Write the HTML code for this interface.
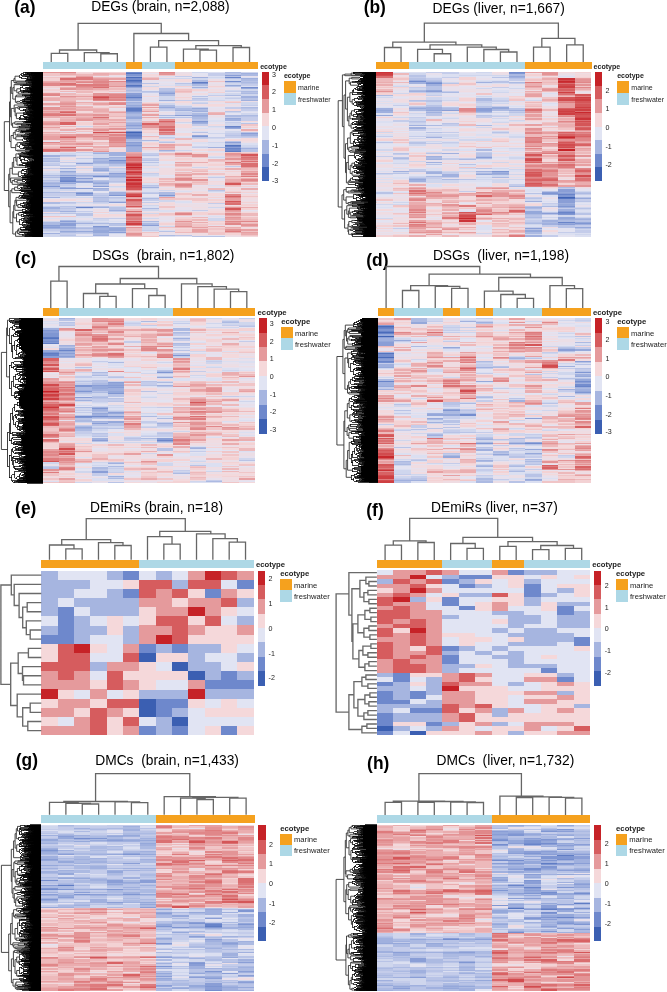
<!DOCTYPE html><html><head><meta charset="utf-8"><style>html,body{margin:0;padding:0;background:#fff}svg{display:block;will-change:transform}text{font-family:"Liberation Sans", sans-serif}</style></head><body><svg width="667" height="992" viewBox="0 0 667 992" shape-rendering="crispEdges"><rect width="667" height="992" fill="#fff"/><g id="pa"><text transform="translate(14.2 13.45) scale(1 1.035)" font-size="17.4" font-weight="bold">(a)</text><text x="91.2" y="10.8" font-size="13.8" xml:space="preserve">DEGs (brain, n=2,088)</text><path fill="none" stroke="#666" stroke-width="1.3" shape-rendering="auto" d="M51.26 62V53.3H67.78V62M100.83 62V53.75H117.35V62M84.31 62V52.6H109.09V53.75M59.52 53.3V50H96.7V52.6M150.4 62V47.2H166.92V62M199.97 62V50.1H216.49V62M183.45 62V49.1H208.23V50.1M233.02 62V47.5H249.54V62M195.84 49.1V45.6H241.28V47.5M158.66 47.2V40.7H218.56V45.6M133.88 62V33.5H188.61V40.7M78.11 50V23.3H161.24V33.5"/><rect x="43" y="62" width="16.82" height="7.1" fill="#add8e6"/><rect x="59.52" y="62" width="16.82" height="7.1" fill="#add8e6"/><rect x="76.05" y="62" width="16.82" height="7.1" fill="#add8e6"/><rect x="92.57" y="62" width="16.82" height="7.1" fill="#add8e6"/><rect x="109.09" y="62" width="16.82" height="7.1" fill="#add8e6"/><rect x="125.62" y="62" width="16.82" height="7.1" fill="#f5a11e"/><rect x="142.14" y="62" width="16.82" height="7.1" fill="#add8e6"/><rect x="158.66" y="62" width="16.82" height="7.1" fill="#add8e6"/><rect x="175.18" y="62" width="16.82" height="7.1" fill="#f5a11e"/><rect x="191.71" y="62" width="16.82" height="7.1" fill="#f5a11e"/><rect x="208.23" y="62" width="16.82" height="7.1" fill="#f5a11e"/><rect x="224.75" y="62" width="16.82" height="7.1" fill="#f5a11e"/><rect x="241.28" y="62" width="16.82" height="7.1" fill="#f5a11e"/><g transform="translate(43 72) scale(16.5231 1.2492)"><path fill="#4063b5" d="M5 48h1v1.15h-1z"/><path fill="#4a6bba" d="M5 4h1v1.15h-1zM5 6h1v1.15h-1z"/><path fill="#5474bf" d="M5 1h1v1.15h-1zM5 10h1v1.15h-1zM11 58h1v1.15h-1z"/><path fill="#5f7cc4" d="M5 7h1v1.15h-1zM5 20h1v1.15h-1zM5 29h1v2.15h-1zM5 50h1v1.15h-1zM9 8h1v1.15h-1zM11 63h1v1.15h-1z"/><path fill="#6984c9" d="M1 87h1v1.15h-1zM2 108h1v1.15h-1zM5 11h1v1.15h-1zM5 49h1v1.15h-1zM5 51h1v1.15h-1zM11 4h1v1.15h-1zM11 43h1v1.15h-1zM11 59h1v1.15h-1zM11 61h1v1.15h-1z"/><path fill="#748dce" d="M1 84h1v1.15h-1zM1 86h1v1.15h-1zM2 97h1v1.15h-1zM3 83h1v1.15h-1zM4 70h1v1.15h-1zM5 0h1v1.15h-1zM5 5h1v1.15h-1zM5 8h1v1.15h-1zM5 31h1v1.15h-1zM5 52h1v1.15h-1zM11 7h1v1.15h-1zM11 62h1v1.15h-1zM12 12h1v1.15h-1z"/><path fill="#7f96d2" d="M0 91h1v1.15h-1zM1 85h1v1.15h-1zM3 123h1v1.15h-1zM4 98h1v1.15h-1zM5 2h1v1.15h-1zM5 18h1v2.15h-1zM5 28h1v1.15h-1zM5 47h1v1.15h-1zM5 53h1v1.15h-1zM5 58h1v1.15h-1zM7 98h1v1.15h-1zM9 9h1v1.15h-1zM9 39h1v1.15h-1zM9 51h1v1.15h-1zM11 44h1v1.15h-1z"/><path fill="#8a9ed6" d="M0 122h1v1.15h-1zM0 124h1v1.15h-1zM1 82h1v1.15h-1zM1 93h1v1.15h-1zM1 119h1v1.15h-1zM1 121h1v2.15h-1zM2 73h1v1.15h-1zM2 85h1v1.15h-1zM2 87h1v1.15h-1zM2 93h1v1.15h-1zM3 91h1v1.15h-1zM4 81h1v1.15h-1zM4 104h1v1.15h-1zM4 128h1v1.15h-1zM5 9h1v1.15h-1zM5 17h1v1.15h-1zM5 21h1v1.15h-1zM5 42h1v1.15h-1zM5 56h1v1.15h-1zM6 122h1v1.15h-1zM7 17h1v1.15h-1zM8 34h1v1.15h-1zM11 2h1v1.15h-1zM11 56h1v1.15h-1zM11 60h1v1.15h-1zM12 49h1v1.15h-1z"/><path fill="#95a8da" d="M0 123h1v1.15h-1zM1 79h1v1.15h-1zM1 89h1v1.15h-1zM1 124h1v1.15h-1zM1 127h1v1.15h-1zM2 88h1v1.15h-1zM2 96h1v1.15h-1zM2 98h1v1.15h-1zM2 127h1v1.15h-1zM3 69h1v1.15h-1zM3 78h1v1.15h-1zM3 89h1v1.15h-1zM3 124h1v1.15h-1zM3 126h1v3.15h-1zM4 71h1v2.15h-1zM4 83h1v1.15h-1zM4 125h1v2.15h-1zM5 3h1v1.15h-1zM5 12h1v1.15h-1zM5 22h1v1.15h-1zM5 26h1v1.15h-1zM5 32h1v1.15h-1zM5 36h1v2.15h-1zM5 45h1v1.15h-1zM5 57h1v1.15h-1zM5 59h1v1.15h-1zM7 28h1v1.15h-1zM9 29h1v1.15h-1zM9 34h1v1.15h-1zM9 40h1v1.15h-1zM9 50h1v1.15h-1zM11 10h1v1.15h-1zM11 37h1v1.15h-1zM11 45h1v1.15h-1zM12 13h1v1.15h-1z"/><path fill="#a0b0de" d="M0 66h1v2.15h-1zM0 89h1v1.15h-1zM0 100h1v1.15h-1zM0 108h1v2.15h-1zM0 125h1v1.15h-1zM0 129h1v1.15h-1zM1 77h1v1.15h-1zM1 88h1v1.15h-1zM1 92h1v1.15h-1zM1 111h1v1.15h-1zM1 125h1v1.15h-1zM2 82h1v1.15h-1zM2 121h1v1.15h-1zM3 65h1v1.15h-1zM3 71h1v2.15h-1zM3 77h1v1.15h-1zM3 82h1v1.15h-1zM3 88h1v1.15h-1zM3 93h1v1.15h-1zM3 108h1v1.15h-1zM3 125h1v1.15h-1zM3 130h1v1.15h-1zM4 64h1v3.15h-1zM4 68h1v1.15h-1zM4 73h1v1.15h-1zM4 82h1v1.15h-1zM4 96h1v2.15h-1zM4 110h1v1.15h-1zM4 124h1v1.15h-1zM5 24h1v1.15h-1zM5 27h1v1.15h-1zM5 33h1v1.15h-1zM5 35h1v1.15h-1zM5 41h1v1.15h-1zM5 43h1v1.15h-1zM5 60h1v4.15h-1zM6 92h1v1.15h-1zM7 16h1v1.15h-1zM7 22h1v1.15h-1zM7 62h1v1.15h-1zM8 30h1v1.15h-1zM9 4h1v1.15h-1zM9 12h1v1.15h-1zM9 31h1v1.15h-1zM9 35h1v1.15h-1zM9 41h1v1.15h-1zM10 60h1v1.15h-1zM11 38h1v1.15h-1zM12 1h1v1.15h-1zM12 5h1v1.15h-1zM12 19h1v2.15h-1zM12 22h1v1.15h-1zM12 50h1v1.15h-1zM12 61h1v1.15h-1z"/><path fill="#acbae2" d="M0 69h1v1.15h-1zM0 71h1v1.15h-1zM0 82h1v1.15h-1zM0 84h1v1.15h-1zM0 88h1v1.15h-1zM0 90h1v1.15h-1zM0 96h1v1.15h-1zM0 104h1v2.15h-1zM0 120h1v2.15h-1zM1 66h1v1.15h-1zM1 80h1v1.15h-1zM1 83h1v1.15h-1zM1 96h1v1.15h-1zM1 118h1v1.15h-1zM1 120h1v1.15h-1zM1 123h1v1.15h-1zM1 128h1v1.15h-1zM2 83h1v1.15h-1zM2 125h1v1.15h-1zM3 70h1v1.15h-1zM3 73h1v1.15h-1zM3 87h1v1.15h-1zM3 94h1v1.15h-1zM3 100h1v1.15h-1zM3 103h1v1.15h-1zM3 121h1v1.15h-1zM3 129h1v1.15h-1zM4 69h1v1.15h-1zM4 84h1v1.15h-1zM4 121h1v1.15h-1zM4 127h1v1.15h-1zM5 14h1v1.15h-1zM5 25h1v1.15h-1zM5 34h1v1.15h-1zM5 40h1v1.15h-1zM5 44h1v1.15h-1zM5 54h1v1.15h-1zM6 54h1v1.15h-1zM6 101h1v1.15h-1zM6 109h1v1.15h-1zM6 119h1v1.15h-1zM6 121h1v1.15h-1zM7 15h1v1.15h-1zM7 18h1v1.15h-1zM7 26h1v2.15h-1zM7 34h1v1.15h-1zM7 36h1v1.15h-1zM7 96h1v2.15h-1zM7 130h1v1.15h-1zM8 29h1v1.15h-1zM9 6h1v2.15h-1zM9 10h1v1.15h-1zM9 30h1v1.15h-1zM9 33h1v1.15h-1zM9 36h1v2.15h-1zM11 0h1v1.15h-1zM11 18h1v1.15h-1zM11 34h1v2.15h-1zM11 57h1v1.15h-1zM12 2h1v1.15h-1zM12 6h1v1.15h-1zM12 8h1v1.15h-1zM12 15h1v1.15h-1zM12 17h1v1.15h-1zM12 28h1v1.15h-1zM12 34h1v1.15h-1z"/><path fill="#b8c3e6" d="M0 70h1v1.15h-1zM0 74h1v1.15h-1zM0 86h1v1.15h-1zM0 92h1v2.15h-1zM0 110h1v2.15h-1zM1 81h1v1.15h-1zM1 104h1v1.15h-1zM1 107h1v1.15h-1zM1 109h1v1.15h-1zM1 113h1v1.15h-1zM1 126h1v1.15h-1zM1 130h1v1.15h-1zM2 86h1v1.15h-1zM2 107h1v1.15h-1zM2 113h1v2.15h-1zM2 124h1v1.15h-1zM2 128h1v1.15h-1zM3 64h1v1.15h-1zM3 79h1v1.15h-1zM3 86h1v1.15h-1zM3 90h1v1.15h-1zM3 98h1v1.15h-1zM3 101h1v2.15h-1zM3 107h1v1.15h-1zM4 74h1v1.15h-1zM4 87h1v1.15h-1zM4 100h1v1.15h-1zM4 103h1v1.15h-1zM4 108h1v2.15h-1zM4 122h1v1.15h-1zM5 13h1v1.15h-1zM5 15h1v1.15h-1zM5 38h1v1.15h-1zM5 55h1v1.15h-1zM6 9h1v1.15h-1zM6 15h1v1.15h-1zM6 66h1v1.15h-1zM6 70h1v1.15h-1zM6 72h1v1.15h-1zM6 90h1v1.15h-1zM6 97h1v1.15h-1zM7 13h1v2.15h-1zM7 29h1v1.15h-1zM7 56h1v1.15h-1zM7 99h1v1.15h-1zM7 127h1v1.15h-1zM8 9h1v1.15h-1zM8 36h1v1.15h-1zM8 130h1v1.15h-1zM9 19h1v1.15h-1zM9 21h1v1.15h-1zM9 38h1v1.15h-1zM9 48h1v1.15h-1zM9 52h1v1.15h-1zM9 131h1v1.15h-1zM10 94h1v1.15h-1zM10 131h1v1.15h-1zM11 1h1v1.15h-1zM11 3h1v1.15h-1zM11 5h1v1.15h-1zM11 8h1v1.15h-1zM11 11h1v1.15h-1zM11 31h1v1.15h-1zM11 50h1v1.15h-1zM11 55h1v1.15h-1zM12 7h1v1.15h-1zM12 9h1v1.15h-1zM12 16h1v1.15h-1zM12 21h1v1.15h-1zM12 29h1v1.15h-1zM12 35h1v1.15h-1zM12 41h1v1.15h-1zM12 48h1v1.15h-1zM12 51h1v1.15h-1zM12 62h1v2.15h-1z"/><path fill="#c4ccea" d="M0 73h1v1.15h-1zM0 77h1v1.15h-1zM0 83h1v1.15h-1zM0 87h1v1.15h-1zM0 97h1v2.15h-1zM0 107h1v1.15h-1zM0 113h1v1.15h-1zM0 126h1v1.15h-1zM1 67h1v1.15h-1zM1 72h1v1.15h-1zM1 74h1v2.15h-1zM1 90h1v1.15h-1zM1 97h1v2.15h-1zM1 105h1v1.15h-1zM1 108h1v1.15h-1zM1 110h1v1.15h-1zM1 129h1v1.15h-1zM2 64h1v1.15h-1zM2 69h1v1.15h-1zM2 72h1v1.15h-1zM2 74h1v1.15h-1zM2 81h1v1.15h-1zM2 84h1v1.15h-1zM2 111h1v1.15h-1zM2 120h1v1.15h-1zM2 126h1v1.15h-1zM2 129h1v1.15h-1zM3 75h1v2.15h-1zM3 81h1v1.15h-1zM3 84h1v1.15h-1zM3 97h1v1.15h-1zM3 99h1v1.15h-1zM3 104h1v1.15h-1zM3 117h1v1.15h-1zM4 77h1v1.15h-1zM4 79h1v2.15h-1zM4 85h1v2.15h-1zM4 88h1v1.15h-1zM4 101h1v1.15h-1zM4 111h1v1.15h-1zM4 117h1v1.15h-1zM5 16h1v1.15h-1zM5 23h1v1.15h-1zM5 39h1v1.15h-1zM5 46h1v1.15h-1zM6 16h1v1.15h-1zM6 65h1v1.15h-1zM6 69h1v1.15h-1zM6 81h1v1.15h-1zM6 91h1v1.15h-1zM6 96h1v1.15h-1zM6 102h1v1.15h-1zM6 104h1v1.15h-1zM6 126h1v1.15h-1zM7 30h1v1.15h-1zM7 52h1v1.15h-1zM7 63h1v1.15h-1zM8 3h1v1.15h-1zM8 22h1v1.15h-1zM8 27h1v2.15h-1zM8 32h1v2.15h-1zM9 22h1v1.15h-1zM9 25h1v1.15h-1zM9 28h1v1.15h-1zM9 42h1v1.15h-1zM9 53h1v1.15h-1zM9 60h1v1.15h-1zM9 110h1v1.15h-1zM10 1h1v2.15h-1zM10 18h1v1.15h-1zM10 52h1v1.15h-1zM10 84h1v1.15h-1zM10 105h1v1.15h-1zM11 15h1v1.15h-1zM11 21h1v1.15h-1zM11 28h1v2.15h-1zM11 36h1v1.15h-1zM11 40h1v1.15h-1zM11 49h1v1.15h-1zM11 51h1v2.15h-1zM11 75h1v1.15h-1zM12 10h1v1.15h-1zM12 26h1v1.15h-1zM12 30h1v1.15h-1zM12 36h1v3.15h-1zM12 52h1v1.15h-1zM12 60h1v1.15h-1z"/><path fill="#cfd6ed" d="M0 68h1v1.15h-1zM0 72h1v1.15h-1zM0 81h1v1.15h-1zM0 85h1v1.15h-1zM0 94h1v2.15h-1zM0 99h1v1.15h-1zM0 119h1v1.15h-1zM0 127h1v1.15h-1zM0 130h1v2.15h-1zM1 65h1v1.15h-1zM1 78h1v1.15h-1zM1 91h1v1.15h-1zM1 94h1v1.15h-1zM1 99h1v2.15h-1zM1 112h1v1.15h-1zM1 131h1v1.15h-1zM2 43h1v1.15h-1zM2 66h1v1.15h-1zM2 77h1v1.15h-1zM2 100h1v1.15h-1zM2 104h1v1.15h-1zM2 109h1v1.15h-1zM2 119h1v1.15h-1zM2 122h1v1.15h-1zM2 131h1v1.15h-1zM3 66h1v3.15h-1zM3 74h1v1.15h-1zM3 105h1v1.15h-1zM3 118h1v1.15h-1zM3 120h1v1.15h-1zM3 122h1v1.15h-1zM4 67h1v1.15h-1zM4 75h1v1.15h-1zM4 78h1v1.15h-1zM4 91h1v1.15h-1zM4 95h1v1.15h-1zM4 102h1v1.15h-1zM4 107h1v1.15h-1zM4 129h1v1.15h-1zM6 11h1v1.15h-1zM6 74h1v1.15h-1zM6 82h1v1.15h-1zM6 93h1v1.15h-1zM6 100h1v1.15h-1zM6 106h1v1.15h-1zM6 110h1v1.15h-1zM6 113h1v1.15h-1zM6 117h1v1.15h-1zM6 120h1v1.15h-1zM6 123h1v3.15h-1zM7 5h1v1.15h-1zM7 19h1v3.15h-1zM7 25h1v1.15h-1zM7 50h1v1.15h-1zM7 53h1v1.15h-1zM7 55h1v1.15h-1zM7 94h1v1.15h-1zM7 102h1v2.15h-1zM7 123h1v1.15h-1zM8 5h1v1.15h-1zM8 10h1v1.15h-1zM8 31h1v1.15h-1zM8 40h1v1.15h-1zM8 62h1v1.15h-1zM9 0h1v1.15h-1zM9 5h1v1.15h-1zM9 11h1v1.15h-1zM9 13h1v1.15h-1zM9 24h1v1.15h-1zM9 32h1v1.15h-1zM9 59h1v1.15h-1zM9 76h1v1.15h-1zM10 4h1v1.15h-1zM10 22h1v1.15h-1zM10 43h1v1.15h-1zM10 49h1v1.15h-1zM10 53h1v1.15h-1zM10 56h1v1.15h-1zM10 68h1v1.15h-1zM10 95h1v1.15h-1zM10 108h1v1.15h-1zM10 117h1v2.15h-1zM11 6h1v1.15h-1zM11 9h1v1.15h-1zM11 14h1v1.15h-1zM11 17h1v1.15h-1zM11 20h1v1.15h-1zM11 32h1v1.15h-1zM11 41h1v2.15h-1zM11 47h1v2.15h-1zM12 0h1v1.15h-1zM12 14h1v1.15h-1zM12 18h1v1.15h-1zM12 24h1v2.15h-1zM12 33h1v1.15h-1zM12 58h1v2.15h-1z"/><path fill="#dbdff1" d="M0 65h1v1.15h-1zM0 79h1v2.15h-1zM0 106h1v1.15h-1zM0 114h1v1.15h-1zM0 117h1v1.15h-1zM0 128h1v1.15h-1zM1 64h1v1.15h-1zM1 70h1v1.15h-1zM1 106h1v1.15h-1zM1 116h1v2.15h-1zM2 65h1v1.15h-1zM2 70h1v2.15h-1zM2 89h1v2.15h-1zM2 92h1v1.15h-1zM2 94h1v2.15h-1zM2 105h1v1.15h-1zM2 112h1v1.15h-1zM2 115h1v2.15h-1zM2 118h1v1.15h-1zM2 123h1v1.15h-1zM3 119h1v1.15h-1zM3 131h1v1.15h-1zM4 92h1v1.15h-1zM4 99h1v1.15h-1zM4 113h1v1.15h-1zM4 119h1v1.15h-1zM4 123h1v1.15h-1zM6 55h1v1.15h-1zM6 67h1v1.15h-1zM6 71h1v1.15h-1zM6 73h1v1.15h-1zM6 77h1v1.15h-1zM6 83h1v1.15h-1zM6 89h1v1.15h-1zM6 94h1v2.15h-1zM6 107h1v2.15h-1zM6 127h1v1.15h-1zM7 3h1v1.15h-1zM7 10h1v1.15h-1zM7 23h1v1.15h-1zM7 35h1v1.15h-1zM7 37h1v1.15h-1zM7 51h1v1.15h-1zM7 110h1v2.15h-1zM7 126h1v1.15h-1zM7 131h1v1.15h-1zM8 26h1v1.15h-1zM8 35h1v1.15h-1zM8 52h1v1.15h-1zM8 95h1v1.15h-1zM8 103h1v2.15h-1zM8 110h1v1.15h-1zM9 20h1v1.15h-1zM9 45h1v1.15h-1zM9 47h1v1.15h-1zM9 56h1v2.15h-1zM10 0h1v1.15h-1zM10 3h1v1.15h-1zM10 5h1v1.15h-1zM10 17h1v1.15h-1zM10 20h1v2.15h-1zM10 38h1v2.15h-1zM10 44h1v1.15h-1zM10 57h1v3.15h-1zM10 63h1v1.15h-1zM10 67h1v1.15h-1zM10 83h1v1.15h-1zM10 90h1v1.15h-1zM10 115h1v1.15h-1zM11 22h1v1.15h-1zM11 25h1v1.15h-1zM11 39h1v1.15h-1zM12 4h1v1.15h-1zM12 11h1v1.15h-1zM12 31h1v1.15h-1zM12 57h1v1.15h-1z"/><path fill="#e3e3f1" d="M0 55h1v1.15h-1zM0 64h1v1.15h-1zM0 75h1v1.15h-1zM0 101h1v1.15h-1zM1 73h1v1.15h-1zM1 76h1v1.15h-1zM1 103h1v1.15h-1zM1 114h1v1.15h-1zM2 79h1v1.15h-1zM2 99h1v1.15h-1zM2 102h1v1.15h-1zM2 110h1v1.15h-1zM2 130h1v1.15h-1zM3 85h1v1.15h-1zM3 92h1v1.15h-1zM3 95h1v2.15h-1zM3 109h1v1.15h-1zM3 113h1v1.15h-1zM4 89h1v1.15h-1zM4 105h1v1.15h-1zM4 118h1v1.15h-1zM4 120h1v1.15h-1zM4 130h1v2.15h-1zM6 14h1v1.15h-1zM6 17h1v1.15h-1zM6 20h1v1.15h-1zM6 23h1v1.15h-1zM6 50h1v1.15h-1zM6 64h1v1.15h-1zM6 68h1v1.15h-1zM6 78h1v1.15h-1zM6 98h1v2.15h-1zM6 103h1v1.15h-1zM7 8h1v1.15h-1zM7 31h1v1.15h-1zM7 71h1v3.15h-1zM7 75h1v1.15h-1zM7 82h1v1.15h-1zM7 118h1v1.15h-1zM8 4h1v1.15h-1zM8 41h1v1.15h-1zM8 47h1v2.15h-1zM8 51h1v1.15h-1zM8 131h1v1.15h-1zM9 1h1v2.15h-1zM9 16h1v1.15h-1zM9 18h1v1.15h-1zM9 44h1v1.15h-1zM9 58h1v1.15h-1zM9 61h1v1.15h-1zM9 63h1v1.15h-1zM10 28h1v1.15h-1zM10 37h1v1.15h-1zM10 41h1v1.15h-1zM10 46h1v3.15h-1zM10 50h1v2.15h-1zM10 54h1v1.15h-1zM10 69h1v1.15h-1zM10 78h1v1.15h-1zM10 92h1v1.15h-1zM10 96h1v1.15h-1zM10 130h1v1.15h-1zM11 12h1v1.15h-1zM11 16h1v1.15h-1zM11 19h1v1.15h-1zM11 33h1v1.15h-1zM11 46h1v1.15h-1zM11 53h1v1.15h-1zM12 27h1v1.15h-1zM12 32h1v1.15h-1zM12 40h1v1.15h-1zM12 45h1v1.15h-1zM12 110h1v1.15h-1z"/><path fill="#e7e0ec" d="M0 76h1v1.15h-1zM1 16h1v1.15h-1zM1 47h1v1.15h-1zM1 95h1v1.15h-1zM1 101h1v1.15h-1zM2 48h1v1.15h-1zM2 67h1v2.15h-1zM2 80h1v1.15h-1zM2 91h1v1.15h-1zM2 106h1v1.15h-1zM2 117h1v1.15h-1zM3 80h1v1.15h-1zM3 106h1v1.15h-1zM3 111h1v1.15h-1zM4 3h1v1.15h-1zM4 16h1v1.15h-1zM4 29h1v1.15h-1zM4 61h1v1.15h-1zM4 112h1v1.15h-1zM4 116h1v1.15h-1zM6 1h1v1.15h-1zM6 6h1v3.15h-1zM6 18h1v1.15h-1zM6 21h1v2.15h-1zM6 63h1v1.15h-1zM6 79h1v1.15h-1zM6 111h1v1.15h-1zM6 116h1v1.15h-1zM7 7h1v1.15h-1zM7 9h1v1.15h-1zM7 12h1v1.15h-1zM7 33h1v1.15h-1zM7 76h1v1.15h-1zM7 83h1v2.15h-1zM7 92h1v1.15h-1zM7 95h1v1.15h-1zM7 115h1v3.15h-1zM7 119h1v1.15h-1zM7 129h1v1.15h-1zM8 8h1v1.15h-1zM8 12h1v1.15h-1zM8 37h1v1.15h-1zM8 45h1v2.15h-1zM8 56h1v1.15h-1zM8 63h1v1.15h-1zM8 94h1v1.15h-1zM8 105h1v1.15h-1zM8 108h1v2.15h-1zM8 115h1v1.15h-1zM9 3h1v1.15h-1zM9 23h1v1.15h-1zM9 27h1v1.15h-1zM9 49h1v1.15h-1zM9 90h1v1.15h-1zM9 94h1v1.15h-1zM9 105h1v1.15h-1zM9 111h1v1.15h-1zM9 115h1v1.15h-1zM10 9h1v1.15h-1zM10 13h1v1.15h-1zM10 25h1v1.15h-1zM10 29h1v3.15h-1zM10 34h1v1.15h-1zM10 36h1v1.15h-1zM10 40h1v1.15h-1zM10 45h1v1.15h-1zM10 55h1v1.15h-1zM10 64h1v1.15h-1zM10 85h1v2.15h-1zM10 101h1v1.15h-1zM10 106h1v1.15h-1zM10 109h1v1.15h-1zM10 114h1v1.15h-1zM10 116h1v1.15h-1zM10 122h1v1.15h-1zM11 13h1v1.15h-1zM11 27h1v1.15h-1zM12 3h1v1.15h-1zM12 90h1v1.15h-1zM12 92h1v1.15h-1zM12 97h1v1.15h-1z"/><path fill="#ebdee6" d="M0 13h1v1.15h-1zM0 23h1v1.15h-1zM0 27h1v1.15h-1zM0 78h1v1.15h-1zM0 118h1v1.15h-1zM1 68h1v1.15h-1zM1 71h1v1.15h-1zM2 23h1v1.15h-1zM2 26h1v1.15h-1zM2 75h1v1.15h-1zM2 78h1v1.15h-1zM2 101h1v1.15h-1zM3 3h1v1.15h-1zM3 110h1v1.15h-1zM3 116h1v1.15h-1zM4 30h1v1.15h-1zM4 93h1v2.15h-1zM6 10h1v1.15h-1zM6 32h1v1.15h-1zM6 35h1v1.15h-1zM6 38h1v1.15h-1zM6 49h1v1.15h-1zM6 59h1v1.15h-1zM6 62h1v1.15h-1zM6 75h1v2.15h-1zM6 84h1v1.15h-1zM6 105h1v1.15h-1zM6 118h1v1.15h-1zM7 4h1v1.15h-1zM7 6h1v1.15h-1zM7 24h1v1.15h-1zM7 32h1v1.15h-1zM7 64h1v1.15h-1zM7 69h1v1.15h-1zM7 112h1v1.15h-1zM7 122h1v1.15h-1zM7 128h1v1.15h-1zM8 0h1v2.15h-1zM8 19h1v1.15h-1zM8 25h1v1.15h-1zM8 54h1v2.15h-1zM8 59h1v3.15h-1zM8 71h1v1.15h-1zM8 79h1v1.15h-1zM8 96h1v1.15h-1zM8 102h1v1.15h-1zM8 106h1v1.15h-1zM8 111h1v1.15h-1zM9 15h1v1.15h-1zM9 43h1v1.15h-1zM9 46h1v1.15h-1zM9 69h1v1.15h-1zM9 75h1v1.15h-1zM9 91h1v1.15h-1zM9 93h1v1.15h-1zM9 106h1v2.15h-1zM9 109h1v1.15h-1zM9 114h1v1.15h-1zM9 130h1v1.15h-1zM10 6h1v1.15h-1zM10 8h1v1.15h-1zM10 10h1v1.15h-1zM10 15h1v1.15h-1zM10 19h1v1.15h-1zM10 24h1v1.15h-1zM10 35h1v1.15h-1zM10 61h1v1.15h-1zM10 75h1v1.15h-1zM10 80h1v1.15h-1zM10 91h1v1.15h-1zM10 99h1v1.15h-1zM10 107h1v1.15h-1zM11 26h1v1.15h-1zM11 76h1v1.15h-1zM11 78h1v1.15h-1zM11 92h1v1.15h-1zM11 131h1v1.15h-1zM12 23h1v1.15h-1zM12 56h1v1.15h-1zM12 94h1v1.15h-1zM12 102h1v1.15h-1zM12 105h1v1.15h-1zM12 111h1v1.15h-1z"/><path fill="#efdce2" d="M0 3h1v1.15h-1zM0 15h1v1.15h-1zM0 102h1v1.15h-1zM0 112h1v1.15h-1zM0 116h1v1.15h-1zM1 42h1v1.15h-1zM1 49h1v1.15h-1zM1 69h1v1.15h-1zM2 39h1v1.15h-1zM2 42h1v1.15h-1zM2 44h1v1.15h-1zM2 60h1v1.15h-1zM2 103h1v1.15h-1zM3 23h1v1.15h-1zM3 27h1v1.15h-1zM3 55h1v1.15h-1zM3 58h1v1.15h-1zM4 2h1v1.15h-1zM4 26h1v1.15h-1zM4 76h1v1.15h-1zM4 90h1v1.15h-1zM4 106h1v1.15h-1zM4 115h1v1.15h-1zM6 3h1v1.15h-1zM6 13h1v1.15h-1zM6 53h1v1.15h-1zM6 80h1v1.15h-1zM6 86h1v2.15h-1zM6 112h1v1.15h-1zM7 11h1v1.15h-1zM7 67h1v2.15h-1zM7 74h1v1.15h-1zM7 77h1v5.15h-1zM7 93h1v1.15h-1zM7 104h1v1.15h-1zM7 106h1v1.15h-1zM7 109h1v1.15h-1zM7 120h1v1.15h-1zM7 125h1v1.15h-1zM8 2h1v1.15h-1zM8 17h1v2.15h-1zM8 21h1v1.15h-1zM8 39h1v1.15h-1zM8 50h1v1.15h-1zM8 68h1v1.15h-1zM8 76h1v1.15h-1zM8 99h1v1.15h-1zM8 107h1v1.15h-1zM8 129h1v1.15h-1zM9 17h1v1.15h-1zM9 26h1v1.15h-1zM9 54h1v1.15h-1zM9 77h1v1.15h-1zM9 83h1v1.15h-1zM9 92h1v1.15h-1zM9 95h1v1.15h-1zM9 97h1v1.15h-1zM9 99h1v2.15h-1zM9 108h1v1.15h-1zM9 129h1v1.15h-1zM10 12h1v1.15h-1zM10 14h1v1.15h-1zM10 27h1v1.15h-1zM10 42h1v1.15h-1zM10 66h1v1.15h-1zM10 72h1v1.15h-1zM10 76h1v1.15h-1zM10 82h1v1.15h-1zM10 88h1v2.15h-1zM10 103h1v1.15h-1zM10 110h1v1.15h-1zM11 80h1v2.15h-1zM11 94h1v1.15h-1zM11 97h1v1.15h-1zM11 106h1v1.15h-1zM11 122h1v1.15h-1zM11 130h1v1.15h-1zM12 55h1v1.15h-1zM12 95h1v1.15h-1zM12 101h1v1.15h-1zM12 103h1v1.15h-1zM12 124h1v1.15h-1z"/><path fill="#f3d9dc" d="M0 19h1v1.15h-1zM0 24h1v1.15h-1zM0 37h1v1.15h-1zM0 46h1v2.15h-1zM0 54h1v1.15h-1zM0 103h1v1.15h-1zM1 3h1v1.15h-1zM1 14h1v1.15h-1zM1 44h1v1.15h-1zM1 102h1v1.15h-1zM2 0h1v1.15h-1zM2 17h1v1.15h-1zM2 22h1v1.15h-1zM2 31h1v2.15h-1zM2 46h1v1.15h-1zM2 54h1v1.15h-1zM2 76h1v1.15h-1zM3 16h1v1.15h-1zM3 54h1v1.15h-1zM3 114h1v2.15h-1zM4 6h1v1.15h-1zM4 23h1v1.15h-1zM4 62h1v2.15h-1zM4 114h1v1.15h-1zM5 109h1v1.15h-1zM5 123h1v1.15h-1zM6 0h1v1.15h-1zM6 2h1v1.15h-1zM6 12h1v1.15h-1zM6 19h1v1.15h-1zM6 24h1v1.15h-1zM6 27h1v1.15h-1zM6 29h1v1.15h-1zM6 37h1v1.15h-1zM6 46h1v2.15h-1zM6 52h1v1.15h-1zM6 56h1v1.15h-1zM6 58h1v1.15h-1zM6 85h1v1.15h-1zM6 115h1v1.15h-1zM6 129h1v2.15h-1zM7 54h1v1.15h-1zM7 57h1v1.15h-1zM7 70h1v1.15h-1zM7 105h1v1.15h-1zM8 6h1v2.15h-1zM8 13h1v1.15h-1zM8 23h1v2.15h-1zM8 38h1v1.15h-1zM8 42h1v3.15h-1zM8 49h1v1.15h-1zM8 57h1v1.15h-1zM8 70h1v1.15h-1zM8 93h1v1.15h-1zM8 98h1v1.15h-1zM8 100h1v1.15h-1zM8 125h1v1.15h-1zM9 55h1v1.15h-1zM9 62h1v1.15h-1zM9 64h1v1.15h-1zM9 70h1v2.15h-1zM9 73h1v2.15h-1zM9 80h1v1.15h-1zM9 82h1v1.15h-1zM9 85h1v1.15h-1zM9 96h1v1.15h-1zM9 103h1v2.15h-1zM9 117h1v1.15h-1zM9 119h1v1.15h-1zM10 23h1v1.15h-1zM10 26h1v1.15h-1zM10 65h1v1.15h-1zM10 73h1v1.15h-1zM10 79h1v1.15h-1zM10 87h1v1.15h-1zM10 97h1v2.15h-1zM10 111h1v2.15h-1zM10 120h1v1.15h-1zM11 30h1v1.15h-1zM11 54h1v1.15h-1zM11 82h1v1.15h-1zM11 93h1v1.15h-1zM11 123h1v1.15h-1zM12 39h1v1.15h-1zM12 43h1v1.15h-1zM12 47h1v1.15h-1zM12 53h1v2.15h-1zM12 98h1v1.15h-1zM12 100h1v1.15h-1zM12 107h1v1.15h-1zM12 112h1v1.15h-1zM12 115h1v1.15h-1zM12 125h1v1.15h-1zM12 131h1v1.15h-1z"/><path fill="#f3d2d4" d="M0 5h1v2.15h-1zM0 11h1v2.15h-1zM0 14h1v1.15h-1zM0 16h1v1.15h-1zM0 38h1v1.15h-1zM0 58h1v1.15h-1zM1 11h1v1.15h-1zM1 45h1v1.15h-1zM2 1h1v1.15h-1zM2 40h1v2.15h-1zM2 49h1v1.15h-1zM2 61h1v1.15h-1zM2 63h1v1.15h-1zM3 0h1v1.15h-1zM3 15h1v1.15h-1zM3 28h1v1.15h-1zM3 42h1v1.15h-1zM3 112h1v1.15h-1zM4 0h1v1.15h-1zM4 14h1v1.15h-1zM4 27h1v1.15h-1zM4 36h1v2.15h-1zM4 46h1v1.15h-1zM4 60h1v1.15h-1zM6 33h1v1.15h-1zM6 48h1v1.15h-1zM6 57h1v1.15h-1zM6 61h1v1.15h-1zM6 88h1v1.15h-1zM6 114h1v1.15h-1zM7 66h1v1.15h-1zM7 86h1v1.15h-1zM7 88h1v1.15h-1zM7 91h1v1.15h-1zM7 114h1v1.15h-1zM7 121h1v1.15h-1zM8 11h1v1.15h-1zM8 20h1v1.15h-1zM8 69h1v1.15h-1zM8 77h1v1.15h-1zM8 87h1v2.15h-1zM8 116h1v2.15h-1zM8 126h1v2.15h-1zM9 14h1v1.15h-1zM9 65h1v1.15h-1zM9 112h1v2.15h-1zM9 121h1v1.15h-1zM10 11h1v1.15h-1zM10 16h1v1.15h-1zM10 62h1v1.15h-1zM10 74h1v1.15h-1zM10 77h1v1.15h-1zM10 100h1v1.15h-1zM10 102h1v1.15h-1zM10 104h1v1.15h-1zM10 119h1v1.15h-1zM10 121h1v1.15h-1zM10 124h1v1.15h-1zM10 126h1v2.15h-1zM11 23h1v1.15h-1zM11 74h1v1.15h-1zM11 79h1v1.15h-1zM11 95h1v1.15h-1zM11 129h1v1.15h-1zM12 44h1v1.15h-1zM12 64h1v1.15h-1zM12 84h1v1.15h-1zM12 88h1v1.15h-1zM12 91h1v1.15h-1zM12 96h1v1.15h-1zM12 104h1v1.15h-1zM12 106h1v1.15h-1zM12 109h1v1.15h-1z"/><path fill="#f0c5c7" d="M0 1h1v2.15h-1zM0 4h1v1.15h-1zM0 26h1v1.15h-1zM0 43h1v1.15h-1zM0 45h1v1.15h-1zM0 49h1v1.15h-1zM0 59h1v1.15h-1zM0 115h1v1.15h-1zM1 2h1v1.15h-1zM1 18h1v1.15h-1zM1 35h1v1.15h-1zM1 58h1v1.15h-1zM1 115h1v1.15h-1zM2 9h1v1.15h-1zM2 14h1v1.15h-1zM2 18h1v1.15h-1zM2 20h1v1.15h-1zM2 25h1v1.15h-1zM2 47h1v1.15h-1zM2 53h1v1.15h-1zM2 55h1v1.15h-1zM2 58h1v1.15h-1zM3 14h1v1.15h-1zM3 26h1v1.15h-1zM3 33h1v1.15h-1zM3 44h1v1.15h-1zM3 57h1v1.15h-1zM3 61h1v1.15h-1zM4 4h1v1.15h-1zM4 12h1v1.15h-1zM4 15h1v1.15h-1zM4 28h1v1.15h-1zM4 33h1v2.15h-1zM4 39h1v1.15h-1zM4 41h1v2.15h-1zM4 44h1v1.15h-1zM5 95h1v1.15h-1zM5 127h1v1.15h-1zM5 131h1v1.15h-1zM6 4h1v1.15h-1zM6 25h1v1.15h-1zM6 30h1v1.15h-1zM6 45h1v1.15h-1zM6 128h1v1.15h-1zM6 131h1v1.15h-1zM7 2h1v1.15h-1zM7 101h1v1.15h-1zM7 107h1v2.15h-1zM7 113h1v1.15h-1zM7 124h1v1.15h-1zM8 14h1v1.15h-1zM8 16h1v1.15h-1zM8 64h1v1.15h-1zM8 73h1v1.15h-1zM8 75h1v1.15h-1zM8 78h1v1.15h-1zM8 81h1v1.15h-1zM8 83h1v1.15h-1zM8 97h1v1.15h-1zM8 101h1v1.15h-1zM8 114h1v1.15h-1zM8 118h1v1.15h-1zM9 68h1v1.15h-1zM9 78h1v1.15h-1zM9 84h1v1.15h-1zM9 87h1v1.15h-1zM9 89h1v1.15h-1zM9 101h1v2.15h-1zM9 122h1v2.15h-1zM9 125h1v1.15h-1zM10 7h1v1.15h-1zM10 71h1v1.15h-1zM10 81h1v1.15h-1zM10 113h1v1.15h-1zM10 125h1v1.15h-1zM10 128h1v2.15h-1zM11 24h1v1.15h-1zM11 64h1v1.15h-1zM11 70h1v2.15h-1zM11 84h1v2.15h-1zM11 91h1v1.15h-1zM11 107h1v1.15h-1zM12 42h1v1.15h-1zM12 78h1v1.15h-1zM12 99h1v1.15h-1zM12 116h1v2.15h-1zM12 120h1v1.15h-1zM12 127h1v1.15h-1zM12 130h1v1.15h-1z"/><path fill="#edb9bb" d="M0 20h1v1.15h-1zM0 30h1v1.15h-1zM0 42h1v1.15h-1zM0 60h1v1.15h-1zM1 15h1v1.15h-1zM1 17h1v1.15h-1zM1 21h1v2.15h-1zM1 30h1v1.15h-1zM1 37h1v1.15h-1zM1 43h1v1.15h-1zM1 48h1v1.15h-1zM1 54h1v1.15h-1zM1 56h1v1.15h-1zM2 2h1v1.15h-1zM2 6h1v1.15h-1zM2 15h1v2.15h-1zM2 21h1v1.15h-1zM2 27h1v1.15h-1zM2 29h1v1.15h-1zM2 33h1v1.15h-1zM2 35h1v1.15h-1zM2 56h1v1.15h-1zM3 2h1v1.15h-1zM3 4h1v1.15h-1zM3 24h1v1.15h-1zM3 29h1v1.15h-1zM3 32h1v1.15h-1zM3 38h1v3.15h-1zM3 43h1v1.15h-1zM3 47h1v1.15h-1zM3 56h1v1.15h-1zM3 62h1v1.15h-1zM4 1h1v1.15h-1zM4 13h1v1.15h-1zM4 31h1v1.15h-1zM4 35h1v1.15h-1zM4 47h1v1.15h-1zM4 49h1v1.15h-1zM5 110h1v1.15h-1zM5 125h1v2.15h-1zM5 128h1v1.15h-1zM6 39h1v2.15h-1zM6 51h1v1.15h-1zM7 61h1v1.15h-1zM7 65h1v1.15h-1zM7 85h1v1.15h-1zM7 87h1v1.15h-1zM7 90h1v1.15h-1zM8 15h1v1.15h-1zM8 53h1v1.15h-1zM8 58h1v1.15h-1zM8 66h1v2.15h-1zM8 80h1v1.15h-1zM8 120h1v1.15h-1zM8 124h1v1.15h-1zM8 128h1v1.15h-1zM9 79h1v1.15h-1zM9 88h1v1.15h-1zM9 116h1v1.15h-1zM9 118h1v1.15h-1zM10 32h1v1.15h-1zM10 70h1v1.15h-1zM10 93h1v1.15h-1zM11 68h1v1.15h-1zM11 90h1v1.15h-1zM11 96h1v1.15h-1zM11 112h1v1.15h-1zM11 115h1v1.15h-1zM11 118h1v1.15h-1zM11 125h1v1.15h-1zM12 77h1v1.15h-1zM12 89h1v1.15h-1zM12 113h1v2.15h-1zM12 118h1v1.15h-1zM12 121h1v1.15h-1z"/><path fill="#eaadaf" d="M0 7h1v1.15h-1zM0 21h1v2.15h-1zM0 32h1v1.15h-1zM0 35h1v2.15h-1zM0 39h1v1.15h-1zM0 48h1v1.15h-1zM0 50h1v1.15h-1zM0 57h1v1.15h-1zM0 61h1v1.15h-1zM1 1h1v1.15h-1zM1 4h1v1.15h-1zM1 8h1v1.15h-1zM1 12h1v1.15h-1zM1 20h1v1.15h-1zM1 23h1v1.15h-1zM1 26h1v1.15h-1zM1 28h1v1.15h-1zM1 36h1v1.15h-1zM1 38h1v2.15h-1zM1 46h1v1.15h-1zM1 59h1v1.15h-1zM2 24h1v1.15h-1zM2 28h1v1.15h-1zM2 30h1v1.15h-1zM2 36h1v1.15h-1zM2 45h1v1.15h-1zM2 52h1v1.15h-1zM3 1h1v1.15h-1zM3 13h1v1.15h-1zM3 30h1v2.15h-1zM3 35h1v1.15h-1zM3 45h1v1.15h-1zM3 50h1v1.15h-1zM3 59h1v2.15h-1zM4 8h1v3.15h-1zM4 38h1v1.15h-1zM4 43h1v1.15h-1zM5 64h1v1.15h-1zM5 101h1v1.15h-1zM5 112h1v1.15h-1zM6 5h1v1.15h-1zM6 36h1v1.15h-1zM7 59h1v1.15h-1zM7 89h1v1.15h-1zM8 74h1v1.15h-1zM8 84h1v1.15h-1zM8 92h1v1.15h-1zM8 112h1v1.15h-1zM8 121h1v2.15h-1zM9 72h1v1.15h-1zM9 81h1v1.15h-1zM9 98h1v1.15h-1zM9 120h1v1.15h-1zM9 128h1v1.15h-1zM10 33h1v1.15h-1zM10 123h1v1.15h-1zM11 67h1v1.15h-1zM11 77h1v1.15h-1zM11 83h1v1.15h-1zM11 86h1v2.15h-1zM11 124h1v1.15h-1zM11 128h1v1.15h-1zM12 46h1v1.15h-1zM12 65h1v1.15h-1zM12 72h1v1.15h-1zM12 80h1v1.15h-1zM12 82h1v1.15h-1zM12 85h1v1.15h-1zM12 93h1v1.15h-1zM12 108h1v1.15h-1zM12 123h1v1.15h-1zM12 129h1v1.15h-1z"/><path fill="#e7a0a2" d="M0 8h1v1.15h-1zM0 25h1v1.15h-1zM0 31h1v1.15h-1zM0 40h1v1.15h-1zM0 44h1v1.15h-1zM0 51h1v3.15h-1zM1 6h1v2.15h-1zM1 24h1v1.15h-1zM1 29h1v1.15h-1zM1 33h1v1.15h-1zM1 50h1v1.15h-1zM1 53h1v1.15h-1zM1 55h1v1.15h-1zM1 57h1v1.15h-1zM1 61h1v1.15h-1zM1 63h1v1.15h-1zM2 3h1v1.15h-1zM2 13h1v1.15h-1zM2 19h1v1.15h-1zM2 34h1v1.15h-1zM2 37h1v1.15h-1zM2 59h1v1.15h-1zM3 5h1v1.15h-1zM3 25h1v1.15h-1zM3 37h1v1.15h-1zM3 41h1v1.15h-1zM3 49h1v1.15h-1zM3 52h1v2.15h-1zM4 5h1v1.15h-1zM4 17h1v1.15h-1zM4 32h1v1.15h-1zM4 40h1v1.15h-1zM4 51h1v1.15h-1zM4 57h1v2.15h-1zM5 65h1v1.15h-1zM5 94h1v1.15h-1zM5 96h1v1.15h-1zM5 100h1v1.15h-1zM5 108h1v1.15h-1zM5 130h1v1.15h-1zM6 26h1v1.15h-1zM6 28h1v1.15h-1zM6 31h1v1.15h-1zM6 34h1v1.15h-1zM6 60h1v1.15h-1zM7 47h1v1.15h-1zM7 58h1v1.15h-1zM7 60h1v1.15h-1zM7 100h1v1.15h-1zM8 72h1v1.15h-1zM8 82h1v1.15h-1zM8 89h1v1.15h-1zM9 124h1v1.15h-1zM9 126h1v2.15h-1zM11 66h1v1.15h-1zM11 73h1v1.15h-1zM11 101h1v2.15h-1zM11 111h1v1.15h-1zM11 114h1v1.15h-1zM11 117h1v1.15h-1zM11 120h1v1.15h-1zM12 70h1v1.15h-1zM12 76h1v1.15h-1zM12 79h1v1.15h-1zM12 87h1v1.15h-1zM12 126h1v1.15h-1zM12 128h1v1.15h-1z"/><path fill="#e39496" d="M0 0h1v1.15h-1zM0 17h1v1.15h-1zM0 28h1v2.15h-1zM0 41h1v1.15h-1zM1 13h1v1.15h-1zM1 19h1v1.15h-1zM1 25h1v1.15h-1zM1 27h1v1.15h-1zM2 7h1v1.15h-1zM2 12h1v1.15h-1zM2 38h1v1.15h-1zM2 50h1v2.15h-1zM2 57h1v1.15h-1zM2 62h1v1.15h-1zM3 6h1v1.15h-1zM3 9h1v1.15h-1zM3 17h1v2.15h-1zM3 34h1v1.15h-1zM3 46h1v1.15h-1zM3 63h1v1.15h-1zM4 11h1v1.15h-1zM4 21h1v1.15h-1zM4 24h1v1.15h-1zM4 45h1v1.15h-1zM4 55h1v1.15h-1zM4 59h1v1.15h-1zM5 66h1v1.15h-1zM5 106h1v1.15h-1zM5 113h1v1.15h-1zM5 118h1v1.15h-1zM5 124h1v1.15h-1zM5 129h1v1.15h-1zM6 42h1v3.15h-1zM7 1h1v1.15h-1zM7 38h1v1.15h-1zM7 41h1v2.15h-1zM8 86h1v1.15h-1zM8 91h1v1.15h-1zM8 119h1v1.15h-1zM8 123h1v1.15h-1zM9 66h1v2.15h-1zM9 86h1v1.15h-1zM11 65h1v1.15h-1zM11 69h1v1.15h-1zM11 88h1v1.15h-1zM11 108h1v1.15h-1zM11 110h1v1.15h-1zM11 116h1v1.15h-1zM11 126h1v1.15h-1zM12 122h1v1.15h-1z"/><path fill="#e08789" d="M0 9h1v2.15h-1zM0 18h1v1.15h-1zM0 33h1v1.15h-1zM0 56h1v1.15h-1zM1 0h1v1.15h-1zM1 10h1v1.15h-1zM2 8h1v1.15h-1zM2 11h1v1.15h-1zM3 7h1v2.15h-1zM3 11h1v1.15h-1zM3 22h1v1.15h-1zM3 51h1v1.15h-1zM4 7h1v1.15h-1zM4 18h1v2.15h-1zM4 22h1v1.15h-1zM4 25h1v1.15h-1zM4 50h1v1.15h-1zM4 52h1v3.15h-1zM4 56h1v1.15h-1zM5 71h1v1.15h-1zM5 82h1v1.15h-1zM5 104h1v2.15h-1zM5 116h1v1.15h-1zM5 122h1v1.15h-1zM7 0h1v1.15h-1zM7 40h1v1.15h-1zM7 45h1v1.15h-1zM7 49h1v1.15h-1zM8 65h1v1.15h-1zM8 85h1v1.15h-1zM8 90h1v1.15h-1zM8 113h1v1.15h-1zM11 98h1v1.15h-1zM11 100h1v1.15h-1zM11 113h1v1.15h-1zM11 119h1v1.15h-1zM11 121h1v1.15h-1zM12 67h1v1.15h-1zM12 81h1v1.15h-1zM12 86h1v1.15h-1zM12 119h1v1.15h-1z"/><path fill="#de7b7d" d="M0 34h1v1.15h-1zM0 63h1v1.15h-1zM1 31h1v1.15h-1zM1 51h1v1.15h-1zM1 62h1v1.15h-1zM2 4h1v2.15h-1zM2 10h1v1.15h-1zM3 10h1v1.15h-1zM4 20h1v1.15h-1zM5 67h1v1.15h-1zM5 78h1v1.15h-1zM5 103h1v1.15h-1zM5 115h1v1.15h-1zM5 117h1v1.15h-1zM11 72h1v1.15h-1zM11 104h1v1.15h-1zM11 127h1v1.15h-1zM12 69h1v1.15h-1zM12 83h1v1.15h-1z"/><path fill="#da6f71" d="M0 62h1v1.15h-1zM1 5h1v1.15h-1zM1 9h1v1.15h-1zM1 34h1v1.15h-1zM3 12h1v1.15h-1zM3 21h1v1.15h-1zM3 36h1v1.15h-1zM5 69h1v2.15h-1zM5 72h1v1.15h-1zM5 83h1v1.15h-1zM5 85h1v1.15h-1zM5 97h1v1.15h-1zM5 111h1v1.15h-1zM5 120h1v1.15h-1zM7 43h1v2.15h-1zM7 48h1v1.15h-1zM11 105h1v1.15h-1zM12 68h1v1.15h-1zM12 71h1v1.15h-1zM12 73h1v3.15h-1z"/><path fill="#d86264" d="M1 32h1v1.15h-1zM1 40h1v2.15h-1zM1 52h1v1.15h-1zM1 60h1v1.15h-1zM3 19h1v1.15h-1zM5 87h1v1.15h-1zM6 41h1v1.15h-1zM7 39h1v1.15h-1zM7 46h1v1.15h-1zM11 99h1v1.15h-1z"/><path fill="#d45658" d="M4 48h1v1.15h-1zM5 75h1v1.15h-1zM5 81h1v1.15h-1zM5 93h1v1.15h-1zM5 102h1v1.15h-1zM5 107h1v1.15h-1zM5 114h1v1.15h-1zM5 119h1v1.15h-1zM11 89h1v1.15h-1zM11 103h1v1.15h-1zM11 109h1v1.15h-1zM12 66h1v1.15h-1z"/><path fill="#d14b4e" d="M3 20h1v1.15h-1zM3 48h1v1.15h-1zM5 68h1v1.15h-1zM5 73h1v1.15h-1zM5 77h1v1.15h-1zM5 79h1v1.15h-1zM5 88h1v1.15h-1zM5 90h1v1.15h-1zM5 92h1v1.15h-1zM5 98h1v1.15h-1z"/><path fill="#ce3f42" d="M5 91h1v1.15h-1zM5 121h1v1.15h-1z"/><path fill="#cb3338" d="M5 74h1v1.15h-1zM5 80h1v1.15h-1zM5 84h1v1.15h-1zM5 89h1v1.15h-1zM5 99h1v1.15h-1z"/><path fill="#c8282d" d="M5 86h1v1.15h-1z"/><path fill="#c62227" d="M5 76h1v1.15h-1z"/></g><path fill="none" stroke="#000" stroke-width="0.75" d="M43 72.1H31.8V72.3H43M43 72.5H33.9V72.6H43M31.8 72.2H26.5V72.5H33.9M43 72.8H32V73H43M43 73.2H31.8V73.4H43M32 72.9H29.9V73.3H31.8M29.9 73.1H27V73.6H43M26.5 72.4H25.1V73.3H27M43 73.9H36.7V74.1H43M36.7 74H35.7V74.3H43M43 73.7H34.4V74.2H35.7M34.4 73.9H31.6V74.5H43M31.6 74.2H29.4V74.7H43M43 74.8H34V75H43M29.4 74.4H24.6V74.9H34M25.1 72.8H23.2V74.7H24.6M43 75.2H34.4V75.4H43M34.4 75.3H31.9V75.6H43M43 76.1H35.4V76.3H43M43 75.9H33.2V76.2H35.4M43 75.8H31.5V76.1H33.2M31.9 75.4H29.4V75.9H31.5M23.2 73.8H21.3V75.7H29.4M43 76.7H35.4V76.9H43M35.4 76.8H32.8V77H43M43 76.5H24.7V76.9H32.8M43 77.6H34.5V77.8H43M43 77.4H32.8V77.7H34.5M43 77.2H30V77.5H32.8M43 78H32.4V78.1H43M43 78.3H36.1V78.5H43M36.1 78.4H34.3V78.7H43M34.3 78.6H33V78.9H43M32.4 78H31.6V78.7H33M31.6 78.4H30V79.1H43M30 77.4H27.3V78.7H30M43 79.6H34.8V79.8H43M43 79.4H28.8V79.7H34.8M43 79.2H27.4V79.6H28.8M27.3 78H25.9V79.4H27.4M24.7 76.7H21.5V78.7H25.9M21.3 74.7H19.5V77.7H21.5M43 80H33.8V80.2H43M43 80.9H35.9V81.1H43M43 80.7H33.2V81H35.9M43 80.5H31V80.8H33.2M43 80.3H29.8V80.7H31M43 81.3H35.6V81.4H43M29.8 80.5H28.3V81.3H35.6M33.8 80.1H26.5V80.9H28.3M26.5 80.5H25.2V81.6H43M43 81.8H31.4V82H43M43 82.4H32.4V82.5H43M43 82.2H29V82.4H32.4M43 82.9H35.2V83.1H43M35.2 83H33.3V83.3H43M43 82.7H29.3V83.1H33.3M29 82.3H28.1V82.9H29.3M28.1 82.6H26.3V83.5H43M43 83.6H33.2V83.8H43M43 84H34.3V84.2H43M33.2 83.7H31.7V84.1H34.3M43 84.4H30.1V84.6H43M43 85.1H37V85.3H43M43 84.9H34.8V85.2H37M34.8 85.1H32.6V85.5H43M43 84.7H22.8V85.3H32.6M30.1 84.5H20V85H22.8M43 86H33.8V86.2H43M43 85.8H32.5V86.1H33.8M43 85.7H31.2V86H32.5M43 86.7H37.5V86.9H43M37.5 86.8H36.7V87.1H43M36.7 87H35.6V87.3H43M43 86.6H34.4V87.1H35.6M43 86.4H31.8V86.9H34.4M43 87.5H31.7V87.7H43M31.8 86.6H29.3V87.6H31.7M43 87.8H31.7V88H43M43 88.4H31.6V88.6H43M43 88.2H29.8V88.5H31.6M31.7 87.9H27.2V88.4H29.8M29.3 87.1H26.4V88.1H27.2M43 88.8H36.2V88.9H43M43 89.1H36.1V89.3H43M36.1 89.2H32.5V89.5H43M43 89.7H35.1V89.9H43M32.5 89.4H29.5V89.8H35.1M36.2 88.9H27V89.6H29.5M26.4 87.6H25.2V89.2H27M31.2 85.8H22.6V88.4H25.2M43 90H33.8V90.2H43M33.8 90.1H32.2V90.4H43M43 90.6H30.3V90.8H43M32.2 90.3H23.2V90.7H30.3M22.6 87.1H20.2V90.5H23.2M43 91H30.7V91.1H43M43 91.3H34V91.5H43M30.7 91.1H26.4V91.4H34M43 91.9H33.2V92.1H43M43 91.7H30.3V92H33.2M43 92.8H35.5V93H43M43 92.6H34.5V92.9H35.5M43 93.2H39.2V93.3H43M39.2 93.3H36.4V93.5H43M34.5 92.7H33.6V93.4H36.4M43 92.4H31.3V93.1H33.6M43 92.2H28.3V92.7H31.3M30.3 91.8H23.1V92.5H28.3M26.4 91.2H20.6V92.2H23.1M43 94.1H36.4V94.3H43M36.4 94.2H33.6V94.4H43M43 93.9H32.6V94.3H33.6M43 93.7H30.1V94.1H32.6M43 94.8H34.2V95H43M43 94.6H32.2V94.9H34.2M43 95.4H32.4V95.5H43M43 95.2H29.8V95.5H32.4M29.8 95.3H24.6V95.7H43M32.2 94.8H22.3V95.5H24.6M43 96.1H35.4V96.3H43M35.4 96.2H33V96.5H43M33 96.3H32.3V96.6H43M43 95.9H30.7V96.5H32.3M43 96.8H32.9V97H43M32.9 96.9H30.3V97.2H43M43 97.4H35.1V97.6H43M35.1 97.5H30.3V97.7H43M30.3 97.1H27.2V97.6H30.3M30.7 96.2H25V97.3H27.2M43 98.1H31.7V98.3H43M43 97.9H27.7V98.2H31.7M43 98.5H33.6V98.7H43M43 99H31.8V99.2H43M43 98.8H30.7V99.1H31.8M33.6 98.6H27.1V99H30.7M27.7 98.1H26.3V98.8H27.1M43 99.4H30.5V99.6H43M26.3 98.4H24.5V99.5H30.5M43 99.8H32.6V99.9H43M43 100.3H34.4V100.5H43M43 100.1H33.7V100.4H34.4M43 100.7H32.3V100.9H43M33.7 100.3H30.4V100.8H32.3M32.6 99.8H24V100.5H30.4M24.5 99H23.2V100.2H24M43 101H29.8V101.2H43M43 101.4H35.5V101.6H43M29.8 101.1H24.2V101.5H35.5M43 101.8H34.8V102H43M24.2 101.3H23.3V101.9H34.8M23.2 99.6H22.4V101.6H23.3M43 102.5H32.2V102.7H43M43 102.3H27.9V102.6H32.2M43 102.1H26.5V102.5H27.9M22.4 100.6H19.5V102.3H26.5M43 103.1H31.7V103.2H43M43 102.9H27.5V103.1H31.7M27.5 103H23V103.4H43M43 103.6H31.6V103.8H43M43 104.2H35.3V104.3H43M43 104.5H35V104.7H43M35.3 104.2H34V104.6H35M43 104H31.5V104.4H34M31.6 103.7H29.9V104.2H31.5M29.9 103.9H27.7V104.9H43M43 105.3H35V105.4H43M35 105.3H32.7V105.6H43M32.7 105.5H29.4V105.8H43M43 105.1H27.6V105.6H29.4M27.6 105.4H26.9V106H43M27.7 104.4H24.7V105.7H26.9M43 106.4H34.2V106.5H43M43 106.7H34.7V106.9H43M34.2 106.4H32.7V106.8H34.7M43 106.2H31.2V106.6H32.7M31.2 106.4H28V107.1H43M43 107.6H32.8V107.8H43M43 107.5H29.8V107.7H32.8M43 107.3H25.6V107.6H29.8M43 108.2H34.6V108.4H43M43 108H32.1V108.3H34.6M32.1 108.1H29.3V108.6H43M43 108.9H35.2V109.1H43M43 108.7H33.8V109H35.2M43 109.3H34.8V109.5H43M33.8 108.9H30.1V109.4H34.8M29.3 108.3H28V109.1H30.1M43 109.8H35.8V110H43M43 109.7H33.2V109.9H35.8M28 108.7H25.9V109.8H33.2M43 110.2H34.4V110.4H43M43 110.6H34V110.8H43M43 110.9H32.6V111.1H43M34 110.7H31V111H32.6M43 111.5H36.3V111.7H43M43 111.3H30.9V111.6H36.3M31 110.8H29.2V111.4H30.9M29.2 111.1H27.7V111.9H43M34.4 110.3H25.4V111.5H27.7M25.9 109.3H23.4V110.9H25.4M25.6 107.4H19.6V110.1H23.4M43 112H29.8V112.2H43M43 112.6H35V112.8H43M43 113H34.4V113.1H43M35 112.7H32V113H34.4M43 112.4H30.1V112.9H32M30.1 112.6H26.8V113.3H43M29.8 112.1H26V113H26.8M43 113.7H33.8V113.9H43M43 114H33.6V114.2H43M33.8 113.8H32.4V114.1H33.6M43 113.5H27.7V114H32.4M26 112.5H23.4V113.7H27.7M43 114.6H32.6V114.8H43M43 115H34.2V115.1H43M32.6 114.7H28.3V115.1H34.2M43 114.4H24V114.9H28.3M43 115.3H31.5V115.5H43M43 115.7H33.9V115.9H43M33.9 115.8H32.8V116.1H43M43 116.2H35.6V116.4H43M32.8 115.9H30.3V116.3H35.6M31.5 115.4H29.7V116.1H30.3M43 116.8H33.9V117H43M43 116.6H29.3V116.9H33.9M29.7 115.8H26.7V116.8H29.3M43 117.2H35.3V117.3H43M35.3 117.3H34.1V117.5H43M34.1 117.4H25.3V117.7H43M26.7 116.3H24.3V117.6H25.3M24 114.6H23.1V116.9H24.3M43 118.1H32.1V118.3H43M43 118.4H34.7V118.6H43M32.1 118.2H29.3V118.5H34.7M29.3 118.4H28.5V118.8H43M43 117.9H26.4V118.6H28.5M26.4 118.2H25.5V119H43M43 119.2H34.9V119.4H43M25.5 118.6H23.5V119.3H34.9M23.1 115.8H20V118.9H23.5M43 119.7H33.4V119.9H43M33.4 119.8H32.4V120.1H43M43 119.5H26V120H32.4M20 117.4H19.3V119.8H26M43 120.5H37.1V120.6H43M43 120.3H34.2V120.6H37.1M34.2 120.4H30.6V120.8H43M30.6 120.6H29.5V121H43M29.5 120.8H28.1V121.2H43M43 121.7H30.1V121.9H43M43 121.6H28.1V121.8H30.1M43 121.4H25.8V121.7H28.1M28.1 121H24.8V121.5H25.8M43 122.5H35.8V122.7H43M43 122.3H29.7V122.6H35.8M43 122.8H34.3V123H43M29.7 122.4H26.7V122.9H34.3M43 122.1H25.5V122.7H26.7M24.8 121.3H22.8V122.4H25.5M43 123.2H34V123.4H43M34 123.3H31.9V123.6H43M31.9 123.4H31V123.8H43M43 123.9H35.3V124.1H43M35.3 124H26.2V124.3H43M43 124.5H31.7V124.7H43M43 124.9H34.5V125H43M34.5 125H31.6V125.2H43M31.7 124.6H29.7V125.1H31.6M43 125.4H33.8V125.6H43M43 125.8H35.5V126H43M33.8 125.5H29.6V125.9H35.5M29.7 124.8H28.1V125.7H29.6M26.2 124.2H21.3V125.3H28.1M43 126.3H34.1V126.5H43M34.1 126.4H33.4V126.7H43M43 126.1H30.8V126.6H33.4M43 126.9H36.5V127.1H43M43 127.2H34.9V127.4H43M34.9 127.3H29.7V127.6H43M36.5 127H25.1V127.5H29.7M30.8 126.3H19.4V127.2H25.1M43 127.8H33.8V128H43M43 128.3H36V128.5H43M43 128.2H33.4V128.4H36M43 128.7H33.4V128.9H43M33.4 128.3H30.8V128.8H33.4M30.8 128.5H29V129.1H43M43 129.4H34.3V129.6H43M43 129.8H33.7V130H43M34.3 129.5H31.8V129.9H33.7M43 129.3H30.3V129.7H31.8M30.3 129.5H25.8V130.2H43M43 130.4H33.9V130.5H43M43 130.7H36.4V130.9H43M43 131.3H36.2V131.5H43M43 131.1H33.9V131.4H36.2M36.4 130.8H27.3V131.2H33.9M33.9 130.4H21.2V131H27.3M43 131.8H31V132H43M43 132.2H33.9V132.4H43M43 132.6H34V132.7H43M33.9 132.3H32.4V132.6H34M31 131.9H22V132.5H32.4M43 131.6H19.9V132.2H22M43 132.9H34.2V133.1H43M43 133.3H33.4V133.5H43M34.2 133H31.4V133.4H33.4M43 133.7H33.6V133.8H43M31.4 133.2H29.9V133.7H33.6M43 134.2H32.2V134.4H43M43 134H30.3V134.3H32.2M29.9 133.5H26.9V134.2H30.3M43 134.6H33.7V134.8H43M26.9 133.8H24.6V134.7H33.7M43 134.9H30.8V135.1H43M43 135.3H31.7V135.5H43M43 135.7H36.1V135.9H43M31.7 135.4H30.1V135.8H36.1M30.8 135H29.3V135.6H30.1M43 136H32.4V136.2H43M29.3 135.3H21.2V136.1H32.4M43 136.6H34.7V136.8H43M43 137H34.4V137.1H43M43 137.3H31.7V137.5H43M34.4 137H29.2V137.4H31.7M34.7 136.7H27.2V137.2H29.2M43 136.4H22.8V137H27.2M43 137.7H34.3V137.9H43M43 138.1H32.5V138.2H43M34.3 137.8H27.4V138.1H32.5M43 138.4H30.9V138.6H43M27.4 138H26.3V138.5H30.9M43 139H36.1V139.2H43M43 138.8H28.3V139.1H36.1M43 139.3H34.7V139.5H43M34.7 139.4H34V139.7H43M28.3 138.9H26.6V139.6H34M26.3 138.2H24.3V139.2H26.6M43 140.1H36.4V140.3H43M36.4 140.2H33.5V140.4H43M43 139.9H30.2V140.3H33.5M30.2 140.1H29.2V140.6H43M43 140.8H36.1V141H43M36.1 140.9H28.7V141.2H43M29.2 140.4H27.4V141H28.7M43 141.5H32.4V141.7H43M43 141.3H26.7V141.6H32.4M27.4 140.7H25.6V141.5H26.7M24.3 138.7H22.8V141.1H25.6M43 141.9H32.7V142.1H43M43 142.3H31.4V142.4H43M32.7 142H28.8V142.4H31.4M43 142.8H34.5V143H43M43 142.6H33.1V142.9H34.5M33.1 142.8H30.2V143.2H43M43 143.4H35.8V143.5H43M30.2 143H29.3V143.5H35.8M28.8 142.2H19.6V143.2H29.3M43 143.7H36.3V143.9H43M43 144.3H35.6V144.5H43M43 144.1H33.9V144.4H35.6M33.9 144.2H29.2V144.6H43M36.3 143.8H25.2V144.4H29.2M43 145H36.3V145.2H43M36.3 145.1H28.8V145.4H43M43 144.8H26.9V145.2H28.8M43 145.6H34V145.7H43M43 146.5H36.9V146.7H43M43 146.3H35.1V146.6H36.9M43 146.1H34.2V146.4H35.1M34.2 146.3H31.5V146.8H43M43 145.9H28.7V146.6H31.5M34 145.7H24.3V146.2H28.7M26.9 145H23.5V146H24.3M25.2 144.1H22.5V145.5H23.5M43 147H35.1V147.2H43M43 147.4H36V147.6H43M36 147.5H34.3V147.8H43M43 147.9H34.7V148.1H43M34.7 148H32.3V148.3H43M34.3 147.6H26.1V148.2H32.3M35.1 147.1H24.9V147.9H26.1M43 148.5H35.9V148.7H43M43 149.2H36.4V149.4H43M43 149H34.3V149.3H36.4M43 148.9H32.3V149.2H34.3M32.3 149H25.8V149.6H43M35.9 148.6H24.7V149.3H25.8M24.9 147.5H23.1V148.9H24.7M22.5 144.8H19.8V148.2H23.1M43 150H35.4V150.1H43M35.4 150.1H34.4V150.3H43M43 149.8H33.2V150.2H34.4M33.2 150H31.6V150.5H43M43 150.7H32.1V150.9H43M43 151.1H33.6V151.2H43M33.6 151.2H30.9V151.4H43M32.1 150.8H29.1V151.3H30.9M43 151.6H30.4V151.8H43M30.4 151.7H29.5V152H43M43 152.5H33.8V152.7H43M33.8 152.6H29.7V152.9H43M43 152.3H28V152.8H29.7M43 152.2H26.6V152.5H28M29.5 151.8H25.4V152.4H26.6M43 153.1H33.7V153.3H43M33.7 153.2H28.1V153.4H43M25.4 152.1H22.9V153.3H28.1M43 153.6H30.6V153.8H43M43 154H33.1V154.2H43M30.6 153.7H23.9V154.1H33.1M22.9 152.7H20.9V153.9H23.9M43 154.5H33.3V154.7H43M43 154.4H26.9V154.6H33.3M43 155.1H35.1V155.3H43M35.1 155.2H34V155.5H43M43 154.9H24.2V155.3H34M43 155.6H32.9V155.8H43M43 156H35.2V156.2H43M32.9 155.7H31.1V156.1H35.2M31.1 155.9H29.1V156.4H43M24.2 155.1H20.4V156.1H29.1M43 156.6H34.7V156.7H43M43 156.9H32.6V157.1H43M34.7 156.6H22.7V157H32.6M43 157.3H32.8V157.5H43M43 157.7H33V157.8H43M32.8 157.4H28.3V157.7H33M28.3 157.6H26.8V158H43M43 158.2H35.6V158.4H43M43 158.6H36.3V158.8H43M36.3 158.7H35.6V158.9H43M35.6 158.3H34.7V158.8H35.6M43 159.1H35.7V159.3H43M35.7 159.2H34.4V159.5H43M34.7 158.5H32.3V159.4H34.4M43 159.7H38.3V159.9H43M43 160.4H42V160.6H43M43 160.2H41.7V160.5H42M43 160H39.8V160.4H41.7M38.3 159.8H37.3V160.2H39.8M37.3 160H35V160.8H43M43 161H34.4V161.1H43M35 160.4H32.8V161H34.4M32.3 159H29.9V160.7H32.8M43 161.9H34.5V162.1H43M43 161.7H33.3V162H34.5M43 161.5H31.9V161.8H33.3M43 161.3H30.5V161.7H31.9M29.9 159.8H27.6V161.5H30.5M26.8 157.8H24.7V160.7H27.6M43 162.2H33.3V162.4H43M43 163H32.4V163.2H43M43 162.8H30.4V163.1H32.4M43 162.6H29.5V162.9H30.4M33.3 162.3H27.3V162.8H29.5M24.7 159.2H21.9V162.5H27.3M22.7 156.8H20.1V160.9H21.9M20.4 155.6H19.1V158.9H20.1M43 163.5H34.6V163.7H43M43 163.9H34.4V164.1H43M34.4 164H30.6V164.3H43M30.6 164.1H27V164.4H43M34.6 163.6H26.2V164.3H27M43 163.3H23.6V163.9H26.2M43 164.6H34.1V164.8H43M34.1 164.7H30.8V165H43M43 165.2H34.1V165.4H43M30.8 164.8H25.3V165.3H34.1M23.6 163.6H22.4V165.1H25.3M43 165.5H31.7V165.7H43M31.7 165.6H29.5V165.9H43M22.4 164.3H19.5V165.8H29.5M43 166.1H30.6V166.3H43M43 166.5H35.4V166.6H43M30.6 166.2H29.1V166.5H35.4M43 166.8H33V167H43M29.1 166.4H27.1V166.9H33M43 167.4H36.4V167.6H43M36.4 167.5H33.8V167.7H43M43 167.9H35.8V168.1H43M33.8 167.6H32.5V168H35.8M43 167.2H30.2V167.8H32.5M43 168.3H31V168.5H43M30.2 167.5H28V168.4H31M27.1 166.6H25.3V167.9H28M43 168.8H32.1V169H43M43 168.6H27.6V168.9H32.1M27.6 168.8H26.9V169.2H43M43 169.6H36.1V169.7H43M36.1 169.7H34.3V169.9H43M43 169.4H31.8V169.8H34.3M31.8 169.6H29.2V170.1H43M43 170.3H30.7V170.5H43M43 170.8H33.4V171H43M43 170.7H31.7V170.9H33.4M31.7 170.8H30.9V171.2H43M30.7 170.4H28V171H30.9M43 171.4H34.5V171.6H43M43 171.8H31.6V171.9H43M43 172.1H34.4V172.3H43M34.4 172.2H31.5V172.5H43M31.6 171.9H30.2V172.4H31.5M34.5 171.5H27.9V172.1H30.2M28 170.7H26.2V171.8H27.9M29.2 169.9H23.8V171.2H26.2M26.9 169H22.4V170.6H23.8M43 173.4H35.5V173.6H43M43 173.2H32.8V173.5H35.5M43 173H31.6V173.4H32.8M43 172.9H29.5V173.2H31.6M43 174H35.9V174.1H43M43 173.8H33.4V174.1H35.9M29.5 173H28.3V173.9H33.4M43 172.7H25.6V173.5H28.3M43 174.3H35.6V174.5H43M43 174.9H36.4V175.1H43M43 174.7H29.7V175H36.4M35.6 174.4H27.1V174.8H29.7M25.6 173.1H24.3V174.6H27.1M22.4 169.8H21.5V173.9H24.3M43 175.4H36.4V175.6H43M36.4 175.5H32.4V175.8H43M43 175.2H24.9V175.7H32.4M43 176.5H31.9V176.7H43M43 176.3H30.8V176.6H31.9M30.8 176.5H29V176.9H43M43 176.2H27.6V176.7H29M43 176H24.9V176.4H27.6M24.9 175.5H22.4V176.2H24.9M22.4 175.8H20.8V177.1H43M43 177.3H31.4V177.4H43M43 177.6H34.8V177.8H43M34.8 177.7H30.7V178H43M31.4 177.4H23.9V177.9H30.7M43 178.5H31.8V178.7H43M43 178.4H30.6V178.6H31.8M43 178.2H27.8V178.5H30.6M23.9 177.6H21.7V178.3H27.8M43 179.1H36.8V179.3H43M43 178.9H34V179.2H36.8M34 179H22.3V179.5H43M43 179.6H35.8V179.8H43M43 180H30.3V180.2H43M43 180.6H32.7V180.7H43M43 180.4H31.1V180.7H32.7M43 180.9H36.4V181.1H43M31.1 180.5H29V181H36.4M43 181.3H34.4V181.5H43M34.4 181.4H33.3V181.7H43M33.3 181.5H27.1V181.8H43M29 180.8H26.5V181.7H27.1M30.3 180.1H25.9V181.2H26.5M43 182H31.4V182.2H43M43 182.4H35.8V182.6H43M31.4 182.1H27.8V182.5H35.8M25.9 180.7H24.9V182.3H27.8M35.8 179.7H22.6V181.5H24.9M43 182.9H36V183.1H43M36 183H26.7V183.3H43M43 182.8H24.7V183.2H26.7M43 183.5H31.5V183.7H43M31.5 183.6H29V183.9H43M43 184H36.3V184.2H43M29 183.7H26.8V184.1H36.3M43 184.6H34.7V184.8H43M43 184.4H29.3V184.7H34.7M29.3 184.5H28.3V185H43M26.8 183.9H19.5V184.8H28.3M43 185.3H30.7V185.5H43M43 185.7H33.9V185.9H43M30.7 185.4H28.6V185.8H33.9M43 186.1H35.4V186.2H43M28.6 185.6H25.8V186.1H35.4M25.8 185.9H24.4V186.4H43M43 185.1H23.3V186.1H24.4M43 186.8H31.5V187H43M43 186.6H28.7V186.9H31.5M43 187.3H35V187.5H43M43 187.2H32V187.4H35M32 187.3H30.6V187.7H43M43 187.9H32V188.1H43M30.6 187.5H28.4V188H32M28.7 186.7H27.4V187.7H28.4M43 188.4H34.5V188.6H43M43 188.3H33.8V188.5H34.5M43 188.8H33V189H43M33.8 188.4H24.5V188.9H33M27.4 187.2H21.4V188.6H24.5M43 189.2H35.8V189.4H43M35.8 189.3H31.9V189.5H43M21.4 187.9H19.8V189.4H31.9M43 189.9H35.9V190.1H43M43 189.7H33.3V190H35.9M33.3 189.9H31.9V190.3H43M43 190.6H33.6V190.8H43M33.6 190.7H32.7V191H43M43 190.5H25.6V190.9H32.7M31.9 190.1H19.2V190.7H25.6M43 191.2H32.5V191.4H43M43 191.6H35.2V191.7H43M35.2 191.6H34.3V191.9H43M32.5 191.3H21.6V191.8H34.3M43 192.3H34.1V192.5H43M43 192.1H32.6V192.4H34.1M32.6 192.2H28.9V192.7H43M43 192.8H30.4V193H43M28.9 192.4H27.6V192.9H30.4M43 193.2H33.4V193.4H43M43 193.9H33.4V194.1H43M43 193.8H30V194H33.4M43 193.6H28.3V193.9H30M33.4 193.3H26.6V193.7H28.3M27.6 192.7H24.4V193.5H26.6M43 194.3H32.6V194.5H43M43 194.7H31.3V194.9H43M32.6 194.4H29V194.8H31.3M24.4 193.1H23.2V194.6H29M21.6 191.5H20.7V193.8H23.2M43 195H29.6V195.2H43M43 195.4H36.3V195.6H43M43 195.8H35.2V195.9H43M36.3 195.5H32.8V195.9H35.2M29.6 195.1H22.1V195.7H32.8M43 196.1H35.2V196.3H43M43 196.7H36.2V196.9H43M43 196.5H26.7V196.8H36.2M35.2 196.2H24.7V196.6H26.7M24.7 196.4H22.3V197H43M43 197.4H36.4V197.6H43M43 197.2H32.8V197.5H36.4M32.8 197.4H30.8V197.8H43M22.3 196.7H21.4V197.6H30.8M22.1 195.4H19.6V197.2H21.4M43 198H33.5V198.1H43M33.5 198.1H32.4V198.3H43M32.4 198.2H27.6V198.5H43M43 198.9H34.1V199.1H43M43 198.7H25.5V199H34.1M27.6 198.4H23.4V198.8H25.5M43 199.6H33.2V199.8H43M43 199.4H32.3V199.7H33.2M43 199.2H31.4V199.6H32.3M43 200.2H34.9V200.3H43M43 200H33.9V200.3H34.9M31.4 199.4H28.5V200.1H33.9M43 200.7H34.4V200.9H43M43 200.5H31.5V200.8H34.4M43 201.1H35.8V201.3H43M31.5 200.7H28.8V201.2H35.8M28.5 199.8H27.3V200.9H28.8M43 201.4H31.7V201.6H43M31.7 201.5H29V201.8H43M43 202.2H36V202.4H43M36 202.3H31V202.5H43M43 202H28.2V202.4H31M43 202.7H36.4V202.9H43M36.4 202.8H30V203.1H43M28.2 202.2H27.1V203H30M29 201.7H26.3V202.6H27.1M43 203.3H33.6V203.5H43M33.6 203.4H30.4V203.6H43M30.4 203.5H26.5V203.8H43M43 204H34.9V204.2H43M26.5 203.7H25.5V204.1H34.9M26.3 202.1H23.3V203.9H25.5M43 204.6H35.7V204.7H43M43 204.4H34.1V204.7H35.7M43 204.9H33.1V205.1H43M43 205.3H35.4V205.5H43M33.1 205H27.5V205.4H35.4M43 205.7H35.1V205.8H43M35.1 205.8H31.1V206H43M31.1 205.9H28.9V206.2H43M27.5 205.2H26V206H28.9M34.1 204.5H24V205.6H26M43 206.4H35.1V206.6H43M35.1 206.5H32.2V206.8H43M32.2 206.6H30.1V206.9H43M24 205.1H22.1V206.8H30.1M23.3 203H20.6V205.9H22.1M43 207.1H36.5V207.3H43M43 207.7H35.6V207.9H43M43 207.5H34.4V207.8H35.6M36.5 207.2H23V207.6H34.4M43 208.2H35.4V208.4H43M43 208H32V208.3H35.4M43 208.8H31.5V209H43M43 208.6H29V208.9H31.5M32 208.2H26.9V208.7H29M43 209.1H33.8V209.3H43M43 209.7H36.1V209.9H43M36.1 209.8H34.2V210.1H43M34.2 209.9H33V210.2H43M43 209.5H30.7V210.1H33M43 210.4H35.7V210.6H43M30.7 209.8H29.9V210.5H35.7M33.8 209.2H28.7V210.2H29.9M43 210.8H34.7V211H43M28.7 209.7H26.8V210.9H34.7M26.9 208.5H25V210.3H26.8M43 211.5H34.5V211.7H43M43 211.3H32.4V211.6H34.5M43 211.2H25.1V211.5H32.4M25 209.4H22.1V211.3H25.1M43 212.1H32.9V212.3H43M43 211.9H30.2V212.2H32.9M30.2 212H29.5V212.4H43M29.5 212.2H22.1V212.6H43M43 212.8H30.4V213H43M22.1 212.4H19.8V212.9H30.4M43 213.2H33.8V213.4H43M43 213.5H33.2V213.7H43M43 213.9H31.7V214.1H43M43 214.3H33.3V214.5H43M31.7 214H28.9V214.4H33.3M33.2 213.6H26.4V214.2H28.9M33.8 213.3H25.2V213.9H26.4M43 214.8H37.4V215H43M43 214.6H35.3V214.9H37.4M35.3 214.8H32.5V215.2H43M25.2 213.6H23.3V215H32.5M43 215.9H35.6V216.1H43M43 215.7H34.8V216H35.6M43 215.6H32.4V215.9H34.8M43 215.4H27V215.7H32.4M43 216.3H33.5V216.5H43M43 216.7H34.7V216.8H43M34.7 216.7H32V217H43M32 216.9H30.3V217.2H43M33.5 216.4H28.6V217H30.3M27 215.5H23.8V216.7H28.6M23.3 214.3H21.4V216.1H23.8M43 217.4H35.5V217.6H43M43 217.8H35.3V217.9H43M35.5 217.5H30.2V217.8H35.3M43 218.1H31.2V218.3H43M31.2 218.2H30V218.5H43M43 219H34.3V219.2H43M43 218.9H32.8V219.1H34.3M43 218.7H30.2V219H32.8M30 218.3H27.4V218.8H30.2M30.2 217.7H24.3V218.6H27.4M43 219.4H35.7V219.6H43M24.3 218.1H23.5V219.5H35.7M43 220H33.3V220.1H43M33.3 220H31V220.3H43M43 219.8H28.2V220.2H31M43 220.5H31.9V220.7H43M28.2 220H25.5V220.6H31.9M23.5 218.8H21.1V220.3H25.5M43 221.2H33.3V221.4H43M43 221.1H31.8V221.3H33.3M43 220.9H29.2V221.2H31.8M43 221.6H35V221.8H43M29.2 221H26.9V221.7H35M26.9 221.4H26V222H43M43 222.3H34.9V222.5H43M34.9 222.4H33.8V222.7H43M43 222.2H26.2V222.6H33.8M43 223.1H33V223.2H43M43 222.9H30.2V223.2H33M43 223.6H34.6V223.8H43M43 224H35V224.2H43M34.6 223.7H32.8V224.1H35M43 223.4H30.8V223.9H32.8M30.2 223H28.1V223.7H30.8M26.2 222.4H25.6V223.3H28.1M26 221.7H23.4V222.8H25.6M43 224.3H33.5V224.5H43M43 224.7H31.3V224.9H43M43 225.1H33.8V225.3H43M33.8 225.2H31V225.4H43M31.3 224.8H29.9V225.3H31M43 226H34V226.2H43M43 225.8H32.1V226.1H34M43 225.6H30.7V226H32.1M29.9 225.1H27.3V225.8H30.7M33.5 224.4H24.3V225.4H27.3M43 226.5H36.3V226.7H43M36.3 226.6H31.8V226.9H43M31.8 226.8H29.1V227.1H43M43 226.4H26.3V226.9H29.1M26.3 226.7H24.4V227.3H43M24.3 224.9H23.4V227H24.4M23.4 222.3H22V225.9H23.4M21.1 219.5H19.3V224.1H22M43 227.6H35V227.8H43M43 227.5H33.6V227.7H35M43 228H33.1V228.2H43M33.1 228.1H32V228.4H43M33.6 227.6H25.3V228.2H32M43 228.6H36V228.7H43M43 228.9H35.5V229.1H43M36 228.7H25.4V229H35.5M25.4 228.8H24.7V229.3H43M43 229.7H34.8V229.8H43M43 229.5H25.6V229.8H34.8M24.7 229.1H23.5V229.6H25.6M43 230H35.4V230.2H43M43 230.4H35.1V230.6H43M35.4 230.1H28.5V230.5H35.1M23.5 229.3H21.1V230.3H28.5M25.3 227.9H20V229.8H21.1M43 230.9H33.2V231.1H43M43 230.8H30.1V231H33.2M43 231.5H33.8V231.7H43M43 231.3H33.1V231.6H33.8M30.1 230.9H28.4V231.4H33.1M43 231.9H30.6V232H43M43 232.2H32.1V232.4H43M30.6 232H23.5V232.3H32.1M43 232.6H31.9V232.8H43M43 233.1H35.7V233.3H43M43 233H33.1V233.2H35.7M31.9 232.7H26.5V233.1H33.1M23.5 232.1H20.4V232.9H26.5M43 233.5H30.2V233.7H43M43 233.9H32.8V234.1H43M32.8 234H31V234.2H43M43 234.6H33.9V234.8H43M33.9 234.7H29.3V235H43M43 234.4H27.8V234.8H29.3M31 234.1H25.5V234.6H27.8M30.2 233.6H24V234.4H25.5M43 235.2H30.1V235.3H43M24 234H22.1V235.3H30.1M43 235.9H36V236.1H43M36 236H33.2V236.3H43M43 235.7H32V236.1H33.2M32 235.9H31.1V236.4H43M43 235.5H25.4V236.2H31.1M43 236.6H35.9V236.8H43M25.4 235.9H24.5V236.7H35.9"/><path fill="none" stroke="#333" stroke-width="0.9" shape-rendering="auto" d="M19.5 76.2H15V81.1H25.2M31.4 81.9H16.5V83H26.3M15 78.6H13.9V82.5H16.5M31.7 83.9H15.2V84.7H20M20.6 91.7H18.7V93.9H30.1M20.2 88.8H16.8V92.8H18.7M15.2 84.3H14.1V90.8H16.8M22.3 95.1H16.4V96.8H25M19.5 101.4H16.8V103.2H23M16.4 96H15.4V102.3H16.8M14.1 87.6H12.8V99.1H15.4M13.9 80.5H11.3V93.4H12.8M28 106.7H17.9V108.8H19.6M23.4 113.1H16.4V118.6H19.3M17.9 107.7H15.2V115.8H16.4M24.7 105H14.2V111.8H15.2M31 123.6H16.7V124.7H21.3M22.8 121.8H14.8V124.2H16.7M19.4 126.8H17.7V127.9H33.8M14.8 123H12.6V127.3H17.7M14.2 108.4H11.3V125.2H12.6M11.3 87H10.4V116.8H11.3M29 128.8H18.7V129.8H25.8M21.2 130.7H18.7V131.9H19.9M18.7 129.3H16.4V131.3H18.7M24.6 134.2H17.4V135.7H21.2M16.4 130.3H15.2V135H17.4M22.8 136.7H15.8V139.9H22.8M15.2 132.6H13.3V138.3H15.8M19.6 142.7H17.1V146.5H19.8M31.6 150.2H17.1V151H29.1M17.1 144.6H15.7V150.6H17.1M13.3 135.5H11V147.6H15.7M10.4 101.9H9.5V141.5H11M20.9 153.3H18.5V154.5H26.9M19.1 157.2H17V165.1H19.5M18.5 153.9H15.9V161.1H17M15.9 157.5H13.7V167.3H25.3M21.5 171.8H18.4V176.5H20.8M13.7 162.4H12.3V174.1H18.4M22.6 180.6H17.1V183H24.7M22.3 179.3H14.3V181.8H17.1M14.3 180.5H12.2V184.3H19.5M21.7 178H10.6V182.4H12.2M12.3 168.3H9.8V180.2H10.6M23.3 185.6H17.6V188.7H19.8M17.6 187.2H14.6V190.4H19.2M14.6 188.8H11.8V192.7H20.7M19.6 196.3H18.8V198.6H23.4M20.6 204.5H17.9V207.4H23M27.3 200.3H16.6V205.9H17.9M18.8 197.4H16V203.1H16.6M16 200.3H14.9V210.3H22.1M19.8 212.7H18.6V215.2H21.4M18.6 213.9H16.5V221.8H19.3M14.9 205.3H13.7V217.9H16.5M20 228.9H18.4V231.2H28.4M20.4 232.5H19V234.6H22.1M18.4 230H17.4V233.6H19M17.4 231.8H15.6V236.3H24.5M13.7 211.6H12.8V234H15.6M11.8 190.7H10.1V222.8H12.8M9.8 174.2H8.7V206.8H10.1M9.5 121.7H4.3V190.5H8.7"/><path fill="#000" d="M43 72L31.25 72L31.25 73.21L31.29 73.21L31.29 74.08L34.46 74.08L34.46 75.22L32.59 75.22L32.59 75.95L34.51 75.95L34.51 77.38L33.98 77.38L33.98 79.35L33.85 79.35L33.85 80.13L34.43 80.13L34.43 80.76L35 80.76L35 81.51L34.08 81.51L34.08 82.34L32.09 82.34L32.09 83.88L34.94 83.88L34.94 85.84L31.52 85.84L31.52 87.05L31.55 87.05L31.55 88.19L30.38 88.19L30.38 90.16L30.65 90.16L30.65 92.15L31.61 92.15L31.61 93L33.16 93L33.16 93.82L31.05 93.82L31.05 94.5L31.23 94.5L31.23 95.84L31.61 95.84L31.61 97.06L33.17 97.06L33.17 98.76L33.97 98.76L33.97 100.6L34.8 100.6L34.8 102.04L33.43 102.04L33.43 103.96L31.67 103.96L31.67 105.76L32.71 105.76L32.71 106.56L34.53 106.56L34.53 107.41L32.89 107.41L32.89 108.01L32.46 108.01L32.46 109.74L34.34 109.74L34.34 110.35L35 110.35L35 112.06L33.78 112.06L33.78 113.46L35 113.46L35 115.08L32.8 115.08L32.8 117.02L33.84 117.02L33.84 118.92L34.77 118.92L34.77 120.05L32.44 120.05L32.44 121.02L34.05 121.02L34.05 122.73L31.61 122.73L31.61 124.48L31.75 124.48L31.75 125.52L31.92 125.52L31.92 127.18L30 127.18L30 128L31.28 128L31.28 129.8L31.19 129.8L31.19 131.7L30 131.7L30 132.41L31.14 132.41L31.14 133.22L34.27 133.22L34.27 134.89L35 134.89L35 136.31L34.38 136.31L34.38 137.51L34.65 137.51L34.65 139.19L34.78 139.19L34.78 139.94L34.01 139.94L34.01 141.76L34.19 141.76L34.19 142.98L35 142.98L35 144.6L33.47 144.6L33.47 146.11L32.4 146.11L32.4 147.72L33.13 147.72L33.13 148.62L34.19 148.62L34.19 149.74L30 149.74L30 151.62L31.97 151.62L31.97 152.82L31 152.82L31 154.22L33.52 154.22L33.52 155.46L35 155.46L35 157.27L32.72 157.27L32.72 158.53L32.73 158.53L32.73 159.3L33.62 159.3L33.62 160.85L31.63 160.85L31.63 161.52L31.78 161.52L31.78 163.16L32.79 163.16L32.79 163.94L33.97 163.94L33.97 164.89L32.19 164.89L32.19 166.63L31.81 166.63L31.81 167.36L31.48 167.36L31.48 169.15L31.74 169.15L31.74 170.4L32.25 170.4L32.25 171.65L34.78 171.65L34.78 172.73L34.44 172.73L34.44 174.64L33.64 174.64L33.64 176.38L32.9 176.38L32.9 177.15L31.17 177.15L31.17 178.22L30 178.22L30 179.05L30.77 179.05L30.77 180.75L30 180.75L30 181.7L30.59 181.7L30.59 183.57L30 183.57L30 185.03L30.5 185.03L30.5 186.51L30 186.51L30 187.86L31.37 187.86L31.37 188.59L30.54 188.59L30.54 190.47L32.82 190.47L32.82 192.12L35 192.12L35 193.04L34.32 193.04L34.32 194.99L33.03 194.99L33.03 196.88L30.97 196.88L30.97 198.26L30.54 198.26L30.54 199.42L30 199.42L30 200.68L30.17 200.68L30.17 201.97L30 201.97L30 203.35L30.81 203.35L30.81 205.01L31.31 205.01L31.31 206.85L30 206.85L30 207.97L31.13 207.97L31.13 208.77L30 208.77L30 210.18L30.33 210.18L30.33 211.55L30 211.55L30 212.59L30 212.59L30 213.36L31.41 213.36L31.41 214.36L32.91 214.36L32.91 216.29L35 216.29L35 217.85L32.03 217.85L32.03 219.33L30.48 219.33L30.48 220.69L32.29 220.69L32.29 221.8L33.6 221.8L33.6 223.25L30 223.25L30 224.19L30 224.19L30 226.15L30 226.15L30 227.52L30.8 227.52L30.8 228.41L30.84 228.41L30.84 230.18L32.31 230.18L32.31 231.72L35 231.72L35 233.71L35 233.71L35 235.26L35 235.26L35 235.93L33.64 235.93L33.64 236.9L43 236.9z"/><text x="260.2" y="69.19" font-size="7.05" font-weight="bold" fill="#222">ecotype</text><rect x="261.8" y="71.8" width="7" height="13.69" fill="#c62227"/><rect x="261.8" y="85.44" width="7" height="13.69" fill="#d65c5e"/><rect x="261.8" y="99.08" width="7" height="13.69" fill="#e59a9c"/><rect x="261.8" y="112.71" width="7" height="13.69" fill="#f5d8da"/><rect x="261.8" y="126.35" width="7" height="13.69" fill="#e1e4f3"/><rect x="261.8" y="139.99" width="7" height="13.69" fill="#a6b5e0"/><rect x="261.8" y="153.62" width="7" height="13.69" fill="#6e88cc"/><rect x="261.8" y="167.26" width="7" height="13.69" fill="#3b5fb2"/><text x="272" y="76.7" font-size="7.1" fill="#222">3</text><text x="272" y="94" font-size="7.1" fill="#222">2</text><text x="272" y="112" font-size="7.1" fill="#222">1</text><text x="272" y="130" font-size="7.1" fill="#222">0</text><text x="272" y="147.5" font-size="7.1" fill="#222">-1</text><text x="272" y="165.9" font-size="7.1" fill="#222">-2</text><text x="272" y="183" font-size="7.1" fill="#222">-3</text><text x="283.9" y="78.2" font-size="7.05" font-weight="bold" fill="#222">ecotype</text><rect x="283.9" y="81" width="12" height="12" fill="#f5a11e"/><rect x="283.9" y="93" width="12" height="11.9" fill="#add8e6"/><text x="298" y="90.05" font-size="7.0" fill="#222">marine</text><text x="298" y="102" font-size="7.0" fill="#222">freshwater</text></g><g id="pb"><text transform="translate(363.7 13.15) scale(1 1.035)" font-size="17.4" font-weight="bold">(b)</text><text x="432.6" y="12.9" font-size="13.8" xml:space="preserve">DEGs (liver, n=1,667)</text><path fill="none" stroke="#666" stroke-width="1.3" shape-rendering="auto" d="M384.48 62V47.5H401.04V62M434.17 62V53.75H450.73V62M417.6 62V49.3H442.45V53.75M500.41 62V52H516.97V62M483.85 62V49.5H508.69V52M467.29 62V47.2H496.27V49.5M430.02 49.3V44.9H481.78V47.2M392.76 47.5V42.2H455.9V44.9M533.53 62V47.2H550.1V62M566.66 62V44.8H583.22V62M541.82 47.2V38.4H574.94V44.8M424.33 42.2V23.2H558.38V38.4"/><rect x="376.2" y="62" width="16.86" height="7.3" fill="#f5a11e"/><rect x="392.76" y="62" width="16.86" height="7.3" fill="#f5a11e"/><rect x="409.32" y="62" width="16.86" height="7.3" fill="#add8e6"/><rect x="425.88" y="62" width="16.86" height="7.3" fill="#add8e6"/><rect x="442.45" y="62" width="16.86" height="7.3" fill="#add8e6"/><rect x="459.01" y="62" width="16.86" height="7.3" fill="#add8e6"/><rect x="475.57" y="62" width="16.86" height="7.3" fill="#add8e6"/><rect x="492.13" y="62" width="16.86" height="7.3" fill="#add8e6"/><rect x="508.69" y="62" width="16.86" height="7.3" fill="#add8e6"/><rect x="525.25" y="62" width="16.86" height="7.3" fill="#f5a11e"/><rect x="541.82" y="62" width="16.86" height="7.3" fill="#f5a11e"/><rect x="558.38" y="62" width="16.86" height="7.3" fill="#f5a11e"/><rect x="574.94" y="62" width="16.86" height="7.3" fill="#f5a11e"/><g transform="translate(376.2 72) scale(16.5615 1.2462)"><path fill="#4063b5" d="M11 100h1v1.15h-1z"/><path fill="#5474bf" d="M11 101h1v1.15h-1z"/><path fill="#6984c9" d="M11 98h1v1.15h-1zM11 112h1v1.15h-1zM11 120h1v1.15h-1z"/><path fill="#748dce" d="M2 7h1v1.15h-1zM3 9h1v1.15h-1zM8 0h1v1.15h-1zM11 113h1v1.15h-1z"/><path fill="#7f96d2" d="M7 79h1v1.15h-1zM8 1h1v1.15h-1zM10 97h1v1.15h-1zM11 99h1v1.15h-1zM11 107h1v1.15h-1zM11 114h1v1.15h-1zM12 121h1v1.15h-1z"/><path fill="#8a9ed6" d="M3 8h1v1.15h-1zM3 15h1v1.15h-1zM4 30h1v1.15h-1zM6 29h1v2.15h-1zM6 68h1v1.15h-1zM9 125h1v1.15h-1zM10 96h1v1.15h-1zM10 113h1v1.15h-1zM11 94h1v2.15h-1zM11 97h1v1.15h-1zM11 102h1v3.15h-1zM11 111h1v1.15h-1zM11 122h1v1.15h-1z"/><path fill="#95a8da" d="M0 30h1v1.15h-1zM0 34h1v1.15h-1zM2 29h1v1.15h-1zM2 86h1v1.15h-1zM3 14h1v1.15h-1zM3 30h1v1.15h-1zM6 31h1v1.15h-1zM6 82h1v1.15h-1zM7 28h1v2.15h-1zM7 81h1v1.15h-1zM8 3h1v1.15h-1zM9 111h1v3.15h-1zM9 127h1v1.15h-1zM10 98h1v1.15h-1zM11 96h1v1.15h-1zM11 106h1v1.15h-1zM11 116h1v2.15h-1zM11 121h1v1.15h-1zM12 101h1v1.15h-1zM12 120h1v1.15h-1zM12 124h1v1.15h-1z"/><path fill="#a0b0de" d="M0 29h1v1.15h-1zM0 31h1v2.15h-1zM1 79h1v1.15h-1zM2 6h1v1.15h-1zM2 8h1v2.15h-1zM2 15h1v1.15h-1zM2 42h1v1.15h-1zM2 44h1v2.15h-1zM2 87h1v1.15h-1zM3 10h1v1.15h-1zM3 28h1v2.15h-1zM3 32h1v1.15h-1zM3 52h1v1.15h-1zM3 67h1v1.15h-1zM3 70h1v1.15h-1zM3 72h1v1.15h-1zM3 80h1v2.15h-1zM4 65h1v1.15h-1zM4 82h1v2.15h-1zM6 8h1v1.15h-1zM6 79h1v1.15h-1zM7 80h1v1.15h-1zM7 82h1v1.15h-1zM8 4h1v1.15h-1zM8 30h1v1.15h-1zM9 103h1v1.15h-1zM9 108h1v1.15h-1zM9 131h1v1.15h-1zM10 119h1v1.15h-1zM10 121h1v2.15h-1zM11 105h1v1.15h-1zM11 108h1v1.15h-1zM11 110h1v1.15h-1zM11 118h1v1.15h-1zM12 118h1v1.15h-1zM12 122h1v1.15h-1z"/><path fill="#acbae2" d="M0 18h1v1.15h-1zM1 69h1v1.15h-1zM2 14h1v1.15h-1zM2 28h1v1.15h-1zM2 30h1v1.15h-1zM2 85h1v1.15h-1zM3 7h1v1.15h-1zM3 42h1v1.15h-1zM3 68h1v2.15h-1zM3 79h1v1.15h-1zM3 83h1v1.15h-1zM4 16h1v1.15h-1zM4 29h1v1.15h-1zM4 86h1v1.15h-1zM5 70h1v1.15h-1zM6 21h1v2.15h-1zM6 32h1v1.15h-1zM6 42h1v1.15h-1zM6 62h1v1.15h-1zM6 67h1v1.15h-1zM6 69h1v1.15h-1zM6 81h1v1.15h-1zM7 30h1v1.15h-1zM7 84h1v1.15h-1zM8 2h1v1.15h-1zM8 8h1v1.15h-1zM8 91h1v1.15h-1zM9 109h1v1.15h-1zM9 114h1v1.15h-1zM9 116h1v1.15h-1zM9 121h1v1.15h-1zM9 128h1v2.15h-1zM10 107h1v1.15h-1zM10 120h1v1.15h-1zM11 92h1v1.15h-1zM11 119h1v1.15h-1zM12 97h1v1.15h-1zM12 117h1v1.15h-1z"/><path fill="#b8c3e6" d="M0 56h1v1.15h-1zM0 81h1v1.15h-1zM0 96h1v2.15h-1zM1 65h1v1.15h-1zM1 68h1v1.15h-1zM1 81h1v1.15h-1zM2 2h1v2.15h-1zM2 5h1v1.15h-1zM2 22h1v1.15h-1zM2 39h1v1.15h-1zM2 56h1v2.15h-1zM2 79h1v1.15h-1zM3 6h1v1.15h-1zM3 11h1v3.15h-1zM3 16h1v1.15h-1zM3 22h1v2.15h-1zM3 26h1v2.15h-1zM3 31h1v1.15h-1zM3 33h1v2.15h-1zM3 48h1v1.15h-1zM3 65h1v1.15h-1zM3 74h1v1.15h-1zM4 9h1v1.15h-1zM4 28h1v1.15h-1zM4 41h1v1.15h-1zM5 74h1v1.15h-1zM5 86h1v1.15h-1zM6 27h1v2.15h-1zM6 34h1v1.15h-1zM6 65h1v2.15h-1zM6 77h1v1.15h-1zM7 4h1v1.15h-1zM7 7h1v2.15h-1zM7 48h1v1.15h-1zM8 5h1v1.15h-1zM8 29h1v1.15h-1zM8 32h1v1.15h-1zM9 97h1v1.15h-1zM9 101h1v1.15h-1zM9 107h1v1.15h-1zM9 115h1v1.15h-1zM9 120h1v1.15h-1zM9 126h1v1.15h-1zM10 95h1v1.15h-1zM10 112h1v1.15h-1zM10 114h1v1.15h-1zM11 123h1v2.15h-1zM12 96h1v1.15h-1zM12 100h1v1.15h-1zM12 103h1v1.15h-1zM12 109h1v1.15h-1zM12 113h1v2.15h-1zM12 119h1v1.15h-1zM12 125h1v1.15h-1z"/><path fill="#c4ccea" d="M0 51h1v1.15h-1zM0 67h1v1.15h-1zM1 26h1v1.15h-1zM1 38h1v2.15h-1zM1 66h1v1.15h-1zM1 70h1v1.15h-1zM1 125h1v1.15h-1zM2 4h1v1.15h-1zM2 12h1v1.15h-1zM2 16h1v1.15h-1zM2 23h1v1.15h-1zM2 27h1v1.15h-1zM2 36h1v1.15h-1zM2 40h1v1.15h-1zM2 46h1v1.15h-1zM2 51h1v1.15h-1zM2 78h1v1.15h-1zM2 84h1v1.15h-1zM3 0h1v1.15h-1zM3 5h1v1.15h-1zM3 18h1v1.15h-1zM3 51h1v1.15h-1zM3 57h1v1.15h-1zM3 84h1v2.15h-1zM4 0h1v2.15h-1zM4 4h1v1.15h-1zM4 15h1v1.15h-1zM4 42h1v1.15h-1zM4 48h1v1.15h-1zM4 56h1v1.15h-1zM4 69h1v2.15h-1zM4 80h1v2.15h-1zM4 84h1v1.15h-1zM5 69h1v1.15h-1zM5 95h1v1.15h-1zM6 23h1v2.15h-1zM6 35h1v2.15h-1zM6 64h1v1.15h-1zM6 80h1v1.15h-1zM7 12h1v1.15h-1zM7 22h1v2.15h-1zM7 27h1v1.15h-1zM7 35h1v1.15h-1zM8 6h1v1.15h-1zM8 9h1v1.15h-1zM8 31h1v1.15h-1zM8 90h1v1.15h-1zM9 100h1v1.15h-1zM9 110h1v1.15h-1zM9 117h1v1.15h-1zM9 119h1v1.15h-1zM9 124h1v1.15h-1zM10 105h1v1.15h-1zM10 123h1v1.15h-1zM10 131h1v1.15h-1zM11 93h1v1.15h-1zM11 109h1v1.15h-1zM11 128h1v1.15h-1zM12 98h1v1.15h-1zM12 102h1v1.15h-1zM12 123h1v1.15h-1zM12 127h1v2.15h-1z"/><path fill="#cfd6ed" d="M0 20h1v1.15h-1zM0 48h1v1.15h-1zM0 62h1v1.15h-1zM0 82h1v1.15h-1zM0 106h1v1.15h-1zM0 117h1v1.15h-1zM1 11h1v1.15h-1zM1 17h1v1.15h-1zM1 36h1v1.15h-1zM1 73h1v1.15h-1zM1 80h1v1.15h-1zM1 104h1v1.15h-1zM1 106h1v1.15h-1zM2 1h1v1.15h-1zM2 13h1v1.15h-1zM2 33h1v1.15h-1zM2 37h1v2.15h-1zM2 41h1v1.15h-1zM2 53h1v1.15h-1zM2 55h1v1.15h-1zM2 58h1v1.15h-1zM2 71h1v1.15h-1zM2 83h1v1.15h-1zM2 88h1v1.15h-1zM3 17h1v1.15h-1zM3 20h1v2.15h-1zM3 24h1v2.15h-1zM3 45h1v1.15h-1zM3 50h1v1.15h-1zM3 55h1v1.15h-1zM3 64h1v1.15h-1zM3 86h1v3.15h-1zM4 8h1v1.15h-1zM4 22h1v1.15h-1zM4 33h1v1.15h-1zM4 37h1v1.15h-1zM4 50h1v2.15h-1zM4 53h1v1.15h-1zM4 57h1v1.15h-1zM4 62h1v1.15h-1zM4 79h1v1.15h-1zM4 87h1v2.15h-1zM5 2h1v1.15h-1zM5 54h1v1.15h-1zM5 77h1v1.15h-1zM5 79h1v1.15h-1zM6 0h1v1.15h-1zM6 2h1v1.15h-1zM6 7h1v1.15h-1zM6 13h1v1.15h-1zM6 19h1v1.15h-1zM6 25h1v2.15h-1zM6 44h1v1.15h-1zM6 54h1v1.15h-1zM6 84h1v1.15h-1zM6 86h1v1.15h-1zM6 129h1v1.15h-1zM7 2h1v1.15h-1zM7 16h1v1.15h-1zM7 21h1v1.15h-1zM7 25h1v1.15h-1zM7 32h1v1.15h-1zM7 34h1v1.15h-1zM7 37h1v1.15h-1zM7 40h1v1.15h-1zM7 47h1v1.15h-1zM7 49h1v1.15h-1zM7 72h1v1.15h-1zM7 77h1v1.15h-1zM7 83h1v1.15h-1zM7 86h1v3.15h-1zM8 13h1v1.15h-1zM8 33h1v2.15h-1zM8 38h1v1.15h-1zM8 51h1v2.15h-1zM8 61h1v1.15h-1zM8 68h1v2.15h-1zM8 78h1v1.15h-1zM8 82h1v1.15h-1zM8 86h1v1.15h-1zM9 22h1v1.15h-1zM9 102h1v1.15h-1zM9 118h1v1.15h-1zM9 122h1v1.15h-1zM9 130h1v1.15h-1zM10 106h1v1.15h-1zM10 116h1v1.15h-1zM10 118h1v1.15h-1zM11 115h1v1.15h-1zM12 95h1v1.15h-1zM12 108h1v1.15h-1zM12 110h1v1.15h-1zM12 112h1v1.15h-1zM12 116h1v1.15h-1zM12 126h1v1.15h-1zM12 130h1v1.15h-1z"/><path fill="#dbdff1" d="M0 19h1v1.15h-1zM0 23h1v1.15h-1zM0 25h1v1.15h-1zM0 28h1v1.15h-1zM0 33h1v1.15h-1zM0 39h1v2.15h-1zM0 50h1v1.15h-1zM0 55h1v1.15h-1zM0 57h1v1.15h-1zM0 64h1v1.15h-1zM0 73h1v1.15h-1zM0 79h1v1.15h-1zM0 84h1v1.15h-1zM0 86h1v1.15h-1zM0 88h1v1.15h-1zM0 95h1v1.15h-1zM0 98h1v1.15h-1zM0 108h1v1.15h-1zM1 10h1v1.15h-1zM1 25h1v1.15h-1zM1 71h1v2.15h-1zM1 77h1v1.15h-1zM1 84h1v2.15h-1zM1 96h1v1.15h-1zM2 0h1v1.15h-1zM2 31h1v1.15h-1zM2 34h1v1.15h-1zM2 48h1v3.15h-1zM3 4h1v1.15h-1zM3 37h1v1.15h-1zM3 46h1v1.15h-1zM3 49h1v1.15h-1zM3 53h1v1.15h-1zM3 56h1v1.15h-1zM3 73h1v1.15h-1zM3 77h1v2.15h-1zM3 82h1v1.15h-1zM3 90h1v2.15h-1zM4 2h1v2.15h-1zM4 20h1v2.15h-1zM4 32h1v1.15h-1zM4 36h1v1.15h-1zM4 43h1v1.15h-1zM4 52h1v1.15h-1zM4 55h1v1.15h-1zM4 58h1v2.15h-1zM4 67h1v1.15h-1zM5 1h1v1.15h-1zM5 3h1v1.15h-1zM5 43h1v1.15h-1zM5 52h1v1.15h-1zM5 62h1v1.15h-1zM5 75h1v1.15h-1zM5 87h1v1.15h-1zM5 111h1v1.15h-1zM6 1h1v1.15h-1zM6 6h1v1.15h-1zM6 9h1v1.15h-1zM6 20h1v1.15h-1zM6 33h1v1.15h-1zM6 50h1v1.15h-1zM6 53h1v1.15h-1zM6 61h1v1.15h-1zM6 70h1v1.15h-1zM6 72h1v1.15h-1zM6 83h1v1.15h-1zM6 85h1v1.15h-1zM6 87h1v1.15h-1zM6 91h1v1.15h-1zM6 123h1v4.15h-1zM7 3h1v1.15h-1zM7 6h1v1.15h-1zM7 9h1v1.15h-1zM7 14h1v2.15h-1zM7 20h1v1.15h-1zM7 24h1v1.15h-1zM7 39h1v1.15h-1zM7 42h1v1.15h-1zM7 51h1v1.15h-1zM7 61h1v1.15h-1zM7 65h1v1.15h-1zM7 68h1v1.15h-1zM7 78h1v1.15h-1zM8 23h1v1.15h-1zM8 27h1v1.15h-1zM8 39h1v1.15h-1zM8 50h1v1.15h-1zM8 62h1v1.15h-1zM8 67h1v1.15h-1zM8 70h1v1.15h-1zM8 74h1v1.15h-1zM8 76h1v1.15h-1zM8 79h1v1.15h-1zM8 84h1v1.15h-1zM8 93h1v1.15h-1zM9 92h1v1.15h-1zM9 94h1v2.15h-1zM9 98h1v1.15h-1zM9 123h1v1.15h-1zM10 17h1v1.15h-1zM10 25h1v1.15h-1zM10 99h1v1.15h-1zM10 103h1v1.15h-1zM10 111h1v1.15h-1zM11 3h1v1.15h-1zM11 129h1v2.15h-1zM12 99h1v1.15h-1zM12 104h1v1.15h-1zM12 106h1v1.15h-1zM12 111h1v1.15h-1zM12 129h1v1.15h-1zM12 131h1v1.15h-1z"/><path fill="#e3e3f1" d="M0 27h1v1.15h-1zM0 41h1v2.15h-1zM0 45h1v1.15h-1zM0 52h1v1.15h-1zM0 58h1v2.15h-1zM0 61h1v1.15h-1zM0 65h1v1.15h-1zM0 72h1v1.15h-1zM0 77h1v1.15h-1zM0 99h1v1.15h-1zM0 103h1v1.15h-1zM0 107h1v1.15h-1zM0 109h1v1.15h-1zM0 111h1v1.15h-1zM0 116h1v1.15h-1zM0 119h1v1.15h-1zM1 0h1v1.15h-1zM1 15h1v1.15h-1zM1 20h1v1.15h-1zM1 27h1v2.15h-1zM1 35h1v1.15h-1zM1 40h1v1.15h-1zM1 43h1v1.15h-1zM1 46h1v1.15h-1zM1 48h1v1.15h-1zM1 58h1v1.15h-1zM1 75h1v1.15h-1zM1 82h1v2.15h-1zM1 95h1v1.15h-1zM1 103h1v1.15h-1zM1 105h1v1.15h-1zM1 109h1v1.15h-1zM1 111h1v1.15h-1zM1 124h1v1.15h-1zM1 127h1v1.15h-1zM2 10h1v1.15h-1zM2 35h1v1.15h-1zM2 43h1v1.15h-1zM2 47h1v1.15h-1zM2 52h1v1.15h-1zM2 61h1v3.15h-1zM2 77h1v1.15h-1zM2 82h1v1.15h-1zM3 2h1v2.15h-1zM3 36h1v1.15h-1zM3 41h1v1.15h-1zM3 43h1v1.15h-1zM3 47h1v1.15h-1zM3 62h1v1.15h-1zM3 75h1v1.15h-1zM3 116h1v1.15h-1zM4 6h1v1.15h-1zM4 17h1v2.15h-1zM4 27h1v1.15h-1zM4 45h1v2.15h-1zM4 49h1v1.15h-1zM4 74h1v1.15h-1zM5 0h1v1.15h-1zM5 11h1v1.15h-1zM5 17h1v1.15h-1zM5 19h1v1.15h-1zM5 24h1v1.15h-1zM5 44h1v1.15h-1zM5 48h1v1.15h-1zM5 51h1v1.15h-1zM5 61h1v1.15h-1zM5 64h1v1.15h-1zM5 73h1v1.15h-1zM5 81h1v1.15h-1zM5 88h1v1.15h-1zM5 105h1v1.15h-1zM6 3h1v2.15h-1zM6 12h1v1.15h-1zM6 18h1v1.15h-1zM6 41h1v1.15h-1zM6 48h1v1.15h-1zM6 56h1v1.15h-1zM6 63h1v1.15h-1zM6 73h1v1.15h-1zM6 78h1v1.15h-1zM6 88h1v3.15h-1zM6 119h1v1.15h-1zM6 127h1v1.15h-1zM7 5h1v1.15h-1zM7 13h1v1.15h-1zM7 31h1v1.15h-1zM7 33h1v1.15h-1zM7 38h1v1.15h-1zM7 60h1v1.15h-1zM7 62h1v1.15h-1zM7 64h1v1.15h-1zM7 69h1v2.15h-1zM7 76h1v1.15h-1zM8 7h1v1.15h-1zM8 11h1v2.15h-1zM8 15h1v1.15h-1zM8 17h1v2.15h-1zM8 26h1v1.15h-1zM8 28h1v1.15h-1zM8 36h1v1.15h-1zM8 55h1v1.15h-1zM8 65h1v1.15h-1zM8 87h1v3.15h-1zM9 21h1v1.15h-1zM9 93h1v1.15h-1zM9 96h1v1.15h-1zM9 104h1v1.15h-1zM10 26h1v1.15h-1zM10 36h1v1.15h-1zM10 94h1v1.15h-1zM10 102h1v1.15h-1zM10 104h1v1.15h-1zM10 115h1v1.15h-1zM10 117h1v1.15h-1zM10 125h1v2.15h-1zM10 130h1v1.15h-1zM11 125h1v3.15h-1zM11 131h1v1.15h-1zM12 94h1v1.15h-1zM12 105h1v1.15h-1zM12 115h1v1.15h-1z"/><path fill="#e7e0ec" d="M0 21h1v2.15h-1zM0 26h1v1.15h-1zM0 35h1v1.15h-1zM0 37h1v2.15h-1zM0 60h1v1.15h-1zM0 66h1v1.15h-1zM0 69h1v1.15h-1zM0 78h1v1.15h-1zM0 80h1v1.15h-1zM0 83h1v1.15h-1zM0 92h1v2.15h-1zM0 115h1v1.15h-1zM0 120h1v1.15h-1zM0 124h1v1.15h-1zM0 126h1v1.15h-1zM0 128h1v1.15h-1zM0 130h1v1.15h-1zM1 7h1v1.15h-1zM1 14h1v1.15h-1zM1 16h1v1.15h-1zM1 19h1v1.15h-1zM1 21h1v1.15h-1zM1 30h1v1.15h-1zM1 41h1v1.15h-1zM1 44h1v1.15h-1zM1 64h1v1.15h-1zM1 67h1v1.15h-1zM1 74h1v1.15h-1zM1 78h1v1.15h-1zM1 86h1v1.15h-1zM1 91h1v1.15h-1zM1 99h1v1.15h-1zM1 110h1v1.15h-1zM1 112h1v1.15h-1zM1 115h1v1.15h-1zM1 126h1v1.15h-1zM1 129h1v1.15h-1zM2 19h1v1.15h-1zM2 32h1v1.15h-1zM2 54h1v1.15h-1zM2 59h1v1.15h-1zM2 80h1v1.15h-1zM3 1h1v1.15h-1zM3 35h1v1.15h-1zM3 40h1v1.15h-1zM3 44h1v1.15h-1zM3 71h1v1.15h-1zM3 109h1v1.15h-1zM3 118h1v1.15h-1zM4 5h1v1.15h-1zM4 7h1v1.15h-1zM4 12h1v3.15h-1zM4 19h1v1.15h-1zM4 23h1v1.15h-1zM4 35h1v1.15h-1zM4 38h1v1.15h-1zM4 40h1v1.15h-1zM4 47h1v1.15h-1zM4 64h1v1.15h-1zM4 66h1v1.15h-1zM4 68h1v1.15h-1zM4 72h1v1.15h-1zM4 85h1v1.15h-1zM4 89h1v1.15h-1zM4 91h1v1.15h-1zM4 130h1v1.15h-1zM5 12h1v2.15h-1zM5 16h1v1.15h-1zM5 18h1v1.15h-1zM5 35h1v1.15h-1zM5 53h1v1.15h-1zM5 71h1v1.15h-1zM5 78h1v1.15h-1zM5 89h1v1.15h-1zM5 91h1v2.15h-1zM5 104h1v1.15h-1zM5 110h1v1.15h-1zM6 5h1v1.15h-1zM6 10h1v1.15h-1zM6 15h1v2.15h-1zM6 40h1v1.15h-1zM6 47h1v1.15h-1zM6 49h1v1.15h-1zM6 51h1v1.15h-1zM6 58h1v1.15h-1zM6 74h1v1.15h-1zM6 130h1v1.15h-1zM7 17h1v2.15h-1zM7 26h1v1.15h-1zM7 36h1v1.15h-1zM7 43h1v1.15h-1zM7 50h1v1.15h-1zM7 52h1v1.15h-1zM7 57h1v1.15h-1zM7 67h1v1.15h-1zM7 125h1v1.15h-1zM8 10h1v1.15h-1zM8 14h1v1.15h-1zM8 48h1v2.15h-1zM8 53h1v1.15h-1zM8 56h1v1.15h-1zM8 58h1v1.15h-1zM8 60h1v1.15h-1zM8 63h1v1.15h-1zM8 73h1v1.15h-1zM8 80h1v2.15h-1zM9 4h1v1.15h-1zM9 41h1v1.15h-1zM10 18h1v2.15h-1zM10 32h1v1.15h-1zM10 43h1v1.15h-1zM10 100h1v1.15h-1zM10 108h1v1.15h-1zM10 110h1v1.15h-1zM10 128h1v2.15h-1zM11 2h1v1.15h-1zM12 16h1v1.15h-1zM12 93h1v1.15h-1zM12 107h1v1.15h-1z"/><path fill="#ebdee6" d="M0 24h1v1.15h-1zM0 43h1v2.15h-1zM0 68h1v1.15h-1zM0 74h1v1.15h-1zM0 76h1v1.15h-1zM0 87h1v1.15h-1zM0 90h1v1.15h-1zM0 94h1v1.15h-1zM0 100h1v1.15h-1zM0 105h1v1.15h-1zM0 114h1v1.15h-1zM0 122h1v1.15h-1zM0 129h1v1.15h-1zM1 2h1v1.15h-1zM1 9h1v1.15h-1zM1 13h1v1.15h-1zM1 24h1v1.15h-1zM1 31h1v1.15h-1zM1 34h1v1.15h-1zM1 42h1v1.15h-1zM1 45h1v1.15h-1zM1 50h1v2.15h-1zM1 53h1v1.15h-1zM1 57h1v1.15h-1zM1 59h1v1.15h-1zM1 63h1v1.15h-1zM1 98h1v1.15h-1zM1 100h1v2.15h-1zM1 118h1v1.15h-1zM2 11h1v1.15h-1zM2 20h1v1.15h-1zM2 26h1v1.15h-1zM2 66h1v1.15h-1zM2 81h1v1.15h-1zM3 19h1v1.15h-1zM3 39h1v1.15h-1zM3 54h1v1.15h-1zM3 58h1v1.15h-1zM3 60h1v2.15h-1zM3 66h1v1.15h-1zM3 76h1v1.15h-1zM3 89h1v1.15h-1zM3 92h1v1.15h-1zM3 103h1v1.15h-1zM3 108h1v1.15h-1zM3 117h1v1.15h-1zM4 11h1v1.15h-1zM4 31h1v1.15h-1zM4 34h1v1.15h-1zM4 39h1v1.15h-1zM4 44h1v1.15h-1zM4 54h1v1.15h-1zM4 61h1v1.15h-1zM4 63h1v1.15h-1zM4 71h1v1.15h-1zM4 75h1v1.15h-1zM4 122h1v1.15h-1zM5 6h1v2.15h-1zM5 14h1v1.15h-1zM5 36h1v1.15h-1zM5 38h1v1.15h-1zM5 40h1v1.15h-1zM5 47h1v1.15h-1zM5 49h1v2.15h-1zM5 55h1v2.15h-1zM5 65h1v1.15h-1zM5 68h1v1.15h-1zM5 80h1v1.15h-1zM5 82h1v1.15h-1zM5 84h1v2.15h-1zM5 90h1v1.15h-1zM5 93h1v2.15h-1zM6 14h1v1.15h-1zM6 37h1v1.15h-1zM6 45h1v2.15h-1zM6 59h1v1.15h-1zM6 71h1v1.15h-1zM6 128h1v1.15h-1zM7 1h1v1.15h-1zM7 19h1v1.15h-1zM7 44h1v1.15h-1zM7 46h1v1.15h-1zM7 56h1v1.15h-1zM7 58h1v1.15h-1zM7 85h1v1.15h-1zM7 91h1v1.15h-1zM8 16h1v1.15h-1zM8 24h1v2.15h-1zM8 54h1v1.15h-1zM8 64h1v1.15h-1zM8 66h1v1.15h-1zM8 83h1v1.15h-1zM8 85h1v1.15h-1zM8 92h1v1.15h-1zM8 123h1v1.15h-1zM9 99h1v1.15h-1zM10 10h1v2.15h-1zM10 16h1v1.15h-1zM10 24h1v1.15h-1zM10 28h1v1.15h-1zM10 33h1v2.15h-1zM10 39h1v1.15h-1zM10 46h1v1.15h-1zM10 93h1v1.15h-1zM10 101h1v1.15h-1zM11 1h1v1.15h-1zM11 4h1v1.15h-1zM11 86h1v1.15h-1zM12 15h1v1.15h-1z"/><path fill="#efdce2" d="M0 46h1v1.15h-1zM0 49h1v1.15h-1zM0 63h1v1.15h-1zM0 70h1v1.15h-1zM0 75h1v1.15h-1zM0 85h1v1.15h-1zM0 89h1v1.15h-1zM0 91h1v1.15h-1zM0 101h1v1.15h-1zM0 104h1v1.15h-1zM0 112h1v2.15h-1zM0 121h1v1.15h-1zM0 127h1v1.15h-1zM1 3h1v1.15h-1zM1 22h1v2.15h-1zM1 29h1v1.15h-1zM1 37h1v1.15h-1zM1 47h1v1.15h-1zM1 49h1v1.15h-1zM1 55h1v1.15h-1zM1 76h1v1.15h-1zM1 102h1v1.15h-1zM1 116h1v2.15h-1zM1 119h1v1.15h-1zM1 122h1v1.15h-1zM1 128h1v1.15h-1zM2 21h1v1.15h-1zM2 60h1v1.15h-1zM2 64h1v1.15h-1zM2 68h1v1.15h-1zM2 72h1v2.15h-1zM2 76h1v1.15h-1zM2 89h1v1.15h-1zM2 91h1v1.15h-1zM2 99h1v1.15h-1zM2 130h1v1.15h-1zM3 59h1v1.15h-1zM3 63h1v1.15h-1zM3 104h1v1.15h-1zM3 112h1v2.15h-1zM3 115h1v1.15h-1zM4 24h1v1.15h-1zM4 60h1v1.15h-1zM4 76h1v3.15h-1zM4 111h1v1.15h-1zM4 119h1v1.15h-1zM4 123h1v1.15h-1zM5 10h1v1.15h-1zM5 15h1v1.15h-1zM5 20h1v1.15h-1zM5 23h1v1.15h-1zM5 25h1v1.15h-1zM5 28h1v1.15h-1zM5 34h1v1.15h-1zM5 37h1v1.15h-1zM5 41h1v1.15h-1zM5 45h1v1.15h-1zM5 58h1v1.15h-1zM5 60h1v1.15h-1zM5 66h1v1.15h-1zM5 96h1v1.15h-1zM5 127h1v1.15h-1zM5 131h1v1.15h-1zM6 38h1v2.15h-1zM6 43h1v1.15h-1zM6 52h1v1.15h-1zM6 57h1v1.15h-1zM6 76h1v1.15h-1zM6 106h1v1.15h-1zM6 131h1v1.15h-1zM7 0h1v1.15h-1zM7 10h1v2.15h-1zM7 41h1v1.15h-1zM7 66h1v1.15h-1zM7 71h1v1.15h-1zM7 74h1v1.15h-1zM7 89h1v1.15h-1zM8 37h1v1.15h-1zM8 40h1v2.15h-1zM8 43h1v2.15h-1zM8 46h1v2.15h-1zM8 71h1v1.15h-1zM8 75h1v1.15h-1zM8 77h1v1.15h-1zM8 103h1v1.15h-1zM8 115h1v1.15h-1zM8 129h1v1.15h-1zM9 1h1v1.15h-1zM9 3h1v1.15h-1zM9 14h1v1.15h-1zM9 39h1v2.15h-1zM9 105h1v1.15h-1zM10 3h1v1.15h-1zM10 27h1v1.15h-1zM10 31h1v1.15h-1zM10 38h1v1.15h-1zM10 56h1v1.15h-1zM10 109h1v1.15h-1zM10 124h1v1.15h-1zM11 46h1v1.15h-1zM11 84h1v1.15h-1zM12 1h1v1.15h-1zM12 68h1v1.15h-1zM12 76h1v1.15h-1zM12 92h1v1.15h-1z"/><path fill="#f3d9dc" d="M0 13h1v1.15h-1zM0 53h1v1.15h-1zM0 110h1v1.15h-1zM1 6h1v1.15h-1zM1 18h1v1.15h-1zM1 33h1v1.15h-1zM1 52h1v1.15h-1zM1 90h1v1.15h-1zM1 92h1v1.15h-1zM1 108h1v1.15h-1zM1 120h1v1.15h-1zM1 130h1v1.15h-1zM2 18h1v1.15h-1zM2 24h1v1.15h-1zM2 69h1v2.15h-1zM2 75h1v1.15h-1zM2 118h1v1.15h-1zM3 93h1v1.15h-1zM3 102h1v1.15h-1zM3 110h1v1.15h-1zM3 125h1v2.15h-1zM3 131h1v1.15h-1zM4 25h1v2.15h-1zM4 90h1v1.15h-1zM4 92h1v2.15h-1zM4 105h1v1.15h-1zM4 129h1v1.15h-1zM5 8h1v1.15h-1zM5 27h1v1.15h-1zM5 46h1v1.15h-1zM5 63h1v1.15h-1zM5 67h1v1.15h-1zM5 72h1v1.15h-1zM5 83h1v1.15h-1zM5 99h1v4.15h-1zM5 106h1v1.15h-1zM5 123h1v1.15h-1zM5 130h1v1.15h-1zM6 11h1v1.15h-1zM6 95h1v1.15h-1zM6 115h1v1.15h-1zM6 122h1v1.15h-1zM7 53h1v1.15h-1zM7 63h1v1.15h-1zM7 73h1v1.15h-1zM7 75h1v1.15h-1zM7 90h1v1.15h-1zM7 105h1v1.15h-1zM7 115h1v2.15h-1zM7 120h1v1.15h-1zM7 124h1v1.15h-1zM7 130h1v1.15h-1zM8 20h1v1.15h-1zM8 35h1v1.15h-1zM8 45h1v1.15h-1zM8 57h1v1.15h-1zM8 59h1v1.15h-1zM8 72h1v1.15h-1zM8 102h1v1.15h-1zM8 104h1v1.15h-1zM8 125h1v1.15h-1zM9 43h1v1.15h-1zM9 106h1v1.15h-1zM10 29h1v1.15h-1zM10 45h1v1.15h-1zM10 60h1v2.15h-1zM10 70h1v2.15h-1zM10 127h1v1.15h-1zM11 0h1v1.15h-1zM11 82h1v1.15h-1zM11 85h1v1.15h-1zM12 2h1v2.15h-1zM12 17h1v1.15h-1zM12 75h1v1.15h-1z"/><path fill="#f3d2d4" d="M0 11h1v1.15h-1zM0 17h1v1.15h-1zM0 36h1v1.15h-1zM0 47h1v1.15h-1zM0 54h1v1.15h-1zM0 71h1v1.15h-1zM0 118h1v1.15h-1zM0 123h1v1.15h-1zM0 125h1v1.15h-1zM0 131h1v1.15h-1zM1 4h1v1.15h-1zM1 12h1v1.15h-1zM1 60h1v1.15h-1zM1 87h1v2.15h-1zM1 114h1v1.15h-1zM2 17h1v1.15h-1zM2 65h1v1.15h-1zM2 74h1v1.15h-1zM2 117h1v1.15h-1zM3 107h1v1.15h-1zM3 111h1v1.15h-1zM4 10h1v1.15h-1zM4 73h1v1.15h-1zM4 96h1v1.15h-1zM4 102h1v1.15h-1zM4 121h1v1.15h-1zM4 127h1v1.15h-1zM5 4h1v2.15h-1zM5 21h1v2.15h-1zM5 26h1v1.15h-1zM5 33h1v1.15h-1zM5 39h1v1.15h-1zM5 57h1v1.15h-1zM5 108h1v1.15h-1zM5 125h1v1.15h-1zM6 55h1v1.15h-1zM6 75h1v1.15h-1zM6 94h1v1.15h-1zM6 103h1v1.15h-1zM6 107h1v1.15h-1zM6 120h1v2.15h-1zM7 54h1v1.15h-1zM7 59h1v1.15h-1zM7 94h1v1.15h-1zM7 103h1v2.15h-1zM7 109h1v1.15h-1zM7 118h1v1.15h-1zM7 127h1v1.15h-1zM7 129h1v1.15h-1zM8 19h1v1.15h-1zM8 21h1v1.15h-1zM8 94h1v1.15h-1zM8 96h1v1.15h-1zM8 105h1v1.15h-1zM8 113h1v1.15h-1zM8 116h1v1.15h-1zM8 119h1v1.15h-1zM8 122h1v1.15h-1zM8 126h1v1.15h-1zM9 2h1v1.15h-1zM9 5h1v1.15h-1zM9 7h1v1.15h-1zM9 20h1v1.15h-1zM9 23h1v1.15h-1zM9 25h1v1.15h-1zM9 28h1v1.15h-1zM9 38h1v1.15h-1zM9 44h1v1.15h-1zM9 63h1v1.15h-1zM10 12h1v1.15h-1zM10 35h1v1.15h-1zM10 37h1v1.15h-1zM10 66h1v1.15h-1zM10 92h1v1.15h-1zM11 89h1v2.15h-1zM12 0h1v1.15h-1zM12 4h1v1.15h-1zM12 66h1v1.15h-1zM12 69h1v1.15h-1z"/><path fill="#f0c5c7" d="M0 9h1v1.15h-1zM0 12h1v1.15h-1zM0 16h1v1.15h-1zM0 102h1v1.15h-1zM1 5h1v1.15h-1zM1 32h1v1.15h-1zM1 54h1v1.15h-1zM1 56h1v1.15h-1zM1 61h1v2.15h-1zM1 94h1v1.15h-1zM1 97h1v1.15h-1zM1 107h1v1.15h-1zM1 113h1v1.15h-1zM1 123h1v1.15h-1zM1 131h1v1.15h-1zM2 25h1v1.15h-1zM2 67h1v1.15h-1zM2 103h1v1.15h-1zM2 129h1v1.15h-1zM3 94h1v1.15h-1zM3 114h1v1.15h-1zM3 119h1v1.15h-1zM3 129h1v1.15h-1zM4 95h1v1.15h-1zM4 97h1v1.15h-1zM4 109h1v1.15h-1zM4 114h1v1.15h-1zM4 118h1v1.15h-1zM4 120h1v1.15h-1zM5 9h1v1.15h-1zM5 59h1v1.15h-1zM5 76h1v1.15h-1zM5 103h1v1.15h-1zM5 109h1v1.15h-1zM5 126h1v1.15h-1zM5 129h1v1.15h-1zM6 17h1v1.15h-1zM6 60h1v1.15h-1zM6 101h1v1.15h-1zM6 104h1v1.15h-1zM6 116h1v1.15h-1zM7 45h1v1.15h-1zM7 55h1v1.15h-1zM7 100h1v2.15h-1zM7 110h1v2.15h-1zM7 122h1v2.15h-1zM8 22h1v1.15h-1zM8 114h1v1.15h-1zM8 121h1v1.15h-1zM8 124h1v1.15h-1zM9 6h1v1.15h-1zM9 13h1v1.15h-1zM9 16h1v1.15h-1zM9 26h1v1.15h-1zM9 33h1v1.15h-1zM9 36h1v1.15h-1zM9 60h1v1.15h-1zM10 4h1v1.15h-1zM10 6h1v2.15h-1zM10 9h1v1.15h-1zM10 20h1v2.15h-1zM10 23h1v1.15h-1zM10 40h1v1.15h-1zM10 42h1v1.15h-1zM10 44h1v1.15h-1zM10 50h1v1.15h-1zM10 54h1v2.15h-1zM10 62h1v1.15h-1zM10 68h1v2.15h-1zM10 73h1v1.15h-1zM11 36h1v1.15h-1zM11 45h1v1.15h-1zM11 78h1v1.15h-1zM11 80h1v1.15h-1zM12 11h1v1.15h-1zM12 14h1v1.15h-1zM12 60h1v1.15h-1zM12 63h1v1.15h-1zM12 73h1v1.15h-1z"/><path fill="#edb9bb" d="M0 5h1v3.15h-1zM0 14h1v1.15h-1zM1 1h1v1.15h-1zM1 8h1v1.15h-1zM1 89h1v1.15h-1zM1 93h1v1.15h-1zM1 121h1v1.15h-1zM2 100h1v1.15h-1zM2 113h1v1.15h-1zM2 121h1v1.15h-1zM2 126h1v1.15h-1zM3 38h1v1.15h-1zM3 95h1v1.15h-1zM3 106h1v1.15h-1zM3 123h1v1.15h-1zM4 94h1v1.15h-1zM4 100h1v2.15h-1zM4 103h1v1.15h-1zM4 108h1v1.15h-1zM4 124h1v1.15h-1zM4 128h1v1.15h-1zM4 131h1v1.15h-1zM5 42h1v1.15h-1zM5 120h1v1.15h-1zM6 100h1v1.15h-1zM6 118h1v1.15h-1zM7 102h1v1.15h-1zM7 106h1v2.15h-1zM7 119h1v1.15h-1zM7 121h1v1.15h-1zM7 126h1v1.15h-1zM7 128h1v1.15h-1zM7 131h1v1.15h-1zM8 42h1v1.15h-1zM8 97h1v1.15h-1zM8 106h1v1.15h-1zM8 109h1v1.15h-1zM8 117h1v2.15h-1zM8 120h1v1.15h-1zM8 128h1v1.15h-1zM9 24h1v1.15h-1zM9 27h1v1.15h-1zM9 50h1v2.15h-1zM9 73h1v1.15h-1zM10 8h1v1.15h-1zM10 15h1v1.15h-1zM10 30h1v1.15h-1zM10 41h1v1.15h-1zM10 47h1v1.15h-1zM10 52h1v1.15h-1zM11 19h1v1.15h-1zM11 38h1v1.15h-1zM11 41h1v1.15h-1zM11 44h1v1.15h-1zM11 47h1v1.15h-1zM11 79h1v1.15h-1zM11 81h1v1.15h-1zM11 83h1v1.15h-1zM12 9h1v1.15h-1zM12 64h1v2.15h-1z"/><path fill="#eaadaf" d="M0 8h1v1.15h-1zM0 10h1v1.15h-1zM2 90h1v1.15h-1zM2 92h1v1.15h-1zM2 94h1v1.15h-1zM2 104h1v3.15h-1zM2 127h1v1.15h-1zM2 131h1v1.15h-1zM3 100h1v2.15h-1zM3 105h1v1.15h-1zM3 120h1v1.15h-1zM3 122h1v1.15h-1zM4 104h1v1.15h-1zM4 107h1v1.15h-1zM4 110h1v1.15h-1zM4 112h1v1.15h-1zM4 115h1v1.15h-1zM5 32h1v1.15h-1zM5 98h1v1.15h-1zM5 121h1v2.15h-1zM5 124h1v1.15h-1zM6 92h1v1.15h-1zM6 98h1v1.15h-1zM6 102h1v1.15h-1zM6 105h1v1.15h-1zM6 108h1v2.15h-1zM7 92h1v1.15h-1zM7 95h1v1.15h-1zM7 108h1v1.15h-1zM7 114h1v1.15h-1zM7 117h1v1.15h-1zM8 95h1v1.15h-1zM8 98h1v1.15h-1zM8 107h1v1.15h-1zM8 110h1v1.15h-1zM8 127h1v1.15h-1zM8 130h1v1.15h-1zM9 9h1v2.15h-1zM9 12h1v1.15h-1zM9 15h1v1.15h-1zM9 17h1v1.15h-1zM9 47h1v1.15h-1zM9 62h1v1.15h-1zM10 2h1v1.15h-1zM10 5h1v1.15h-1zM10 22h1v1.15h-1zM10 59h1v1.15h-1zM10 67h1v1.15h-1zM10 77h1v1.15h-1zM11 37h1v1.15h-1zM11 42h1v2.15h-1zM11 71h1v1.15h-1zM11 88h1v1.15h-1zM12 13h1v1.15h-1zM12 47h1v1.15h-1zM12 56h1v1.15h-1zM12 59h1v1.15h-1zM12 62h1v1.15h-1zM12 70h1v2.15h-1zM12 88h1v3.15h-1z"/><path fill="#e7a0a2" d="M2 98h1v1.15h-1zM2 107h1v3.15h-1zM2 111h1v1.15h-1zM2 115h1v1.15h-1zM2 119h1v1.15h-1zM2 124h1v2.15h-1zM3 97h1v2.15h-1zM3 121h1v1.15h-1zM3 124h1v1.15h-1zM3 127h1v1.15h-1zM3 130h1v1.15h-1zM4 98h1v1.15h-1zM4 113h1v1.15h-1zM4 125h1v1.15h-1zM5 97h1v1.15h-1zM5 128h1v1.15h-1zM6 93h1v1.15h-1zM6 97h1v1.15h-1zM6 112h1v1.15h-1zM6 117h1v1.15h-1zM7 96h1v1.15h-1zM7 113h1v1.15h-1zM8 100h1v1.15h-1zM9 0h1v1.15h-1zM9 18h1v2.15h-1zM9 29h1v1.15h-1zM9 34h1v2.15h-1zM9 37h1v1.15h-1zM9 42h1v1.15h-1zM9 46h1v1.15h-1zM9 57h1v2.15h-1zM9 68h1v1.15h-1zM9 74h1v1.15h-1zM9 76h1v2.15h-1zM10 13h1v1.15h-1zM10 48h1v2.15h-1zM10 53h1v1.15h-1zM10 58h1v1.15h-1zM10 72h1v1.15h-1zM10 83h1v1.15h-1zM11 18h1v1.15h-1zM11 25h1v4.15h-1zM11 40h1v1.15h-1zM11 63h1v1.15h-1zM11 73h1v1.15h-1zM11 77h1v1.15h-1zM11 87h1v1.15h-1zM11 91h1v1.15h-1zM12 5h1v1.15h-1zM12 55h1v1.15h-1zM12 61h1v1.15h-1zM12 72h1v1.15h-1zM12 74h1v1.15h-1z"/><path fill="#e39496" d="M0 15h1v1.15h-1zM2 93h1v1.15h-1zM2 96h1v1.15h-1zM2 101h1v1.15h-1zM2 114h1v1.15h-1zM2 116h1v1.15h-1zM2 128h1v1.15h-1zM3 99h1v1.15h-1zM3 128h1v1.15h-1zM4 99h1v1.15h-1zM4 106h1v1.15h-1zM4 126h1v1.15h-1zM5 31h1v1.15h-1zM6 110h1v1.15h-1zM7 93h1v1.15h-1zM7 97h1v3.15h-1zM8 101h1v1.15h-1zM8 108h1v1.15h-1zM9 11h1v1.15h-1zM9 31h1v2.15h-1zM9 45h1v1.15h-1zM9 64h1v2.15h-1zM10 0h1v2.15h-1zM10 14h1v1.15h-1zM10 51h1v1.15h-1zM10 57h1v1.15h-1zM10 63h1v2.15h-1zM10 76h1v1.15h-1zM10 78h1v1.15h-1zM10 80h1v3.15h-1zM10 87h1v3.15h-1zM10 91h1v1.15h-1zM11 34h1v1.15h-1zM11 54h1v1.15h-1zM12 6h1v2.15h-1zM12 10h1v1.15h-1zM12 46h1v1.15h-1zM12 67h1v1.15h-1zM12 81h1v2.15h-1zM12 87h1v1.15h-1zM12 91h1v1.15h-1z"/><path fill="#e08789" d="M2 102h1v1.15h-1zM2 110h1v1.15h-1zM2 123h1v1.15h-1zM3 96h1v1.15h-1zM5 29h1v2.15h-1zM6 96h1v1.15h-1zM6 111h1v1.15h-1zM6 113h1v1.15h-1zM7 112h1v1.15h-1zM8 99h1v1.15h-1zM8 112h1v1.15h-1zM9 48h1v2.15h-1zM9 53h1v2.15h-1zM9 59h1v1.15h-1zM9 61h1v1.15h-1zM9 67h1v1.15h-1zM9 75h1v1.15h-1zM9 84h1v1.15h-1zM10 74h1v2.15h-1zM10 84h1v1.15h-1zM11 23h1v1.15h-1zM11 35h1v1.15h-1zM11 39h1v1.15h-1zM11 61h1v1.15h-1zM11 64h1v3.15h-1zM11 68h1v1.15h-1zM11 72h1v1.15h-1zM12 8h1v1.15h-1zM12 12h1v1.15h-1zM12 43h1v1.15h-1zM12 49h1v1.15h-1zM12 53h1v2.15h-1zM12 77h1v1.15h-1zM12 80h1v1.15h-1zM12 84h1v1.15h-1z"/><path fill="#de7b7d" d="M2 112h1v1.15h-1zM2 122h1v1.15h-1zM4 116h1v2.15h-1zM5 107h1v1.15h-1zM5 113h1v1.15h-1zM8 131h1v1.15h-1zM9 8h1v1.15h-1zM9 52h1v1.15h-1zM9 55h1v2.15h-1zM9 71h1v1.15h-1zM9 79h1v1.15h-1zM9 85h1v1.15h-1zM9 87h1v2.15h-1zM9 91h1v1.15h-1zM10 65h1v1.15h-1zM10 79h1v1.15h-1zM11 15h1v1.15h-1zM11 24h1v1.15h-1zM11 49h1v1.15h-1zM11 55h1v1.15h-1zM11 69h1v1.15h-1zM11 75h1v2.15h-1zM12 19h1v1.15h-1zM12 48h1v1.15h-1zM12 52h1v1.15h-1zM12 57h1v1.15h-1zM12 78h1v1.15h-1z"/><path fill="#da6f71" d="M0 3h1v2.15h-1zM2 95h1v1.15h-1zM2 97h1v1.15h-1zM2 120h1v1.15h-1zM9 30h1v1.15h-1zM9 78h1v1.15h-1zM10 85h1v1.15h-1zM10 90h1v1.15h-1zM11 9h1v1.15h-1zM11 13h1v1.15h-1zM11 17h1v1.15h-1zM11 74h1v1.15h-1zM12 31h1v1.15h-1zM12 38h1v1.15h-1zM12 50h1v1.15h-1zM12 85h1v2.15h-1z"/><path fill="#d86264" d="M5 114h1v1.15h-1zM5 118h1v1.15h-1zM6 99h1v1.15h-1zM6 114h1v1.15h-1zM8 111h1v1.15h-1zM9 72h1v1.15h-1zM9 81h1v1.15h-1zM9 83h1v1.15h-1zM9 86h1v1.15h-1zM9 90h1v1.15h-1zM10 86h1v1.15h-1zM11 14h1v1.15h-1zM11 29h1v1.15h-1zM11 48h1v1.15h-1zM11 50h1v1.15h-1zM11 57h1v1.15h-1zM12 25h1v1.15h-1zM12 40h1v1.15h-1zM12 44h1v1.15h-1zM12 51h1v1.15h-1zM12 58h1v1.15h-1zM12 79h1v1.15h-1z"/><path fill="#d45658" d="M5 112h1v1.15h-1zM5 116h1v1.15h-1zM9 66h1v1.15h-1zM9 69h1v1.15h-1zM9 80h1v1.15h-1zM9 82h1v1.15h-1zM9 89h1v1.15h-1zM11 20h1v2.15h-1zM11 53h1v1.15h-1zM11 56h1v1.15h-1zM11 59h1v1.15h-1zM11 67h1v1.15h-1zM11 70h1v1.15h-1zM12 18h1v1.15h-1zM12 23h1v2.15h-1zM12 26h1v2.15h-1zM12 29h1v1.15h-1zM12 34h1v2.15h-1zM12 41h1v2.15h-1zM12 45h1v1.15h-1z"/><path fill="#d14b4e" d="M0 2h1v1.15h-1zM5 115h1v1.15h-1zM9 70h1v1.15h-1zM11 6h1v1.15h-1zM11 10h1v1.15h-1zM11 22h1v1.15h-1zM11 30h1v1.15h-1zM11 32h1v1.15h-1zM11 58h1v1.15h-1zM11 60h1v1.15h-1zM12 21h1v1.15h-1zM12 33h1v1.15h-1zM12 36h1v1.15h-1zM12 39h1v1.15h-1zM12 83h1v1.15h-1z"/><path fill="#ce3f42" d="M0 1h1v1.15h-1zM11 11h1v2.15h-1zM11 16h1v1.15h-1zM11 31h1v1.15h-1zM11 33h1v1.15h-1zM11 51h1v1.15h-1zM12 20h1v1.15h-1zM12 22h1v1.15h-1zM12 28h1v1.15h-1zM12 30h1v1.15h-1z"/><path fill="#cb3338" d="M0 0h1v1.15h-1zM5 119h1v1.15h-1zM11 5h1v1.15h-1zM11 8h1v1.15h-1zM12 37h1v1.15h-1z"/><path fill="#c8282d" d="M5 117h1v1.15h-1zM11 7h1v1.15h-1zM11 52h1v1.15h-1zM12 32h1v1.15h-1z"/><path fill="#c62227" d="M11 62h1v1.15h-1z"/></g><path fill="none" stroke="#000" stroke-width="0.75" d="M376.2 72.1H367.2V72.3H376.2M376.2 72.5H364V72.6H376.2M364 72.5H358.8V72.8H376.2M367.2 72.2H353.7V72.7H358.8M376.2 73.2H365.1V73.4H376.2M376.2 73H362.2V73.3H365.1M376.2 73.7H368.7V73.9H376.2M376.2 74.1H368.1V74.3H376.2M368.7 73.8H366.2V74.2H368.1M376.2 73.6H363.2V74H366.2M376.2 74.5H367.1V74.7H376.2M367.1 74.6H364.5V74.8H376.2M363.2 73.8H361.5V74.7H364.5M362.2 73.1H354.7V74.2H361.5M353.7 72.4H353.1V73.7H354.7M376.2 75H368.3V75.2H376.2M376.2 75.4H363.2V75.6H376.2M376.2 75.7H366.8V75.9H376.2M363.2 75.5H360.3V75.8H366.8M376.2 76.8H371.5V77H376.2M376.2 76.7H370.1V76.9H371.5M376.2 76.5H368.5V76.8H370.1M376.2 76.3H366.2V76.6H368.5M376.2 77.6H369.4V77.8H376.2M376.2 77.4H367.3V77.7H369.4M376.2 77.2H364.8V77.5H367.3M366.2 76.5H363.2V77.4H364.8M376.2 76.1H361.6V76.9H363.2M376.2 77.9H368.8V78.1H376.2M368.8 78H366.4V78.3H376.2M366.4 78.2H360.4V78.5H376.2M361.6 76.5H359.6V78.3H360.4M376.2 78.7H366.5V78.9H376.2M376.2 79H362.7V79.2H376.2M366.5 78.8H359.5V79.1H362.7M376.2 79.6H368.3V79.8H376.2M376.2 79.4H367.6V79.7H368.3M367.6 79.5H361.8V80H376.2M376.2 80.3H366.6V80.5H376.2M366.6 80.4H365.4V80.7H376.2M365.4 80.5H363.9V80.9H376.2M376.2 80.1H361.3V80.7H363.9M361.8 79.7H359.4V80.4H361.3M359.4 80.1H358.6V81H376.2M376.2 81.2H369.4V81.4H376.2M369.4 81.3H364.6V81.6H376.2M358.6 80.6H357.6V81.5H364.6M376.2 81.8H364V82H376.2M357.6 81H355.9V81.9H364M376.2 82.1H368.7V82.3H376.2M368.7 82.2H364.2V82.5H376.2M364.2 82.4H361.4V82.7H376.2M376.2 82.9H367.8V83.1H376.2M376.2 83.2H369.6V83.4H376.2M367.8 83H359.4V83.3H369.6M361.4 82.5H356.8V83.1H359.4M355.9 81.4H352.9V82.8H356.8M376.2 83.6H368.9V83.8H376.2M376.2 84H366.9V84.2H376.2M376.2 84.5H373.2V84.7H376.2M373.2 84.6H370.4V84.9H376.2M370.4 84.7H368.4V85.1H376.2M368.4 84.9H366.8V85.3H376.2M376.2 84.3H365.4V85.1H366.8M366.9 84.1H364.3V84.7H365.4M376.2 85.6H367.2V85.8H376.2M376.2 85.4H365.8V85.7H367.2M364.3 84.4H363.4V85.6H365.8M368.9 83.7H360.8V85H363.4M376.2 86H368.8V86.2H376.2M360.8 84.3H358.1V86.1H368.8M376.2 86.5H369.2V86.7H376.2M369.2 86.6H368.1V86.9H376.2M376.2 86.3H365.8V86.8H368.1M376.2 87.1H368.7V87.3H376.2M365.8 86.6H363.4V87.2H368.7M376.2 87.6H365.9V87.8H376.2M376.2 87.4H362.9V87.7H365.9M376.2 88H364.7V88.2H376.2M376.2 88.4H368.9V88.5H376.2M364.7 88.1H364.1V88.5H368.9M376.2 88.9H369.7V89.1H376.2M376.2 88.7H366.4V89H369.7M364.1 88.3H362.1V88.9H366.4M362.9 87.6H359.3V88.6H362.1M363.4 86.9H357.2V88.1H359.3M376.2 89.3H368V89.5H376.2M376.2 89.8H370.3V90H376.2M376.2 89.6H367.6V89.9H370.3M367.6 89.8H359.3V90.2H376.2M376.2 90.9H369.6V91.1H376.2M376.2 90.7H366.5V91H369.6M376.2 91.3H367.1V91.5H376.2M366.5 90.9H364.4V91.4H367.1M376.2 90.6H363V91.1H364.4M376.2 90.4H361.2V90.8H363M359.3 90H358.7V90.6H361.2M368 89.4H357.1V90.3H358.7M357.2 87.5H355.6V89.8H357.1M376.2 91.6H367V91.8H376.2M367 91.7H363.2V92H376.2M363.2 91.9H362V92.2H376.2M362 92H358.1V92.4H376.2M376.2 92.6H365.2V92.7H376.2M376.2 93.3H367.7V93.5H376.2M376.2 93.1H366.2V93.4H367.7M376.2 92.9H362.8V93.2H366.2M376.2 93.7H368.2V93.8H376.2M362.8 93.1H361.7V93.8H368.2M365.2 92.7H359.8V93.4H361.7M358.1 92.2H357.1V93H359.8M355.6 88.6H353.6V92.6H357.1M376.2 94H365.5V94.2H376.2M376.2 94.4H369V94.6H376.2M376.2 94.8H368.2V94.9H376.2M369 94.5H366.3V94.8H368.2M366.3 94.7H364.8V95.1H376.2M376.2 95.5H368.1V95.7H376.2M376.2 95.3H366.9V95.6H368.1M366.9 95.4H365.8V95.9H376.2M364.8 94.9H362.9V95.6H365.8M365.5 94.1H360.5V95.3H362.9M353.6 90.6H352.2V94.7H360.5M376.2 96.2H366.3V96.4H376.2M376.2 96.6H366V96.8H376.2M376.2 96.9H370.4V97.1H376.2M370.4 97H367.4V97.3H376.2M366 96.7H364.1V97.2H367.4M366.3 96.3H363.1V96.9H364.1M376.2 96H361.3V96.6H363.1M361.3 96.3H359.7V97.5H376.2M376.2 97.7H367.1V97.9H376.2M376.2 98H367.4V98.2H376.2M367.4 98.1H365.4V98.4H376.2M376.2 98.6H369.2V98.8H376.2M376.2 99H365.6V99.1H376.2M369.2 98.7H364.1V99.1H365.6M365.4 98.3H363.4V98.9H364.1M367.1 97.8H361.9V98.6H363.4M376.2 99.5H367.3V99.7H376.2M376.2 99.3H365.5V99.6H367.3M376.2 100.1H368.3V100.2H376.2M368.3 100.1H366.8V100.4H376.2M376.2 100.6H367.1V100.8H376.2M366.8 100.3H364.3V100.7H367.1M376.2 99.9H362.7V100.5H364.3M365.5 99.5H361.6V100.2H362.7M361.9 98.2H358.8V99.8H361.6M359.7 96.9H357.5V99H358.8M376.2 101.2H368.6V101.3H376.2M368.6 101.2H361.7V101.5H376.2M376.2 101H360.7V101.4H361.7M357.5 98H354.5V101.2H360.7M376.2 102.1H368.9V102.2H376.2M376.2 101.9H367.2V102.2H368.9M376.2 101.7H365.4V102H367.2M365.4 101.9H364.4V102.4H376.2M364.4 102.1H358.8V102.6H376.2M376.2 102.8H364.8V103H376.2M376.2 103.2H366.2V103.3H376.2M364.8 102.9H363.6V103.3H366.2M363.6 103.1H362.8V103.5H376.2M362.8 103.3H360V103.7H376.2M358.8 102.4H356.7V103.5H360M376.2 104.1H366.7V104.3H376.2M376.2 103.9H363.7V104.2H366.7M363.7 104H363.1V104.4H376.2M363.1 104.2H358.7V104.6H376.2M376.2 105H369.5V105.2H376.2M376.2 105.4H368.4V105.5H376.2M368.4 105.4H366.7V105.7H376.2M369.5 105.1H364.4V105.6H366.7M376.2 104.8H362.9V105.3H364.4M376.2 105.9H368.1V106.1H376.2M368.1 106H365.2V106.3H376.2M376.2 106.6H368.7V106.8H376.2M368.7 106.7H367.5V107H376.2M367.5 106.9H365.6V107.2H376.2M376.2 106.5H363.5V107H365.6M376.2 107.6H367.5V107.7H376.2M376.2 107.4H365.5V107.6H367.5M365.5 107.5H363.5V107.9H376.2M363.5 106.7H362.7V107.7H363.5M376.2 108.5H368.3V108.6H376.2M376.2 108.3H367.1V108.6H368.3M376.2 108.1H364.9V108.4H367.1M362.7 107.2H360.9V108.3H364.9M365.2 106.1H360V107.7H360.9M362.9 105.1H357.8V106.9H360M358.7 104.4H356.6V106H357.8M356.7 102.9H353.9V105.2H356.6M376.2 108.8H368.8V109H376.2M368.8 108.9H367.4V109.2H376.2M376.2 109.6H364.3V109.7H376.2M364.3 109.7H362.9V109.9H376.2M376.2 109.4H360.5V109.8H362.9M367.4 109.1H358.8V109.6H360.5M376.2 110.3H364.9V110.5H376.2M376.2 110.7H364.2V110.8H376.2M364.9 110.4H362.1V110.7H364.2M376.2 110.1H359.5V110.6H362.1M376.2 111H369.3V111.2H376.2M369.3 111.1H367.3V111.4H376.2M376.2 111.8H368.7V111.9H376.2M376.2 111.6H367.6V111.8H368.7M367.6 111.7H364.8V112.1H376.2M376.2 112.3H369.4V112.5H376.2M369.4 112.4H367.3V112.7H376.2M367.3 112.5H365.3V112.9H376.2M364.8 111.9H363.5V112.7H365.3M367.3 111.3H360.7V112.3H363.5M359.5 110.3H358.7V111.8H360.7M376.2 113.4H370.7V113.6H376.2M376.2 113.2H368.4V113.5H370.7M376.2 113H365.6V113.4H368.4M365.6 113.2H359.5V113.8H376.2M358.7 111.1H356V113.5H359.5M358.8 109.3H354.5V112.3H356M376.2 113.9H363.6V114.1H376.2M376.2 114.3H369.3V114.5H376.2M363.6 114H357.3V114.4H369.3M376.2 114.7H365.2V114.9H376.2M376.2 115H367.3V115.2H376.2M365.2 114.8H364.5V115.1H367.3M376.2 115.6H367.9V115.8H376.2M376.2 115.4H365.7V115.7H367.9M376.2 116H366.8V116.1H376.2M365.7 115.5H362.9V116H366.8M376.2 116.5H369.2V116.7H376.2M376.2 116.3H366.1V116.6H369.2M362.9 115.8H361.9V116.5H366.1M376.2 116.9H367.8V117.1H376.2M361.9 116.1H360.1V117H367.8M364.5 115H357.4V116.5H360.1M376.2 117.2H367.9V117.4H376.2M376.2 117.6H367.5V117.8H376.2M367.9 117.3H365.2V117.7H367.5M357.4 115.7H356.6V117.5H365.2M357.3 114.2H353.7V116.6H356.6M376.2 118.2H369.7V118.3H376.2M369.7 118.2H367.4V118.5H376.2M376.2 118H364.7V118.4H367.4M376.2 118.7H367.4V118.9H376.2M367.4 118.8H366.1V119.1H376.2M366.1 118.9H361.2V119.2H376.2M376.2 119.4H365.9V119.6H376.2M376.2 119.8H369.2V120H376.2M376.2 120.2H370.2V120.3H376.2M370.2 120.3H367.5V120.5H376.2M369.2 119.9H365.2V120.4H367.5M365.9 119.5H362.6V120.1H365.2M361.2 119.1H360.5V119.8H362.6M364.7 118.2H352.2V119.5H360.5M376.2 120.9H364.6V121.1H376.2M364.6 121H363.9V121.3H376.2M363.9 121.1H363.1V121.4H376.2M376.2 121.6H366.7V121.8H376.2M363.1 121.3H360V121.7H366.7M376.2 120.7H358.2V121.5H360M376.2 122.4H369.5V122.5H376.2M376.2 122.2H367.8V122.4H369.5M376.2 122H367V122.3H367.8M367 122.1H364.9V122.7H376.2M364.9 122.4H358.6V122.9H376.2M358.2 121.1H356.7V122.7H358.6M376.2 123.1H369.4V123.3H376.2M369.4 123.2H367V123.5H376.2M356.7 121.9H353.8V123.3H367M376.2 123.6H368.5V123.8H376.2M368.5 123.7H360.7V124H376.2M376.2 124.2H362.7V124.4H376.2M362.7 124.3H359.7V124.5H376.2M360.7 123.9H358.1V124.4H359.7M376.2 124.9H367.5V125.1H376.2M376.2 124.7H364.6V125H367.5M358.1 124.1H355.3V124.9H364.6M353.8 122.6H352.3V124.5H355.3M376.2 125.5H367.3V125.6H376.2M367.3 125.6H366.6V125.8H376.2M376.2 125.3H363.7V125.7H366.6M376.2 126H366.8V126.2H376.2M366.8 126.1H363.7V126.4H376.2M363.7 125.5H361.2V126.2H363.7M376.2 126.7H367.1V126.9H376.2M376.2 126.6H363.7V126.8H367.1M376.2 127.3H367.7V127.5H376.2M376.2 127.1H363.6V127.4H367.7M363.7 126.7H362.3V127.2H363.6M362.3 127H359.3V127.7H376.2M361.2 125.9H356.7V127.3H359.3M376.2 127.8H364.7V128H376.2M356.7 126.6H355.4V127.9H364.7M376.2 128.4H365.1V128.6H376.2M376.2 128.9H368.3V129.1H376.2M368.3 129H366.3V129.3H376.2M376.2 128.8H364.9V129.2H366.3M365.1 128.5H362.1V129H364.9M376.2 128.2H357.6V128.7H362.1M376.2 129.5H366.6V129.7H376.2M366.6 129.6H363.6V129.8H376.2M357.6 128.5H355.5V129.7H363.6M355.4 127.3H353.8V129.1H355.5M376.2 130.2H365.4V130.4H376.2M365.4 130.3H359.7V130.6H376.2M376.2 130H358.8V130.4H359.7M358.8 130.2H355.9V130.8H376.2M376.2 130.9H368.5V131.1H376.2M368.5 131H366.5V131.3H376.2M376.2 131.5H367.8V131.7H376.2M366.5 131.2H363.2V131.6H367.8M355.9 130.5H353V131.4H363.2M376.2 131.9H367.6V132H376.2M376.2 132.4H366.4V132.6H376.2M376.2 132.8H365.8V133H376.2M366.4 132.5H362V132.9H365.8M376.2 132.2H361.3V132.7H362M367.6 132H360.1V132.5H361.3M376.2 133.1H365.7V133.3H376.2M376.2 133.5H369.5V133.7H376.2M376.2 133.9H367.1V134.1H376.2M369.5 133.6H366.1V134H367.1M365.7 133.2H364.6V133.8H366.1M364.6 133.5H362.6V134.2H376.2M360.1 132.2H358.2V133.9H362.6M376.2 134.6H370.4V134.8H376.2M376.2 134.4H367.8V134.7H370.4M367.8 134.6H366V135H376.2M376.2 135.1H368V135.3H376.2M368 135.2H366.9V135.5H376.2M366 134.8H359.7V135.4H366.9M376.2 135.7H366.4V135.9H376.2M366.4 135.8H364.9V136.1H376.2M376.2 136.2H365.5V136.4H376.2M364.9 135.9H359.9V136.3H365.5M359.7 135.1H357.7V136.1H359.9M358.2 133H353.2V135.6H357.7M376.2 137H369.1V137.2H376.2M369.1 137.1H367.2V137.3H376.2M376.2 137.5H366.8V137.7H376.2M367.2 137.2H364.9V137.6H366.8M364.9 137.4H363.8V137.9H376.2M376.2 136.8H361.2V137.7H363.8M376.2 136.6H360.5V137.2H361.2M376.2 138.1H369V138.3H376.2M369 138.2H366.5V138.4H376.2M376.2 138.6H365.5V138.8H376.2M366.5 138.3H363.6V138.7H365.5M360.5 136.9H358.6V138.5H363.6M376.2 139H367.6V139.2H376.2M367.6 139.1H362.9V139.4H376.2M376.2 139.7H366.2V139.9H376.2M376.2 139.5H363.2V139.8H366.2M376.2 140.3H368.6V140.5H376.2M376.2 140.1H367.2V140.4H368.6M376.2 140.8H369V141H376.2M376.2 140.6H367.2V140.9H369M367.2 140.2H364.3V140.8H367.2M363.2 139.7H361.4V140.5H364.3M362.9 139.2H359.9V140.1H361.4M376.2 141.4H369.1V141.5H376.2M369.1 141.5H366.6V141.7H376.2M376.2 141.2H361.3V141.6H366.6M359.9 139.7H358.1V141.4H361.3M358.6 137.7H357.1V140.5H358.1M376.2 141.9H364.8V142.1H376.2M376.2 142.3H363.6V142.5H376.2M376.2 142.6H367.1V142.8H376.2M376.2 143.2H368.6V143.4H376.2M376.2 143H363.6V143.3H368.6M367.1 142.7H361.7V143.1H363.6M363.6 142.4H359.3V142.9H361.7M364.8 142H358.6V142.7H359.3M376.2 143.6H369.5V143.7H376.2M369.5 143.6H367.3V143.9H376.2M376.2 144.5H367.3V144.7H376.2M376.2 144.3H364.3V144.6H367.3M376.2 144.1H359.4V144.4H364.3M367.3 143.8H358.5V144.3H359.4M358.6 142.3H355.8V144H358.5M357.1 139.1H354.5V143.2H355.8M376.2 145.2H367.8V145.4H376.2M367.8 145.3H365.8V145.6H376.2M376.2 145H363.7V145.4H365.8M376.2 144.8H358.6V145.2H363.7M358.6 145H355.9V145.8H376.2M376.2 145.9H366.1V146.1H376.2M355.9 145.4H354.8V146H366.1M354.5 141.1H353.1V145.7H354.8M376.2 146.5H366.4V146.7H376.2M366.4 146.6H362.6V146.8H376.2M376.2 146.3H358V146.7H362.6M376.2 147H368.1V147.2H376.2M376.2 147.6H366V147.8H376.2M376.2 147.4H363.2V147.7H366M363.2 147.5H361.9V147.9H376.2M368.1 147.1H360.4V147.7H361.9M376.2 148.1H364V148.3H376.2M376.2 148.5H364.7V148.7H376.2M364 148.2H362.4V148.6H364.7M376.2 148.9H369.2V149H376.2M362.4 148.4H361.1V148.9H369.2M360.4 147.4H359.2V148.7H361.1M376.2 149.2H366.1V149.4H376.2M376.2 149.6H364.9V149.8H376.2M364.9 149.7H359.8V150H376.2M366.1 149.3H357V149.8H359.8M376.2 150.5H369.2V150.7H376.2M376.2 150.3H360.6V150.6H369.2M376.2 150.1H358.9V150.5H360.6M357 149.6H354.7V150.3H358.9M376.2 151.1H371.1V151.2H376.2M376.2 150.9H368.3V151.1H371.1M368.3 151H365.8V151.4H376.2M376.2 151.6H365.8V151.8H376.2M376.2 152.1H370.1V152.3H376.2M376.2 152H367.8V152.2H370.1M365.8 151.7H364.9V152.1H367.8M376.2 152.5H364.9V152.7H376.2M364.9 152.6H359.9V152.9H376.2M364.9 151.9H354.5V152.7H359.9M376.2 153.1H367.9V153.2H376.2M367.9 153.2H366.6V153.4H376.2M366.6 153.3H364.5V153.6H376.2M364.5 153.5H363.2V153.8H376.2M363.2 153.6H362.3V154H376.2M376.2 154.2H369.1V154.3H376.2M369.1 154.2H366.6V154.5H376.2M376.2 154.7H366.4V154.9H376.2M366.6 154.4H361.5V154.8H366.4M376.2 155.1H364.6V155.3H376.2M376.2 155.4H369.2V155.6H376.2M369.2 155.5H367.3V155.8H376.2M367.3 155.7H364.6V156H376.2M364.6 155.2H363.7V155.8H364.6M363.7 155.5H362.5V156.2H376.2M376.2 156.5H367.4V156.7H376.2M376.2 156.4H364.1V156.6H367.4M376.2 157.1H371.6V157.3H376.2M376.2 156.9H369.1V157.2H371.6M369.1 157H366.4V157.4H376.2M366.4 157.2H363.7V157.6H376.2M364.1 156.5H362.4V157.4H363.7M362.5 155.8H360.6V157H362.4M361.5 154.6H358.5V156.4H360.6M376.2 157.8H368.7V158H376.2M376.2 158.2H366.7V158.4H376.2M376.2 158.5H367.1V158.7H376.2M366.7 158.3H364.4V158.6H367.1M376.2 158.9H369.7V159.1H376.2M369.7 159H367.2V159.3H376.2M367.2 159.1H365.3V159.5H376.2M364.4 158.5H363.3V159.3H365.3M368.7 157.9H361.1V158.9H363.3M376.2 159.6H364.7V159.8H376.2M361.1 158.4H358.7V159.7H364.7M358.5 155.5H355.8V159.1H358.7M362.3 153.8H354.2V157.3H355.8M376.2 160H364.8V160.2H376.2M364.8 160.1H359.6V160.4H376.2M376.2 160.6H368.7V160.7H376.2M368.7 160.6H360.8V160.9H376.2M360.8 160.8H359.3V161.1H376.2M359.6 160.2H358.3V160.9H359.3M376.2 161.5H366.8V161.7H376.2M376.2 161.3H365.8V161.6H366.8M376.2 162.2H370.2V162.4H376.2M376.2 162H367.6V162.3H370.2M376.2 161.8H365.4V162.2H367.6M365.8 161.4H363.2V162H365.4M363.2 161.7H360.7V162.6H376.2M376.2 162.9H368.7V163.1H376.2M376.2 162.7H367.1V163H368.7M376.2 163.3H369.2V163.5H376.2M367.1 162.9H360.7V163.4H369.2M376.2 163.7H368V163.8H376.2M368 163.8H362.1V164H376.2M360.7 163.1H359.7V163.9H362.1M360.7 162.1H358.4V163.5H359.7M358.3 160.6H356.8V162.8H358.4M376.2 164.2H363.3V164.4H376.2M376.2 164.6H367V164.8H376.2M376.2 165.1H366.2V165.3H376.2M376.2 164.9H365.3V165.2H366.2M376.2 165.5H368.3V165.7H376.2M365.3 165.1H362.8V165.6H368.3M367 164.7H362V165.3H362.8M363.3 164.3H360.7V165H362M356.8 161.7H354.6V164.7H360.7M376.2 165.9H367.9V166H376.2M376.2 166.2H365.2V166.4H376.2M376.2 166.6H366.3V166.8H376.2M376.2 167H366.8V167.1H376.2M366.3 166.7H361.2V167H366.8M376.2 167.3H368.2V167.5H376.2M361.2 166.9H358.4V167.4H368.2M358.4 167.1H356.9V167.7H376.2M365.2 166.3H356.3V167.4H356.9M367.9 165.9H353.9V166.9H356.3M376.2 167.9H368.8V168H376.2M368.8 168H366.4V168.2H376.2M376.2 168.4H367.3V168.6H376.2M367.3 168.5H358.7V168.8H376.2M366.4 168.1H355.4V168.6H358.7M353.9 166.4H353V168.4H355.4M376.2 169.1H367.7V169.3H376.2M376.2 169H365.3V169.2H367.7M365.3 169.1H359.5V169.5H376.2M376.2 169.9H365V170.1H376.2M376.2 170.4H370.3V170.6H376.2M370.3 170.5H368.7V170.8H376.2M368.7 170.7H365.8V171H376.2M376.2 170.2H364.7V170.8H365.8M364.7 170.5H363.3V171.2H376.2M376.2 171.3H369.5V171.5H376.2M363.3 170.8H362.4V171.4H369.5M365 170H361.6V171.1H362.4M376.2 169.7H359.5V170.6H361.6M359.5 169.3H358.7V170.1H359.5M376.2 171.7H368.9V171.9H376.2M358.7 169.7H356.7V171.8H368.9M376.2 172.1H365V172.3H376.2M376.2 172.6H369.1V172.8H376.2M369.1 172.7H367.6V173H376.2M367.6 172.8H365.2V173.2H376.2M376.2 172.4H364.4V173H365.2M376.2 173.4H366.8V173.5H376.2M366.8 173.4H364.1V173.7H376.2M376.2 174.1H368.3V174.3H376.2M376.2 173.9H363.8V174.2H368.3M363.8 174H361.2V174.4H376.2M364.1 173.6H359.7V174.2H361.2M364.4 172.7H357V173.9H359.7M365 172.2H356.2V173.3H357M356.7 170.8H354.3V172.7H356.2M376.2 174.6H364.5V174.8H376.2M376.2 175H371.7V175.2H376.2M371.7 175.1H369.3V175.4H376.2M369.3 175.2H368.6V175.5H376.2M368.6 175.4H365.7V175.7H376.2M365.7 175.6H362.8V175.9H376.2M364.5 174.7H359.7V175.7H362.8M376.2 176.1H368.5V176.3H376.2M376.2 176.5H366.7V176.6H376.2M366.7 176.5H365.4V176.8H376.2M376.2 177H367.3V177.2H376.2M365.4 176.7H362.6V177.1H367.3M376.2 177.6H367.5V177.7H376.2M376.2 177.4H365V177.6H367.5M365 177.5H363.2V177.9H376.2M363.2 177.7H361.7V178.1H376.2M362.6 176.9H359.8V177.9H361.7M368.5 176.2H358.3V177.4H359.8M376.2 178.3H365.5V178.5H376.2M376.2 178.7H365.8V178.8H376.2M365.5 178.4H364.7V178.7H365.8M364.7 178.6H362.8V179H376.2M376.2 179.4H366V179.6H376.2M376.2 179.2H363.7V179.5H366M376.2 179.7H367.3V179.9H376.2M363.7 179.3H359.9V179.8H367.3M362.8 178.8H359.3V179.6H359.9M376.2 180.3H369.6V180.5H376.2M376.2 180.1H359.8V180.4H369.6M376.2 180.7H366.2V180.8H376.2M366.2 180.8H359.7V181H376.2M359.8 180.3H358V180.9H359.7M359.3 179.2H355.5V180.6H358M358.3 176.8H352.7V179.9H355.5M376.2 181.8H368.6V181.9H376.2M376.2 181.6H367.4V181.8H368.6M376.2 181.4H365.7V181.7H367.4M376.2 181.2H358.7V181.6H365.7M376.2 182.1H366.1V182.3H376.2M376.2 182.5H369.5V182.7H376.2M369.5 182.6H367V182.9H376.2M366.1 182.2H364.7V182.7H367M376.2 183.4H370.6V183.6H376.2M376.2 183.2H369.5V183.5H370.6M369.5 183.4H366.6V183.8H376.2M366.6 183.6H364.2V184H376.2M376.2 183H357.5V183.8H364.2M376.2 184.1H366.7V184.3H376.2M376.2 184.5H369V184.7H376.2M369 184.6H363.3V184.9H376.2M376.2 185H363.2V185.2H376.2M363.3 184.7H361.3V185.1H363.2M366.7 184.2H359V184.9H361.3M359 184.6H358.3V185.4H376.2M376.2 186H365.8V186.1H376.2M376.2 185.8H362.3V186.1H365.8M376.2 185.6H361.5V185.9H362.3M376.2 186.3H364V186.5H376.2M364 186.4H360.4V186.7H376.2M361.5 185.8H359.2V186.6H360.4M358.3 185H357V186.2H359.2M357.5 183.4H355.1V185.6H357M376.2 186.9H364.3V187.1H376.2M376.2 187.6H366V187.8H376.2M376.2 187.4H364V187.7H366M376.2 187.2H361.2V187.6H364M376.2 188H369.6V188.2H376.2M376.2 188.3H366V188.5H376.2M366 188.4H364.6V188.7H376.2M369.6 188.1H364V188.6H364.6M376.2 188.9H365.1V189.1H376.2M365.1 189H362.4V189.3H376.2M364 188.3H361.7V189.1H362.4M361.2 187.4H358.8V188.7H361.7M364.3 187H355.8V188.1H358.8M376.2 189.4H369.3V189.6H376.2M369.3 189.5H364V189.8H376.2M364 189.7H357.5V190H376.2M376.2 190.3H363.4V190.5H376.2M376.2 190.2H360.8V190.4H363.4M376.2 190.7H368.6V190.9H376.2M376.2 191.1H364.8V191.3H376.2M368.6 190.8H363V191.2H364.8M363 191H359.1V191.4H376.2M360.8 190.3H353.7V191.2H359.1M376.2 191.6H364.9V191.8H376.2M364.9 191.7H364V192H376.2M376.2 192.4H367.8V192.5H376.2M376.2 192.2H362.3V192.5H367.8M376.2 192.7H368.5V192.9H376.2M368.5 192.8H367V193.1H376.2M376.2 193.3H369.7V193.5H376.2M367 193H365.3V193.4H369.7M376.2 193.6H366.5V193.8H376.2M365.3 193.2H363.2V193.7H366.5M362.3 192.3H360.9V193.4H363.2M376.2 194.2H367.4V194.4H376.2M376.2 194H366.4V194.3H367.4M366.4 194.1H362.1V194.6H376.2M376.2 194.7H368.9V194.9H376.2M376.2 195.1H365.2V195.3H376.2M365.2 195.2H361.4V195.5H376.2M376.2 195.6H368.3V195.8H376.2M368.3 195.7H366.1V196H376.2M366.1 195.9H361.1V196.2H376.2M361.4 195.3H359.1V196H361.1M368.9 194.8H358.2V195.7H359.1M362.1 194.3H355.9V195.3H358.2M376.2 196.4H362.7V196.6H376.2M376.2 196.9H367.2V197.1H376.2M376.2 196.7H365.9V197H367.2M376.2 197.3H371.5V197.5H376.2M371.5 197.4H368.6V197.7H376.2M368.6 197.5H366.2V197.8H376.2M376.2 198H368.9V198.2H376.2M368.9 198.1H367.6V198.4H376.2M376.2 198.6H367.6V198.8H376.2M367.6 198.3H366.2V198.7H367.6M366.2 197.7H364.6V198.5H366.2M365.9 196.9H362.9V198.1H364.6M376.2 199.3H366.7V199.5H376.2M376.2 199.1H364.8V199.4H366.7M376.2 198.9H362.2V199.3H364.8M362.9 197.5H360V199.1H362.2M362.7 196.5H358.5V198.3H360M376.2 199.7H365.2V199.9H376.2M376.2 200H367.2V200.2H376.2M365.2 199.8H362.4V200.1H367.2M362.4 199.9H360.9V200.4H376.2M376.2 200.6H370.1V200.8H376.2M370.1 200.7H367.3V200.9H376.2M360.9 200.2H357.7V200.8H367.3M358.5 197.4H356V200.5H357.7M355.9 194.8H353.1V198.9H356M376.2 201.3H365.9V201.5H376.2M376.2 201.1H364.2V201.4H365.9M376.2 201.9H367V202H376.2M376.2 201.7H364.1V202H367M364.2 201.3H361.2V201.8H364.1M376.2 202.4H366V202.6H376.2M366 202.5H364.2V202.8H376.2M376.2 203H371.1V203.1H376.2M371.1 203.1H369.5V203.3H376.2M369.5 203.2H366.8V203.5H376.2M366.8 203.3H364.9V203.7H376.2M364.2 202.6H352.3V203.5H364.9M376.2 203.9H364.5V204.1H376.2M364.5 204H363.8V204.2H376.2M376.2 204.8H368.2V205H376.2M376.2 204.6H361.8V204.9H368.2M376.2 204.4H359.3V204.7H361.8M363.8 204.1H357.4V204.6H359.3M376.2 205.3H367.2V205.5H376.2M376.2 205.2H364.6V205.4H367.2M376.2 205.9H363.5V206.1H376.2M363.5 206H362.9V206.3H376.2M376.2 206.4H369.6V206.6H376.2M369.6 206.5H362.2V206.8H376.2M362.9 206.1H360.6V206.7H362.2M376.2 205.7H358V206.4H360.6M364.6 205.3H352.2V206H358M376.2 207.2H367.2V207.3H376.2M376.2 207H364.9V207.3H367.2M364.9 207.1H360.4V207.5H376.2M376.2 208.1H369.5V208.3H376.2M376.2 207.9H366.8V208.2H369.5M376.2 208.4H369.6V208.6H376.2M369.6 208.5H367.4V208.8H376.2M366.8 208H365.3V208.7H367.4M365.3 208.4H363.1V209H376.2M376.2 207.7H360.8V208.7H363.1M376.2 209.4H366.9V209.5H376.2M376.2 209.2H363.3V209.4H366.9M376.2 209.9H368.9V210.1H376.2M368.9 210H365V210.3H376.2M376.2 209.7H362.6V210.1H365M363.3 209.3H361.1V209.9H362.6M360.8 208.2H358.5V209.6H361.1M360.4 207.3H357.4V208.9H358.5M376.2 210.5H366.5V210.6H376.2M376.2 211H367.6V211.2H376.2M376.2 210.8H364V211.1H367.6M366.5 210.5H360.2V211H364M376.2 211.4H364.9V211.6H376.2M360.2 210.8H354.3V211.5H364.9M376.2 212.1H365V212.3H376.2M376.2 211.9H364.1V212.2H365M376.2 211.7H362.2V212.1H364.1M376.2 212.5H366.8V212.6H376.2M362.2 211.9H358.1V212.6H366.8M376.2 212.8H366.5V213H376.2M376.2 213.2H364.9V213.4H376.2M366.5 212.9H362.6V213.3H364.9M358.1 212.2H357.4V213.1H362.6M376.2 213.6H364V213.7H376.2M376.2 213.9H363.7V214.1H376.2M364 213.7H360.2V214H363.7M357.4 212.7H355.5V213.8H360.2M354.3 211.1H352.9V213.3H355.5M376.2 214.5H368.7V214.7H376.2M376.2 214.3H363.5V214.6H368.7M376.2 214.8H366V215H376.2M376.2 215.2H369.3V215.4H376.2M366 214.9H364.4V215.3H369.3M363.5 214.4H362.5V215.1H364.4M376.2 215.6H364.6V215.8H376.2M376.2 215.9H367.7V216.1H376.2M367.7 216H366.9V216.3H376.2M364.6 215.7H363V216.2H366.9M362.5 214.8H352.7V215.9H363M376.2 216.5H367V216.7H376.2M367 216.6H363.6V216.9H376.2M363.6 216.7H356.3V217H376.2M376.2 217.4H367.7V217.6H376.2M376.2 217.2H364.7V217.5H367.7M376.2 217.8H369.4V217.9H376.2M369.4 217.9H363.7V218.1H376.2M376.2 218.3H365.8V218.5H376.2M376.2 218.7H367.1V218.9H376.2M365.8 218.4H359.4V218.8H367.1M376.2 219.2H364.4V219.4H376.2M376.2 219H361.5V219.3H364.4M359.4 218.6H358.1V219.2H361.5M363.7 218H357.3V218.9H358.1M364.7 217.4H356.5V218.4H357.3M376.2 219.6H365V219.8H376.2M376.2 220.1H365V220.3H376.2M376.2 220H361.5V220.2H365M361.5 220.1H359.4V220.5H376.2M365 219.7H357.3V220.3H359.4M376.2 221.1H366.8V221.2H376.2M376.2 220.9H365V221.1H366.8M376.2 220.7H359.2V221H365M357.3 220H354.6V220.8H359.2M376.2 221.6H368V221.8H376.2M376.2 222H369.2V222.2H376.2M368 221.7H366.6V222.1H369.2M376.2 221.4H364.4V221.9H366.6M376.2 222.3H362.8V222.5H376.2M364.4 221.6H357.4V222.4H362.8M376.2 222.7H365.9V222.9H376.2M376.2 223.1H365.9V223.2H376.2M365.9 222.8H364.9V223.2H365.9M364.9 223H364V223.4H376.2M357.4 222H354.6V223.2H364M376.2 223.6H368.7V223.8H376.2M376.2 224.2H368.3V224.3H376.2M376.2 224.5H366.9V224.7H376.2M368.3 224.3H365V224.6H366.9M376.2 224H360.2V224.4H365M368.7 223.7H359.4V224.2H360.2M376.2 225.1H370.2V225.3H376.2M376.2 224.9H367.6V225.2H370.2M376.2 225.4H369.3V225.6H376.2M367.6 225H360.7V225.5H369.3M360.7 225.3H360V225.8H376.2M376.2 226.4H368.7V226.5H376.2M376.2 226.2H366.9V226.4H368.7M376.2 226H361.4V226.3H366.9M360 225.5H358.8V226.2H361.4M359.4 224H357.1V225.8H358.8M376.2 226.7H368.8V226.9H376.2M368.8 226.8H358.4V227.1H376.2M357.1 224.9H352.8V226.9H358.4M376.2 227.6H367.1V227.8H376.2M376.2 227.5H362.1V227.7H367.1M376.2 228.4H365.4V228.5H376.2M376.2 228.2H360.3V228.5H365.4M376.2 228H358.6V228.3H360.3M362.1 227.6H352.7V228.2H358.6M376.2 228.9H367.4V229.1H376.2M376.2 228.7H365V229H367.4M365 228.9H362.7V229.3H376.2M376.2 229.5H367.5V229.6H376.2M376.2 229.8H367.1V230H376.2M367.1 229.9H358.6V230.2H376.2M367.5 229.6H355.2V230.1H358.6M376.2 230.6H366.7V230.7H376.2M376.2 230.4H366V230.7H366.7M376.2 230.9H364.1V231.1H376.2M366 230.5H362.4V231H364.1M376.2 231.3H368.6V231.5H376.2M376.2 231.7H366.1V231.8H376.2M376.2 232H366.8V232.2H376.2M366.1 231.7H363.8V232.1H366.8M368.6 231.4H362.9V231.9H363.8M362.4 230.8H354.9V231.7H362.9M355.2 229.8H352.9V231.2H354.9M376.2 232.4H364.7V232.6H376.2M376.2 232.8H364V232.9H376.2M364.7 232.5H361.7V232.8H364M376.2 233.1H363.1V233.3H376.2M361.7 232.7H355.7V233.2H363.1M376.2 233.5H366.9V233.7H376.2M355.7 232.9H354.9V233.6H366.9M376.2 234H366.8V234.2H376.2M376.2 233.8H364.5V234.1H366.8M376.2 234.4H369.3V234.6H376.2M369.3 234.5H364.2V234.8H376.2M376.2 235.1H367.4V235.3H376.2M376.2 234.9H365.5V235.2H367.4M364.2 234.6H363.1V235.1H365.5M364.5 234H361.8V234.9H363.1M376.2 235.5H369.3V235.7H376.2M369.3 235.6H365.6V235.9H376.2M376.2 236H366.7V236.2H376.2M365.6 235.7H364V236.1H366.7M364 235.9H363.2V236.4H376.2M361.8 234.4H352.2V236.2H363.2"/><path fill="none" stroke="#333" stroke-width="0.9" shape-rendering="auto" d="M353.1 73.1H351.2V75.1H368.3M351.2 74.1H344.8V75.7H360.3M359.6 77.4H351.7V78.9H359.5M352.9 82.1H350.5V85.2H358.1M351.7 78.2H349.2V83.7H350.5M354.5 99.6H352.2V104.1H353.9M352.2 92.7H349.9V101.8H352.2M354.5 110.8H351.5V115.4H353.7M351.5 113.1H350V118.8H352.2M352.3 123.6H351.1V128.2H353.8M350 116H348.9V125.9H351.1M349.9 97.2H347.4V120.9H348.9M349.2 80.9H345.6V109.1H347.4M353 130.9H352.1V134.3H353.2M352.1 132.6H350.3V143.4H353.1M358 146.5H351.1V148.1H359.2M354.7 149.9H351.7V151.2H365.8M351.7 150.6H350V152.3H354.5M351.1 147.3H348.8V151.4H350M350.3 138H347.6V149.4H348.8M354.6 163.2H351.9V167.4H353M354.3 171.7H352.1V175.2H359.7M351.9 165.3H350.2V173.5H352.1M354.2 155.5H348.3V169.4H350.2M352.7 178.3H350.5V181.4H358.7M350.5 179.9H349.3V182.5H364.7M349.3 181.2H348.2V184.5H355.1M348.3 162.5H346.4V182.8H348.2M347.6 143.7H345.5V172.6H346.4M345.6 95H344V158.2H345.5M344.8 74.9H342.4V126.6H344M357.5 189.8H351.8V190.8H353.7M351.8 190.3H350.9V191.9H364M350.9 191.1H348V192.9H360.9M355.8 187.5H346.2V192H348M361.2 201.5H351.3V202.2H376.2M351.3 201.9H350.4V203.1H352.3M350.4 202.5H348.1V204.3H357.4M353.1 196.9H346.1V203.4H348.1M346.2 189.7H343.7V200.1H346.1M352.9 212.2H350.3V215.3H352.7M357.4 208.1H349.3V213.8H350.3M356.3 216.9H350.1V217.9H356.5M349.3 210.9H348.4V217.4H350.1M352.2 205.7H346.8V214.2H348.4M354.6 220.4H351.8V222.6H354.6M376.2 227.3H351.9V227.9H352.7M352.8 225.9H351V227.6H351.9M351.8 221.5H348.8V226.7H351M362.7 229.1H350.5V230.5H352.9M354.9 233.3H351.6V235.3H352.2M350.5 229.8H348.6V234.3H351.6M348.8 224.1H348V232H348.6M346.8 209.9H344.6V228.1H348M343.7 194.9H342V219H344.6M342.4 100.7H338.2V207H342"/><path fill="#000" d="M376.2 72L366.8 72L366.8 73.15L364.61 73.15L364.61 74.54L363.82 74.54L363.82 76.42L363.2 76.42L363.2 77.99L365.95 77.99L365.95 79.86L365.37 79.86L365.37 80.61L366.54 80.61L366.54 82.11L364.38 82.11L364.38 83.12L364.69 83.12L364.69 83.98L363.2 83.98L363.2 85.58L363.7 85.58L363.7 87.46L363.4 87.46L363.4 89.19L363.77 89.19L363.77 90.15L365.59 90.15L365.59 91.37L365.2 91.37L365.2 92.01L363.2 92.01L363.2 93.26L363.2 93.26L363.2 95.09L365.05 95.09L365.05 97.07L366.66 97.07L366.66 97.67L365.5 97.67L365.5 98.35L364.26 98.35L364.26 100.17L363.2 100.17L363.2 101.15L364.49 101.15L364.49 102.28L364.21 102.28L364.21 103.12L364.67 103.12L364.67 104.65L365.13 104.65L365.13 106.62L364.92 106.62L364.92 107.37L363.63 107.37L363.63 108.48L363.2 108.48L363.2 109.76L363.62 109.76L363.62 111.17L363.69 111.17L363.69 112.64L363.2 112.64L363.2 113.86L363.2 113.86L363.2 115.7L365 115.7L365 116.4L364.31 116.4L364.31 117.5L365.87 117.5L365.87 118.65L363.63 118.65L363.63 120.14L363.2 120.14L363.2 121.7L365.93 121.7L365.93 122.46L364.37 122.46L364.37 123.43L365.52 123.43L365.52 124.77L363.84 124.77L363.84 125.92L363.2 125.92L363.2 127L364.32 127L364.32 129L365.81 129L365.81 130.07L365.49 130.07L365.49 131.88L365.92 131.88L365.92 132.99L366.82 132.99L366.82 134.35L365.51 134.35L365.51 135.33L366.3 135.33L366.3 137.27L367.4 137.27L367.4 138.66L365.7 138.66L365.7 140.56L364.77 140.56L364.77 142.13L366.61 142.13L366.61 143.6L365.49 143.6L365.49 144.39L367.48 144.39L367.48 145.9L367.32 145.9L367.32 146.93L368.2 146.93L368.2 147.98L367.86 147.98L367.86 149.96L368.2 149.96L368.2 151.74L368.2 151.74L368.2 153.32L365.56 153.32L365.56 155.18L367.28 155.18L367.28 156.72L366.53 156.72L366.53 157.39L365.49 157.39L365.49 159.23L367.37 159.23L367.37 160.48L365.76 160.48L365.76 162.21L365.55 162.21L365.55 163.16L366.88 163.16L366.88 164.61L365.14 164.61L365.14 166.47L364.95 166.47L364.95 167.64L364.78 167.64L364.78 169.41L365.15 169.41L365.15 170.67L365 170.67L365 171.41L364.61 171.41L364.61 172.01L364.91 172.01L364.91 173.06L365.93 173.06L365.93 174.33L366.43 174.33L366.43 175.83L365.73 175.83L365.73 177.33L365.79 177.33L365.79 178.34L366.07 178.34L366.07 179.08L364.99 179.08L364.99 179.73L365.41 179.73L365.41 181.46L363.2 181.46L363.2 183.2L363.2 183.2L363.2 184.91L363.2 184.91L363.2 186.7L364.54 186.7L364.54 188.19L365.56 188.19L365.56 189.94L366.68 189.94L366.68 191.29L365.18 191.29L365.18 192.55L366.59 192.55L366.59 193.41L368.2 193.41L368.2 194.92L368.2 194.92L368.2 195.54L366.67 195.54L366.67 196.32L367.47 196.32L367.47 197.63L368.2 197.63L368.2 198.69L368.2 198.69L368.2 199.32L368.2 199.32L368.2 200.76L368.2 200.76L368.2 202.09L368.2 202.09L368.2 204.05L367.49 204.05L367.49 205.7L368.2 205.7L368.2 207.31L368.2 207.31L368.2 208.44L368.2 208.44L368.2 209.61L368.2 209.61L368.2 211.54L367.52 211.54L367.52 213.14L366.38 213.14L366.38 213.95L367.26 213.95L367.26 215.79L365.73 215.79L365.73 216.6L364.23 216.6L364.23 217.53L363.44 217.53L363.44 218.75L363.2 218.75L363.2 220.38L363.2 220.38L363.2 221.94L363.2 221.94L363.2 223.36L363.63 223.36L363.63 224.07L365.59 224.07L365.59 225.98L367.28 225.98L367.28 227.72L368.2 227.72L368.2 229.03L365.89 229.03L365.89 230.04L364.95 230.04L364.95 231.57L366.71 231.57L366.71 233.06L366.84 233.06L366.84 234.95L364.33 234.95L364.33 236.07L363.2 236.07L363.2 236.5L376.2 236.5z"/><text x="593.6" y="69.19" font-size="7.05" font-weight="bold" fill="#222">ecotype</text><rect x="595.1" y="72.1" width="7" height="13.65" fill="#c62227"/><rect x="595.1" y="85.7" width="7" height="13.65" fill="#d65c5e"/><rect x="595.1" y="99.3" width="7" height="13.65" fill="#e59a9c"/><rect x="595.1" y="112.9" width="7" height="13.65" fill="#f5d8da"/><rect x="595.1" y="126.5" width="7" height="13.65" fill="#e1e4f3"/><rect x="595.1" y="140.1" width="7" height="13.65" fill="#a6b5e0"/><rect x="595.1" y="153.7" width="7" height="13.65" fill="#6e88cc"/><rect x="595.1" y="167.3" width="7" height="13.65" fill="#3b5fb2"/><text x="605.4" y="92.8" font-size="7.1" fill="#222">2</text><text x="605.4" y="111.2" font-size="7.1" fill="#222">1</text><text x="605.4" y="130" font-size="7.1" fill="#222">0</text><text x="605.4" y="148.6" font-size="7.1" fill="#222">-1</text><text x="605.4" y="167" font-size="7.1" fill="#222">-2</text><text x="617.2" y="78.2" font-size="7.05" font-weight="bold" fill="#222">ecotype</text><rect x="617.2" y="81" width="11.8" height="11.8" fill="#f5a11e"/><rect x="617.2" y="92.8" width="11.8" height="12.1" fill="#add8e6"/><text x="631.3" y="89.95" font-size="7.0" fill="#222">marine</text><text x="631.3" y="101.9" font-size="7.0" fill="#222">freshwater</text></g><g id="pc"><text transform="translate(15.1 264.05) scale(1 1.035)" font-size="17.4" font-weight="bold">(c)</text><text x="92.2" y="259.7" font-size="13.8" xml:space="preserve">DSGs  (brain, n=1,802)</text><path fill="none" stroke="#666" stroke-width="1.3" shape-rendering="auto" d="M50.77 308.2V281.1H67.11V308.2M99.78 308.2V296.3H116.12V308.2M83.45 308.2V293.5H107.95V296.3M148.8 308.2V295.5H165.14V308.2M132.46 308.2V288.6H156.97V295.5M95.7 293.5V284H144.72V288.6M230.49 308.2V291.6H246.83V308.2M214.15 308.2V289.2H238.66V291.6M197.82 308.2V286.7H226.41V289.2M181.48 308.2V283.8H212.11V286.7M120.21 284V278.5H196.79V283.8M58.94 281.1V266.5H158.5V278.5"/><rect x="42.6" y="308.2" width="16.64" height="7.5" fill="#f5a11e"/><rect x="58.94" y="308.2" width="16.64" height="7.5" fill="#add8e6"/><rect x="75.28" y="308.2" width="16.64" height="7.5" fill="#add8e6"/><rect x="91.62" y="308.2" width="16.64" height="7.5" fill="#add8e6"/><rect x="107.95" y="308.2" width="16.64" height="7.5" fill="#add8e6"/><rect x="124.29" y="308.2" width="16.64" height="7.5" fill="#add8e6"/><rect x="140.63" y="308.2" width="16.64" height="7.5" fill="#add8e6"/><rect x="156.97" y="308.2" width="16.64" height="7.5" fill="#add8e6"/><rect x="173.31" y="308.2" width="16.64" height="7.5" fill="#f5a11e"/><rect x="189.65" y="308.2" width="16.64" height="7.5" fill="#f5a11e"/><rect x="205.98" y="308.2" width="16.64" height="7.5" fill="#f5a11e"/><rect x="222.32" y="308.2" width="16.64" height="7.5" fill="#f5a11e"/><rect x="238.66" y="308.2" width="16.64" height="7.5" fill="#f5a11e"/><g transform="translate(42.6 318.2) scale(16.3385 1.2500)"><path fill="#5474bf" d="M0 16h1v1.15h-1z"/><path fill="#5f7cc4" d="M0 15h1v1.15h-1zM0 20h1v1.15h-1zM0 28h1v1.15h-1z"/><path fill="#6984c9" d="M0 29h1v1.15h-1zM1 25h1v1.15h-1zM7 97h1v1.15h-1z"/><path fill="#748dce" d="M0 18h1v1.15h-1zM2 78h1v1.15h-1zM3 78h1v1.15h-1z"/><path fill="#7f96d2" d="M0 9h1v1.15h-1zM0 12h1v3.15h-1zM0 17h1v1.15h-1zM0 19h1v1.15h-1zM0 27h1v1.15h-1zM2 53h1v2.15h-1zM2 58h1v1.15h-1zM2 79h1v1.15h-1zM3 72h1v1.15h-1zM4 60h1v1.15h-1zM4 78h1v1.15h-1zM7 43h1v1.15h-1zM8 29h1v1.15h-1z"/><path fill="#8a9ed6" d="M0 10h1v2.15h-1zM0 30h1v2.15h-1zM1 28h1v1.15h-1zM1 30h1v1.15h-1zM2 63h1v1.15h-1zM3 53h1v1.15h-1zM3 84h1v1.15h-1zM3 97h1v1.15h-1zM3 122h1v2.15h-1zM4 51h1v1.15h-1zM4 53h1v1.15h-1zM4 55h1v1.15h-1zM4 75h1v1.15h-1zM7 96h1v1.15h-1z"/><path fill="#95a8da" d="M0 25h1v2.15h-1zM1 24h1v1.15h-1zM1 26h1v1.15h-1zM2 87h1v1.15h-1zM3 54h1v3.15h-1zM3 76h1v1.15h-1zM4 52h1v1.15h-1zM4 54h1v1.15h-1zM4 58h1v2.15h-1zM4 76h1v1.15h-1zM4 82h1v2.15h-1zM7 47h1v1.15h-1zM7 98h1v1.15h-1z"/><path fill="#a0b0de" d="M0 8h1v1.15h-1zM1 0h1v1.15h-1zM1 21h1v1.15h-1zM1 27h1v1.15h-1zM1 29h1v1.15h-1zM1 31h1v1.15h-1zM2 57h1v1.15h-1zM2 65h1v1.15h-1zM2 88h1v1.15h-1zM3 57h1v1.15h-1zM3 71h1v1.15h-1zM3 73h1v1.15h-1zM3 77h1v1.15h-1zM3 79h1v1.15h-1zM3 82h1v1.15h-1zM3 96h1v1.15h-1zM4 56h1v2.15h-1zM4 79h1v1.15h-1zM4 116h1v1.15h-1zM4 126h1v1.15h-1zM7 53h1v1.15h-1zM7 84h1v1.15h-1zM8 16h1v1.15h-1zM9 104h1v1.15h-1z"/><path fill="#acbae2" d="M1 22h1v1.15h-1zM2 55h1v2.15h-1zM2 59h1v1.15h-1zM2 71h1v1.15h-1zM2 81h1v2.15h-1zM2 86h1v1.15h-1zM2 89h1v1.15h-1zM3 43h1v1.15h-1zM3 45h1v1.15h-1zM3 52h1v1.15h-1zM3 59h1v1.15h-1zM3 63h1v1.15h-1zM3 74h1v1.15h-1zM3 83h1v1.15h-1zM3 119h1v2.15h-1zM4 35h1v1.15h-1zM4 80h1v1.15h-1zM4 118h1v1.15h-1zM4 128h1v1.15h-1zM6 2h1v1.15h-1zM6 78h1v1.15h-1zM6 96h1v1.15h-1zM7 42h1v1.15h-1zM7 51h1v1.15h-1zM7 80h1v1.15h-1zM8 8h1v2.15h-1zM8 11h1v1.15h-1zM8 20h1v1.15h-1zM8 124h1v1.15h-1zM9 103h1v1.15h-1zM10 130h1v1.15h-1zM11 3h1v1.15h-1z"/><path fill="#b8c3e6" d="M0 119h1v2.15h-1zM1 1h1v1.15h-1zM1 3h1v1.15h-1zM1 5h1v1.15h-1zM1 23h1v1.15h-1zM2 39h1v1.15h-1zM2 50h1v1.15h-1zM2 60h1v1.15h-1zM2 77h1v1.15h-1zM2 80h1v1.15h-1zM3 49h1v3.15h-1zM3 58h1v1.15h-1zM3 62h1v1.15h-1zM3 64h1v1.15h-1zM3 75h1v1.15h-1zM3 80h1v1.15h-1zM3 85h1v1.15h-1zM3 88h1v1.15h-1zM3 92h1v1.15h-1zM3 94h1v1.15h-1zM3 98h1v1.15h-1zM3 121h1v1.15h-1zM4 47h1v1.15h-1zM4 61h1v2.15h-1zM4 64h1v1.15h-1zM4 66h1v1.15h-1zM4 74h1v1.15h-1zM4 77h1v1.15h-1zM4 84h1v2.15h-1zM4 88h1v1.15h-1zM4 115h1v1.15h-1zM4 131h1v1.15h-1zM5 96h1v1.15h-1zM6 50h1v1.15h-1zM6 53h1v1.15h-1zM6 58h1v1.15h-1zM7 41h1v1.15h-1zM7 54h1v1.15h-1zM7 85h1v1.15h-1zM7 92h1v1.15h-1zM7 99h1v1.15h-1zM7 104h1v2.15h-1zM8 12h1v1.15h-1zM8 21h1v1.15h-1zM8 25h1v1.15h-1zM8 28h1v1.15h-1zM9 117h1v1.15h-1zM11 2h1v1.15h-1zM12 6h1v1.15h-1zM12 113h1v1.15h-1z"/><path fill="#c4ccea" d="M0 118h1v1.15h-1zM1 4h1v1.15h-1zM2 46h1v2.15h-1zM2 52h1v1.15h-1zM2 64h1v1.15h-1zM2 73h1v1.15h-1zM2 75h1v1.15h-1zM2 85h1v1.15h-1zM2 90h1v3.15h-1zM3 34h1v1.15h-1zM3 44h1v1.15h-1zM3 65h1v2.15h-1zM3 87h1v1.15h-1zM3 93h1v1.15h-1zM3 124h1v2.15h-1zM4 46h1v1.15h-1zM4 65h1v1.15h-1zM4 120h1v1.15h-1zM4 123h1v1.15h-1zM4 127h1v1.15h-1zM5 4h1v1.15h-1zM5 18h1v2.15h-1zM5 95h1v1.15h-1zM5 97h1v1.15h-1zM6 5h1v1.15h-1zM6 51h1v2.15h-1zM6 82h1v2.15h-1zM6 87h1v1.15h-1zM6 94h1v1.15h-1zM7 44h1v1.15h-1zM7 46h1v1.15h-1zM7 71h1v1.15h-1zM7 83h1v1.15h-1zM7 86h1v1.15h-1zM7 91h1v1.15h-1zM7 93h1v2.15h-1zM8 4h1v1.15h-1zM8 13h1v1.15h-1zM8 17h1v1.15h-1zM8 23h1v1.15h-1zM8 30h1v1.15h-1zM8 121h1v1.15h-1zM8 123h1v1.15h-1zM9 42h1v1.15h-1zM9 106h1v1.15h-1zM10 34h1v1.15h-1zM10 129h1v1.15h-1zM11 5h1v1.15h-1zM11 62h1v1.15h-1zM12 0h1v1.15h-1zM12 5h1v1.15h-1zM12 18h1v1.15h-1z"/><path fill="#cfd6ed" d="M0 115h1v2.15h-1zM2 43h1v1.15h-1zM2 49h1v1.15h-1zM2 51h1v1.15h-1zM2 61h1v1.15h-1zM2 66h1v1.15h-1zM2 69h1v1.15h-1zM2 72h1v1.15h-1zM2 83h1v1.15h-1zM2 93h1v1.15h-1zM2 100h1v1.15h-1zM2 122h1v2.15h-1zM2 131h1v1.15h-1zM3 47h1v1.15h-1zM3 60h1v2.15h-1zM3 67h1v1.15h-1zM3 70h1v1.15h-1zM3 86h1v1.15h-1zM3 89h1v1.15h-1zM3 115h1v1.15h-1zM3 117h1v1.15h-1zM4 50h1v1.15h-1zM4 69h1v1.15h-1zM4 71h1v1.15h-1zM4 73h1v1.15h-1zM4 86h1v2.15h-1zM4 99h1v1.15h-1zM4 119h1v1.15h-1zM4 121h1v2.15h-1zM5 3h1v1.15h-1zM5 5h1v1.15h-1zM5 99h1v1.15h-1zM6 44h1v1.15h-1zM6 63h1v1.15h-1zM6 71h1v1.15h-1zM6 76h1v1.15h-1zM6 84h1v1.15h-1zM6 86h1v1.15h-1zM6 93h1v1.15h-1zM6 97h1v1.15h-1zM6 99h1v1.15h-1zM6 108h1v1.15h-1zM7 35h1v1.15h-1zM7 50h1v1.15h-1zM7 60h1v1.15h-1zM7 78h1v1.15h-1zM7 87h1v1.15h-1zM7 116h1v2.15h-1zM8 2h1v1.15h-1zM8 15h1v1.15h-1zM8 31h1v1.15h-1zM8 90h1v1.15h-1zM8 122h1v1.15h-1zM9 26h1v1.15h-1zM9 45h1v1.15h-1zM9 114h1v1.15h-1zM9 130h1v1.15h-1zM10 0h1v1.15h-1zM10 4h1v1.15h-1zM10 7h1v1.15h-1zM10 33h1v1.15h-1zM10 35h1v2.15h-1zM10 39h1v1.15h-1zM10 122h1v1.15h-1zM11 1h1v1.15h-1zM11 4h1v1.15h-1zM11 7h1v1.15h-1zM11 41h1v1.15h-1zM12 3h1v2.15h-1zM12 62h1v1.15h-1zM12 66h1v1.15h-1zM12 112h1v1.15h-1z"/><path fill="#dbdff1" d="M0 2h1v1.15h-1zM0 4h1v1.15h-1zM0 7h1v1.15h-1zM0 23h1v1.15h-1zM0 130h1v1.15h-1zM2 40h1v1.15h-1zM2 45h1v1.15h-1zM2 48h1v1.15h-1zM2 62h1v1.15h-1zM2 74h1v1.15h-1zM2 76h1v1.15h-1zM2 94h1v1.15h-1zM2 111h1v1.15h-1zM2 116h1v1.15h-1zM2 120h1v1.15h-1zM3 35h1v1.15h-1zM3 46h1v1.15h-1zM3 48h1v1.15h-1zM3 68h1v1.15h-1zM3 90h1v2.15h-1zM3 95h1v1.15h-1zM3 116h1v1.15h-1zM3 118h1v1.15h-1zM3 128h1v2.15h-1zM4 34h1v1.15h-1zM4 36h1v2.15h-1zM4 39h1v1.15h-1zM4 48h1v1.15h-1zM4 70h1v1.15h-1zM4 72h1v1.15h-1zM4 92h1v2.15h-1zM4 97h1v1.15h-1zM4 117h1v1.15h-1zM4 125h1v1.15h-1zM4 129h1v1.15h-1zM5 2h1v1.15h-1zM5 39h1v1.15h-1zM5 42h1v1.15h-1zM5 48h1v2.15h-1zM5 94h1v1.15h-1zM5 122h1v1.15h-1zM6 27h1v1.15h-1zM6 41h1v1.15h-1zM6 54h1v1.15h-1zM6 62h1v1.15h-1zM6 77h1v1.15h-1zM6 92h1v1.15h-1zM6 100h1v1.15h-1zM7 40h1v1.15h-1zM7 45h1v1.15h-1zM7 48h1v1.15h-1zM7 52h1v1.15h-1zM7 55h1v1.15h-1zM7 73h1v1.15h-1zM7 79h1v1.15h-1zM7 95h1v1.15h-1zM7 115h1v1.15h-1zM8 3h1v1.15h-1zM8 22h1v1.15h-1zM8 24h1v1.15h-1zM8 48h1v2.15h-1zM8 108h1v1.15h-1zM9 19h1v1.15h-1zM9 28h1v1.15h-1zM9 37h1v1.15h-1zM9 40h1v1.15h-1zM9 47h1v1.15h-1zM9 102h1v1.15h-1zM9 105h1v1.15h-1zM9 108h1v2.15h-1zM9 113h1v1.15h-1zM9 116h1v1.15h-1zM9 131h1v1.15h-1zM10 38h1v1.15h-1zM10 43h1v1.15h-1zM10 48h1v2.15h-1zM10 95h1v1.15h-1zM10 116h1v3.15h-1zM10 131h1v1.15h-1zM11 26h1v1.15h-1zM11 34h1v1.15h-1zM11 40h1v1.15h-1zM11 42h1v1.15h-1zM11 82h1v1.15h-1zM12 10h1v1.15h-1zM12 32h1v1.15h-1zM12 34h1v2.15h-1zM12 41h1v1.15h-1zM12 48h1v1.15h-1zM12 81h1v1.15h-1zM12 91h1v1.15h-1zM12 93h1v1.15h-1zM12 106h1v1.15h-1z"/><path fill="#e3e3f1" d="M0 0h1v1.15h-1zM0 3h1v1.15h-1zM0 6h1v1.15h-1zM0 21h1v1.15h-1zM0 44h1v1.15h-1zM0 47h1v1.15h-1zM1 2h1v1.15h-1zM1 7h1v1.15h-1zM1 35h1v1.15h-1zM1 40h1v1.15h-1zM2 32h1v1.15h-1zM2 68h1v1.15h-1zM2 70h1v1.15h-1zM2 95h1v1.15h-1zM2 117h1v1.15h-1zM2 121h1v1.15h-1zM2 128h1v1.15h-1zM3 32h1v2.15h-1zM3 37h1v1.15h-1zM3 39h1v1.15h-1zM3 41h1v2.15h-1zM3 69h1v1.15h-1zM3 81h1v1.15h-1zM3 99h1v2.15h-1zM3 104h1v1.15h-1zM3 126h1v1.15h-1zM4 33h1v1.15h-1zM4 38h1v1.15h-1zM4 44h1v1.15h-1zM4 63h1v1.15h-1zM4 89h1v2.15h-1zM5 40h1v2.15h-1zM5 44h1v2.15h-1zM5 104h1v1.15h-1zM5 117h1v1.15h-1zM5 125h1v1.15h-1zM6 3h1v1.15h-1zM6 6h1v1.15h-1zM6 42h1v2.15h-1zM6 46h1v1.15h-1zM6 49h1v1.15h-1zM6 61h1v1.15h-1zM6 66h1v1.15h-1zM6 72h1v3.15h-1zM6 81h1v1.15h-1zM6 85h1v1.15h-1zM6 90h1v2.15h-1zM6 95h1v1.15h-1zM7 1h1v1.15h-1zM7 7h1v1.15h-1zM7 15h1v1.15h-1zM7 34h1v1.15h-1zM7 36h1v1.15h-1zM7 39h1v1.15h-1zM7 58h1v1.15h-1zM7 65h1v2.15h-1zM7 72h1v1.15h-1zM7 74h1v1.15h-1zM7 88h1v1.15h-1zM8 0h1v1.15h-1zM8 5h1v1.15h-1zM8 7h1v1.15h-1zM8 10h1v1.15h-1zM8 14h1v1.15h-1zM8 27h1v1.15h-1zM8 109h1v1.15h-1zM8 114h1v1.15h-1zM9 6h1v1.15h-1zM9 18h1v1.15h-1zM9 21h1v1.15h-1zM9 23h1v1.15h-1zM9 27h1v1.15h-1zM9 34h1v1.15h-1zM9 46h1v1.15h-1zM9 49h1v1.15h-1zM9 107h1v1.15h-1zM10 5h1v2.15h-1zM10 27h1v1.15h-1zM10 29h1v1.15h-1zM10 104h1v2.15h-1zM10 121h1v1.15h-1zM11 32h1v1.15h-1zM11 58h1v1.15h-1zM11 70h1v1.15h-1zM11 105h1v1.15h-1zM12 7h1v1.15h-1zM12 17h1v1.15h-1zM12 37h1v1.15h-1zM12 40h1v1.15h-1zM12 65h1v1.15h-1zM12 67h1v2.15h-1zM12 70h1v1.15h-1zM12 77h1v1.15h-1zM12 80h1v1.15h-1zM12 98h1v1.15h-1zM12 114h1v1.15h-1zM12 118h1v1.15h-1zM12 130h1v1.15h-1z"/><path fill="#e7e0ec" d="M0 5h1v1.15h-1zM0 117h1v1.15h-1zM1 6h1v1.15h-1zM1 11h1v4.15h-1zM1 32h1v2.15h-1zM1 45h1v1.15h-1zM1 81h1v1.15h-1zM1 98h1v1.15h-1zM2 44h1v1.15h-1zM2 125h1v1.15h-1zM3 36h1v1.15h-1zM3 105h1v1.15h-1zM3 131h1v1.15h-1zM4 43h1v1.15h-1zM4 45h1v1.15h-1zM4 67h1v1.15h-1zM4 81h1v1.15h-1zM4 100h1v1.15h-1zM4 110h1v2.15h-1zM4 130h1v1.15h-1zM5 17h1v1.15h-1zM5 21h1v1.15h-1zM5 23h1v1.15h-1zM5 32h1v2.15h-1zM5 46h1v1.15h-1zM5 68h1v1.15h-1zM5 98h1v1.15h-1zM5 113h1v1.15h-1zM5 124h1v1.15h-1zM5 126h1v1.15h-1zM5 130h1v1.15h-1zM6 7h1v1.15h-1zM6 28h1v1.15h-1zM6 34h1v1.15h-1zM6 36h1v1.15h-1zM6 55h1v1.15h-1zM6 59h1v2.15h-1zM6 64h1v2.15h-1zM6 70h1v1.15h-1zM6 79h1v2.15h-1zM6 111h1v1.15h-1zM6 117h1v1.15h-1zM6 130h1v1.15h-1zM7 56h1v1.15h-1zM7 59h1v1.15h-1zM7 62h1v1.15h-1zM7 64h1v1.15h-1zM7 75h1v1.15h-1zM7 77h1v1.15h-1zM7 81h1v2.15h-1zM7 90h1v1.15h-1zM7 100h1v1.15h-1zM7 107h1v2.15h-1zM7 112h1v1.15h-1zM7 127h1v1.15h-1zM7 129h1v1.15h-1zM8 1h1v1.15h-1zM8 18h1v2.15h-1zM8 26h1v1.15h-1zM8 55h1v1.15h-1zM8 70h1v1.15h-1zM8 110h1v1.15h-1zM8 116h1v2.15h-1zM8 119h1v2.15h-1zM8 125h1v1.15h-1zM9 7h1v1.15h-1zM9 24h1v1.15h-1zM9 36h1v1.15h-1zM9 48h1v1.15h-1zM9 62h1v1.15h-1zM9 112h1v1.15h-1zM10 3h1v1.15h-1zM10 10h1v1.15h-1zM10 12h1v1.15h-1zM10 15h1v1.15h-1zM10 21h1v1.15h-1zM10 28h1v1.15h-1zM10 30h1v1.15h-1zM10 42h1v1.15h-1zM10 47h1v1.15h-1zM10 52h1v1.15h-1zM10 70h1v1.15h-1zM10 94h1v1.15h-1zM10 102h1v1.15h-1zM10 107h1v2.15h-1zM10 113h1v1.15h-1zM10 128h1v1.15h-1zM11 0h1v1.15h-1zM11 6h1v1.15h-1zM11 8h1v1.15h-1zM11 14h1v1.15h-1zM11 35h1v2.15h-1zM11 39h1v1.15h-1zM11 49h1v1.15h-1zM11 55h1v1.15h-1zM11 57h1v1.15h-1zM11 63h1v1.15h-1zM11 67h1v1.15h-1zM11 83h1v1.15h-1zM11 95h1v1.15h-1zM11 117h1v1.15h-1zM11 121h1v1.15h-1zM12 24h1v1.15h-1zM12 29h1v1.15h-1zM12 33h1v1.15h-1zM12 36h1v1.15h-1zM12 39h1v1.15h-1zM12 49h1v1.15h-1zM12 61h1v1.15h-1zM12 63h1v1.15h-1zM12 69h1v1.15h-1zM12 82h1v1.15h-1zM12 90h1v1.15h-1zM12 92h1v1.15h-1zM12 107h1v1.15h-1zM12 110h1v2.15h-1zM12 129h1v1.15h-1z"/><path fill="#ebdee6" d="M0 1h1v1.15h-1zM0 22h1v1.15h-1zM0 45h1v1.15h-1zM1 15h1v1.15h-1zM1 18h1v1.15h-1zM1 20h1v1.15h-1zM1 36h1v1.15h-1zM1 39h1v1.15h-1zM2 0h1v1.15h-1zM2 5h1v1.15h-1zM2 8h1v1.15h-1zM2 33h1v2.15h-1zM2 38h1v1.15h-1zM2 67h1v1.15h-1zM2 84h1v1.15h-1zM2 98h1v1.15h-1zM2 118h1v1.15h-1zM3 38h1v1.15h-1zM3 40h1v1.15h-1zM3 102h1v1.15h-1zM3 106h1v1.15h-1zM3 127h1v1.15h-1zM3 130h1v1.15h-1zM4 32h1v1.15h-1zM4 40h1v1.15h-1zM4 68h1v1.15h-1zM4 94h1v1.15h-1zM4 96h1v1.15h-1zM4 98h1v1.15h-1zM4 105h1v1.15h-1zM4 109h1v1.15h-1zM4 112h1v1.15h-1zM5 20h1v1.15h-1zM5 24h1v1.15h-1zM5 28h1v1.15h-1zM5 36h1v1.15h-1zM5 52h1v1.15h-1zM5 55h1v2.15h-1zM5 62h1v1.15h-1zM5 70h1v1.15h-1zM5 73h1v1.15h-1zM5 90h1v1.15h-1zM5 92h1v1.15h-1zM5 100h1v1.15h-1zM5 102h1v1.15h-1zM5 105h1v1.15h-1zM5 118h1v1.15h-1zM5 123h1v1.15h-1zM5 127h1v1.15h-1zM5 129h1v1.15h-1zM6 35h1v1.15h-1zM6 40h1v1.15h-1zM6 57h1v1.15h-1zM6 75h1v1.15h-1zM6 89h1v1.15h-1zM6 104h1v1.15h-1zM6 109h1v2.15h-1zM6 131h1v1.15h-1zM7 0h1v1.15h-1zM7 14h1v1.15h-1zM7 18h1v1.15h-1zM7 24h1v1.15h-1zM7 32h1v1.15h-1zM7 57h1v1.15h-1zM7 61h1v1.15h-1zM7 63h1v1.15h-1zM7 67h1v1.15h-1zM7 70h1v1.15h-1zM7 120h1v1.15h-1zM7 124h1v1.15h-1zM8 6h1v1.15h-1zM8 56h1v1.15h-1zM8 58h1v1.15h-1zM8 62h1v1.15h-1zM8 68h1v1.15h-1zM8 89h1v1.15h-1zM8 111h1v2.15h-1zM8 127h1v2.15h-1zM9 5h1v1.15h-1zM9 12h1v2.15h-1zM9 17h1v1.15h-1zM9 32h1v2.15h-1zM9 35h1v1.15h-1zM9 41h1v1.15h-1zM9 43h1v2.15h-1zM9 101h1v1.15h-1zM9 111h1v1.15h-1zM9 115h1v1.15h-1zM10 1h1v2.15h-1zM10 8h1v1.15h-1zM10 16h1v1.15h-1zM10 37h1v1.15h-1zM10 61h1v1.15h-1zM10 69h1v1.15h-1zM10 89h1v1.15h-1zM10 100h1v1.15h-1zM10 120h1v1.15h-1zM10 124h1v1.15h-1zM11 15h1v1.15h-1zM11 17h1v3.15h-1zM11 28h1v1.15h-1zM11 33h1v1.15h-1zM11 37h1v1.15h-1zM11 52h1v1.15h-1zM11 56h1v1.15h-1zM11 68h1v1.15h-1zM11 77h1v1.15h-1zM11 92h1v1.15h-1zM11 102h1v1.15h-1zM11 108h1v1.15h-1zM11 113h1v2.15h-1zM11 119h1v1.15h-1zM11 130h1v1.15h-1zM12 1h1v2.15h-1zM12 11h1v1.15h-1zM12 19h1v3.15h-1zM12 28h1v1.15h-1zM12 38h1v1.15h-1zM12 51h1v1.15h-1zM12 60h1v1.15h-1zM12 71h1v1.15h-1zM12 75h1v1.15h-1zM12 78h1v1.15h-1zM12 89h1v1.15h-1zM12 94h1v1.15h-1zM12 108h1v2.15h-1zM12 119h1v1.15h-1z"/><path fill="#efdce2" d="M0 46h1v1.15h-1zM0 96h1v1.15h-1zM0 127h1v1.15h-1zM0 129h1v1.15h-1zM1 10h1v1.15h-1zM1 16h1v1.15h-1zM1 19h1v1.15h-1zM1 34h1v1.15h-1zM1 37h1v2.15h-1zM1 49h1v1.15h-1zM1 76h1v1.15h-1zM1 95h1v1.15h-1zM1 122h1v2.15h-1zM1 125h1v1.15h-1zM1 127h1v1.15h-1zM2 1h1v2.15h-1zM2 6h1v1.15h-1zM2 124h1v1.15h-1zM2 126h1v2.15h-1zM2 130h1v1.15h-1zM3 12h1v1.15h-1zM3 31h1v1.15h-1zM3 103h1v1.15h-1zM3 114h1v1.15h-1zM4 49h1v1.15h-1zM4 95h1v1.15h-1zM4 102h1v1.15h-1zM4 104h1v1.15h-1zM4 106h1v2.15h-1zM5 1h1v1.15h-1zM5 6h1v1.15h-1zM5 16h1v1.15h-1zM5 34h1v2.15h-1zM5 37h1v1.15h-1zM5 54h1v1.15h-1zM5 65h1v1.15h-1zM5 89h1v1.15h-1zM5 93h1v1.15h-1zM5 109h1v1.15h-1zM5 111h1v2.15h-1zM5 116h1v1.15h-1zM6 1h1v1.15h-1zM6 32h1v1.15h-1zM6 45h1v1.15h-1zM6 47h1v2.15h-1zM6 69h1v1.15h-1zM6 88h1v1.15h-1zM6 98h1v1.15h-1zM6 102h1v1.15h-1zM6 105h1v1.15h-1zM6 112h1v1.15h-1zM6 121h1v1.15h-1zM6 129h1v1.15h-1zM7 4h1v1.15h-1zM7 6h1v1.15h-1zM7 8h1v1.15h-1zM7 17h1v1.15h-1zM7 37h1v2.15h-1zM7 89h1v1.15h-1zM7 103h1v1.15h-1zM7 106h1v1.15h-1zM7 119h1v1.15h-1zM7 126h1v1.15h-1zM7 130h1v1.15h-1zM8 82h1v1.15h-1zM8 101h1v1.15h-1zM8 104h1v2.15h-1zM8 115h1v1.15h-1zM8 126h1v1.15h-1zM9 10h1v1.15h-1zM9 14h1v2.15h-1zM9 22h1v1.15h-1zM9 31h1v1.15h-1zM9 61h1v1.15h-1zM9 100h1v1.15h-1zM9 110h1v1.15h-1zM9 121h1v1.15h-1zM9 129h1v1.15h-1zM10 14h1v1.15h-1zM10 19h1v2.15h-1zM10 40h1v2.15h-1zM10 63h1v2.15h-1zM10 76h1v1.15h-1zM10 97h1v3.15h-1zM10 101h1v1.15h-1zM10 109h1v3.15h-1zM10 114h1v2.15h-1zM10 119h1v1.15h-1zM10 123h1v1.15h-1zM10 126h1v2.15h-1zM11 38h1v1.15h-1zM11 54h1v1.15h-1zM11 61h1v1.15h-1zM11 101h1v1.15h-1zM11 124h1v1.15h-1zM11 127h1v3.15h-1zM12 12h1v1.15h-1zM12 14h1v1.15h-1zM12 30h1v2.15h-1zM12 42h1v1.15h-1zM12 50h1v1.15h-1zM12 54h1v2.15h-1zM12 64h1v1.15h-1zM12 79h1v1.15h-1zM12 101h1v1.15h-1zM12 115h1v1.15h-1zM12 120h1v3.15h-1zM12 125h1v1.15h-1z"/><path fill="#f3d9dc" d="M0 24h1v1.15h-1zM0 43h1v1.15h-1zM0 104h1v1.15h-1zM0 126h1v1.15h-1zM1 48h1v1.15h-1zM1 96h1v2.15h-1zM1 99h1v1.15h-1zM2 3h1v1.15h-1zM2 7h1v1.15h-1zM2 22h1v1.15h-1zM2 35h1v1.15h-1zM2 96h1v2.15h-1zM2 99h1v1.15h-1zM2 101h1v1.15h-1zM2 108h1v3.15h-1zM2 112h1v1.15h-1zM2 119h1v1.15h-1zM3 107h1v2.15h-1zM4 18h1v1.15h-1zM4 23h1v1.15h-1zM4 41h1v1.15h-1zM4 91h1v1.15h-1zM4 124h1v1.15h-1zM5 0h1v1.15h-1zM5 7h1v2.15h-1zM5 15h1v1.15h-1zM5 26h1v1.15h-1zM5 31h1v1.15h-1zM5 59h1v1.15h-1zM5 61h1v1.15h-1zM5 63h1v2.15h-1zM5 66h1v1.15h-1zM5 69h1v1.15h-1zM5 72h1v1.15h-1zM5 77h1v1.15h-1zM5 91h1v1.15h-1zM5 101h1v1.15h-1zM5 110h1v1.15h-1zM5 114h1v1.15h-1zM5 131h1v1.15h-1zM6 29h1v1.15h-1zM6 37h1v2.15h-1zM6 56h1v1.15h-1zM6 67h1v2.15h-1zM6 107h1v1.15h-1zM6 118h1v1.15h-1zM6 122h1v1.15h-1zM7 16h1v1.15h-1zM7 23h1v1.15h-1zM7 33h1v1.15h-1zM7 49h1v1.15h-1zM7 69h1v1.15h-1zM7 101h1v1.15h-1zM7 118h1v1.15h-1zM7 121h1v1.15h-1zM7 125h1v1.15h-1zM8 44h1v2.15h-1zM8 50h1v2.15h-1zM8 57h1v1.15h-1zM8 61h1v1.15h-1zM8 63h1v1.15h-1zM8 67h1v1.15h-1zM8 81h1v1.15h-1zM8 87h1v1.15h-1zM8 91h1v1.15h-1zM8 118h1v1.15h-1zM8 129h1v1.15h-1zM9 3h1v2.15h-1zM9 16h1v1.15h-1zM9 38h1v2.15h-1zM10 11h1v1.15h-1zM10 23h1v1.15h-1zM10 44h1v1.15h-1zM10 80h1v2.15h-1zM10 96h1v1.15h-1zM10 125h1v1.15h-1zM11 10h1v1.15h-1zM11 13h1v1.15h-1zM11 24h1v2.15h-1zM11 29h1v3.15h-1zM11 46h1v1.15h-1zM11 71h1v1.15h-1zM11 75h1v1.15h-1zM11 79h1v3.15h-1zM11 84h1v1.15h-1zM11 89h1v2.15h-1zM11 96h1v1.15h-1zM11 99h1v1.15h-1zM11 104h1v1.15h-1zM11 110h1v1.15h-1zM11 116h1v1.15h-1zM11 123h1v1.15h-1zM11 125h1v1.15h-1zM12 25h1v1.15h-1zM12 47h1v1.15h-1zM12 56h1v1.15h-1zM12 72h1v2.15h-1zM12 76h1v1.15h-1zM12 84h1v1.15h-1zM12 99h1v1.15h-1zM12 102h1v2.15h-1zM12 116h1v1.15h-1zM12 124h1v1.15h-1zM12 131h1v1.15h-1z"/><path fill="#f3d2d4" d="M0 100h1v4.15h-1zM1 17h1v1.15h-1zM1 91h1v1.15h-1zM1 124h1v1.15h-1zM1 126h1v1.15h-1zM2 4h1v1.15h-1zM2 28h1v1.15h-1zM2 103h1v2.15h-1zM2 107h1v1.15h-1zM2 129h1v1.15h-1zM3 21h1v1.15h-1zM3 101h1v1.15h-1zM3 113h1v1.15h-1zM4 7h1v2.15h-1zM4 14h1v2.15h-1zM4 17h1v1.15h-1zM4 21h1v2.15h-1zM4 26h1v1.15h-1zM4 103h1v1.15h-1zM4 114h1v1.15h-1zM5 10h1v3.15h-1zM5 27h1v1.15h-1zM5 29h1v1.15h-1zM5 38h1v1.15h-1zM5 60h1v1.15h-1zM5 71h1v1.15h-1zM5 81h1v1.15h-1zM5 103h1v1.15h-1zM5 106h1v2.15h-1zM5 119h1v1.15h-1zM5 121h1v1.15h-1zM6 0h1v1.15h-1zM6 4h1v1.15h-1zM6 10h1v2.15h-1zM6 31h1v1.15h-1zM6 33h1v1.15h-1zM6 113h1v1.15h-1zM6 119h1v1.15h-1zM6 124h1v2.15h-1zM7 2h1v2.15h-1zM7 68h1v1.15h-1zM7 102h1v1.15h-1zM7 110h1v2.15h-1zM7 113h1v2.15h-1zM7 131h1v1.15h-1zM8 47h1v1.15h-1zM8 59h1v2.15h-1zM8 65h1v2.15h-1zM8 76h1v2.15h-1zM8 84h1v1.15h-1zM8 88h1v1.15h-1zM8 107h1v1.15h-1zM8 113h1v1.15h-1zM8 130h1v2.15h-1zM9 8h1v1.15h-1zM9 20h1v1.15h-1zM9 25h1v1.15h-1zM9 29h1v2.15h-1zM9 59h1v2.15h-1zM9 70h1v1.15h-1zM9 77h1v1.15h-1zM9 89h1v2.15h-1zM9 98h1v1.15h-1zM9 120h1v1.15h-1zM9 122h1v1.15h-1zM9 125h1v2.15h-1zM10 9h1v1.15h-1zM10 13h1v1.15h-1zM10 17h1v2.15h-1zM10 45h1v2.15h-1zM10 50h1v1.15h-1zM10 54h1v1.15h-1zM10 77h1v1.15h-1zM10 82h1v1.15h-1zM10 85h1v1.15h-1zM10 90h1v1.15h-1zM10 103h1v1.15h-1zM10 106h1v1.15h-1zM11 9h1v1.15h-1zM11 12h1v1.15h-1zM11 22h1v2.15h-1zM11 27h1v1.15h-1zM11 48h1v1.15h-1zM11 59h1v2.15h-1zM11 64h1v1.15h-1zM11 66h1v1.15h-1zM11 72h1v1.15h-1zM11 76h1v1.15h-1zM11 86h1v1.15h-1zM11 91h1v1.15h-1zM11 98h1v1.15h-1zM11 111h1v2.15h-1zM11 115h1v1.15h-1zM11 126h1v1.15h-1zM12 8h1v2.15h-1zM12 13h1v1.15h-1zM12 16h1v1.15h-1zM12 22h1v2.15h-1zM12 26h1v1.15h-1zM12 44h1v1.15h-1zM12 59h1v1.15h-1zM12 85h1v1.15h-1zM12 100h1v1.15h-1zM12 127h1v1.15h-1z"/><path fill="#f0c5c7" d="M0 88h1v2.15h-1zM0 122h1v1.15h-1zM0 124h1v2.15h-1zM0 128h1v1.15h-1zM0 131h1v1.15h-1zM1 41h1v1.15h-1zM1 46h1v2.15h-1zM1 66h1v1.15h-1zM1 71h1v1.15h-1zM1 117h1v1.15h-1zM1 129h1v2.15h-1zM2 19h1v1.15h-1zM2 24h1v1.15h-1zM2 26h1v2.15h-1zM2 30h1v2.15h-1zM2 36h1v1.15h-1zM2 42h1v1.15h-1zM2 102h1v1.15h-1zM2 105h1v1.15h-1zM3 3h1v1.15h-1zM3 10h1v1.15h-1zM3 19h1v1.15h-1zM3 27h1v1.15h-1zM3 109h1v3.15h-1zM4 27h1v1.15h-1zM4 108h1v1.15h-1zM4 113h1v1.15h-1zM5 13h1v1.15h-1zM5 25h1v1.15h-1zM5 30h1v1.15h-1zM5 43h1v1.15h-1zM5 47h1v1.15h-1zM5 57h1v2.15h-1zM5 76h1v1.15h-1zM5 83h1v1.15h-1zM5 115h1v1.15h-1zM5 128h1v1.15h-1zM6 8h1v1.15h-1zM6 12h1v1.15h-1zM6 16h1v1.15h-1zM6 20h1v2.15h-1zM6 26h1v1.15h-1zM6 39h1v1.15h-1zM6 116h1v1.15h-1zM6 123h1v1.15h-1zM6 126h1v2.15h-1zM7 5h1v1.15h-1zM7 11h1v1.15h-1zM7 19h1v1.15h-1zM7 27h1v1.15h-1zM7 76h1v1.15h-1zM7 123h1v1.15h-1zM7 128h1v1.15h-1zM8 36h1v1.15h-1zM8 38h1v1.15h-1zM8 41h1v1.15h-1zM8 52h1v2.15h-1zM8 69h1v1.15h-1zM8 73h1v1.15h-1zM8 85h1v1.15h-1zM8 106h1v1.15h-1zM9 0h1v1.15h-1zM9 2h1v1.15h-1zM9 11h1v1.15h-1zM9 50h1v1.15h-1zM9 55h1v2.15h-1zM9 73h1v1.15h-1zM9 81h1v1.15h-1zM9 99h1v1.15h-1zM9 118h1v1.15h-1zM9 124h1v1.15h-1zM9 128h1v1.15h-1zM10 22h1v1.15h-1zM10 24h1v1.15h-1zM10 26h1v1.15h-1zM10 51h1v1.15h-1zM10 59h1v1.15h-1zM10 62h1v1.15h-1zM10 67h1v1.15h-1zM10 87h1v2.15h-1zM10 91h1v1.15h-1zM10 93h1v1.15h-1zM11 21h1v1.15h-1zM11 53h1v1.15h-1zM11 93h1v1.15h-1zM11 103h1v1.15h-1zM11 106h1v2.15h-1zM11 109h1v1.15h-1zM11 118h1v1.15h-1zM11 131h1v1.15h-1zM12 15h1v1.15h-1zM12 27h1v1.15h-1zM12 43h1v1.15h-1zM12 52h1v2.15h-1zM12 83h1v1.15h-1zM12 87h1v1.15h-1zM12 117h1v1.15h-1zM12 123h1v1.15h-1zM12 126h1v1.15h-1z"/><path fill="#edb9bb" d="M0 86h1v2.15h-1zM0 90h1v1.15h-1zM0 99h1v1.15h-1zM1 42h1v1.15h-1zM1 44h1v1.15h-1zM1 86h1v1.15h-1zM1 92h1v2.15h-1zM1 109h1v1.15h-1zM1 118h1v1.15h-1zM1 121h1v1.15h-1zM1 131h1v1.15h-1zM2 10h1v1.15h-1zM2 14h1v2.15h-1zM2 18h1v1.15h-1zM2 37h1v1.15h-1zM2 113h1v1.15h-1zM2 115h1v1.15h-1zM3 4h1v1.15h-1zM3 9h1v1.15h-1zM3 11h1v1.15h-1zM3 20h1v1.15h-1zM3 24h1v1.15h-1zM4 12h1v1.15h-1zM4 19h1v1.15h-1zM4 24h1v1.15h-1zM4 101h1v1.15h-1zM5 50h1v1.15h-1zM5 53h1v1.15h-1zM5 67h1v1.15h-1zM5 74h1v1.15h-1zM5 88h1v1.15h-1zM5 120h1v1.15h-1zM6 18h1v1.15h-1zM6 30h1v1.15h-1zM6 101h1v1.15h-1zM6 103h1v1.15h-1zM7 21h1v1.15h-1zM7 28h1v1.15h-1zM7 122h1v1.15h-1zM8 33h1v1.15h-1zM8 37h1v1.15h-1zM8 43h1v1.15h-1zM8 46h1v1.15h-1zM8 64h1v1.15h-1zM8 72h1v1.15h-1zM8 78h1v1.15h-1zM8 86h1v1.15h-1zM8 92h1v2.15h-1zM9 1h1v1.15h-1zM9 51h1v2.15h-1zM9 63h1v1.15h-1zM9 82h1v1.15h-1zM9 92h1v1.15h-1zM9 94h1v3.15h-1zM9 119h1v1.15h-1zM9 123h1v1.15h-1zM9 127h1v1.15h-1zM10 25h1v1.15h-1zM10 31h1v2.15h-1zM10 53h1v1.15h-1zM10 60h1v1.15h-1zM10 65h1v1.15h-1zM10 68h1v1.15h-1zM10 79h1v1.15h-1zM10 83h1v2.15h-1zM10 112h1v1.15h-1zM11 16h1v1.15h-1zM11 45h1v1.15h-1zM11 47h1v1.15h-1zM11 50h1v2.15h-1zM11 69h1v1.15h-1zM11 73h1v1.15h-1zM11 78h1v1.15h-1zM11 85h1v1.15h-1zM11 94h1v1.15h-1zM11 120h1v1.15h-1zM11 122h1v1.15h-1zM12 45h1v1.15h-1zM12 74h1v1.15h-1zM12 86h1v1.15h-1zM12 95h1v2.15h-1zM12 104h1v2.15h-1z"/><path fill="#eaadaf" d="M0 38h1v1.15h-1zM0 49h1v1.15h-1zM0 66h1v1.15h-1zM0 91h1v2.15h-1zM1 9h1v1.15h-1zM1 67h1v1.15h-1zM1 75h1v1.15h-1zM1 77h1v1.15h-1zM1 80h1v1.15h-1zM1 82h1v2.15h-1zM1 85h1v1.15h-1zM1 87h1v1.15h-1zM1 94h1v1.15h-1zM1 100h1v1.15h-1zM1 111h1v1.15h-1zM1 116h1v1.15h-1zM2 16h1v2.15h-1zM2 21h1v1.15h-1zM2 23h1v1.15h-1zM2 25h1v1.15h-1zM2 41h1v1.15h-1zM3 5h1v1.15h-1zM3 26h1v1.15h-1zM3 112h1v1.15h-1zM4 0h1v1.15h-1zM4 5h1v2.15h-1zM4 9h1v1.15h-1zM4 13h1v1.15h-1zM5 9h1v1.15h-1zM5 14h1v1.15h-1zM5 22h1v1.15h-1zM5 79h1v1.15h-1zM5 82h1v1.15h-1zM6 13h1v3.15h-1zM6 17h1v1.15h-1zM6 19h1v1.15h-1zM6 106h1v1.15h-1zM6 115h1v1.15h-1zM6 120h1v1.15h-1zM6 128h1v1.15h-1zM7 12h1v1.15h-1zM7 26h1v1.15h-1zM8 39h1v1.15h-1zM8 71h1v1.15h-1zM8 74h1v1.15h-1zM8 94h1v1.15h-1zM8 96h1v1.15h-1zM8 102h1v2.15h-1zM9 9h1v1.15h-1zM9 54h1v1.15h-1zM9 58h1v1.15h-1zM9 64h1v1.15h-1zM9 71h1v1.15h-1zM9 85h1v2.15h-1zM9 91h1v1.15h-1zM10 71h1v3.15h-1zM10 78h1v1.15h-1zM10 92h1v1.15h-1zM11 11h1v1.15h-1zM11 20h1v1.15h-1zM11 43h1v2.15h-1zM11 74h1v1.15h-1zM11 100h1v1.15h-1zM12 57h1v1.15h-1zM12 88h1v1.15h-1zM12 97h1v1.15h-1z"/><path fill="#e7a0a2" d="M0 48h1v1.15h-1zM0 50h1v1.15h-1zM0 77h1v1.15h-1zM0 105h1v1.15h-1zM0 110h1v2.15h-1zM1 50h1v1.15h-1zM1 52h1v1.15h-1zM1 54h1v1.15h-1zM1 59h1v1.15h-1zM1 62h1v1.15h-1zM1 65h1v1.15h-1zM1 72h1v1.15h-1zM1 78h1v1.15h-1zM1 84h1v1.15h-1zM1 90h1v1.15h-1zM1 101h1v1.15h-1zM1 110h1v1.15h-1zM1 114h1v1.15h-1zM1 128h1v1.15h-1zM2 11h1v2.15h-1zM2 20h1v1.15h-1zM2 29h1v1.15h-1zM2 114h1v1.15h-1zM3 8h1v1.15h-1zM3 22h1v2.15h-1zM3 30h1v1.15h-1zM4 3h1v1.15h-1zM4 16h1v1.15h-1zM4 31h1v1.15h-1zM5 51h1v1.15h-1zM5 75h1v1.15h-1zM5 78h1v1.15h-1zM5 85h1v3.15h-1zM5 108h1v1.15h-1zM6 9h1v1.15h-1zM7 10h1v1.15h-1zM7 20h1v1.15h-1zM8 35h1v1.15h-1zM8 42h1v1.15h-1zM8 75h1v1.15h-1zM8 95h1v1.15h-1zM8 99h1v1.15h-1zM9 53h1v1.15h-1zM9 57h1v1.15h-1zM9 76h1v1.15h-1zM9 79h1v1.15h-1zM9 97h1v1.15h-1zM10 55h1v1.15h-1zM10 66h1v1.15h-1zM11 65h1v1.15h-1zM11 88h1v1.15h-1zM11 97h1v1.15h-1zM12 58h1v1.15h-1zM12 128h1v1.15h-1z"/><path fill="#e39496" d="M0 36h1v1.15h-1zM0 51h1v2.15h-1zM0 65h1v1.15h-1zM0 75h1v1.15h-1zM0 82h1v1.15h-1zM0 95h1v1.15h-1zM0 108h1v1.15h-1zM0 121h1v1.15h-1zM1 8h1v1.15h-1zM1 43h1v1.15h-1zM1 53h1v1.15h-1zM1 56h1v1.15h-1zM1 63h1v1.15h-1zM1 68h1v1.15h-1zM1 70h1v1.15h-1zM1 73h1v1.15h-1zM1 88h1v1.15h-1zM1 102h1v2.15h-1zM1 105h1v1.15h-1zM1 115h1v1.15h-1zM2 106h1v1.15h-1zM3 0h1v2.15h-1zM3 13h1v1.15h-1zM3 18h1v1.15h-1zM3 25h1v1.15h-1zM3 28h1v1.15h-1zM4 1h1v1.15h-1zM4 25h1v1.15h-1zM4 30h1v1.15h-1zM5 80h1v1.15h-1zM6 23h1v1.15h-1zM6 114h1v1.15h-1zM7 9h1v1.15h-1zM7 13h1v1.15h-1zM7 25h1v1.15h-1zM7 109h1v1.15h-1zM8 32h1v1.15h-1zM8 34h1v1.15h-1zM8 54h1v1.15h-1zM8 80h1v1.15h-1zM8 83h1v1.15h-1zM8 98h1v1.15h-1zM9 65h1v2.15h-1zM9 69h1v1.15h-1zM9 72h1v1.15h-1zM9 83h1v2.15h-1zM9 87h1v1.15h-1zM9 93h1v1.15h-1zM10 56h1v3.15h-1zM10 74h1v2.15h-1zM11 87h1v1.15h-1zM12 46h1v1.15h-1z"/><path fill="#e08789" d="M0 34h1v2.15h-1zM0 39h1v1.15h-1zM0 41h1v1.15h-1zM0 68h1v1.15h-1zM0 74h1v1.15h-1zM0 81h1v1.15h-1zM0 98h1v1.15h-1zM0 106h1v2.15h-1zM0 109h1v1.15h-1zM1 51h1v1.15h-1zM1 58h1v1.15h-1zM1 61h1v1.15h-1zM1 79h1v1.15h-1zM1 107h1v1.15h-1zM1 112h1v2.15h-1zM1 119h1v1.15h-1zM2 13h1v1.15h-1zM3 2h1v1.15h-1zM3 6h1v1.15h-1zM3 15h1v1.15h-1zM3 29h1v1.15h-1zM4 10h1v2.15h-1zM4 20h1v1.15h-1zM4 42h1v1.15h-1zM6 22h1v1.15h-1zM6 24h1v2.15h-1zM7 22h1v1.15h-1zM7 29h1v2.15h-1zM8 79h1v1.15h-1zM8 100h1v1.15h-1zM9 68h1v1.15h-1zM9 75h1v1.15h-1zM9 88h1v1.15h-1zM10 86h1v1.15h-1z"/><path fill="#de7b7d" d="M0 54h1v1.15h-1zM0 67h1v1.15h-1zM0 76h1v1.15h-1zM0 83h1v1.15h-1zM0 94h1v1.15h-1zM0 112h1v2.15h-1zM0 123h1v1.15h-1zM1 57h1v1.15h-1zM1 64h1v1.15h-1zM1 74h1v1.15h-1zM1 89h1v1.15h-1zM1 120h1v1.15h-1zM3 7h1v1.15h-1zM3 14h1v1.15h-1zM3 17h1v1.15h-1zM4 2h1v1.15h-1zM4 4h1v1.15h-1zM4 29h1v1.15h-1zM5 84h1v1.15h-1zM7 31h1v1.15h-1zM8 40h1v1.15h-1zM8 97h1v1.15h-1zM9 74h1v1.15h-1zM9 80h1v1.15h-1z"/><path fill="#da6f71" d="M0 55h1v1.15h-1zM0 60h1v1.15h-1zM0 63h1v1.15h-1zM0 73h1v1.15h-1zM0 93h1v1.15h-1zM0 97h1v1.15h-1zM1 55h1v1.15h-1zM1 60h1v1.15h-1zM1 106h1v1.15h-1zM3 16h1v1.15h-1zM4 28h1v1.15h-1zM9 78h1v1.15h-1z"/><path fill="#d86264" d="M0 32h1v2.15h-1zM0 56h1v2.15h-1zM0 69h1v1.15h-1zM0 72h1v1.15h-1zM0 80h1v1.15h-1zM0 85h1v1.15h-1zM2 9h1v1.15h-1z"/><path fill="#d45658" d="M0 37h1v1.15h-1zM0 40h1v1.15h-1zM0 42h1v1.15h-1zM0 62h1v1.15h-1zM0 70h1v1.15h-1zM0 78h1v1.15h-1zM0 84h1v1.15h-1zM0 114h1v1.15h-1zM1 108h1v1.15h-1zM9 67h1v1.15h-1z"/><path fill="#d14b4e" d="M0 53h1v1.15h-1zM0 59h1v1.15h-1zM0 79h1v1.15h-1zM1 69h1v1.15h-1zM1 104h1v1.15h-1z"/><path fill="#ce3f42" d="M0 61h1v1.15h-1zM0 64h1v1.15h-1z"/><path fill="#cb3338" d="M0 71h1v1.15h-1z"/><path fill="#c62227" d="M0 58h1v1.15h-1z"/></g><path fill="none" stroke="#000" stroke-width="0.75" d="M42.6 318.3H31.3V318.5H42.6M42.6 318.7H30.7V318.8H42.6M31.3 318.4H20.6V318.8H30.7M42.6 319H25.4V319.2H42.6M42.6 319.6H32.5V319.8H42.6M42.6 319.4H29.6V319.7H32.5M25.4 319.1H23.5V319.5H29.6M23.5 319.3H22.8V319.9H42.6M42.6 320.1H21.3V320.3H42.6M22.8 319.6H20.4V320.2H21.3M42.6 320.5H28.7V320.7H42.6M20.4 319.9H13.7V320.6H28.7M42.6 321.2H31.7V321.4H42.6M42.6 321H29.5V321.3H31.7M42.6 320.9H19.3V321.2H29.5M42.6 321.6H21V321.8H42.6M19.3 321H15.8V321.7H21M13.7 320.3H11V321.4H15.8M42.6 322H28.2V322.1H42.6M42.6 322.5H24.2V322.7H42.6M42.6 322.3H21V322.6H24.2M28.2 322H15V322.5H21M42.6 323.1H30.4V323.2H42.6M42.6 322.9H29.5V323.1H30.4M29.5 323H26.5V323.4H42.6M15 322.3H12.3V323.2H26.5M11 320.8H10.4V322.7H12.3M20.6 318.6H9.2V321.8H10.4M42.6 323.8H29.5V324H42.6M29.5 323.9H22.7V324.2H42.6M42.6 323.6H21.6V324H22.7M42.6 324.3H32V324.5H42.6M32 324.4H29.3V324.7H42.6M29.3 324.6H23.1V324.9H42.6M23.1 324.7H21.6V325.1H42.6M21.6 323.8H20.1V324.9H21.6M42.6 325.4H31.1V325.6H42.6M31.1 325.5H28.2V325.8H42.6M28.2 325.7H25.6V326H42.6M42.6 325.3H22V325.8H25.6M42.6 326.5H29.7V326.7H42.6M42.6 326.4H25.7V326.6H29.7M25.7 326.5H24.7V326.9H42.6M42.6 326.2H22.7V326.7H24.7M22.7 326.4H20.1V327.1H42.6M22 325.5H19.3V326.8H20.1M42.6 327.3H25.8V327.5H42.6M42.6 327.6H30.7V327.8H42.6M30.7 327.7H29.3V328H42.6M25.8 327.4H23.9V327.9H29.3M19.3 326.2H16.6V327.6H23.9M20.1 324.4H14.9V326.9H16.6M42.6 328.2H24.9V328.4H42.6M42.6 328.6H26.3V328.7H42.6M42.6 328.9H30.5V329.1H42.6M42.6 329.3H30.6V329.5H42.6M30.5 329H29.3V329.4H30.6M29.3 329.2H26.4V329.7H42.6M26.3 328.6H24V329.4H26.4M42.6 330H25.8V330.2H42.6M42.6 329.8H24.7V330.1H25.8M24 329H22.4V330H24.7M24.9 328.3H21.3V329.5H22.4M42.6 330.4H23.8V330.6H42.6M23.8 330.5H21.1V330.8H42.6M21.1 330.6H19.6V330.9H42.6M42.6 331.1H21.6V331.3H42.6M19.6 330.8H17.3V331.2H21.6M21.3 328.9H14.6V331H17.3M14.9 325.6H12.5V329.9H14.6M42.6 331.9H30.1V332H42.6M42.6 331.7H28.2V331.9H30.1M42.6 331.5H19V331.8H28.2M42.6 332.4H31.3V332.6H42.6M31.3 332.5H29.4V332.8H42.6M42.6 332.2H18.9V332.6H29.4M42.6 333H21.5V333.1H42.6M18.9 332.4H17.7V333H21.5M19 331.7H16V332.7H17.7M42.6 333.5H29.5V333.7H42.6M42.6 333.3H27.6V333.6H29.5M42.6 334.1H30.2V334.2H42.6M30.2 334.1H29.3V334.4H42.6M42.6 333.9H27.1V334.3H29.3M27.6 333.5H20V334.1H27.1M42.6 334.6H24.3V334.8H42.6M42.6 335.2H31.8V335.3H42.6M42.6 335H26.3V335.2H31.8M42.6 335.5H31.4V335.7H42.6M31.4 335.6H29.3V335.9H42.6M29.3 335.8H27.1V336.1H42.6M26.3 335.1H23.5V335.9H27.1M24.3 334.7H21.4V335.5H23.5M21.4 335.1H20.1V336.3H42.6M20 333.8H17.3V335.7H20.1M16 332.2H15V334.7H17.3M42.6 336.4H27.7V336.6H42.6M42.6 336.8H29.7V337H42.6M27.7 336.5H19.7V336.9H29.7M15 333.5H13.8V336.7H19.7M42.6 337.2H28.7V337.4H42.6M28.7 337.3H25.8V337.5H42.6M42.6 337.7H28.1V337.9H42.6M25.8 337.4H23.8V337.8H28.1M42.6 338.3H25V338.5H42.6M42.6 338.1H23.7V338.4H25M23.8 337.6H22.4V338.2H23.7M42.6 338.6H28.4V338.8H42.6M42.6 339H25.3V339.2H42.6M28.4 338.7H20.7V339.1H25.3M22.4 337.9H19.9V338.9H20.7M42.6 339.4H25.9V339.6H42.6M25.9 339.5H22.8V339.7H42.6M42.6 339.9H27.4V340.1H42.6M42.6 340.3H26.7V340.5H42.6M27.4 340H24.4V340.4H26.7M42.6 340.7H29V340.8H42.6M29 340.8H27.1V341H42.6M42.6 341.2H31.8V341.4H42.6M27.1 340.9H24V341.3H31.8M24.4 340.2H22.5V341.1H24M22.8 339.6H20.8V340.6H22.5M19.9 338.4H18.7V340.1H20.8M42.6 341.6H30.4V341.8H42.6M42.6 342.1H26V342.3H42.6M42.6 341.9H25.3V342.2H26M25.3 342.1H23.4V342.5H42.6M30.4 341.7H21.6V342.3H23.4M21.6 342H19.4V342.7H42.6M18.7 339.3H17.5V342.3H19.4M42.6 342.9H25V343H42.6M42.6 343.4H32.1V343.6H42.6M42.6 344H32.7V344.1H42.6M42.6 343.8H31.5V344H32.7M32.1 343.5H29.6V343.9H31.5M29.6 343.7H28.4V344.3H42.6M42.6 343.2H26.4V344H28.4M26.4 343.6H24.8V344.5H42.6M25 342.9H22.1V344.1H24.8M42.6 344.7H22.4V344.9H42.6M22.1 343.5H19.7V344.8H22.4M42.6 345.1H30.1V345.2H42.6M42.6 345.4H27.3V345.6H42.6M27.3 345.5H25.5V345.8H42.6M30.1 345.1H22.6V345.7H25.5M42.6 346H30.9V346.2H42.6M22.6 345.4H21.6V346.1H30.9M42.6 346.5H28V346.7H42.6M42.6 346.3H25.2V346.6H28M42.6 347.1H31.5V347.3H42.6M42.6 346.9H28.5V347.2H31.5M25.2 346.5H22.9V347H28.5M42.6 347.6H25.1V347.8H42.6M42.6 347.4H24.3V347.7H25.1M24.3 347.6H23.7V348H42.6M42.6 348.4H30V348.5H42.6M42.6 348.2H26.9V348.4H30M26.9 348.3H26.2V348.7H42.6M42.6 349.1H34V349.3H42.6M42.6 348.9H32V349.2H34M42.6 349.5H35.2V349.6H42.6M35.2 349.5H32.5V349.8H42.6M32 349H29.9V349.7H32.5M42.6 350H28.3V350.2H42.6M29.9 349.4H27.1V350.1H28.3M26.2 348.5H25.2V349.7H27.1M23.7 347.8H22.6V349.1H25.2M22.9 346.8H20.5V348.5H22.6M21.6 345.7H19.2V347.6H20.5M19.7 344.1H17.4V346.7H19.2M42.6 350.4H32.4V350.6H42.6M32.4 350.5H29.7V350.7H42.6M42.6 350.9H31.3V351.1H42.6M29.7 350.6H28.3V351H31.3M28.3 350.8H27.4V351.3H42.6M27.4 351.1H24.9V351.5H42.6M42.6 351.8H28.9V352H42.6M28.9 351.9H26V352.2H42.6M42.6 351.7H24.8V352.1H26M24.9 351.3H23V351.9H24.8M42.6 352.4H26.9V352.6H42.6M23 351.6H21.1V352.5H26.9M42.6 352.8H25.7V352.9H42.6M42.6 353.1H31.1V353.3H42.6M42.6 353.5H30.2V353.7H42.6M42.6 354H31.2V354.2H42.6M42.6 353.9H30.3V354.1H31.2M30.2 353.6H28.1V354H30.3M31.1 353.2H25.1V353.8H28.1M25.7 352.9H23.4V353.5H25.1M42.6 354.6H32.3V354.8H42.6M42.6 354.4H30V354.7H32.3M30 354.5H27.1V355H42.6M27.1 354.8H26.1V355.1H42.6M23.4 353.2H22.7V354.9H26.1M21.1 352H19.7V354.1H22.7M42.6 355.5H29.9V355.7H42.6M42.6 356.1H30.9V356.2H42.6M30.9 356.1H29.1V356.4H42.6M42.6 355.9H26V356.3H29.1M29.9 355.6H25V356.1H26M42.6 356.6H25.3V356.8H42.6M25 355.8H24.1V356.7H25.3M42.6 357H29V357.2H42.6M24.1 356.3H22.4V357.1H29M42.6 355.3H20.1V356.7H22.4M19.7 353H18.4V356H20.1M17.4 345.4H16.1V354.5H18.4M17.5 340.8H14.9V350H16.1M42.6 357.3H23.4V357.5H42.6M23.4 357.4H22.4V357.7H42.6M22.4 357.6H19.7V357.9H42.6M42.6 358.1H23V358.3H42.6M42.6 358.4H28.5V358.6H42.6M28.5 358.5H26.1V358.8H42.6M42.6 359H27.2V359.2H42.6M42.6 359.4H30.8V359.5H42.6M27.2 359.1H26.2V359.4H30.8M26.1 358.7H24.9V359.3H26.2M42.6 359.7H26.3V359.9H42.6M24.9 359H23.9V359.8H26.3M23 358.2H21.6V359.4H23.9M19.7 357.7H15V358.8H21.6M14.9 345.4H12.6V358.3H15M13.8 335.1H11.9V351.8H12.6M12.5 327.8H9.7V343.5H11.9M42.6 360.3H28.7V360.5H42.6M42.6 360.6H29.3V360.8H42.6M28.7 360.4H28.1V360.7H29.3M42.6 361H27.9V361.2H42.6M28.1 360.6H26.8V361.1H27.9M42.6 360.1H25.1V360.8H26.8M42.6 361.4H23.7V361.6H42.6M25.1 360.5H23V361.5H23.7M42.6 361.9H29.1V362.1H42.6M42.6 361.7H28V362H29.1M42.6 362.3H27.7V362.5H42.6M28 361.9H25.2V362.4H27.7M42.6 362.8H25.9V363H42.6M42.6 362.7H24V362.9H25.9M25.2 362.1H23.2V362.8H24M23 361H20.3V362.5H23.2M42.6 363.6H29.6V363.8H42.6M42.6 363.4H27.4V363.7H29.6M42.6 364.1H29.5V364.3H42.6M42.6 363.9H28.3V364.2H29.5M27.4 363.5H25.9V364.1H28.3M42.6 363.2H23.7V363.8H25.9M42.6 364.5H23.3V364.7H42.6M23.7 363.5H21V364.6H23.3M20.3 361.7H13.7V364H21M42.6 364.9H28.7V365H42.6M42.6 365.4H29.7V365.6H42.6M29.7 365.5H28.7V365.8H42.6M28.7 365.6H27.9V366H42.6M42.6 365.2H26.9V365.8H27.9M28.7 364.9H20.9V365.5H26.9M42.6 366.1H23.4V366.3H42.6M20.9 365.2H17.4V366.2H23.4M42.6 366.7H28.5V366.9H42.6M42.6 366.5H19.9V366.8H28.5M17.4 365.7H14.5V366.6H19.9M42.6 367.1H23.6V367.2H42.6M42.6 367.4H31V367.6H42.6M42.6 367.8H30.3V368H42.6M31 367.5H25.4V367.9H30.3M25.4 367.7H22.4V368.2H42.6M23.6 367.1H17.1V367.9H22.4M42.6 368.7H29.3V368.9H42.6M42.6 368.5H27.7V368.8H29.3M27.7 368.7H26.8V369.1H42.6M42.6 368.3H26.2V368.9H26.8M42.6 369.3H30.7V369.4H42.6M26.2 368.6H24.1V369.4H30.7M17.1 367.5H16.2V369H24.1M42.6 369.8H24.2V370H42.6M42.6 369.6H17.5V369.9H24.2M42.6 370.2H31.1V370.4H42.6M42.6 370.5H31.2V370.7H42.6M31.2 370.6H27.1V370.9H42.6M27.1 370.8H25.9V371.1H42.6M31.1 370.3H24V370.9H25.9M42.6 371.5H28.5V371.6H42.6M42.6 371.3H27.8V371.5H28.5M24 370.6H21.8V371.4H27.8M17.5 369.8H16.4V371H21.8M16.2 368.3H15.5V370.4H16.4M14.5 366.2H13.6V369.3H15.5M13.7 362.9H11.2V367.8H13.6M42.6 372.2H29.5V372.4H42.6M42.6 372.6H27.5V372.7H42.6M29.5 372.3H26.7V372.6H27.5M42.6 372H24.7V372.5H26.7M42.6 372.9H25V373.1H42.6M42.6 373.5H31.3V373.7H42.6M42.6 373.3H28.8V373.6H31.3M25 373H24V373.4H28.8M24.7 372.2H22.8V373.2H24M42.6 371.8H20.8V372.7H22.8M42.6 373.8H26.7V374H42.6M42.6 374.4H24.6V374.6H42.6M42.6 374.2H22.8V374.5H24.6M26.7 373.9H21.6V374.3H22.8M20.8 372.3H19.6V374.1H21.6M42.6 374.8H31.4V374.9H42.6M42.6 375.1H25.2V375.3H42.6M31.4 374.9H19.3V375.2H25.2M19.6 373.2H17.5V375H19.3M42.6 375.5H26.3V375.7H42.6M42.6 376.2H27.5V376.4H42.6M42.6 376H25.8V376.3H27.5M42.6 375.9H23.1V376.2H25.8M26.3 375.6H22.2V376H23.1M42.6 377H32.2V377.1H42.6M42.6 376.8H31V377H32.2M42.6 377.3H31V377.5H42.6M31 377.4H30.3V377.7H42.6M31 376.9H29.4V377.6H30.3M42.6 376.6H27.3V377.2H29.4M42.6 378.1H30V378.2H42.6M42.6 377.9H28V378.1H30M27.3 376.9H24.6V378H28M42.6 378.4H29.7V378.6H42.6M24.6 377.5H22.1V378.5H29.7M22.2 375.8H20.8V378H22.1M42.6 378.8H29.2V379H42.6M29.2 378.9H26.5V379.2H42.6M42.6 379.3H28.9V379.5H42.6M26.5 379H21.7V379.4H28.9M20.8 376.9H19.6V379.2H21.7M42.6 379.9H24V380.1H42.6M42.6 379.7H22.5V380H24M42.6 380.4H30V380.6H42.6M30 380.5H27.8V380.8H42.6M42.6 380.3H26.5V380.7H27.8M42.6 381H30.6V381.2H42.6M42.6 381.5H31.9V381.7H42.6M42.6 381.4H31.1V381.6H31.9M30.6 381.1H28.4V381.5H31.1M42.6 381.9H28.7V382.1H42.6M28.4 381.3H27.5V382H28.7M26.5 380.5H25.8V381.6H27.5M42.6 382.5H32V382.6H42.6M42.6 382.3H29.1V382.5H32M42.6 383H29.5V383.2H42.6M42.6 382.8H26.7V383.1H29.5M29.1 382.4H26V383H26.7M25.8 381.1H24.2V382.7H26M42.6 383.6H31.3V383.7H42.6M31.3 383.6H28.8V383.9H42.6M42.6 383.4H26.5V383.8H28.8M26.5 383.6H25V384.1H42.6M24.2 381.9H22.5V383.8H25M22.5 379.8H20.6V382.9H22.5M19.6 378.1H18V381.4H20.6M17.5 374.1H15.9V379.7H18M42.6 384.3H30.2V384.5H42.6M30.2 384.4H25.7V384.7H42.6M42.6 384.8H24.9V385H42.6M25.7 384.5H22.9V384.9H24.9M42.6 385.4H29.9V385.6H42.6M29.9 385.5H28.2V385.8H42.6M42.6 385.9H29.6V386.1H42.6M28.2 385.6H26.7V386H29.6M26.7 385.8H21.9V386.3H42.6M42.6 385.2H19.6V386.1H21.9M42.6 386.7H31.1V386.9H42.6M31.1 386.8H28.6V387H42.6M42.6 387.2H30V387.4H42.6M28.6 386.9H27V387.3H30M42.6 386.5H25.4V387.1H27M19.6 385.6H18.7V386.8H25.4M42.6 387.6H24.1V387.8H42.6M24.1 387.7H23.5V388H42.6M42.6 388.3H33.1V388.5H42.6M33.1 388.4H30.5V388.7H42.6M42.6 388.1H28V388.6H30.5M28 388.3H27V388.9H42.6M23.5 387.8H21.7V388.6H27M42.6 389.2H28.6V389.4H42.6M42.6 389.1H27.9V389.3H28.6M42.6 389.6H29.4V389.8H42.6M29.4 389.7H22.9V390H42.6M22.9 389.8H22.1V390.2H42.6M42.6 390.7H25.8V390.9H42.6M42.6 390.5H24.4V390.8H25.8M42.6 390.3H23.7V390.7H24.4M22.1 390H21.4V390.5H23.7M42.6 391.1H23.6V391.3H42.6M23.6 391.2H21.6V391.4H42.6M21.4 390.2H20.8V391.3H21.6M27.9 389.2H19.6V390.8H20.8M21.7 388.2H18.8V390H19.6M18.7 386.2H17.7V389.1H18.8M22.9 384.7H15.4V387.7H17.7M15.9 376.9H13.4V386.2H15.4M42.6 392.2H30.6V392.4H42.6M42.6 392H28.7V392.3H30.6M28.7 392.1H25.7V392.5H42.6M42.6 392.7H24.8V392.9H42.6M25.7 392.3H18.9V392.8H24.8M42.6 391.8H17.5V392.6H18.9M42.6 391.6H16.3V392.2H17.5M42.6 393.1H25.1V393.3H42.6M42.6 393.5H27.5V393.6H42.6M27.5 393.5H25.4V393.8H42.6M25.1 393.2H22.6V393.7H25.4M42.6 394H25.8V394.2H42.6M25.8 394.1H23.2V394.4H42.6M22.6 393.4H18.3V394.2H23.2M16.3 391.9H15.4V393.8H18.3M42.6 394.6H22.3V394.7H42.6M42.6 395.3H31.8V395.5H42.6M31.8 395.4H30.4V395.7H42.6M42.6 395.1H28.5V395.5H30.4M42.6 394.9H25.8V395.3H28.5M42.6 395.8H26.2V396H42.6M42.6 396.6H31.2V396.8H42.6M42.6 396.4H28.5V396.7H31.2M42.6 396.2H26.7V396.5H28.5M26.2 395.9H22.2V396.4H26.7M25.8 395.1H19.7V396.2H22.2M22.3 394.6H18.3V395.6H19.7M42.6 397.1H26.8V397.3H42.6M42.6 396.9H25.3V397.2H26.8M42.6 397.7H30.8V397.9H42.6M42.6 397.5H29.6V397.8H30.8M29.6 397.6H28.1V398H42.6M28.1 397.8H25.3V398.2H42.6M25.3 397.1H23.6V398H25.3M18.3 395.1H16.6V397.6H23.6M42.6 398.4H26.7V398.6H42.6M26.7 398.5H25.6V398.8H42.6M42.6 399.1H28.4V399.3H42.6M42.6 399H21.9V399.2H28.4M42.6 399.5H29.7V399.7H42.6M29.7 399.6H21.3V399.9H42.6M21.9 399.1H20.2V399.7H21.3M25.6 398.6H18.2V399.4H20.2M16.6 396.3H15.6V399H18.2M15.4 392.9H14.1V397.7H15.6M13.4 381.6H11.4V395.3H14.1M11.2 365.3H9.4V388.4H11.4M42.6 400.1H26.1V400.2H42.6M26.1 400.1H25.4V400.4H42.6M42.6 400.8H30.3V401H42.6M42.6 401.2H29.3V401.3H42.6M30.3 400.9H27.5V401.2H29.3M42.6 400.6H26.7V401.1H27.5M42.6 401.5H28.3V401.7H42.6M28.3 401.6H26.7V401.9H42.6M26.7 401.8H25.7V402.1H42.6M26.7 400.8H24.4V401.9H25.7M25.4 400.3H23.3V401.4H24.4M42.6 402.3H28V402.4H42.6M42.6 402.6H30.1V402.8H42.6M28 402.4H23.3V402.7H30.1M23.3 400.8H20.9V402.5H23.3M42.6 403.2H28.6V403.4H42.6M42.6 403H20.9V403.3H28.6M20.9 401.7H19.5V403.1H20.9M42.6 403.7H30V403.9H42.6M42.6 403.5H28V403.8H30M42.6 404.3H29.4V404.5H42.6M42.6 404.1H25.4V404.4H29.4M25.4 404.2H24.3V404.6H42.6M28 403.7H23.2V404.4H24.3M42.6 404.8H23.3V405H42.6M23.2 404.1H20.9V404.9H23.3M42.6 405.4H30.5V405.6H42.6M42.6 405.2H27.7V405.5H30.5M42.6 405.7H27.1V405.9H42.6M27.7 405.3H23.8V405.8H27.1M42.6 406.5H30.3V406.7H42.6M42.6 406.3H26.1V406.6H30.3M42.6 406.1H23.2V406.4H26.1M23.8 405.6H22V406.3H23.2M42.6 407.2H27.6V407.4H42.6M42.6 407H25.5V407.3H27.6M42.6 406.8H23.5V407.2H25.5M22 405.9H21V407H23.5M42.6 407.8H27.2V407.9H42.6M42.6 407.6H24.9V407.9H27.2M42.6 408.3H29.2V408.5H42.6M42.6 408.1H26.5V408.4H29.2M42.6 408.7H28.1V408.9H42.6M26.5 408.3H25.8V408.8H28.1M42.6 409H25.4V409.2H42.6M25.8 408.5H23.3V409.1H25.4M24.9 407.7H22.3V408.8H23.3M21 406.5H20.4V408.3H22.3M20.9 404.5H19.2V407.4H20.4M19.5 402.4H17V405.9H19.2M42.6 409.4H26.2V409.6H42.6M42.6 409.8H30.7V410H42.6M30.7 409.9H27.9V410.1H42.6M26.2 409.5H25.2V410H27.9M25.2 409.8H23.9V410.3H42.6M42.6 410.7H31.3V410.9H42.6M42.6 410.5H28.6V410.8H31.3M23.9 410H22.3V410.6H28.6M42.6 411.1H20.8V411.2H42.6M42.6 411.6H30.2V411.8H42.6M42.6 411.4H22.6V411.7H30.2M42.6 412H26V412.2H42.6M26 412.1H24.5V412.3H42.6M42.6 412.5H22.9V412.7H42.6M24.5 412.2H21.5V412.6H22.9M22.6 411.6H20V412.4H21.5M20.8 411.1H18.4V412H20M22.3 410.3H16.9V411.6H18.4M17 404.2H14.7V411H16.9M42.6 413.3H28.6V413.4H42.6M42.6 413.1H25.9V413.4H28.6M25.9 413.2H23.5V413.6H42.6M42.6 412.9H22.8V413.4H23.5M42.6 414H29.6V414.2H42.6M29.6 414.1H28.8V414.4H42.6M28.8 414.2H23.7V414.5H42.6M42.6 413.8H22.7V414.4H23.7M22.8 413.2H20.7V414.1H22.7M42.6 414.9H27.7V415.1H42.6M27.7 415H26.5V415.3H42.6M42.6 414.7H20.7V415.1H26.5M20.7 413.6H18.4V414.9H20.7M42.6 415.6H28V415.8H42.6M42.6 415.5H21.8V415.7H28M42.6 416.2H28.2V416.4H42.6M42.6 416.7H30.1V416.9H42.6M42.6 416.6H28.4V416.8H30.1M28.4 416.7H27.7V417.1H42.6M28.2 416.3H26.6V416.9H27.7M42.6 416H24.7V416.6H26.6M21.8 415.6H19.5V416.3H24.7M42.6 417.5H27.3V417.7H42.6M42.6 417.3H26.2V417.6H27.3M42.6 417.8H30.4V418H42.6M30.4 417.9H27.1V418.2H42.6M26.2 417.4H25.3V418.1H27.1M42.6 418.4H25.1V418.6H42.6M25.3 417.8H24V418.5H25.1M24 418.1H22.4V418.8H42.6M42.6 418.9H25.8V419.1H42.6M42.6 419.3H27.4V419.5H42.6M25.8 419H21.7V419.4H27.4M42.6 419.9H32V420H42.6M32 419.9H29.7V420.2H42.6M29.7 420.1H22.9V420.4H42.6M42.6 419.7H21.8V420.2H22.9M21.7 419.2H21V420H21.8M42.6 420.6H22V420.8H42.6M21 419.6H19.3V420.7H22M22.4 418.4H18.2V420.1H19.3M19.5 415.9H16.6V419.3H18.2M18.4 414.3H15.7V417.6H16.6M42.6 421H28.9V421.1H42.6M42.6 421.3H31.1V421.5H42.6M28.9 421H28.2V421.4H31.1M28.2 421.2H25.8V421.7H42.6M42.6 422.4H25.8V422.6H42.6M42.6 422.2H24.6V422.5H25.8M42.6 422.1H23.7V422.4H24.6M42.6 422.8H29.8V423H42.6M23.7 422.2H22.2V422.9H29.8M42.6 421.9H18.9V422.6H22.2M25.8 421.5H17.7V422.2H18.9M42.6 423.5H29.3V423.7H42.6M42.6 423.3H25.1V423.6H29.3M25.1 423.5H23.6V423.9H42.6M42.6 423.2H20.6V423.7H23.6M42.6 424.3H30.8V424.4H42.6M42.6 424.1H28.7V424.4H30.8M42.6 424.6H29.9V424.8H42.6M29.9 424.7H27.8V425H42.6M28.7 424.2H25.7V424.9H27.8M42.6 425.2H27.4V425.4H42.6M42.6 425.7H31.6V425.9H42.6M31.6 425.8H29.5V426.1H42.6M42.6 425.5H28V426H29.5M42.6 426.5H28.9V426.6H42.6M42.6 426.3H28.1V426.5H28.9M28 425.7H27.2V426.4H28.1M27.4 425.3H25.4V426.1H27.2M25.7 424.5H24.7V425.7H25.4M42.6 426.8H32.2V427H42.6M32.2 426.9H29.2V427.2H42.6M24.7 425.1H22V427.1H29.2M42.6 427.4H25.7V427.6H42.6M42.6 427.7H27.6V427.9H42.6M42.6 428.1H27.9V428.3H42.6M27.6 427.8H24.9V428.2H27.9M25.7 427.5H22.7V428H24.9M22 426.1H19.8V427.7H22.7M20.6 423.4H18.1V426.9H19.8M42.6 428.5H21.5V428.7H42.6M42.6 428.8H29.2V429H42.6M29.2 428.9H21.8V429.2H42.6M42.6 429.6H28.6V429.8H42.6M42.6 429.4H23.6V429.7H28.6M42.6 429.9H29.3V430.1H42.6M29.3 430H26.7V430.3H42.6M42.6 430.5H30.2V430.7H42.6M42.6 430.9H30.9V431H42.6M30.2 430.6H27.5V430.9H30.9M27.5 430.8H26.3V431.2H42.6M26.7 430.2H23.8V431H26.3M23.8 430.6H23V431.4H42.6M23.6 429.5H20.8V431H23M21.8 429.1H19.3V430.3H20.8M21.5 428.6H18.7V429.7H19.3M18.1 425.2H17.2V429.1H18.7M17.7 421.8H15.5V427.1H17.2M15.7 415.9H13.6V424.5H15.5M14.7 407.6H12.6V420.2H13.6M42.6 431.6H28.1V431.8H42.6M28.1 431.7H25.5V432H42.6M42.6 432.3H28.5V432.5H42.6M42.6 432.1H27.3V432.4H28.5M27.3 432.3H25.6V432.7H42.6M25.5 431.8H23.8V432.5H25.6M42.6 432.9H30.4V433.1H42.6M30.4 433H29.4V433.2H42.6M42.6 433.4H29.3V433.6H42.6M29.4 433.1H26.6V433.5H29.3M42.6 433.8H30.6V434H42.6M42.6 434.5H28.8V434.7H42.6M28.8 434.6H26.9V434.9H42.6M42.6 434.3H25.7V434.8H26.9M42.6 434.2H23.2V434.5H25.7M23.2 434.4H20.8V435.1H42.6M30.6 433.9H19.2V434.7H20.8M26.6 433.3H17.2V434.3H19.2M42.6 435.3H22.4V435.4H42.6M17.2 433.8H16.4V435.4H22.4M42.6 435.6H27.3V435.8H42.6M42.6 436H23.8V436.2H42.6M27.3 435.7H19.5V436.1H23.8M16.4 434.6H13.2V435.9H19.5M23.8 432.2H12V435.2H13.2M12.6 413.9H10.2V433.7H12M42.6 436.5H26.5V436.7H42.6M42.6 436.4H25.7V436.6H26.5M25.7 436.5H20.5V436.9H42.6M42.6 437.3H31V437.5H42.6M42.6 437.1H28.5V437.4H31M42.6 437.6H27.2V437.8H42.6M42.6 438H31.2V438.2H42.6M27.2 437.7H25V438.1H31.2M28.5 437.2H18.9V437.9H25M20.5 436.7H16.5V437.6H18.9M42.6 438.4H30.9V438.6H42.6M30.9 438.5H24.1V438.7H42.6M42.6 439.1H27.9V439.3H42.6M42.6 438.9H27.3V439.2H27.9M42.6 439.7H31.1V439.8H42.6M42.6 439.5H29.7V439.8H31.1M29.7 439.6H28.6V440H42.6M27.3 439.1H25.6V439.8H28.6M42.6 440.2H26.7V440.4H42.6M26.7 440.3H25.6V440.6H42.6M25.6 439.4H24.5V440.4H25.6M24.1 438.6H22.2V439.9H24.5M16.5 437.1H12.8V439.3H22.2M42.6 440.9H28.6V441.1H42.6M28.6 441H24.2V441.3H42.6M42.6 441.5H24.4V441.7H42.6M24.2 441.2H22.4V441.6H24.4M42.6 440.8H20.8V441.4H22.4M42.6 441.9H26.1V442H42.6M42.6 442.2H30.8V442.4H42.6M26.1 441.9H23.8V442.3H30.8M20.8 441.1H19.7V442.1H23.8M42.6 442.6H31.5V442.8H42.6M42.6 443.1H28.1V443.3H42.6M42.6 443H27.3V443.2H28.1M31.5 442.7H25V443.1H27.3M25 442.9H16.1V443.5H42.6M19.7 441.6H14.3V443.2H16.1M42.6 443.7H29V443.9H42.6M42.6 444.2H28.1V444.4H42.6M42.6 444.1H25.4V444.3H28.1M29 443.8H20.5V444.2H25.4M20.5 444H19.8V444.6H42.6M42.6 444.8H28.5V445H42.6M19.8 444.3H15.3V444.9H28.5M14.3 442.4H13.4V444.6H15.3M12.8 438.2H11.7V443.5H13.4M10.2 423.8H9.4V440.9H11.7M42.6 445.2H28.4V445.3H42.6M42.6 445.5H26.2V445.7H42.6M28.4 445.2H25.2V445.6H26.2M42.6 445.9H28.3V446.1H42.6M42.6 446.3H30V446.4H42.6M28.3 446H27.4V446.4H30M25.2 445.4H20.6V446.2H27.4M42.6 446.6H26.1V446.8H42.6M42.6 447H30.9V447.2H42.6M26.1 446.7H24.8V447.1H30.9M42.6 447.4H30V447.5H42.6M24.8 446.9H23.7V447.4H30M20.6 445.8H17.9V447.2H23.7M42.6 447.9H28.3V448.1H42.6M28.3 448H26.8V448.3H42.6M42.6 447.7H26.1V448.1H26.8M42.6 448.6H27.7V448.8H42.6M27.7 448.7H24V449H42.6M42.6 448.5H21.7V448.9H24M26.1 447.9H18.9V448.7H21.7M42.6 449.2H26.1V449.4H42.6M26.1 449.3H20.7V449.6H42.6M42.6 449.7H24.4V449.9H42.6M24.4 449.8H21.1V450.1H42.6M20.7 449.4H18.2V450H21.1M18.9 448.3H16.7V449.7H18.2M17.9 446.5H15V449H16.7M42.6 450.3H31.7V450.5H42.6M42.6 450.7H25V450.8H42.6M42.6 451H27.8V451.2H42.6M27.8 451.1H27.2V451.4H42.6M42.6 451.6H30.1V451.8H42.6M30.1 451.7H27.5V451.9H42.6M27.2 451.3H24.6V451.8H27.5M25 450.8H23V451.5H24.6M31.7 450.4H21.4V451.1H23M42.6 452.1H26.1V452.3H42.6M26.1 452.2H21V452.5H42.6M42.6 452.7H25.6V452.9H42.6M21 452.4H18.5V452.8H25.6M42.6 453.2H25.4V453.4H42.6M25.4 453.3H22.4V453.6H42.6M42.6 453H21.5V453.5H22.4M21.5 453.2H19.7V453.8H42.6M19.7 453.5H18V454H42.6M18.5 452.6H15.4V453.7H18M21.4 450.8H13.5V453.1H15.4M15 447.7H12.6V452H13.5M42.6 454.1H24.5V454.3H42.6M42.6 454.7H29.4V454.9H42.6M42.6 455.1H31.1V455.2H42.6M42.6 455.6H33.8V455.8H42.6M42.6 455.4H31.9V455.7H33.8M31.9 455.6H30.4V456H42.6M31.1 455.1H29.7V455.8H30.4M29.4 454.8H28.1V455.5H29.7M42.6 454.5H25.4V455.1H28.1M24.5 454.2H23.1V454.8H25.4M42.6 456.2H27.8V456.3H42.6M27.8 456.2H24.3V456.5H42.6M23.1 454.5H21.3V456.4H24.3M42.6 456.9H31.6V457.1H42.6M42.6 456.7H29.3V457H31.6M42.6 457.3H28V457.4H42.6M29.3 456.8H26.9V457.4H28M21.3 455.5H19.1V457.1H26.9M42.6 458H29.3V458.2H42.6M42.6 457.8H26.9V458.1H29.3M42.6 457.6H25.3V457.9H26.9M25.3 457.8H23.2V458.4H42.6M42.6 458.7H26.8V458.9H42.6M26.8 458.8H25.3V459.1H42.6M42.6 458.5H23.8V459H25.3M23.2 458.1H14.6V458.7H23.8M19.1 456.3H13.1V458.4H14.6M42.6 459.8H30.4V460H42.6M42.6 459.6H25.9V459.9H30.4M42.6 459.5H20.4V459.8H25.9M42.6 460.6H28.9V460.7H42.6M42.6 460.4H26.9V460.6H28.9M42.6 460.2H21.5V460.5H26.9M20.4 459.6H18.6V460.4H21.5M42.6 459.3H17V460H18.6M42.6 460.9H28.3V461.1H42.6M42.6 461.3H22.4V461.5H42.6M28.3 461H19.6V461.4H22.4M42.6 461.7H27V461.8H42.6M42.6 462H26.6V462.2H42.6M42.6 462.4H31.9V462.6H42.6M26.6 462.1H24.2V462.5H31.9M42.6 462.8H24.5V462.9H42.6M24.2 462.3H22.1V462.9H24.5M27 461.8H20.6V462.6H22.1M42.6 463.1H29V463.3H42.6M42.6 463.5H28V463.7H42.6M42.6 463.9H28.7V464H42.6M28 463.6H25.9V463.9H28.7M42.6 464.2H31.3V464.4H42.6M31.3 464.3H29.4V464.6H42.6M29.4 464.5H27V464.8H42.6M27 464.6H24.6V465H42.6M25.9 463.8H23.5V464.8H24.6M29 463.2H21.9V464.3H23.5M20.6 462.2H19.5V463.7H21.9M19.6 461.2H17.9V463H19.5M17 459.6H15.3V462.1H17.9M42.6 465.1H31.4V465.3H42.6M31.4 465.2H24.8V465.5H42.6M42.6 465.9H28.6V466.1H42.6M42.6 466.2H28.3V466.4H42.6M28.6 466H23.7V466.3H28.3M42.6 465.7H22.2V466.1H23.7M42.6 466.6H29.4V466.8H42.6M29.4 466.7H28.7V467H42.6M42.6 467.2H28.9V467.3H42.6M28.7 466.8H26.4V467.2H28.9M42.6 467.7H30.5V467.9H42.6M42.6 467.5H25V467.8H30.5M26.4 467H22.1V467.7H25M22.2 465.9H20.6V467.4H22.1M24.8 465.4H19.5V466.6H20.6M42.6 468.1H30.8V468.3H42.6M42.6 469H31.6V469.2H42.6M42.6 468.8H28.9V469.1H31.6M42.6 468.6H26.1V468.9H28.9M42.6 468.4H23.1V468.8H26.1M42.6 469.4H23V469.5H42.6M23.1 468.6H20.2V469.4H23M42.6 469.7H31.9V469.9H42.6M31.9 469.8H29.3V470.1H42.6M42.6 470.3H26.9V470.5H42.6M29.3 470H19.4V470.4H26.9M20.2 469H17.6V470.2H19.4M30.8 468.2H15.1V469.6H17.6M19.5 466H14V468.9H15.1M15.3 460.9H13.2V467.4H14M13.1 457.3H12.1V464.1H13.2M12.6 449.8H11.2V460.7H12.1M42.6 470.8H29.7V471H42.6M29.7 470.9H27.9V471.2H42.6M42.6 470.6H25.7V471.1H27.9M42.6 471.6H28.6V471.7H42.6M42.6 471.4H26V471.6H28.6M25.7 470.8H24.7V471.5H26M42.6 472.1H28.4V472.3H42.6M42.6 471.9H26.3V472.2H28.4M42.6 472.5H28.2V472.7H42.6M26.3 472.1H24.9V472.6H28.2M42.6 472.8H30.1V473H42.6M24.9 472.3H23.7V472.9H30.1M42.6 473.4H31.8V473.6H42.6M42.6 473.2H28.9V473.5H31.8M42.6 473.8H28.5V473.9H42.6M28.9 473.3H26.8V473.9H28.5M42.6 474.1H30.7V474.3H42.6M42.6 474.5H27.4V474.7H42.6M30.7 474.2H26.1V474.6H27.4M26.8 473.6H24.8V474.4H26.1M42.6 474.9H25.7V475H42.6M24.8 474H23.5V474.9H25.7M42.6 475.2H29.2V475.4H42.6M42.6 475.6H27.2V475.8H42.6M29.2 475.3H26.6V475.7H27.2M42.6 476H29.7V476.1H42.6M26.6 475.5H24.3V476H29.7M23.5 474.5H22.3V475.8H24.3M23.7 472.6H20.9V475.1H22.3M42.6 476.5H29V476.7H42.6M42.6 476.3H27.1V476.6H29M42.6 476.9H29.9V477.1H42.6M29.9 477H26.1V477.2H42.6M27.1 476.5H25V477.1H26.1M25 476.8H22.6V477.4H42.6M20.9 473.9H19.9V477.1H22.6M42.6 477.6H27.6V477.8H42.6M42.6 478H28.3V478.2H42.6M27.6 477.7H22.8V478.1H28.3M22.8 477.9H21V478.3H42.6M19.9 475.5H19.1V478.1H21M42.6 478.5H30.1V478.7H42.6M42.6 478.9H28.1V479.1H42.6M42.6 479.4H30.5V479.6H42.6M42.6 479.3H27.6V479.5H30.5M28.1 479H26.6V479.4H27.6M26.6 479.2H23.1V479.8H42.6M23.1 479.5H21.7V480H42.6M30.1 478.6H18.8V479.7H21.7M19.1 476.8H16.7V479.2H18.8M24.7 471.2H14.6V478H16.7M42.6 480.5H26V480.7H42.6M26 480.6H21.6V480.9H42.6M42.6 480.4H19.4V480.8H21.6M42.6 480.2H17.5V480.6H19.4M42.6 481.1H28.5V481.3H42.6M42.6 481.6H29.9V481.8H42.6M29.9 481.7H27.2V482H42.6M27.2 481.9H24.6V482.2H42.6M24.6 482H23.8V482.4H42.6M42.6 481.5H20.7V482.2H23.8M28.5 481.2H16.5V481.8H20.7M42.6 482.9H28.7V483.1H42.6M42.6 482.7H26.6V483H28.7M42.6 482.6H17.7V482.9H26.6M16.5 481.5H14.1V482.7H17.7M17.5 480.4H12.5V482.1H14.1M14.6 474.6H11.8V481.2H12.5M11.2 455.3H9.4V477.9H11.8M9.4 432.3H7.6V466.6H9.4"/><path fill="none" stroke="#333" stroke-width="0.9" shape-rendering="auto" d="M9.2 320.2H7.5V335.6H9.7M7.5 327.9H6.6V376.9H9.4M6.6 352.4H1.4V449.5H7.6"/><path fill="#000" d="M42.6 318.2L18.6 318.2L18.6 319.01L20.73 319.01L20.73 320.71L18.94 320.71L18.94 322.18L20.12 322.18L20.12 322.78L18.6 322.78L18.6 323.72L18.6 323.72L18.6 324.51L18.6 324.51L18.6 326.03L18.6 326.03L18.6 327.25L18.68 327.25L18.68 327.89L19.74 327.89L19.74 329.4L22.59 329.4L22.59 330.16L23.86 330.16L23.86 331.01L23.66 331.01L23.66 331.79L22.03 331.79L22.03 332.58L21.57 332.58L21.57 333.37L19.51 333.37L19.51 334.01L18.6 334.01L18.6 335.52L18.6 335.52L18.6 336.6L19.06 336.6L19.06 337.78L18.6 337.78L18.6 339.69L18.6 339.69L18.6 340.96L18.6 340.96L18.6 342.05L18.6 342.05L18.6 343.76L20.37 343.76L20.37 345.18L19.34 345.18L19.34 346.48L20.6 346.48L20.6 347.88L18.6 347.88L18.6 349.21L20.99 349.21L20.99 350.14L22.4 350.14L22.4 351.43L24.76 351.43L24.76 352.49L25.43 352.49L25.43 353.34L25.6 353.34L25.6 355.18L24.7 355.18L24.7 356.51L24.22 356.51L24.22 358.17L23.32 358.17L23.32 359.46L24.09 359.46L24.09 360.08L23.75 360.08L23.75 360.96L22.01 360.96L22.01 362.07L23.35 362.07L23.35 363.06L23.45 363.06L23.45 364.56L23.45 364.56L23.45 365.77L21.99 365.77L21.99 367.35L25.6 367.35L25.6 367.98L25.6 367.98L25.6 369.3L24.41 369.3L24.41 371.04L25.6 371.04L25.6 372.26L25.6 372.26L25.6 374.07L25.6 374.07L25.6 375.49L25.6 375.49L25.6 376.62L25.26 376.62L25.26 377.48L25.6 377.48L25.6 378.27L23.41 378.27L23.41 379.69L25.6 379.69L25.6 380.81L25.6 380.81L25.6 381.93L25.6 381.93L25.6 383.89L20.15 383.89L20.15 385.68L24.46 385.68L24.46 386.43L25.26 386.43L25.26 388.35L24.31 388.35L24.31 389.8L23.21 389.8L23.21 390.95L19.01 390.95L19.01 391.81L21.34 391.81L21.34 392.53L19.48 392.53L19.48 394.25L20.2 394.25L20.2 395.49L19.7 395.49L19.7 397.21L19.22 397.21L19.22 398.87L18.6 398.87L18.6 400.72L18.6 400.72L18.6 401.82L18.6 401.82L18.6 403.29L18.6 403.29L18.6 404.45L18.6 404.45L18.6 406.03L21.33 406.03L21.33 406.89L21 406.89L21 407.98L22.1 407.98L22.1 408.76L24.27 408.76L24.27 410.21L25.59 410.21L25.59 412.08L24.21 412.08L24.21 413.31L24.78 413.31L24.78 415.11L23.74 415.11L23.74 416.22L23.79 416.22L23.79 417.98L24.81 417.98L24.81 419.72L25.6 419.72L25.6 421.7L23.19 421.7L23.19 423.27L23.18 423.27L23.18 424.74L23.11 424.74L23.11 426.55L21.72 426.55L21.72 427.62L24.53 427.62L24.53 429.42L24.98 429.42L24.98 431.04L25.6 431.04L25.6 432.96L24.57 432.96L24.57 434.85L25.54 434.85L25.54 436.74L24.25 436.74L24.25 437.47L21.31 437.47L21.31 438.83L21.6 438.83L21.6 440.77L21.08 440.77L21.08 441.58L20.47 441.58L20.47 443.41L22.05 443.41L22.05 444.93L20.85 444.93L20.85 445.58L21.35 445.58L21.35 446.46L23.19 446.46L23.19 447.74L22.94 447.74L22.94 449.35L22.54 449.35L22.54 450.2L23.9 450.2L23.9 451.36L24.07 451.36L24.07 453.22L25.6 453.22L25.6 454.93L25.6 454.93L25.6 456.12L24 456.12L24 457.91L24.55 457.91L24.55 458.75L25.6 458.75L25.6 460.67L24.14 460.67L24.14 462.27L24.92 462.27L24.92 463.51L24.55 463.51L24.55 464.46L23.21 464.46L23.21 465.36L25.59 465.36L25.59 466.84L25.6 466.84L25.6 468.49L25.6 468.49L25.6 470.45L25.6 470.45L25.6 471.79L25.6 471.79L25.6 473.06L24.44 473.06L24.44 474.12L25.6 474.12L25.6 475.43L24.91 475.43L24.91 476.97L25.6 476.97L25.6 478.95L25.6 478.95L25.6 480L25.6 480L25.6 481.45L25.6 481.45L25.6 482.69L24.97 482.69L24.97 483.2L42.6 483.2z"/><text x="257.6" y="315.08" font-size="7.7" font-weight="bold" fill="#222">ecotype</text><rect x="259.2" y="318.1" width="7.3" height="14.51" fill="#c62227"/><rect x="259.2" y="332.56" width="7.3" height="14.51" fill="#d65c5e"/><rect x="259.2" y="347.03" width="7.3" height="14.51" fill="#e59a9c"/><rect x="259.2" y="361.49" width="7.3" height="14.51" fill="#f5d8da"/><rect x="259.2" y="375.95" width="7.3" height="14.51" fill="#e1e4f3"/><rect x="259.2" y="390.41" width="7.3" height="14.51" fill="#a6b5e0"/><rect x="259.2" y="404.88" width="7.3" height="14.51" fill="#6e88cc"/><rect x="259.2" y="419.34" width="7.3" height="14.51" fill="#3b5fb2"/><text x="269.8" y="326" font-size="7.1" fill="#222">3</text><text x="269.8" y="343.7" font-size="7.1" fill="#222">2</text><text x="269.8" y="361" font-size="7.1" fill="#222">1</text><text x="269.8" y="378.9" font-size="7.1" fill="#222">0</text><text x="269.8" y="396.6" font-size="7.1" fill="#222">-1</text><text x="269.8" y="414.3" font-size="7.1" fill="#222">-2</text><text x="269.8" y="431.6" font-size="7.1" fill="#222">-3</text><text x="281.2" y="324.2" font-size="7.7" font-weight="bold" fill="#222">ecotype</text><rect x="281.2" y="327" width="11.5" height="11.4" fill="#f5a11e"/><rect x="281.2" y="338.4" width="11.5" height="11.5" fill="#add8e6"/><text x="295" y="335.75" font-size="7.65" fill="#222">marine</text><text x="295" y="347.2" font-size="7.65" fill="#222">freshwater</text></g><g id="pd"><text transform="translate(366.3 266.05) scale(1 1.035)" font-size="17.4" font-weight="bold">(d)</text><text x="432.9" y="259.7" font-size="13.8" xml:space="preserve">DSGs  (liver, n=1,198)</text><path fill="none" stroke="#666" stroke-width="1.3" shape-rendering="auto" d="M402.48 308.2V290.5H418.86V308.2M451.63 308.2V288.4H468.02V308.2M435.25 308.2V286.4H459.82V288.4M410.67 290.5V285.6H447.53V286.4M517.17 308.2V298.4H533.55V308.2M500.78 308.2V294.5H525.36V298.4M484.4 308.2V291.2H513.07V294.5M566.32 308.2V288.6H582.71V308.2M549.94 308.2V285.7H574.52V288.6M498.74 291.2V277.5H562.23V285.7M429.1 285.6V274.2H530.48V277.5M386.09 308.2V266.5H479.79V274.2"/><rect x="377.9" y="308.2" width="16.68" height="7.5" fill="#f5a11e"/><rect x="394.28" y="308.2" width="16.68" height="7.5" fill="#add8e6"/><rect x="410.67" y="308.2" width="16.68" height="7.5" fill="#add8e6"/><rect x="427.05" y="308.2" width="16.68" height="7.5" fill="#add8e6"/><rect x="443.44" y="308.2" width="16.68" height="7.5" fill="#f5a11e"/><rect x="459.82" y="308.2" width="16.68" height="7.5" fill="#add8e6"/><rect x="476.21" y="308.2" width="16.68" height="7.5" fill="#f5a11e"/><rect x="492.59" y="308.2" width="16.68" height="7.5" fill="#add8e6"/><rect x="508.98" y="308.2" width="16.68" height="7.5" fill="#add8e6"/><rect x="525.36" y="308.2" width="16.68" height="7.5" fill="#add8e6"/><rect x="541.75" y="308.2" width="16.68" height="7.5" fill="#f5a11e"/><rect x="558.13" y="308.2" width="16.68" height="7.5" fill="#f5a11e"/><rect x="574.52" y="308.2" width="16.68" height="7.5" fill="#f5a11e"/><g transform="translate(377.9 318.2) scale(16.3846 1.2439)"><path fill="#4063b5" d="M0 14h1v1.15h-1z"/><path fill="#4a6bba" d="M0 6h1v1.15h-1zM0 11h1v1.15h-1zM0 31h1v1.15h-1z"/><path fill="#5474bf" d="M0 28h1v1.15h-1z"/><path fill="#5f7cc4" d="M0 7h1v1.15h-1z"/><path fill="#6984c9" d="M0 8h1v1.15h-1zM0 10h1v1.15h-1zM0 12h1v1.15h-1zM0 34h1v1.15h-1zM0 50h1v1.15h-1zM12 54h1v1.15h-1z"/><path fill="#748dce" d="M0 29h1v2.15h-1zM0 35h1v1.15h-1zM5 77h1v2.15h-1zM9 100h1v1.15h-1zM12 50h1v1.15h-1zM12 53h1v1.15h-1z"/><path fill="#7f96d2" d="M0 5h1v1.15h-1zM0 9h1v1.15h-1zM0 32h1v1.15h-1zM4 74h1v1.15h-1zM6 100h1v1.15h-1zM12 43h1v1.15h-1zM12 59h1v1.15h-1z"/><path fill="#8a9ed6" d="M0 15h1v1.15h-1zM0 19h1v3.15h-1zM0 33h1v1.15h-1zM8 100h1v1.15h-1zM9 80h1v1.15h-1zM11 25h1v1.15h-1zM12 34h1v1.15h-1zM12 51h1v1.15h-1z"/><path fill="#95a8da" d="M0 13h1v1.15h-1zM0 18h1v1.15h-1zM0 39h1v1.15h-1zM0 54h1v1.15h-1zM1 17h1v1.15h-1zM2 3h1v2.15h-1zM3 77h1v2.15h-1zM3 80h1v1.15h-1zM4 23h1v1.15h-1zM4 73h1v1.15h-1zM4 77h1v2.15h-1zM4 111h1v1.15h-1zM6 50h1v1.15h-1zM7 109h1v1.15h-1zM9 99h1v1.15h-1zM9 105h1v1.15h-1zM9 108h1v1.15h-1zM9 129h1v1.15h-1zM12 25h1v1.15h-1zM12 46h1v1.15h-1zM12 49h1v1.15h-1zM12 58h1v1.15h-1z"/><path fill="#a0b0de" d="M0 16h1v2.15h-1zM0 27h1v1.15h-1zM0 37h1v2.15h-1zM0 51h1v3.15h-1zM0 57h1v1.15h-1zM1 130h1v1.15h-1zM2 130h1v1.15h-1zM3 76h1v1.15h-1zM3 83h1v1.15h-1zM3 94h1v1.15h-1zM5 2h1v1.15h-1zM6 3h1v1.15h-1zM6 39h1v1.15h-1zM6 97h1v1.15h-1zM6 105h1v2.15h-1zM6 114h1v1.15h-1zM6 119h1v1.15h-1zM8 32h1v1.15h-1zM8 66h1v1.15h-1zM9 130h1v1.15h-1zM11 38h1v1.15h-1zM11 57h1v1.15h-1zM12 45h1v1.15h-1zM12 52h1v1.15h-1zM12 55h1v1.15h-1zM12 57h1v1.15h-1z"/><path fill="#acbae2" d="M0 49h1v1.15h-1zM1 115h1v1.15h-1zM1 117h1v1.15h-1zM2 0h1v3.15h-1zM2 22h1v1.15h-1zM3 81h1v1.15h-1zM3 93h1v1.15h-1zM4 75h1v2.15h-1zM4 110h1v1.15h-1zM5 68h1v1.15h-1zM5 76h1v1.15h-1zM6 34h1v1.15h-1zM6 63h1v1.15h-1zM6 96h1v1.15h-1zM6 99h1v1.15h-1zM6 115h1v1.15h-1zM6 118h1v1.15h-1zM6 128h1v2.15h-1zM6 131h1v1.15h-1zM7 39h1v1.15h-1zM7 107h1v1.15h-1zM8 31h1v1.15h-1zM8 96h1v1.15h-1zM8 99h1v1.15h-1zM8 119h1v1.15h-1zM8 123h1v1.15h-1zM9 113h1v1.15h-1zM9 115h1v1.15h-1zM11 24h1v1.15h-1zM11 62h1v1.15h-1zM12 19h1v1.15h-1zM12 56h1v1.15h-1zM12 60h1v1.15h-1z"/><path fill="#b8c3e6" d="M1 69h1v1.15h-1zM1 74h1v1.15h-1zM1 103h1v1.15h-1zM1 116h1v1.15h-1zM1 129h1v1.15h-1zM1 131h1v1.15h-1zM2 89h1v1.15h-1zM2 114h1v1.15h-1zM2 128h1v2.15h-1zM3 88h1v1.15h-1zM4 24h1v1.15h-1zM4 67h1v3.15h-1zM4 82h1v2.15h-1zM4 85h1v1.15h-1zM4 87h1v1.15h-1zM4 91h1v1.15h-1zM4 108h1v1.15h-1zM5 74h1v1.15h-1zM5 91h1v1.15h-1zM6 4h1v1.15h-1zM6 62h1v1.15h-1zM6 95h1v1.15h-1zM6 103h1v1.15h-1zM6 130h1v1.15h-1zM7 38h1v1.15h-1zM7 97h1v1.15h-1zM7 108h1v1.15h-1zM7 110h1v1.15h-1zM8 64h1v1.15h-1zM8 104h1v1.15h-1zM8 111h1v1.15h-1zM8 118h1v1.15h-1zM8 131h1v1.15h-1zM9 32h1v1.15h-1zM9 45h1v1.15h-1zM9 95h1v1.15h-1zM9 101h1v1.15h-1zM9 109h1v1.15h-1zM9 117h1v1.15h-1zM9 125h1v3.15h-1zM10 68h1v1.15h-1zM11 23h1v1.15h-1zM11 26h1v1.15h-1zM11 48h1v1.15h-1zM12 14h1v1.15h-1zM12 35h1v1.15h-1zM12 37h1v1.15h-1zM12 40h1v1.15h-1zM12 42h1v1.15h-1zM12 48h1v1.15h-1z"/><path fill="#c4ccea" d="M0 36h1v1.15h-1zM0 55h1v2.15h-1zM0 85h1v1.15h-1zM1 18h1v1.15h-1zM1 76h1v1.15h-1zM1 90h1v1.15h-1zM1 125h1v1.15h-1zM1 128h1v1.15h-1zM2 17h1v1.15h-1zM2 86h1v2.15h-1zM2 113h1v1.15h-1zM2 127h1v1.15h-1zM3 2h1v1.15h-1zM3 92h1v1.15h-1zM3 95h1v1.15h-1zM4 7h1v1.15h-1zM4 9h1v1.15h-1zM4 11h1v1.15h-1zM4 18h1v1.15h-1zM4 70h1v1.15h-1zM4 79h1v2.15h-1zM4 90h1v1.15h-1zM4 109h1v1.15h-1zM4 116h1v1.15h-1zM5 7h1v1.15h-1zM5 73h1v1.15h-1zM5 75h1v1.15h-1zM6 0h1v1.15h-1zM6 2h1v1.15h-1zM6 35h1v1.15h-1zM6 37h1v2.15h-1zM6 40h1v1.15h-1zM6 44h1v1.15h-1zM6 66h1v1.15h-1zM6 91h1v1.15h-1zM6 101h1v1.15h-1zM6 104h1v1.15h-1zM6 109h1v1.15h-1zM6 112h1v1.15h-1zM6 121h1v2.15h-1zM6 126h1v1.15h-1zM7 56h1v1.15h-1zM7 102h1v1.15h-1zM7 129h1v1.15h-1zM8 33h1v1.15h-1zM8 97h1v2.15h-1zM8 101h1v1.15h-1zM8 106h1v1.15h-1zM8 109h1v2.15h-1zM8 122h1v1.15h-1zM9 93h1v1.15h-1zM9 96h1v1.15h-1zM9 111h1v1.15h-1zM9 114h1v1.15h-1zM9 116h1v1.15h-1zM9 121h1v1.15h-1zM10 27h1v1.15h-1zM10 47h1v1.15h-1zM11 40h1v1.15h-1zM11 58h1v1.15h-1zM11 110h1v1.15h-1zM12 1h1v1.15h-1zM12 21h1v1.15h-1zM12 23h1v2.15h-1zM12 41h1v1.15h-1zM12 44h1v1.15h-1z"/><path fill="#cfd6ed" d="M0 40h1v1.15h-1zM0 47h1v1.15h-1zM1 16h1v1.15h-1zM1 37h1v1.15h-1zM1 70h1v1.15h-1zM1 89h1v1.15h-1zM1 98h1v1.15h-1zM1 113h1v1.15h-1zM1 118h1v1.15h-1zM1 122h1v3.15h-1zM1 127h1v1.15h-1zM2 33h1v1.15h-1zM2 64h1v1.15h-1zM2 92h1v1.15h-1zM2 125h1v1.15h-1zM3 0h1v2.15h-1zM3 14h1v1.15h-1zM3 41h1v2.15h-1zM3 82h1v1.15h-1zM3 84h1v1.15h-1zM3 116h1v1.15h-1zM4 5h1v2.15h-1zM4 8h1v1.15h-1zM4 47h1v1.15h-1zM4 72h1v1.15h-1zM4 89h1v1.15h-1zM4 92h1v1.15h-1zM5 1h1v1.15h-1zM5 9h1v1.15h-1zM5 11h1v1.15h-1zM5 67h1v1.15h-1zM5 79h1v2.15h-1zM5 89h1v2.15h-1zM6 36h1v1.15h-1zM6 64h1v1.15h-1zM6 93h1v2.15h-1zM6 98h1v1.15h-1zM6 108h1v1.15h-1zM6 113h1v1.15h-1zM6 117h1v1.15h-1zM6 123h1v1.15h-1zM6 127h1v1.15h-1zM7 98h1v1.15h-1zM7 114h1v1.15h-1zM8 30h1v1.15h-1zM8 56h1v1.15h-1zM8 65h1v1.15h-1zM8 82h1v1.15h-1zM8 88h1v1.15h-1zM8 92h1v3.15h-1zM8 105h1v1.15h-1zM8 108h1v1.15h-1zM8 117h1v1.15h-1zM8 121h1v1.15h-1zM9 2h1v1.15h-1zM9 31h1v1.15h-1zM9 77h1v1.15h-1zM9 94h1v1.15h-1zM9 102h1v1.15h-1zM9 106h1v2.15h-1zM9 110h1v1.15h-1zM9 124h1v1.15h-1zM9 128h1v1.15h-1zM10 22h1v1.15h-1zM10 28h1v1.15h-1zM10 42h1v1.15h-1zM10 44h1v1.15h-1zM10 61h1v1.15h-1zM10 67h1v1.15h-1zM10 70h1v1.15h-1zM10 74h1v1.15h-1zM10 90h1v1.15h-1zM11 1h1v1.15h-1zM11 12h1v1.15h-1zM11 14h1v1.15h-1zM11 22h1v1.15h-1zM11 36h1v1.15h-1zM11 43h1v3.15h-1zM11 49h1v1.15h-1zM11 55h1v1.15h-1zM11 111h1v1.15h-1zM12 0h1v1.15h-1zM12 2h1v1.15h-1zM12 16h1v1.15h-1zM12 47h1v1.15h-1zM12 61h1v1.15h-1z"/><path fill="#dbdff1" d="M0 71h1v1.15h-1zM1 15h1v1.15h-1zM1 19h1v1.15h-1zM1 28h1v1.15h-1zM1 36h1v1.15h-1zM1 68h1v1.15h-1zM1 75h1v1.15h-1zM1 77h1v1.15h-1zM1 108h1v2.15h-1zM1 114h1v1.15h-1zM1 121h1v1.15h-1zM2 16h1v1.15h-1zM2 72h1v1.15h-1zM2 76h1v1.15h-1zM2 78h1v2.15h-1zM2 90h1v1.15h-1zM2 110h1v2.15h-1zM2 115h1v1.15h-1zM2 126h1v1.15h-1zM2 131h1v1.15h-1zM3 4h1v1.15h-1zM3 21h1v2.15h-1zM3 24h1v1.15h-1zM3 56h1v1.15h-1zM3 68h1v1.15h-1zM3 74h1v2.15h-1zM3 79h1v1.15h-1zM3 112h1v1.15h-1zM4 10h1v1.15h-1zM4 17h1v1.15h-1zM4 25h1v1.15h-1zM4 30h1v1.15h-1zM4 71h1v1.15h-1zM4 81h1v1.15h-1zM4 84h1v1.15h-1zM4 102h1v1.15h-1zM4 118h1v1.15h-1zM5 0h1v1.15h-1zM5 16h1v1.15h-1zM5 71h1v1.15h-1zM5 131h1v1.15h-1zM6 1h1v1.15h-1zM6 22h1v1.15h-1zM6 31h1v1.15h-1zM6 43h1v1.15h-1zM6 51h1v1.15h-1zM6 86h1v1.15h-1zM6 111h1v1.15h-1zM6 120h1v1.15h-1zM6 124h1v1.15h-1zM7 3h1v2.15h-1zM7 9h1v1.15h-1zM7 45h1v1.15h-1zM7 55h1v1.15h-1zM7 93h1v1.15h-1zM7 111h1v3.15h-1zM7 126h1v1.15h-1zM7 130h1v1.15h-1zM8 60h1v1.15h-1zM8 89h1v1.15h-1zM8 107h1v1.15h-1zM8 114h1v1.15h-1zM8 120h1v1.15h-1zM8 124h1v2.15h-1zM8 128h1v2.15h-1zM9 41h1v1.15h-1zM9 51h1v1.15h-1zM9 70h1v1.15h-1zM9 74h1v1.15h-1zM9 79h1v1.15h-1zM9 104h1v1.15h-1zM9 123h1v1.15h-1zM9 131h1v1.15h-1zM10 30h1v1.15h-1zM10 56h1v1.15h-1zM10 60h1v1.15h-1zM10 66h1v1.15h-1zM10 89h1v1.15h-1zM10 128h1v1.15h-1zM11 4h1v1.15h-1zM11 11h1v1.15h-1zM11 15h1v1.15h-1zM11 27h1v1.15h-1zM11 37h1v1.15h-1zM11 47h1v1.15h-1zM11 54h1v1.15h-1zM11 59h1v1.15h-1zM11 64h1v1.15h-1zM11 89h1v1.15h-1zM12 5h1v2.15h-1zM12 17h1v1.15h-1zM12 20h1v1.15h-1zM12 36h1v1.15h-1zM12 63h1v1.15h-1zM12 66h1v1.15h-1z"/><path fill="#e3e3f1" d="M0 41h1v1.15h-1zM0 48h1v1.15h-1zM0 73h1v1.15h-1zM1 38h1v1.15h-1zM1 62h1v1.15h-1zM1 72h1v2.15h-1zM1 78h1v1.15h-1zM1 119h1v2.15h-1zM2 21h1v1.15h-1zM2 23h1v2.15h-1zM2 26h1v1.15h-1zM2 34h1v1.15h-1zM2 65h1v1.15h-1zM2 75h1v1.15h-1zM2 94h1v1.15h-1zM3 44h1v1.15h-1zM3 53h1v1.15h-1zM3 69h1v1.15h-1zM3 71h1v1.15h-1zM3 91h1v1.15h-1zM3 117h1v1.15h-1zM4 22h1v1.15h-1zM4 26h1v1.15h-1zM4 93h1v1.15h-1zM4 98h1v1.15h-1zM4 117h1v1.15h-1zM4 120h1v1.15h-1zM5 3h1v2.15h-1zM5 12h1v1.15h-1zM5 17h1v2.15h-1zM5 23h1v2.15h-1zM5 69h1v1.15h-1zM5 88h1v1.15h-1zM5 92h1v1.15h-1zM5 95h1v1.15h-1zM5 127h1v2.15h-1zM6 23h1v1.15h-1zM6 32h1v1.15h-1zM6 41h1v2.15h-1zM6 52h1v1.15h-1zM6 59h1v1.15h-1zM6 65h1v1.15h-1zM6 75h1v1.15h-1zM6 80h1v1.15h-1zM6 83h1v2.15h-1zM6 90h1v1.15h-1zM6 102h1v1.15h-1zM6 107h1v1.15h-1zM6 116h1v1.15h-1zM7 1h1v2.15h-1zM7 34h1v1.15h-1zM7 44h1v1.15h-1zM7 57h1v1.15h-1zM7 61h1v1.15h-1zM7 64h1v1.15h-1zM7 94h1v1.15h-1zM8 48h1v1.15h-1zM8 51h1v1.15h-1zM8 57h1v1.15h-1zM8 62h1v2.15h-1zM8 80h1v1.15h-1zM8 83h1v1.15h-1zM8 103h1v1.15h-1zM8 115h1v1.15h-1zM9 4h1v1.15h-1zM9 60h1v2.15h-1zM9 75h1v1.15h-1zM9 81h1v1.15h-1zM9 92h1v1.15h-1zM9 103h1v1.15h-1zM9 112h1v1.15h-1zM9 118h1v1.15h-1zM10 11h1v1.15h-1zM10 13h1v1.15h-1zM10 17h1v1.15h-1zM10 52h1v1.15h-1zM10 57h1v1.15h-1zM10 86h1v1.15h-1zM10 108h1v1.15h-1zM10 117h1v1.15h-1zM11 2h1v1.15h-1zM11 5h1v1.15h-1zM11 13h1v1.15h-1zM11 16h1v1.15h-1zM11 21h1v1.15h-1zM11 39h1v1.15h-1zM11 42h1v1.15h-1zM11 46h1v1.15h-1zM11 63h1v1.15h-1zM11 90h1v1.15h-1zM11 99h1v1.15h-1zM12 4h1v1.15h-1zM12 10h1v1.15h-1zM12 26h1v1.15h-1zM12 38h1v2.15h-1z"/><path fill="#e7e0ec" d="M0 24h1v2.15h-1zM0 46h1v1.15h-1zM1 5h1v1.15h-1zM1 20h1v1.15h-1zM1 27h1v1.15h-1zM1 29h1v2.15h-1zM1 32h1v1.15h-1zM1 52h1v2.15h-1zM1 61h1v1.15h-1zM1 71h1v1.15h-1zM1 80h1v2.15h-1zM1 91h1v1.15h-1zM1 93h1v1.15h-1zM1 97h1v1.15h-1zM1 102h1v1.15h-1zM1 104h1v1.15h-1zM1 126h1v1.15h-1zM2 15h1v1.15h-1zM2 18h1v1.15h-1zM2 20h1v1.15h-1zM2 29h1v1.15h-1zM2 51h1v1.15h-1zM2 71h1v1.15h-1zM2 74h1v1.15h-1zM2 77h1v1.15h-1zM2 88h1v1.15h-1zM2 93h1v1.15h-1zM2 97h1v1.15h-1zM2 102h1v2.15h-1zM2 109h1v1.15h-1zM2 112h1v1.15h-1zM2 117h1v1.15h-1zM2 120h1v1.15h-1zM2 123h1v1.15h-1zM3 3h1v1.15h-1zM3 43h1v1.15h-1zM3 57h1v2.15h-1zM3 61h1v1.15h-1zM3 70h1v1.15h-1zM4 46h1v1.15h-1zM4 86h1v1.15h-1zM4 88h1v1.15h-1zM4 103h1v1.15h-1zM4 106h1v1.15h-1zM4 113h1v2.15h-1zM4 119h1v1.15h-1zM5 13h1v1.15h-1zM5 22h1v1.15h-1zM5 25h1v2.15h-1zM5 70h1v1.15h-1zM5 81h1v2.15h-1zM5 93h1v1.15h-1zM5 98h1v1.15h-1zM5 119h1v1.15h-1zM6 25h1v1.15h-1zM6 29h1v1.15h-1zM6 48h1v1.15h-1zM6 61h1v1.15h-1zM6 71h1v1.15h-1zM6 76h1v1.15h-1zM6 79h1v1.15h-1zM6 87h1v1.15h-1zM6 92h1v1.15h-1zM6 110h1v1.15h-1zM6 125h1v1.15h-1zM7 37h1v1.15h-1zM7 82h1v1.15h-1zM7 106h1v1.15h-1zM7 115h1v1.15h-1zM7 122h1v1.15h-1zM7 127h1v2.15h-1zM8 4h1v1.15h-1zM8 7h1v2.15h-1zM8 28h1v1.15h-1zM8 52h1v1.15h-1zM8 58h1v1.15h-1zM8 116h1v1.15h-1zM8 130h1v1.15h-1zM9 44h1v1.15h-1zM9 82h1v2.15h-1zM9 97h1v1.15h-1zM9 120h1v1.15h-1zM10 0h1v1.15h-1zM10 12h1v1.15h-1zM10 15h1v1.15h-1zM10 19h1v3.15h-1zM10 24h1v1.15h-1zM10 29h1v1.15h-1zM10 32h1v2.15h-1zM10 45h1v2.15h-1zM10 69h1v1.15h-1zM10 71h1v3.15h-1zM10 78h1v1.15h-1zM10 122h1v1.15h-1zM10 127h1v1.15h-1zM10 129h1v2.15h-1zM11 0h1v1.15h-1zM11 3h1v1.15h-1zM11 6h1v1.15h-1zM11 19h1v2.15h-1zM11 41h1v1.15h-1zM11 50h1v1.15h-1zM11 61h1v1.15h-1zM11 70h1v1.15h-1zM11 98h1v1.15h-1zM11 122h1v1.15h-1zM12 8h1v2.15h-1zM12 28h1v1.15h-1zM12 98h1v1.15h-1z"/><path fill="#ebdee6" d="M0 69h1v2.15h-1zM0 72h1v1.15h-1zM0 86h1v1.15h-1zM1 47h1v1.15h-1zM1 58h1v1.15h-1zM1 63h1v1.15h-1zM1 88h1v1.15h-1zM1 95h1v1.15h-1zM1 99h1v1.15h-1zM1 106h1v2.15h-1zM1 111h1v2.15h-1zM2 5h1v3.15h-1zM2 28h1v1.15h-1zM2 30h1v1.15h-1zM2 39h1v1.15h-1zM2 49h1v1.15h-1zM2 60h1v2.15h-1zM2 73h1v1.15h-1zM2 81h1v2.15h-1zM2 91h1v1.15h-1zM2 98h1v1.15h-1zM2 108h1v1.15h-1zM2 121h1v2.15h-1zM3 16h1v1.15h-1zM3 20h1v1.15h-1zM3 23h1v1.15h-1zM3 45h1v1.15h-1zM3 73h1v1.15h-1zM3 86h1v2.15h-1zM3 103h1v1.15h-1zM3 109h1v1.15h-1zM3 127h1v1.15h-1zM4 1h1v2.15h-1zM4 13h1v1.15h-1zM4 21h1v1.15h-1zM4 115h1v1.15h-1zM4 125h1v1.15h-1zM4 127h1v1.15h-1zM5 5h1v2.15h-1zM5 8h1v1.15h-1zM5 15h1v1.15h-1zM5 51h1v1.15h-1zM5 72h1v1.15h-1zM5 83h1v1.15h-1zM5 87h1v1.15h-1zM5 97h1v1.15h-1zM5 108h1v1.15h-1zM6 10h1v1.15h-1zM6 26h1v1.15h-1zM6 30h1v1.15h-1zM6 49h1v1.15h-1zM6 81h1v1.15h-1zM7 8h1v1.15h-1zM7 10h1v1.15h-1zM7 12h1v1.15h-1zM7 18h1v1.15h-1zM7 35h1v1.15h-1zM7 46h1v1.15h-1zM7 51h1v1.15h-1zM7 53h1v2.15h-1zM7 60h1v1.15h-1zM7 62h1v1.15h-1zM7 66h1v1.15h-1zM7 71h1v1.15h-1zM7 87h1v1.15h-1zM7 103h1v1.15h-1zM7 131h1v1.15h-1zM8 1h1v1.15h-1zM8 36h1v1.15h-1zM8 38h1v2.15h-1zM8 47h1v1.15h-1zM8 50h1v1.15h-1zM8 59h1v1.15h-1zM8 61h1v1.15h-1zM8 87h1v1.15h-1zM8 112h1v1.15h-1zM8 126h1v2.15h-1zM9 1h1v1.15h-1zM9 3h1v1.15h-1zM9 40h1v1.15h-1zM9 71h1v1.15h-1zM9 90h1v1.15h-1zM9 98h1v1.15h-1zM9 122h1v1.15h-1zM10 6h1v1.15h-1zM10 51h1v1.15h-1zM10 62h1v1.15h-1zM10 75h1v1.15h-1zM10 85h1v1.15h-1zM10 92h1v1.15h-1zM10 95h1v1.15h-1zM10 98h1v1.15h-1zM10 112h1v2.15h-1zM10 124h1v1.15h-1zM10 126h1v1.15h-1zM11 17h1v2.15h-1zM11 28h1v1.15h-1zM11 53h1v1.15h-1zM11 56h1v1.15h-1zM11 60h1v1.15h-1zM11 69h1v1.15h-1zM11 71h1v1.15h-1zM11 92h1v1.15h-1zM11 106h1v1.15h-1zM11 112h1v1.15h-1zM12 7h1v1.15h-1zM12 11h1v1.15h-1zM12 15h1v1.15h-1zM12 18h1v1.15h-1zM12 27h1v1.15h-1zM12 90h1v1.15h-1zM12 101h1v1.15h-1zM12 124h1v1.15h-1z"/><path fill="#efdce2" d="M0 43h1v1.15h-1zM0 59h1v1.15h-1zM0 61h1v1.15h-1zM0 67h1v1.15h-1zM0 76h1v1.15h-1zM1 2h1v1.15h-1zM1 22h1v1.15h-1zM1 24h1v1.15h-1zM1 26h1v1.15h-1zM1 31h1v1.15h-1zM1 35h1v1.15h-1zM1 67h1v1.15h-1zM1 92h1v1.15h-1zM1 94h1v1.15h-1zM1 96h1v1.15h-1zM1 101h1v1.15h-1zM2 10h1v1.15h-1zM2 13h1v1.15h-1zM2 25h1v1.15h-1zM2 31h1v2.15h-1zM2 45h1v1.15h-1zM2 52h1v1.15h-1zM2 55h1v1.15h-1zM2 63h1v1.15h-1zM2 96h1v1.15h-1zM2 107h1v1.15h-1zM2 118h1v2.15h-1zM2 124h1v1.15h-1zM3 15h1v1.15h-1zM3 19h1v1.15h-1zM3 25h1v1.15h-1zM3 40h1v1.15h-1zM3 54h1v1.15h-1zM3 59h1v1.15h-1zM3 67h1v1.15h-1zM3 85h1v1.15h-1zM3 89h1v2.15h-1zM3 101h1v1.15h-1zM3 106h1v1.15h-1zM3 113h1v1.15h-1zM4 4h1v1.15h-1zM4 12h1v1.15h-1zM4 15h1v1.15h-1zM4 27h1v2.15h-1zM4 35h1v4.15h-1zM4 44h1v2.15h-1zM4 58h1v1.15h-1zM4 62h1v2.15h-1zM4 95h1v1.15h-1zM4 131h1v1.15h-1zM5 10h1v1.15h-1zM5 20h1v1.15h-1zM5 53h1v1.15h-1zM5 103h1v1.15h-1zM5 109h1v1.15h-1zM5 111h1v2.15h-1zM5 125h1v1.15h-1zM6 8h1v1.15h-1zM6 18h1v1.15h-1zM6 21h1v1.15h-1zM6 24h1v1.15h-1zM6 33h1v1.15h-1zM6 45h1v1.15h-1zM6 55h1v1.15h-1zM6 68h1v1.15h-1zM6 77h1v2.15h-1zM6 89h1v1.15h-1zM7 7h1v1.15h-1zM7 36h1v1.15h-1zM7 42h1v1.15h-1zM7 58h1v1.15h-1zM7 63h1v1.15h-1zM7 73h1v1.15h-1zM7 75h1v1.15h-1zM7 81h1v1.15h-1zM7 86h1v1.15h-1zM7 95h1v1.15h-1zM7 99h1v1.15h-1zM7 101h1v1.15h-1zM7 105h1v1.15h-1zM7 116h1v1.15h-1zM7 120h1v1.15h-1zM7 124h1v1.15h-1zM8 6h1v1.15h-1zM8 29h1v1.15h-1zM8 37h1v1.15h-1zM8 44h1v1.15h-1zM8 49h1v1.15h-1zM8 74h1v1.15h-1zM8 79h1v1.15h-1zM8 95h1v1.15h-1zM8 102h1v1.15h-1zM9 0h1v1.15h-1zM9 9h1v1.15h-1zM9 22h1v1.15h-1zM9 27h1v1.15h-1zM9 33h1v1.15h-1zM9 37h1v1.15h-1zM9 72h1v2.15h-1zM10 5h1v1.15h-1zM10 9h1v2.15h-1zM10 14h1v1.15h-1zM10 16h1v1.15h-1zM10 43h1v1.15h-1zM10 48h1v1.15h-1zM10 50h1v1.15h-1zM10 54h1v2.15h-1zM10 58h1v1.15h-1zM10 65h1v1.15h-1zM10 76h1v2.15h-1zM10 88h1v1.15h-1zM10 104h1v1.15h-1zM10 111h1v1.15h-1zM11 35h1v1.15h-1zM11 65h1v1.15h-1zM11 73h1v1.15h-1zM11 79h1v1.15h-1zM11 97h1v1.15h-1zM11 107h1v1.15h-1zM11 109h1v1.15h-1zM11 113h1v1.15h-1zM11 123h1v1.15h-1zM12 3h1v1.15h-1zM12 30h1v1.15h-1zM12 33h1v1.15h-1zM12 62h1v1.15h-1zM12 89h1v1.15h-1zM12 91h1v2.15h-1zM12 94h1v1.15h-1zM12 96h1v1.15h-1zM12 107h1v1.15h-1zM12 123h1v1.15h-1z"/><path fill="#f3d9dc" d="M0 1h1v1.15h-1zM0 42h1v1.15h-1zM0 45h1v1.15h-1zM0 74h1v2.15h-1zM0 77h1v1.15h-1zM0 84h1v1.15h-1zM0 87h1v1.15h-1zM1 4h1v1.15h-1zM1 6h1v1.15h-1zM1 9h1v1.15h-1zM1 21h1v1.15h-1zM1 33h1v1.15h-1zM1 39h1v1.15h-1zM1 59h1v1.15h-1zM1 82h1v1.15h-1zM1 87h1v1.15h-1zM1 100h1v1.15h-1zM1 105h1v1.15h-1zM2 27h1v1.15h-1zM2 35h1v1.15h-1zM2 53h1v1.15h-1zM2 56h1v2.15h-1zM2 66h1v1.15h-1zM2 70h1v1.15h-1zM2 80h1v1.15h-1zM2 84h1v1.15h-1zM2 116h1v1.15h-1zM3 5h1v1.15h-1zM3 8h1v1.15h-1zM3 17h1v2.15h-1zM3 26h1v1.15h-1zM3 33h1v1.15h-1zM3 47h1v1.15h-1zM3 104h1v1.15h-1zM3 110h1v1.15h-1zM3 118h1v3.15h-1zM3 124h1v3.15h-1zM3 129h1v1.15h-1zM3 131h1v1.15h-1zM4 0h1v1.15h-1zM4 19h1v2.15h-1zM4 33h1v1.15h-1zM4 57h1v1.15h-1zM4 94h1v1.15h-1zM4 101h1v1.15h-1zM4 121h1v1.15h-1zM4 128h1v1.15h-1zM5 85h1v1.15h-1zM5 99h1v1.15h-1zM5 117h1v2.15h-1zM5 120h1v1.15h-1zM5 124h1v1.15h-1zM6 16h1v2.15h-1zM6 20h1v1.15h-1zM6 53h1v1.15h-1zM6 60h1v1.15h-1zM6 74h1v1.15h-1zM6 85h1v1.15h-1zM7 0h1v1.15h-1zM7 6h1v1.15h-1zM7 13h1v1.15h-1zM7 20h1v1.15h-1zM7 22h1v1.15h-1zM7 30h1v1.15h-1zM7 33h1v1.15h-1zM7 40h1v1.15h-1zM7 52h1v1.15h-1zM7 68h1v1.15h-1zM7 91h1v2.15h-1zM7 96h1v1.15h-1zM7 117h1v1.15h-1zM7 125h1v1.15h-1zM8 10h1v1.15h-1zM8 15h1v1.15h-1zM8 18h1v1.15h-1zM8 42h1v2.15h-1zM8 45h1v1.15h-1zM8 55h1v1.15h-1zM8 72h1v1.15h-1zM8 81h1v1.15h-1zM8 86h1v1.15h-1zM8 91h1v1.15h-1zM8 113h1v1.15h-1zM9 8h1v1.15h-1zM9 52h1v1.15h-1zM9 63h1v1.15h-1zM9 65h1v1.15h-1zM9 76h1v1.15h-1zM9 87h1v1.15h-1zM9 91h1v1.15h-1zM10 1h1v1.15h-1zM10 7h1v1.15h-1zM10 18h1v1.15h-1zM10 41h1v1.15h-1zM10 53h1v1.15h-1zM10 84h1v1.15h-1zM10 91h1v1.15h-1zM10 103h1v1.15h-1zM10 109h1v1.15h-1zM10 116h1v1.15h-1zM10 125h1v1.15h-1zM11 9h1v1.15h-1zM11 51h1v2.15h-1zM11 68h1v1.15h-1zM11 72h1v1.15h-1zM11 83h1v1.15h-1zM11 86h1v1.15h-1zM11 91h1v1.15h-1zM11 94h1v1.15h-1zM11 102h1v2.15h-1zM11 116h1v1.15h-1zM11 120h1v1.15h-1zM11 125h1v1.15h-1zM12 13h1v1.15h-1zM12 22h1v1.15h-1zM12 64h1v2.15h-1zM12 70h1v1.15h-1zM12 73h1v1.15h-1zM12 82h1v1.15h-1zM12 97h1v1.15h-1zM12 128h1v1.15h-1z"/><path fill="#f3d2d4" d="M0 2h1v1.15h-1zM0 23h1v1.15h-1zM0 58h1v1.15h-1zM0 60h1v1.15h-1zM0 68h1v1.15h-1zM1 1h1v1.15h-1zM1 3h1v1.15h-1zM1 8h1v1.15h-1zM1 10h1v1.15h-1zM1 13h1v2.15h-1zM1 42h1v1.15h-1zM1 45h1v1.15h-1zM1 49h1v1.15h-1zM1 51h1v1.15h-1zM1 64h1v1.15h-1zM1 83h1v3.15h-1zM2 9h1v1.15h-1zM2 44h1v1.15h-1zM2 59h1v1.15h-1zM2 95h1v1.15h-1zM2 99h1v1.15h-1zM2 101h1v1.15h-1zM2 106h1v1.15h-1zM3 32h1v1.15h-1zM3 51h1v1.15h-1zM3 55h1v1.15h-1zM3 60h1v1.15h-1zM3 64h1v1.15h-1zM3 72h1v1.15h-1zM3 107h1v1.15h-1zM3 114h1v2.15h-1zM3 128h1v1.15h-1zM3 130h1v1.15h-1zM4 3h1v1.15h-1zM4 29h1v1.15h-1zM4 32h1v1.15h-1zM4 40h1v1.15h-1zM4 61h1v1.15h-1zM4 64h1v1.15h-1zM4 99h1v1.15h-1zM4 105h1v1.15h-1zM4 107h1v1.15h-1zM4 112h1v1.15h-1zM4 124h1v1.15h-1zM4 130h1v1.15h-1zM5 36h1v1.15h-1zM5 44h1v1.15h-1zM5 65h1v2.15h-1zM5 86h1v1.15h-1zM5 94h1v1.15h-1zM5 110h1v1.15h-1zM5 116h1v1.15h-1zM5 126h1v1.15h-1zM5 129h1v1.15h-1zM6 9h1v1.15h-1zM6 19h1v1.15h-1zM6 27h1v2.15h-1zM6 47h1v1.15h-1zM6 58h1v1.15h-1zM6 67h1v1.15h-1zM6 82h1v1.15h-1zM7 5h1v1.15h-1zM7 11h1v1.15h-1zM7 19h1v1.15h-1zM7 25h1v1.15h-1zM7 27h1v1.15h-1zM7 43h1v1.15h-1zM7 67h1v1.15h-1zM7 69h1v2.15h-1zM7 74h1v1.15h-1zM7 78h1v1.15h-1zM7 84h1v2.15h-1zM7 104h1v1.15h-1zM7 123h1v1.15h-1zM8 2h1v1.15h-1zM8 13h1v1.15h-1zM8 17h1v1.15h-1zM8 69h1v1.15h-1zM8 71h1v1.15h-1zM8 73h1v1.15h-1zM8 76h1v1.15h-1zM8 90h1v1.15h-1zM9 28h1v2.15h-1zM9 36h1v1.15h-1zM9 38h1v1.15h-1zM9 50h1v1.15h-1zM9 53h1v1.15h-1zM9 57h1v1.15h-1zM9 62h1v1.15h-1zM9 64h1v1.15h-1zM9 78h1v1.15h-1zM9 84h1v1.15h-1zM9 88h1v1.15h-1zM9 119h1v1.15h-1zM10 8h1v1.15h-1zM10 23h1v1.15h-1zM10 26h1v1.15h-1zM10 31h1v1.15h-1zM10 59h1v1.15h-1zM10 82h1v1.15h-1zM10 96h1v1.15h-1zM10 123h1v1.15h-1zM11 7h1v2.15h-1zM11 10h1v1.15h-1zM11 29h1v2.15h-1zM11 34h1v1.15h-1zM11 74h1v1.15h-1zM11 104h1v1.15h-1zM11 118h1v1.15h-1zM11 127h1v2.15h-1zM12 88h1v1.15h-1zM12 95h1v1.15h-1zM12 99h1v1.15h-1zM12 127h1v1.15h-1zM12 130h1v2.15h-1z"/><path fill="#f0c5c7" d="M0 0h1v1.15h-1zM0 26h1v1.15h-1zM0 44h1v1.15h-1zM0 78h1v1.15h-1zM0 83h1v1.15h-1zM0 101h1v1.15h-1zM0 103h1v1.15h-1zM1 34h1v1.15h-1zM1 40h1v1.15h-1zM1 56h1v2.15h-1zM1 60h1v1.15h-1zM1 79h1v1.15h-1zM2 8h1v1.15h-1zM2 11h1v1.15h-1zM2 41h1v1.15h-1zM2 46h1v1.15h-1zM2 48h1v1.15h-1zM2 50h1v1.15h-1zM2 58h1v1.15h-1zM2 67h1v1.15h-1zM2 85h1v1.15h-1zM2 104h1v2.15h-1zM3 7h1v1.15h-1zM3 10h1v1.15h-1zM3 34h1v1.15h-1zM3 37h1v1.15h-1zM3 46h1v1.15h-1zM3 48h1v2.15h-1zM3 52h1v1.15h-1zM3 62h1v1.15h-1zM3 102h1v1.15h-1zM3 111h1v1.15h-1zM3 121h1v2.15h-1zM4 16h1v1.15h-1zM4 41h1v1.15h-1zM4 48h1v1.15h-1zM4 56h1v1.15h-1zM4 59h1v2.15h-1zM4 96h1v2.15h-1zM5 14h1v1.15h-1zM5 28h1v1.15h-1zM5 37h1v1.15h-1zM5 42h1v1.15h-1zM5 46h1v1.15h-1zM5 50h1v1.15h-1zM5 52h1v1.15h-1zM5 61h1v1.15h-1zM5 84h1v1.15h-1zM5 96h1v1.15h-1zM5 130h1v1.15h-1zM6 15h1v1.15h-1zM6 46h1v1.15h-1zM6 54h1v1.15h-1zM6 70h1v1.15h-1zM6 72h1v1.15h-1zM6 88h1v1.15h-1zM7 17h1v1.15h-1zM7 28h1v2.15h-1zM7 41h1v1.15h-1zM7 59h1v1.15h-1zM7 65h1v1.15h-1zM7 72h1v1.15h-1zM7 76h1v2.15h-1zM7 79h1v2.15h-1zM7 90h1v1.15h-1zM7 118h1v2.15h-1zM7 121h1v1.15h-1zM8 12h1v1.15h-1zM8 27h1v1.15h-1zM8 35h1v1.15h-1zM8 40h1v1.15h-1zM8 46h1v1.15h-1zM8 53h1v2.15h-1zM8 68h1v1.15h-1zM8 75h1v1.15h-1zM9 6h1v1.15h-1zM9 10h1v1.15h-1zM9 20h1v1.15h-1zM9 42h1v1.15h-1zM9 46h1v1.15h-1zM9 48h1v1.15h-1zM9 85h1v1.15h-1zM9 89h1v1.15h-1zM10 2h1v1.15h-1zM10 25h1v1.15h-1zM10 63h1v2.15h-1zM10 81h1v1.15h-1zM10 83h1v1.15h-1zM10 93h1v1.15h-1zM10 107h1v1.15h-1zM10 110h1v1.15h-1zM10 114h1v1.15h-1zM10 131h1v1.15h-1zM11 32h1v1.15h-1zM11 66h1v1.15h-1zM11 75h1v1.15h-1zM11 84h1v1.15h-1zM11 88h1v1.15h-1zM11 95h1v1.15h-1zM11 101h1v1.15h-1zM11 108h1v1.15h-1zM11 115h1v1.15h-1zM11 119h1v1.15h-1zM11 126h1v1.15h-1zM11 130h1v2.15h-1zM12 71h1v1.15h-1zM12 113h1v1.15h-1z"/><path fill="#edb9bb" d="M0 3h1v1.15h-1zM0 22h1v1.15h-1zM0 80h1v1.15h-1zM0 88h1v1.15h-1zM0 91h1v2.15h-1zM0 95h1v1.15h-1zM0 114h1v1.15h-1zM1 7h1v1.15h-1zM1 48h1v1.15h-1zM1 65h1v1.15h-1zM1 86h1v1.15h-1zM1 110h1v1.15h-1zM2 14h1v1.15h-1zM2 38h1v1.15h-1zM2 43h1v1.15h-1zM2 47h1v1.15h-1zM2 68h1v2.15h-1zM2 83h1v1.15h-1zM3 6h1v1.15h-1zM3 29h1v1.15h-1zM3 97h1v2.15h-1zM3 108h1v1.15h-1zM4 39h1v1.15h-1zM4 42h1v1.15h-1zM4 66h1v1.15h-1zM4 100h1v1.15h-1zM4 122h1v2.15h-1zM4 129h1v1.15h-1zM5 19h1v1.15h-1zM5 21h1v1.15h-1zM5 29h1v1.15h-1zM5 38h1v1.15h-1zM5 48h1v1.15h-1zM5 102h1v1.15h-1zM5 106h1v2.15h-1zM5 114h1v2.15h-1zM5 121h1v1.15h-1zM6 5h1v1.15h-1zM6 7h1v1.15h-1zM6 11h1v3.15h-1zM6 57h1v1.15h-1zM7 14h1v1.15h-1zM7 21h1v1.15h-1zM7 47h1v1.15h-1zM8 9h1v1.15h-1zM8 14h1v1.15h-1zM8 34h1v1.15h-1zM8 41h1v1.15h-1zM8 70h1v1.15h-1zM8 78h1v1.15h-1zM8 84h1v2.15h-1zM9 17h1v1.15h-1zM9 47h1v1.15h-1zM9 49h1v1.15h-1zM9 55h1v1.15h-1zM10 4h1v1.15h-1zM10 40h1v1.15h-1zM10 87h1v1.15h-1zM10 94h1v1.15h-1zM10 102h1v1.15h-1zM11 67h1v1.15h-1zM11 76h1v1.15h-1zM11 80h1v2.15h-1zM11 85h1v1.15h-1zM11 87h1v1.15h-1zM11 96h1v1.15h-1zM11 100h1v1.15h-1zM11 105h1v1.15h-1zM11 117h1v1.15h-1zM11 124h1v1.15h-1zM12 12h1v1.15h-1zM12 29h1v1.15h-1zM12 32h1v1.15h-1zM12 76h1v1.15h-1zM12 86h1v1.15h-1zM12 93h1v1.15h-1zM12 108h1v1.15h-1zM12 118h1v1.15h-1zM12 125h1v1.15h-1zM12 129h1v1.15h-1z"/><path fill="#eaadaf" d="M0 63h1v1.15h-1zM0 65h1v1.15h-1zM0 82h1v1.15h-1zM0 102h1v1.15h-1zM0 116h1v1.15h-1zM1 23h1v1.15h-1zM1 25h1v1.15h-1zM1 41h1v1.15h-1zM1 43h1v2.15h-1zM1 50h1v1.15h-1zM1 54h1v1.15h-1zM2 12h1v1.15h-1zM2 36h1v2.15h-1zM2 40h1v1.15h-1zM2 62h1v1.15h-1zM3 9h1v1.15h-1zM3 12h1v1.15h-1zM3 27h1v2.15h-1zM3 30h1v1.15h-1zM3 36h1v1.15h-1zM3 39h1v1.15h-1zM3 50h1v1.15h-1zM3 99h1v2.15h-1zM3 105h1v1.15h-1zM4 14h1v1.15h-1zM4 34h1v1.15h-1zM4 53h1v1.15h-1zM4 55h1v1.15h-1zM4 65h1v1.15h-1zM5 32h1v1.15h-1zM5 45h1v1.15h-1zM5 47h1v1.15h-1zM5 55h1v2.15h-1zM5 62h1v2.15h-1zM5 101h1v1.15h-1zM5 113h1v1.15h-1zM5 122h1v2.15h-1zM6 56h1v1.15h-1zM6 69h1v1.15h-1zM6 73h1v1.15h-1zM7 15h1v1.15h-1zM7 24h1v1.15h-1zM7 26h1v1.15h-1zM7 88h1v1.15h-1zM7 100h1v1.15h-1zM8 5h1v1.15h-1zM8 16h1v1.15h-1zM8 22h1v1.15h-1zM8 25h1v1.15h-1zM8 67h1v1.15h-1zM8 77h1v1.15h-1zM9 5h1v1.15h-1zM9 18h1v1.15h-1zM9 56h1v1.15h-1zM9 58h1v2.15h-1zM9 66h1v1.15h-1zM9 86h1v1.15h-1zM10 49h1v1.15h-1zM10 79h1v2.15h-1zM10 97h1v1.15h-1zM10 99h1v1.15h-1zM10 101h1v1.15h-1zM11 82h1v1.15h-1zM11 129h1v1.15h-1zM12 85h1v1.15h-1zM12 102h1v1.15h-1zM12 105h1v1.15h-1zM12 110h1v1.15h-1zM12 116h1v1.15h-1zM12 122h1v1.15h-1z"/><path fill="#e7a0a2" d="M0 4h1v1.15h-1zM0 62h1v1.15h-1zM0 89h1v1.15h-1zM0 115h1v1.15h-1zM1 12h1v1.15h-1zM1 46h1v1.15h-1zM1 55h1v1.15h-1zM1 66h1v1.15h-1zM2 19h1v1.15h-1zM2 100h1v1.15h-1zM3 13h1v1.15h-1zM3 65h1v1.15h-1zM3 123h1v1.15h-1zM4 31h1v1.15h-1zM4 43h1v1.15h-1zM4 49h1v1.15h-1zM4 51h1v1.15h-1zM4 104h1v1.15h-1zM4 126h1v1.15h-1zM5 27h1v1.15h-1zM5 34h1v1.15h-1zM5 43h1v1.15h-1zM5 49h1v1.15h-1zM7 16h1v1.15h-1zM7 23h1v1.15h-1zM7 32h1v1.15h-1zM7 49h1v1.15h-1zM7 83h1v1.15h-1zM7 89h1v1.15h-1zM8 0h1v1.15h-1zM8 11h1v1.15h-1zM8 20h1v1.15h-1zM9 13h1v1.15h-1zM9 24h1v3.15h-1zM9 30h1v1.15h-1zM9 34h1v1.15h-1zM9 39h1v1.15h-1zM9 43h1v1.15h-1zM9 67h1v1.15h-1zM9 69h1v1.15h-1zM11 31h1v1.15h-1zM11 77h1v1.15h-1zM11 93h1v1.15h-1zM12 31h1v1.15h-1zM12 67h1v3.15h-1zM12 75h1v1.15h-1zM12 78h1v1.15h-1zM12 84h1v1.15h-1zM12 100h1v1.15h-1zM12 106h1v1.15h-1zM12 109h1v1.15h-1zM12 126h1v1.15h-1z"/><path fill="#e39496" d="M0 66h1v1.15h-1zM0 79h1v1.15h-1zM0 81h1v1.15h-1zM1 0h1v1.15h-1zM2 42h1v1.15h-1zM3 31h1v1.15h-1zM3 35h1v1.15h-1zM3 63h1v1.15h-1zM5 30h1v1.15h-1zM5 104h1v1.15h-1zM6 6h1v1.15h-1zM6 14h1v1.15h-1zM7 48h1v1.15h-1zM8 3h1v1.15h-1zM8 26h1v1.15h-1zM9 7h1v1.15h-1zM9 15h1v1.15h-1zM9 19h1v1.15h-1zM9 35h1v1.15h-1zM9 54h1v1.15h-1zM10 34h1v1.15h-1zM10 100h1v1.15h-1zM10 106h1v1.15h-1zM10 115h1v1.15h-1zM10 121h1v1.15h-1zM11 78h1v1.15h-1zM11 114h1v1.15h-1zM11 121h1v1.15h-1zM12 74h1v1.15h-1zM12 77h1v1.15h-1zM12 79h1v1.15h-1zM12 103h1v1.15h-1zM12 115h1v1.15h-1zM12 117h1v1.15h-1z"/><path fill="#e08789" d="M0 64h1v1.15h-1zM0 97h1v1.15h-1zM0 99h1v1.15h-1zM0 104h1v1.15h-1zM0 113h1v1.15h-1zM0 123h1v1.15h-1zM1 11h1v1.15h-1zM2 54h1v1.15h-1zM3 38h1v1.15h-1zM5 33h1v1.15h-1zM5 39h1v1.15h-1zM5 41h1v1.15h-1zM5 54h1v1.15h-1zM5 57h1v1.15h-1zM5 59h1v1.15h-1zM5 105h1v1.15h-1zM7 31h1v1.15h-1zM7 50h1v1.15h-1zM8 23h1v2.15h-1zM9 12h1v1.15h-1zM9 16h1v1.15h-1zM9 23h1v1.15h-1zM9 68h1v1.15h-1zM10 3h1v1.15h-1zM10 36h1v1.15h-1zM10 105h1v1.15h-1zM12 81h1v1.15h-1zM12 83h1v1.15h-1zM12 104h1v1.15h-1z"/><path fill="#de7b7d" d="M0 90h1v1.15h-1zM0 120h1v1.15h-1zM0 129h1v1.15h-1zM4 50h1v1.15h-1zM4 52h1v1.15h-1zM5 35h1v1.15h-1zM5 60h1v1.15h-1zM8 19h1v1.15h-1zM8 21h1v1.15h-1zM9 11h1v1.15h-1zM10 35h1v1.15h-1zM10 119h1v1.15h-1zM11 33h1v1.15h-1zM12 72h1v1.15h-1zM12 80h1v1.15h-1zM12 112h1v1.15h-1zM12 114h1v1.15h-1zM12 120h1v1.15h-1z"/><path fill="#da6f71" d="M0 98h1v1.15h-1zM0 105h1v1.15h-1zM3 11h1v1.15h-1zM3 96h1v1.15h-1zM4 54h1v1.15h-1zM5 64h1v1.15h-1zM5 100h1v1.15h-1zM9 14h1v1.15h-1zM10 37h1v1.15h-1zM12 121h1v1.15h-1z"/><path fill="#d86264" d="M0 93h1v1.15h-1zM0 100h1v1.15h-1zM0 107h1v1.15h-1zM0 119h1v1.15h-1zM0 124h1v2.15h-1zM5 31h1v1.15h-1zM5 40h1v1.15h-1zM10 118h1v1.15h-1zM10 120h1v1.15h-1zM12 87h1v1.15h-1zM12 111h1v1.15h-1zM12 119h1v1.15h-1z"/><path fill="#d45658" d="M0 94h1v1.15h-1zM0 96h1v1.15h-1zM0 106h1v1.15h-1zM0 110h1v1.15h-1zM0 112h1v1.15h-1zM0 117h1v2.15h-1zM0 121h1v1.15h-1zM3 66h1v1.15h-1zM9 21h1v1.15h-1zM10 39h1v1.15h-1z"/><path fill="#d14b4e" d="M0 108h1v2.15h-1zM0 126h1v1.15h-1zM0 130h1v1.15h-1zM5 58h1v1.15h-1zM10 38h1v1.15h-1z"/><path fill="#ce3f42" d="M0 127h1v2.15h-1zM0 131h1v1.15h-1z"/><path fill="#cb3338" d="M0 122h1v1.15h-1z"/><path fill="#c8282d" d="M0 111h1v1.15h-1z"/></g><path fill="none" stroke="#000" stroke-width="0.75" d="M377.9 318.7H367.7V318.8H377.9M377.9 318.5H366.7V318.7H367.7M377.9 318.3H366.1V318.6H366.7M377.9 319H368.3V319.2H377.9M377.9 319.4H368.2V319.6H377.9M368.3 319.1H366.7V319.5H368.2M366.1 318.5H364.4V319.3H366.7M377.9 319.8H364.1V319.9H377.9M364.4 318.9H361.9V319.8H364.1M377.9 320.1H368.9V320.3H377.9M377.9 320.7H369.8V320.8H377.9M377.9 320.5H368V320.8H369.8M368.9 320.2H366V320.6H368M377.9 321H364.6V321.2H377.9M366 320.4H363.2V321.1H364.6M361.9 319.4H360.3V320.8H363.2M377.9 321.6H368.3V321.8H377.9M368.3 321.7H364.4V321.9H377.9M377.9 321.4H362.4V321.8H364.4M377.9 322.1H362.5V322.3H377.9M362.4 321.6H361.2V322.2H362.5M361.2 321.9H359.5V322.5H377.9M360.3 320.1H358.5V322.2H359.5M377.9 322.7H367V322.9H377.9M377.9 323H368.6V323.2H377.9M368.6 323.1H366.9V323.4H377.9M367 322.8H365.2V323.3H366.9M377.9 323.6H369.8V323.8H377.9M365.2 323H357.6V323.7H369.8M358.5 321.1H356.8V323.3H357.6M377.9 324.1H364.5V324.3H377.9M377.9 323.9H363.2V324.2H364.5M363.2 324.1H362V324.5H377.9M377.9 324.9H364.7V325H377.9M377.9 324.7H362.8V325H364.7M362.8 324.8H361.8V325.2H377.9M377.9 325.4H367.2V325.6H377.9M361.8 325H360.3V325.5H367.2M362 324.3H357V325.3H360.3M356.8 322.2H354.4V324.8H357M377.9 326H368.8V326.1H377.9M377.9 325.8H365.6V326H368.8M377.9 326.3H365.7V326.5H377.9M365.6 325.9H362.6V326.4H365.7M377.9 326.9H368.2V327H377.9M368.2 327H367.1V327.2H377.9M377.9 326.7H364.8V327.1H367.1M364.8 326.9H358.4V327.4H377.9M362.6 326.2H355.6V327.2H358.4M354.4 323.5H353.1V326.7H355.6M377.9 327.6H369.5V327.8H377.9M377.9 328H366.4V328.1H377.9M377.9 328.3H369.6V328.5H377.9M369.6 328.4H365.9V328.7H377.9M366.4 328.1H363.8V328.6H365.9M369.5 327.7H361.7V328.3H363.8M377.9 329.2H368.5V329.4H377.9M377.9 329.1H362.7V329.3H368.5M377.9 328.9H356.3V329.2H362.7M377.9 329.8H366.7V330H377.9M377.9 329.6H364.2V329.9H366.7M364.2 329.7H361.5V330.2H377.9M361.5 329.9H360.1V330.3H377.9M356.3 329H351.8V330.1H360.1M377.9 330.7H365.3V330.9H377.9M377.9 330.5H361.9V330.8H365.3M377.9 331.1H365.5V331.2H377.9M377.9 331.4H368.5V331.6H377.9M377.9 331.8H367.7V332H377.9M368.5 331.5H364.9V331.9H367.7M377.9 332.2H366.7V332.3H377.9M366.7 332.2H364.8V332.5H377.9M364.8 332.4H362.9V332.7H377.9M362.9 332.5H360.1V332.9H377.9M364.9 331.7H359.4V332.7H360.1M365.5 331.2H358.3V332.2H359.4M361.9 330.7H350.7V331.7H358.3M377.9 333.1H368.9V333.3H377.9M368.9 333.2H367V333.4H377.9M377.9 333.6H369.2V333.8H377.9M369.2 333.7H366.2V334H377.9M367 333.3H364.3V333.8H366.2M377.9 334.2H368.3V334.3H377.9M377.9 334.5H369.7V334.7H377.9M369.7 334.6H367.8V334.9H377.9M368.3 334.3H365.9V334.8H367.8M377.9 335.1H366.4V335.3H377.9M365.9 334.5H364.3V335.2H366.4M364.3 334.8H363V335.4H377.9M363 335.1H361.7V335.6H377.9M377.9 335.8H368.3V336H377.9M377.9 336.2H369.1V336.4H377.9M377.9 336.5H367.2V336.7H377.9M369.1 336.3H366.3V336.6H367.2M366.3 336.4H364V336.9H377.9M368.3 335.9H362V336.7H364M377.9 337.3H369.7V337.4H377.9M377.9 337.1H364V337.4H369.7M362 336.3H352V337.2H364M361.7 335.4H350.9V336.8H352M377.9 337.6H362.4V337.8H377.9M362.4 337.7H361.4V338H377.9M377.9 338.2H363.9V338.4H377.9M361.4 337.9H359.3V338.3H363.9M377.9 338.9H365V339.1H377.9M377.9 338.7H362.2V339H365M377.9 338.5H361.6V338.9H362.2M377.9 339.5H364.9V339.6H377.9M377.9 339.3H364V339.5H364.9M361.6 338.7H358.9V339.4H364M359.3 338.1H356.7V339.1H358.9M377.9 339.8H365.8V340H377.9M356.7 338.6H354.7V339.9H365.8M377.9 340.2H368V340.4H377.9M368 340.3H361.7V340.5H377.9M377.9 340.7H368.5V340.9H377.9M377.9 341.1H369.9V341.3H377.9M377.9 341.5H367.5V341.6H377.9M369.9 341.2H363.2V341.6H367.5M368.5 340.8H356.9V341.4H363.2M361.7 340.4H355.1V341.1H356.9M354.7 339.2H351V340.8H355.1M377.9 341.8H364.3V342H377.9M377.9 342.2H364.9V342.4H377.9M377.9 342.6H370.1V342.7H377.9M370.1 342.6H368.8V342.9H377.9M368.8 342.8H365.9V343.1H377.9M377.9 343.3H366.7V343.5H377.9M365.9 342.9H361.3V343.4H366.7M364.9 342.3H357.9V343.2H361.3M364.3 341.9H356.2V342.7H357.9M377.9 343.8H366.1V344H377.9M377.9 343.7H358.2V343.9H366.1M358.2 343.8H355.8V344.2H377.9M356.2 342.3H354.8V344H355.8M377.9 344.4H362V344.6H377.9M377.9 344.9H363V345.1H377.9M377.9 344.7H360.9V345H363M362 344.5H358.8V344.9H360.9M377.9 345.5H366.8V345.7H377.9M377.9 345.3H366.2V345.6H366.8M358.8 344.7H354V345.4H366.2M354.8 343.2H352V345.1H354M377.9 346.2H369.6V346.4H377.9M377.9 346H367.9V346.3H369.6M377.9 345.8H366.1V346.2H367.9M366.1 346H364.7V346.6H377.9M377.9 346.8H364.5V346.9H377.9M364.5 346.8H363.5V347.1H377.9M363.5 347H362.6V347.3H377.9M362.6 347.1H360.7V347.5H377.9M377.9 347.7H364.2V347.8H377.9M364.2 347.8H360.1V348H377.9M360.7 347.3H357.8V347.9H360.1M377.9 348.4H366.9V348.6H377.9M377.9 348.2H358.1V348.5H366.9M357.8 347.6H355.2V348.3H358.1M377.9 348.9H362.6V349.1H377.9M377.9 348.8H360.4V349H362.6M377.9 349.5H366V349.7H377.9M377.9 349.3H359.6V349.6H366M360.4 348.9H357.9V349.4H359.6M357.9 349.2H357V349.9H377.9M377.9 350H365.4V350.2H377.9M365.4 350.1H357.7V350.4H377.9M377.9 350.6H366.2V350.8H377.9M377.9 350.9H370.1V351.1H377.9M366.2 350.7H361.2V351H370.1M377.9 351.3H367.9V351.5H377.9M367.9 351.4H360.5V351.7H377.9M361.2 350.9H359.8V351.5H360.5M359.8 351.2H358.7V351.9H377.9M358.7 351.5H356.5V352H377.9M357.7 350.3H353.6V351.8H356.5M377.9 352.2H363.2V352.4H377.9M377.9 353H371V353.1H377.9M371 353H368V353.3H377.9M377.9 352.8H366.8V353.2H368M377.9 352.6H364.5V353H366.8M377.9 353.7H367.6V353.9H377.9M377.9 353.5H365.3V353.8H367.6M364.5 352.8H363.2V353.6H365.3M377.9 354.1H369.4V354.2H377.9M363.2 353.2H360.9V354.1H369.4M363.2 352.3H359.7V353.7H360.9M377.9 354.4H363.9V354.6H377.9M359.7 353H357.7V354.5H363.9M377.9 354.8H365.5V355H377.9M377.9 355.3H361.8V355.5H377.9M377.9 355.1H359.8V355.4H361.8M377.9 355.7H363.4V355.9H377.9M363.4 355.8H361.5V356.1H377.9M377.9 356.4H363.3V356.6H377.9M377.9 356.2H361.4V356.5H363.3M361.5 355.9H359.3V356.4H361.4M359.8 355.3H358.6V356.1H359.3M365.5 354.9H356.2V355.7H358.6M377.9 356.8H363.7V357H377.9M356.2 355.3H353.4V356.9H363.7M357.7 353.8H352.4V356.1H353.4M353.6 351H351.4V354.9H352.4M377.9 357.3H368V357.5H377.9M368 357.4H367.3V357.7H377.9M377.9 357.2H365.4V357.6H367.3M377.9 357.9H369V358.1H377.9M369 358H365.3V358.2H377.9M365.3 358.1H356.4V358.4H377.9M365.4 357.4H354.3V358.3H356.4M377.9 358.8H367.8V359H377.9M377.9 358.6H364.9V358.9H367.8M364.9 358.7H363.9V359.2H377.9M377.9 359.3H366.4V359.5H377.9M366.4 359.4H363.1V359.7H377.9M363.9 359H360.9V359.6H363.1M354.3 357.8H351.4V359.3H360.9M377.9 359.9H369.4V360.1H377.9M369.4 360H367.5V360.3H377.9M377.9 360.6H370V360.8H377.9M370 360.7H363.1V361H377.9M377.9 360.4H361.2V360.8H363.1M367.5 360.1H355.3V360.6H361.2M377.9 361.7H365.8V361.9H377.9M377.9 361.5H364.3V361.8H365.8M377.9 361.3H359.2V361.7H364.3M377.9 361.2H358.2V361.5H359.2M377.9 362.1H368.1V362.3H377.9M368.1 362.2H362.6V362.4H377.9M377.9 362.6H364.2V362.8H377.9M362.6 362.3H361.1V362.7H364.2M377.9 363H368.4V363.2H377.9M361.1 362.5H358.1V363.1H368.4M358.2 361.3H355.2V362.8H358.1M355.3 360.4H354.6V362.1H355.2M377.9 363.4H363.1V363.5H377.9M377.9 363.7H365V363.9H377.9M363.1 363.4H362.4V363.8H365M377.9 364.3H370.1V364.4H377.9M377.9 364.1H363.1V364.4H370.1M362.4 363.6H361.4V364.2H363.1M377.9 364.6H363.6V364.8H377.9M377.9 365.2H369.5V365.4H377.9M377.9 365H362.9V365.3H369.5M363.6 364.7H361.1V365.1H362.9M377.9 365.7H365V365.9H377.9M377.9 365.5H363.3V365.8H365M377.9 366.1H369.2V366.3H377.9M363.3 365.7H361V366.2H369.2M361.1 364.9H358.5V365.9H361M361.4 363.9H355.7V365.4H358.5M354.6 361.2H353V364.7H355.7M377.9 366.5H366.4V366.6H377.9M377.9 366.8H366.4V367H377.9M366.4 366.5H365.1V366.9H366.4M377.9 367.2H367V367.4H377.9M367 367.3H364.4V367.6H377.9M365.1 366.7H361.5V367.4H364.4M377.9 367.7H368.3V367.9H377.9M368.3 367.8H360.8V368.1H377.9M361.5 367.1H358.7V368H360.8M377.9 368.3H366V368.5H377.9M366 368.4H363.3V368.6H377.9M358.7 367.5H356V368.5H363.3M377.9 368.8H369.4V369H377.9M377.9 369.2H364.2V369.4H377.9M369.4 368.9H358.2V369.3H364.2M377.9 369.6H367.1V369.7H377.9M358.2 369.1H357.4V369.6H367.1M377.9 370.1H365.3V370.3H377.9M377.9 369.9H363.7V370.2H365.3M363.7 370.1H362.2V370.5H377.9M377.9 370.8H365.2V371H377.9M377.9 371.2H368.9V371.4H377.9M377.9 371.6H368.5V371.7H377.9M368.9 371.3H367.4V371.7H368.5M365.2 370.9H364.4V371.5H367.4M377.9 370.7H361.5V371.2H364.4M362.2 370.3H359.7V370.9H361.5M357.4 369.4H356.6V370.6H359.7M356 368H354.7V370H356.6M377.9 372.1H367.9V372.3H377.9M377.9 371.9H361.6V372.2H367.9M377.9 372.7H367.4V372.8H377.9M377.9 372.5H365.6V372.8H367.4M377.9 373.2H369.3V373.4H377.9M369.3 373.3H367.1V373.6H377.9M377.9 373H366.2V373.4H367.1M365.6 372.6H363.1V373.2H366.2M377.9 373.8H363.8V373.9H377.9M363.1 372.9H362.4V373.8H363.8M361.6 372.1H359.5V373.4H362.4M377.9 374.1H369.7V374.3H377.9M369.7 374.2H361.9V374.5H377.9M377.9 374.7H365.7V374.8H377.9M361.9 374.3H360.7V374.8H365.7M359.5 372.7H358V374.6H360.7M377.9 375H367.1V375.2H377.9M367.1 375.1H362.8V375.4H377.9M377.9 375.6H363V375.8H377.9M362.8 375.3H360.7V375.7H363M377.9 375.9H367V376.1H377.9M377.9 376.3H365.8V376.5H377.9M365.8 376.4H360.4V376.7H377.9M367 376H359.3V376.5H360.4M360.7 375.5H357.3V376.3H359.3M358 373.6H355.8V375.9H357.3M354.7 369H353.4V374.8H355.8M353 363H350.9V371.9H353.4M377.9 376.9H364.2V377H377.9M377.9 377.4H367.3V377.6H377.9M377.9 377.8H368.6V378H377.9M367.3 377.5H366.5V377.9H368.6M377.9 377.2H364.8V377.7H366.5M364.8 377.4H362.1V378.1H377.9M377.9 378.3H366.6V378.5H377.9M362.1 377.8H359.2V378.4H366.6M377.9 378.7H365.3V378.9H377.9M359.2 378.1H357.8V378.8H365.3M377.9 379H366V379.2H377.9M357.8 378.4H356.6V379.1H366M364.2 376.9H354.1V378.8H356.6M377.9 379.4H368.9V379.6H377.9M377.9 379.8H366.2V380H377.9M368.9 379.5H364.3V379.9H366.2M377.9 380.3H371.1V380.5H377.9M371.1 380.4H369.7V380.7H377.9M377.9 380.1H367.2V380.6H369.7M367.2 380.3H364.4V380.9H377.9M364.3 379.7H355.3V380.6H364.4M377.9 381.1H363.5V381.2H377.9M377.9 381.4H365.9V381.6H377.9M365.9 381.5H365.3V381.8H377.9M377.9 382.3H372.2V382.5H377.9M377.9 382.1H370.7V382.4H372.2M370.7 382.3H368.3V382.7H377.9M368.3 382.5H366.2V382.9H377.9M377.9 382H364.9V382.7H366.2M365.3 381.6H362V382.3H364.9M363.5 381.1H359.1V382H362M355.3 380.1H354.2V381.6H359.1M354.1 377.9H352.4V380.9H354.2M377.9 383.2H366.1V383.4H377.9M377.9 383.1H365.2V383.3H366.1M365.2 383.2H364.1V383.6H377.9M377.9 383.8H364.9V384H377.9M364.1 383.4H363.3V383.9H364.9M377.9 384.3H366V384.5H377.9M377.9 384.2H365V384.4H366M377.9 384.7H363.4V384.9H377.9M363.4 384.8H361.7V385.1H377.9M377.9 385.4H369V385.6H377.9M377.9 385.2H368.2V385.5H369M368.2 385.4H366.4V385.8H377.9M361.7 384.9H358.2V385.6H366.4M365 384.3H356.6V385.3H358.2M363.3 383.6H354.4V384.8H356.6M352.4 379.4H350.7V384.2H354.4M377.9 386H367.4V386.2H377.9M377.9 386.5H366.7V386.7H377.9M377.9 386.3H363.9V386.6H366.7M367.4 386.1H354.6V386.5H363.9M377.9 387.1H367.8V387.3H377.9M367.8 387.2H358.9V387.4H377.9M377.9 386.9H356.5V387.3H358.9M354.6 386.3H353.6V387.1H356.5M377.9 387.8H364.7V388H377.9M377.9 387.6H357.9V387.9H364.7M377.9 388.3H369.1V388.5H377.9M377.9 388.2H363.4V388.4H369.1M363.4 388.3H356.3V388.7H377.9M357.9 387.8H353.5V388.5H356.3M353.6 386.7H351V388.1H353.5M377.9 388.9H369.3V389.1H377.9M377.9 389.3H367.5V389.4H377.9M377.9 389.6H367.2V389.8H377.9M367.5 389.4H365.7V389.7H367.2M369.3 389H362.9V389.5H365.7M377.9 390.2H369.4V390.4H377.9M377.9 390H364.8V390.3H369.4M362.9 389.3H361.2V390.1H364.8M377.9 390.5H368.5V390.7H377.9M361.2 389.7H358.4V390.6H368.5M351 387.4H349.9V390.2H358.4M377.9 390.9H367.6V391.1H377.9M377.9 391.3H365.4V391.5H377.9M367.6 391H363.1V391.4H365.4M377.9 391.8H366.3V392H377.9M377.9 391.6H362.4V391.9H366.3M377.9 392.2H362.1V392.4H377.9M362.4 391.8H359.9V392.3H362.1M359.9 392H358.5V392.5H377.9M363.1 391.2H356.5V392.3H358.5M377.9 392.7H364.3V392.9H377.9M356.5 391.7H351.4V392.8H364.3M377.9 393.3H367.2V393.5H377.9M377.9 393.1H362.6V393.4H367.2M377.9 393.6H368.5V393.8H377.9M368.5 393.7H361.4V394H377.9M362.6 393.2H360.7V393.9H361.4M377.9 394.6H366V394.7H377.9M366 394.6H363.5V394.9H377.9M377.9 394.4H362.1V394.8H363.5M377.9 394.2H360.5V394.6H362.1M360.7 393.5H359V394.4H360.5M377.9 395.1H365V395.3H377.9M365 395.2H362.7V395.5H377.9M377.9 395.6H366.7V395.8H377.9M362.7 395.3H356.8V395.7H366.7M377.9 396.2H364.8V396.4H377.9M377.9 396H361.7V396.3H364.8M377.9 396.6H367.6V396.7H377.9M377.9 397.1H369.7V397.3H377.9M377.9 396.9H361.6V397.2H369.7M367.6 396.7H359.9V397.1H361.6M361.7 396.1H358.1V396.9H359.9M377.9 397.5H362.5V397.7H377.9M377.9 397.8H369V398H377.9M377.9 398.2H365.4V398.4H377.9M369 397.9H362.1V398.3H365.4M362.5 397.6H359.8V398.1H362.1M377.9 398.6H365.6V398.7H377.9M365.6 398.7H363.8V398.9H377.9M359.8 397.8H358.3V398.8H363.8M358.1 396.5H356.6V398.3H358.3M356.8 395.5H354.3V397.4H356.6M377.9 399.1H369.9V399.3H377.9M377.9 399.7H369.9V399.8H377.9M377.9 399.5H367V399.8H369.9M377.9 400H366.2V400.2H377.9M367 399.6H356.9V400.1H366.2M369.9 399.2H355.5V399.9H356.9M354.3 396.5H351.9V399.5H355.5M377.9 400.6H368.7V400.8H377.9M368.7 400.7H359.4V400.9H377.9M377.9 401.1H370V401.3H377.9M359.4 400.8H356V401.2H370M377.9 400.4H354.3V401H356M377.9 401.5H370V401.7H377.9M370 401.6H367.6V401.9H377.9M377.9 402H365.4V402.2H377.9M365.4 402.1H363.1V402.4H377.9M367.6 401.7H354.9V402.3H363.1M354.3 400.7H352.6V402H354.9M351.9 398H349.9V401.3H352.6M377.9 402.8H367.1V402.9H377.9M377.9 402.6H360V402.9H367.1M377.9 403.3H368.2V403.5H377.9M368.2 403.4H367V403.7H377.9M377.9 403.1H365.2V403.5H367M377.9 403.9H362.9V404H377.9M365.2 403.3H360.1V403.9H362.9M360.1 403.6H359V404.2H377.9M360 402.7H356.4V403.9H359M377.9 404.6H369.4V404.8H377.9M377.9 404.4H367.4V404.7H369.4M367.4 404.5H366V405H377.9M377.9 405.1H367.2V405.3H377.9M366 404.7H363.4V405.2H367.2M377.9 405.7H369.2V405.9H377.9M369.2 405.8H366.9V406H377.9M377.9 405.5H363.2V405.9H366.9M363.2 405.7H362.3V406.2H377.9M363.4 405H360.2V406H362.3M377.9 406.4H369.8V406.6H377.9M377.9 406.8H366V407H377.9M369.8 406.5H365.2V406.9H366M360.2 405.5H357.3V406.7H365.2M377.9 407.1H367V407.3H377.9M377.9 407.5H366.3V407.7H377.9M367 407.2H364.7V407.6H366.3M377.9 407.9H366.1V408.1H377.9M377.9 408.2H366.8V408.4H377.9M366.8 408.3H364.6V408.6H377.9M366.1 408H363.9V408.5H364.6M364.7 407.4H361.3V408.2H363.9M357.3 406.1H354.6V407.8H361.3M356.4 403.3H353.4V406.9H354.6M377.9 408.8H363.2V409H377.9M363.2 408.9H359.3V409.1H377.9M377.9 409.5H369.5V409.7H377.9M377.9 409.3H367.9V409.6H369.5M377.9 409.9H365.2V410.1H377.9M377.9 410.2H368V410.4H377.9M368 410.3H366.7V410.6H377.9M365.2 410H364.3V410.5H366.7M367.9 409.5H361.6V410.2H364.3M361.6 409.8H358.7V410.8H377.9M377.9 411.2H368.4V411.3H377.9M377.9 411H366V411.2H368.4M358.7 410.3H356.3V411.1H366M359.3 409H353.4V410.7H356.3M353.4 405.1H351.3V409.9H353.4M377.9 411.5H365V411.7H377.9M377.9 412.1H368.6V412.3H377.9M368.6 412.2H365.8V412.4H377.9M377.9 411.9H363.2V412.3H365.8M377.9 413H371.1V413.2H377.9M371.1 413.1H368.1V413.3H377.9M377.9 412.8H366.8V413.2H368.1M377.9 412.6H364.4V413H366.8M363.2 412.1H362V412.8H364.4M377.9 413.5H369V413.7H377.9M362 412.4H356.3V413.6H369M365 411.6H354V413H356.3M377.9 413.9H365V414.1H377.9M377.9 414.4H369.4V414.6H377.9M369.4 414.5H366.9V414.8H377.9M377.9 414.3H364.8V414.7H366.9M365 414H359.7V414.5H364.8M354 412.3H353.4V414.2H359.7M377.9 415H364.8V415.2H377.9M377.9 415.4H366.1V415.5H377.9M364.8 415.1H361.8V415.4H366.1M377.9 415.9H367V416.1H377.9M377.9 415.7H366.1V416H367M377.9 416.3H366.5V416.4H377.9M377.9 416.6H369.9V416.8H377.9M369.9 416.7H367.4V417H377.9M366.5 416.4H364.5V416.9H367.4M364.5 416.6H362.5V417.2H377.9M366.1 415.9H361.1V416.9H362.5M377.9 417.4H362.8V417.5H377.9M361.1 416.4H358.3V417.4H362.8M377.9 417.9H369.4V418.1H377.9M377.9 417.7H366.5V418H369.4M377.9 418.3H369.4V418.5H377.9M377.9 418.6H369V418.8H377.9M369.4 418.4H366.4V418.7H369M366.5 417.9H363.6V418.5H366.4M358.3 416.9H357.5V418.2H363.6M361.8 415.3H354.9V417.6H357.5M353.4 413.3H352.6V416.4H354.9M377.9 419.2H365.9V419.4H377.9M377.9 419H365.1V419.3H365.9M365.1 419.1H360.5V419.5H377.9M377.9 419.9H369.1V420.1H377.9M377.9 419.7H366.6V420H369.1M377.9 420.3H368.7V420.5H377.9M368.7 420.4H367.8V420.6H377.9M367.8 420.5H364.5V420.8H377.9M364.5 420.7H362.7V421H377.9M366.6 419.9H358.7V420.8H362.7M377.9 421.2H367.7V421.4H377.9M367.7 421.3H357.7V421.6H377.9M358.7 420.4H355.4V421.4H357.7M360.5 419.3H354.8V420.9H355.4M377.9 421.7H366.5V421.9H377.9M366.5 421.8H364.5V422.1H377.9M377.9 422.3H361.9V422.5H377.9M377.9 422.6H361.9V422.8H377.9M361.9 422.4H359V422.7H361.9M377.9 423H366V423.2H377.9M359 422.6H358.2V423.1H366M364.5 422H357.5V422.8H358.2M354.8 420.1H351.8V422.4H357.5M377.9 423.4H362.6V423.6H377.9M377.9 423.9H368.1V424.1H377.9M368.1 424H366.3V424.3H377.9M377.9 423.7H364.9V424.2H366.3M364.9 423.9H362.9V424.5H377.9M377.9 424.8H369.8V425H377.9M377.9 424.7H363.9V424.9H369.8M362.9 424.2H361V424.8H363.9M362.6 423.5H359.5V424.5H361M377.9 425.4H368V425.6H377.9M368 425.5H365.4V425.8H377.9M377.9 425.2H364.6V425.6H365.4M377.9 425.9H362.3V426.1H377.9M364.6 425.4H361.6V426H362.3M377.9 426.3H366.7V426.5H377.9M366.7 426.4H360.1V426.7H377.9M377.9 427H365.6V427.2H377.9M377.9 426.8H363.1V427.1H365.6M363.1 427H360.5V427.4H377.9M360.1 426.5H358.7V427.2H360.5M361.6 425.7H356.6V426.9H358.7M359.5 424H350.2V426.3H356.6M377.9 427.6H369.8V427.8H377.9M377.9 427.9H367.1V428.1H377.9M367.1 428H364.7V428.3H377.9M377.9 428.5H365.3V428.7H377.9M377.9 428.9H370.1V429H377.9M365.3 428.6H364.3V428.9H370.1M364.7 428.2H362.5V428.8H364.3M377.9 429.2H370.1V429.4H377.9M377.9 429.8H369.1V429.9H377.9M377.9 429.6H368.2V429.9H369.1M377.9 430.1H365.9V430.3H377.9M368.2 429.7H365.2V430.2H365.9M370.1 429.3H363.1V430H365.2M362.5 428.5H357.9V429.6H363.1M369.8 427.7H356.2V429.1H357.9M377.9 430.5H368.1V430.7H377.9M377.9 430.9H369.9V431H377.9M369.9 431H361.3V431.2H377.9M368.1 430.6H356.9V431.1H361.3M377.9 431.8H367.2V432H377.9M377.9 431.6H363.2V431.9H367.2M363.2 431.7H354.8V432.1H377.9M377.9 431.4H352.8V431.9H354.8M377.9 432.3H367V432.5H377.9M367 432.4H365.4V432.7H377.9M377.9 432.9H368.9V433H377.9M377.9 433.2H368.2V433.4H377.9M368.9 433H361.8V433.3H368.2M365.4 432.5H360.7V433.1H361.8M377.9 433.6H367.5V433.8H377.9M377.9 434H368.9V434.1H377.9M367.5 433.7H366V434.1H368.9M366 433.9H363.5V434.3H377.9M377.9 434.5H366.1V434.7H377.9M363.5 434.1H360.6V434.6H366.1M360.7 432.8H358.4V434.3H360.6M352.8 431.7H351.2V433.6H358.4M377.9 435.2H369.2V435.4H377.9M377.9 435.1H368.3V435.3H369.2M368.3 435.2H366.2V435.6H377.9M377.9 434.9H363.5V435.4H366.2M363.5 435.1H361.6V435.8H377.9M361.6 435.5H360.4V436H377.9M377.9 436.2H366.1V436.3H377.9M377.9 436.5H366.1V436.7H377.9M366.1 436.6H364.2V436.9H377.9M366.1 436.2H361.9V436.7H364.2M360.4 435.7H359.1V436.5H361.9M377.9 437.4H369.5V437.6H377.9M377.9 437.2H366.9V437.5H369.5M377.9 437.1H363.9V437.4H366.9M377.9 438H364.7V438.2H377.9M377.9 437.8H363.8V438.1H364.7M377.9 438.3H362.8V438.5H377.9M363.8 437.9H361.4V438.4H362.8M363.9 437.2H358.6V438.2H361.4M359.1 436.1H356.4V437.7H358.6M377.9 438.7H367.4V438.9H377.9M377.9 439.3H368.9V439.4H377.9M368.9 439.3H367V439.6H377.9M377.9 439.1H366.1V439.5H367M367.4 438.8H363V439.3H366.1M377.9 439.8H363V440H377.9M363 439H360V439.9H363M356.4 436.9H353.4V439.5H360M377.9 440.3H367.9V440.5H377.9M377.9 440.7H369.1V440.9H377.9M367.9 440.4H366.5V440.8H369.1M377.9 440.2H363.9V440.6H366.5M377.9 441.1H367.3V441.3H377.9M367.3 441.2H364.6V441.4H377.9M377.9 441.6H366.8V441.8H377.9M366.8 441.7H364.6V442H377.9M377.9 442.2H367V442.4H377.9M367 442.3H366.1V442.5H377.9M364.6 441.9H362.9V442.4H366.1M362.9 442.1H358.3V442.7H377.9M364.6 441.3H354.3V442.4H358.3M363.9 440.4H353.1V441.9H354.3M377.9 443.3H367.7V443.4H377.9M377.9 443.1H365.2V443.4H367.7M377.9 442.9H363.8V443.2H365.2M377.9 443.6H368.9V443.8H377.9M363.8 443.1H361.4V443.7H368.9M377.9 444.2H368.1V444.4H377.9M377.9 444H365.5V444.3H368.1M361.4 443.4H352.3V444.1H365.5M353.1 441.1H351.4V443.8H352.3M377.9 444.5H370.7V444.7H377.9M370.7 444.6H367.8V444.9H377.9M377.9 445.1H364.9V445.3H377.9M377.9 445.6H370.1V445.8H377.9M377.9 445.5H363.8V445.7H370.1M364.9 445.2H362.2V445.6H363.8M377.9 446.2H371.5V446.4H377.9M371.5 446.3H369V446.5H377.9M377.9 446H366.3V446.4H369M377.9 446.7H368.1V446.9H377.9M366.3 446.2H365.3V446.8H368.1M365.3 446.5H362.4V447.1H377.9M362.2 445.4H359.4V446.8H362.4M367.8 444.8H357.8V446.1H359.4M377.9 447.3H367.8V447.5H377.9M367.8 447.4H366.5V447.6H377.9M366.5 447.5H360.6V447.8H377.9M377.9 448.6H372.7V448.7H377.9M377.9 448.4H370.6V448.6H372.7M377.9 448.2H369.1V448.5H370.6M377.9 448H367.8V448.4H369.1M377.9 448.9H368.1V449.1H377.9M367.8 448.2H365.3V449H368.1M365.3 448.6H363.2V449.3H377.9M377.9 449.5H369.2V449.7H377.9M363.2 448.9H362.4V449.6H369.2M377.9 450H366.4V450.2H377.9M377.9 450.6H370.1V450.7H377.9M377.9 450.4H367.2V450.7H370.1M366.4 450.1H364.3V450.5H367.2M377.9 449.8H363.3V450.3H364.3M362.4 449.3H361.7V450.1H363.3M360.6 447.7H359.1V449.7H361.7M377.9 451.1H366.5V451.3H377.9M366.5 451.2H364.3V451.5H377.9M377.9 451.8H366.9V452H377.9M377.9 451.7H365.6V451.9H366.9M364.3 451.3H363.6V451.8H365.6M377.9 452.4H365.3V452.6H377.9M377.9 452.2H362.4V452.5H365.3M363.6 451.6H359.6V452.3H362.4M377.9 450.9H358V452H359.6M359.1 448.7H357.1V451.4H358M357.8 445.4H356V450.1H357.1M377.9 453.1H368.4V453.3H377.9M368.4 453.2H367.3V453.5H377.9M377.9 452.9H363.6V453.3H367.3M377.9 452.8H361.6V453.1H363.6M377.9 453.7H368.8V453.8H377.9M368.8 453.8H366V454H377.9M361.6 452.9H358.7V453.9H366M377.9 454.2H367.9V454.4H377.9M377.9 454.6H365.5V454.8H377.9M377.9 454.9H368.8V455.1H377.9M368.8 455H366.7V455.3H377.9M365.5 454.7H364.8V455.2H366.7M364.8 454.9H363.9V455.5H377.9M367.9 454.3H361.2V455.2H363.9M377.9 455.7H362.1V455.9H377.9M361.2 454.8H358.5V455.8H362.1M358.7 453.4H356.6V455.3H358.5M356 447.7H354.8V454.3H356.6M377.9 456H363.8V456.2H377.9M377.9 456.4H367.3V456.6H377.9M367.3 456.5H363.2V456.8H377.9M363.8 456.1H361.3V456.6H363.2M377.9 457.1H369.1V457.3H377.9M369.1 457.2H368.4V457.5H377.9M377.9 456.9H366.8V457.4H368.4M377.9 457.7H366.2V457.9H377.9M366.8 457.2H364.4V457.8H366.2M361.3 456.4H359.8V457.5H364.4M377.9 458.2H366.5V458.4H377.9M377.9 458H365.7V458.3H366.5M365.7 458.2H364.8V458.6H377.9M359.8 456.9H357.3V458.4H364.8M354.8 451H352.9V457.7H357.3M377.9 459H366.3V459.1H377.9M377.9 459.5H365.3V459.7H377.9M377.9 459.3H363.7V459.6H365.3M366.3 459H361.4V459.5H363.7M377.9 458.8H359.8V459.3H361.4M377.9 460.2H363.8V460.4H377.9M363.8 460.3H362.8V460.6H377.9M377.9 460.1H359.7V460.5H362.8M377.9 459.9H358.4V460.3H359.7M377.9 460.8H366.7V461H377.9M377.9 461.1H369.9V461.3H377.9M369.9 461.2H367.8V461.5H377.9M366.7 460.9H365.3V461.4H367.8M377.9 461.9H365.9V462.1H377.9M377.9 461.7H362.1V462H365.9M365.3 461.1H359.4V461.8H362.1M377.9 462.2H367.6V462.4H377.9M377.9 462.8H369.8V463H377.9M377.9 462.6H367.2V462.9H369.8M367.6 462.3H364.6V462.7H367.2M377.9 463.3H368.2V463.5H377.9M377.9 463.2H367V463.4H368.2M364.6 462.5H361.9V463.3H367M377.9 463.7H364.2V463.9H377.9M364.2 463.8H360.7V464.1H377.9M361.9 462.9H359V463.9H360.7M359.4 461.5H357.7V463.4H359M358.4 460.1H355.8V462.4H357.7M359.8 459H354.7V461.3H355.8M377.9 464.2H368.8V464.4H377.9M377.9 464.8H371.4V465H377.9M371.4 464.9H368.7V465.2H377.9M377.9 465.3H368V465.5H377.9M368.7 465H367.3V465.4H368M377.9 464.6H365.4V465.2H367.3M365.4 464.9H363.7V465.7H377.9M368.8 464.3H360.7V465.3H363.7M377.9 465.9H369V466.1H377.9M369 466H361.2V466.3H377.9M377.9 466.4H369.5V466.6H377.9M369.5 466.5H359.6V466.8H377.9M361.2 466.1H358.8V466.7H359.6M360.7 464.8H358.2V466.4H358.8M354.7 460.1H352.7V465.6H358.2M352.9 454.3H351V462.9H352.7M377.9 467.2H369.9V467.3H377.9M377.9 467H367.2V467.3H369.9M377.9 467.5H367.6V467.7H377.9M367.2 467.1H365.4V467.6H367.6M365.4 467.4H363.9V467.9H377.9M377.9 468.1H364.2V468.3H377.9M364.2 468.2H362.9V468.4H377.9M362.9 468.3H361V468.6H377.9M363.9 467.6H354.4V468.5H361M377.9 469H369.6V469.2H377.9M369.6 469.1H366.6V469.4H377.9M377.9 469.5H367.9V469.7H377.9M366.6 469.2H365V469.6H367.9M377.9 468.8H364.3V469.4H365M354.4 468H353.7V469.1H364.3M377.9 470.1H368.7V470.3H377.9M368.7 470.2H364.3V470.4H377.9M377.9 469.9H361.6V470.3H364.3M377.9 470.6H368.9V470.8H377.9M368.9 470.7H367.5V471H377.9M367.5 470.9H365.9V471.2H377.9M365.9 471H362.9V471.4H377.9M377.9 471.7H370.5V471.9H377.9M377.9 471.5H368.2V471.8H370.5M368.2 471.7H366.2V472.1H377.9M366.2 471.9H364.3V472.3H377.9M362.9 471.2H361.6V472.1H364.3M361.6 470.1H359.9V471.6H361.6M377.9 472.6H369.9V472.8H377.9M377.9 472.5H364.6V472.7H369.9M359.9 470.9H357V472.6H364.6M353.7 468.6H352.4V471.7H357M377.9 473.4H368.1V473.6H377.9M368.1 473.5H362.3V473.7H377.9M377.9 473.2H360.3V473.6H362.3M360.3 473.4H358.4V473.9H377.9M377.9 473H357.5V473.7H358.4M377.9 474.5H367V474.6H377.9M377.9 474.3H365.2V474.6H367M377.9 474.1H363.7V474.4H365.2M377.9 474.8H366V475H377.9M363.7 474.3H361.9V474.9H366M377.9 475.2H364.4V475.4H377.9M364.4 475.3H361.8V475.6H377.9M361.9 474.6H358.6V475.4H361.8M357.5 473.3H356.8V475H358.6M377.9 475.9H370V476.1H377.9M377.9 475.7H360V476H370M377.9 476.5H368.8V476.7H377.9M377.9 476.3H362.5V476.6H368.8M377.9 476.8H369.2V477H377.9M362.5 476.4H359.8V476.9H369.2M360 475.9H357.9V476.7H359.8M356.8 474.2H354.4V476.3H357.9M377.9 477.4H363.3V477.6H377.9M363.3 477.5H359.2V477.7H377.9M377.9 477.2H357.7V477.6H359.2M377.9 477.9H365.6V478.1H377.9M365.6 478H360.7V478.3H377.9M357.7 477.4H355.2V478.2H360.7M377.9 478.5H369.1V478.7H377.9M377.9 478.8H368.5V479H377.9M369.1 478.6H366.2V478.9H368.5M377.9 479.4H367.9V479.6H377.9M377.9 479.2H366.5V479.5H367.9M366.2 478.8H364.1V479.3H366.5M377.9 479.9H369.1V480.1H377.9M377.9 479.8H363.9V480H369.1M364.1 479H363V479.9H363.9M377.9 480.3H366.4V480.5H377.9M363 479.5H361.1V480.4H366.4M377.9 480.8H370.4V481H377.9M370.4 480.9H367.8V481.2H377.9M377.9 480.7H364.9V481.1H367.8M361.1 479.9H359.3V480.9H364.9M377.9 481.6H364.3V481.8H377.9M364.3 481.7H361.9V481.9H377.9M377.9 481.4H360.5V481.8H361.9M377.9 482.1H368.5V482.3H377.9M360.5 481.6H357.7V482.2H368.5M359.3 480.4H356.4V481.9H357.7M355.2 477.8H353.7V481.2H356.4M354.4 475.2H351.4V479.5H353.7"/><path fill="none" stroke="#333" stroke-width="0.9" shape-rendering="auto" d="M361.7 328H348.5V329.6H351.8M350.7 331.2H349.4V333.6H364.3M348.5 328.8H347.7V332.4H349.4M350.9 336.1H349V340H351M349 338H347.7V344.1H352M347.7 330.6H346.5V341.1H347.7M353.1 325.1H345.3V335.8H346.5M364.7 346.3H346.3V348H355.2M346.3 347.1H345.3V349.5H357M345.3 330.5H344.2V348.3H345.3M351.4 358.5H348.6V367.4H350.9M351.4 353H347.7V363H348.6M350.7 381.8H348.7V388.8H349.9M351.4 392.3H348.8V394H359M348.7 385.3H347.5V393.1H348.8M347.7 358H344.9V389.2H347.5M344.2 339.4H342.9V373.6H344.9M349.9 399.7H349.1V407.5H351.3M352.6 414.8H349.8V421.3H351.8M349.1 403.6H347.3V418H349.8M356.2 428.4H349.6V430.8H356.9M350.2 425.1H348.7V429.6H349.6M351.2 432.6H348.9V438.2H353.4M348.7 427.4H347.1V435.4H348.9M347.3 410.8H344.8V431.4H347.1M351.4 442.4H349.2V458.6H351M349.2 450.5H347.6V470.2H352.4M347.6 460.3H346.2V477.3H351.4M344.8 421.1H343.9V468.8H346.2M342.9 356.5H336.9V445H343.9"/><path fill="#000" d="M377.9 318.2L362.07 318.2L362.07 319.12L360.9 319.12L360.9 319.93L360.9 319.93L360.9 321.39L360.91 321.39L360.91 322.34L363.68 322.34L363.68 323.08L363.25 323.08L363.25 324.74L364.15 324.74L364.15 325.78L362.35 325.78L362.35 327.14L360.9 327.14L360.9 327.85L362.43 327.85L362.43 329.48L363.25 329.48L363.25 330.2L363.55 330.2L363.55 332.1L362 332.1L362 332.95L360.9 332.95L360.9 334.24L361.18 334.24L361.18 335.46L363.21 335.46L363.21 336.65L362.71 336.65L362.71 338.48L360.9 338.48L360.9 339.18L360.9 339.18L360.9 340.88L360.9 340.88L360.9 342.47L360.9 342.47L360.9 343.18L360.9 343.18L360.9 344.63L362.94 344.63L362.94 345.5L360.9 345.5L360.9 347.01L361.85 347.01L361.85 347.85L362.68 347.85L362.68 348.5L361.38 348.5L361.38 349.11L365.28 349.11L365.28 350.04L365.18 350.04L365.18 351.67L366.12 351.67L366.12 353.61L364.99 353.61L364.99 355.46L364.64 355.46L364.64 357.07L364.36 357.07L364.36 358.22L364.07 358.22L364.07 360.07L366.56 360.07L366.56 361.98L365.71 361.98L365.71 363.52L366.24 363.52L366.24 365.51L364.49 365.51L364.49 366.96L362.07 366.96L362.07 368.88L363.46 368.88L363.46 370.22L360.9 370.22L360.9 371.29L361.23 371.29L361.23 373.25L362.95 373.25L362.95 374.24L362.57 374.24L362.57 375.43L365.17 375.43L365.17 377.27L364.98 377.27L364.98 378.58L364.32 378.58L364.32 380.45L365.5 380.45L365.5 382.45L364.78 382.45L364.78 384.24L366.9 384.24L366.9 385.46L365.68 385.46L365.68 386.25L364.8 386.25L364.8 387.73L366.61 387.73L366.61 389.55L364.89 389.55L364.89 390.99L364.69 390.99L364.69 392.85L364.8 392.85L364.8 394.48L364.25 394.48L364.25 395.49L364.46 395.49L364.46 396.61L364.84 396.61L364.84 397.26L365.17 397.26L365.17 397.98L365.04 397.98L365.04 399.39L364.87 399.39L364.87 401.22L366.9 401.22L366.9 403L366.89 403L366.89 404.42L366.54 404.42L366.54 406.24L366.26 406.24L366.26 407.79L366.9 407.79L366.9 408.81L366.9 408.81L366.9 410.13L365.41 410.13L365.41 411.14L365.91 411.14L365.91 412.37L363.96 412.37L363.96 413.69L363.51 413.69L363.51 415.15L364.04 415.15L364.04 415.99L365.71 415.99L365.71 417.91L362.61 417.91L362.61 419.05L360.9 419.05L360.9 420.04L361.68 420.04L361.68 421.98L362.94 421.98L362.94 423.28L362.32 423.28L362.32 425L362.92 425L362.92 426.02L364.2 426.02L364.2 426.75L364.33 426.75L364.33 427.74L363.27 427.74L363.27 429.26L363.46 429.26L363.46 430.59L364.76 430.59L364.76 431.79L365.36 431.79L365.36 432.64L363.75 432.64L363.75 433.65L364.69 433.65L364.69 435.59L363.34 435.59L363.34 436.21L360.9 436.21L360.9 436.97L360.9 436.97L360.9 438.38L360.9 438.38L360.9 439.65L361.15 439.65L361.15 441.47L361.26 441.47L361.26 442.37L360.9 442.37L360.9 444.36L362.79 444.36L362.79 445.41L361.67 445.41L361.67 446.45L361.41 446.45L361.41 448.24L360.9 448.24L360.9 449.35L364.12 449.35L364.12 450.9L364.86 450.9L364.86 451.91L364.55 451.91L364.55 452.83L361.51 452.83L361.51 453.92L360.9 453.92L360.9 455.22L362.14 455.22L362.14 456.32L363.39 456.32L363.39 457.36L364.67 457.36L364.67 458.5L364.19 458.5L364.19 459.62L362.34 459.62L362.34 460.87L364.58 460.87L364.58 462.68L364.05 462.68L364.05 463.93L364.21 463.93L364.21 465.72L361.16 465.72L361.16 467.26L360.9 467.26L360.9 468.32L360.9 468.32L360.9 469.77L360.9 469.77L360.9 471.29L362.33 471.29L362.33 472.39L360.9 472.39L360.9 474.27L361.48 474.27L361.48 474.87L360.9 474.87L360.9 475.91L363.75 475.91L363.75 476.97L364.98 476.97L364.98 478.7L361.91 478.7L361.91 479.84L365.09 479.84L365.09 480.64L364.37 480.64L364.37 481.5L364.49 481.5L364.49 482.4L377.9 482.4z"/><text x="592.9" y="315.28" font-size="7.7" font-weight="bold" fill="#222">ecotype</text><rect x="594.9" y="318.1" width="7.2" height="14.56" fill="#c62227"/><rect x="594.9" y="332.61" width="7.2" height="14.56" fill="#d65c5e"/><rect x="594.9" y="347.12" width="7.2" height="14.56" fill="#e59a9c"/><rect x="594.9" y="361.64" width="7.2" height="14.56" fill="#f5d8da"/><rect x="594.9" y="376.15" width="7.2" height="14.56" fill="#e1e4f3"/><rect x="594.9" y="390.66" width="7.2" height="14.56" fill="#a6b5e0"/><rect x="594.9" y="405.18" width="7.2" height="14.56" fill="#6e88cc"/><rect x="594.9" y="419.69" width="7.2" height="14.56" fill="#3b5fb2"/><text x="605.4" y="323.8" font-size="7.1" fill="#222">3</text><text x="605.4" y="341.8" font-size="7.1" fill="#222">2</text><text x="605.4" y="360.5" font-size="7.1" fill="#222">1</text><text x="605.4" y="378.9" font-size="7.1" fill="#222">0</text><text x="605.4" y="397.5" font-size="7.1" fill="#222">-1</text><text x="605.4" y="416.5" font-size="7.1" fill="#222">-2</text><text x="605.4" y="434.2" font-size="7.1" fill="#222">-3</text><text x="617.2" y="324.2" font-size="7.7" font-weight="bold" fill="#222">ecotype</text><rect x="617.2" y="327" width="11.5" height="11.4" fill="#f5a11e"/><rect x="617.2" y="338.4" width="11.5" height="11.5" fill="#add8e6"/><text x="631" y="335.75" font-size="7.65" fill="#222">marine</text><text x="631" y="347.2" font-size="7.65" fill="#222">freshwater</text></g><g id="pe"><text transform="translate(15.1 513.65) scale(1 1.035)" font-size="17.4" font-weight="bold">(e)</text><text x="90" y="511.9" font-size="13.8" xml:space="preserve">DEmiRs (brain, n=18)</text><path fill="none" stroke="#666" stroke-width="1.3" shape-rendering="auto" d="M65.81 559.8V548.8H82.15V559.8M49.47 559.8V545H73.98V548.8M114.82 559.8V545.5H131.16V559.8M98.48 559.8V542.7H122.99V545.5M61.72 545V539.7H110.74V542.7M163.84 559.8V544.1H180.18V559.8M147.5 559.8V536.7H172.01V544.1M229.19 559.8V542.2H245.53V559.8M212.85 559.8V538.6H237.36V542.2M196.52 559.8V533.8H225.11V538.6M159.75 536.7V531.4H210.81V533.8M86.23 539.7V518.7H185.28V531.4"/><rect x="41.3" y="559.8" width="16.64" height="7.9" fill="#f5a11e"/><rect x="57.64" y="559.8" width="16.64" height="7.9" fill="#f5a11e"/><rect x="73.98" y="559.8" width="16.64" height="7.9" fill="#f5a11e"/><rect x="90.32" y="559.8" width="16.64" height="7.9" fill="#f5a11e"/><rect x="106.65" y="559.8" width="16.64" height="7.9" fill="#f5a11e"/><rect x="122.99" y="559.8" width="16.64" height="7.9" fill="#f5a11e"/><rect x="139.33" y="559.8" width="16.64" height="7.9" fill="#add8e6"/><rect x="155.67" y="559.8" width="16.64" height="7.9" fill="#add8e6"/><rect x="172.01" y="559.8" width="16.64" height="7.9" fill="#add8e6"/><rect x="188.35" y="559.8" width="16.64" height="7.9" fill="#add8e6"/><rect x="204.68" y="559.8" width="16.64" height="7.9" fill="#add8e6"/><rect x="221.02" y="559.8" width="16.64" height="7.9" fill="#add8e6"/><rect x="237.36" y="559.8" width="16.64" height="7.9" fill="#add8e6"/><path fill="#3b5fb2" d="M139.33 652.9h16.39v9.19h-16.39zM172.01 662.04h16.39v9.19h-16.39zM188.35 671.19h16.39v9.19h-16.39zM139.33 698.62h16.39v9.19h-16.39zM139.33 707.77h16.39v9.19h-16.39zM172.01 716.91h16.39v9.19h-16.39z"/><path fill="#6e88cc" d="M122.99 570.6h16.39v9.19h-16.39zM237.36 579.74h16.39v9.19h-16.39zM122.99 588.89h16.39v9.19h-16.39zM204.68 588.89h16.39v9.19h-16.39zM57.64 607.18h16.39v9.19h-16.39zM57.64 616.32h16.39v9.19h-16.39zM57.64 625.47h16.39v9.19h-16.39zM41.3 634.61h16.39v9.19h-16.39zM57.64 634.61h16.39v9.19h-16.39zM139.33 643.76h16.39v9.19h-16.39zM172.01 643.76h16.39v9.19h-16.39zM221.02 671.19h16.39v9.19h-16.39zM204.68 680.33h16.39v9.19h-16.39zM221.02 680.33h16.39v9.19h-16.39zM237.36 680.33h16.39v9.19h-16.39zM155.67 698.62h16.39v9.19h-16.39zM172.01 698.62h16.39v9.19h-16.39zM155.67 707.77h16.39v9.19h-16.39zM139.33 726.06h16.39v9.19h-16.39zM172.01 726.06h16.39v9.19h-16.39zM221.02 726.06h16.39v9.19h-16.39z"/><path fill="#a6b5e0" d="M41.3 570.6h16.39v9.19h-16.39zM106.65 570.6h16.39v9.19h-16.39zM155.67 570.6h16.39v9.19h-16.39zM41.3 579.74h16.39v9.19h-16.39zM57.64 579.74h16.39v9.19h-16.39zM73.98 579.74h16.39v9.19h-16.39zM172.01 579.74h16.39v9.19h-16.39zM41.3 588.89h16.39v9.19h-16.39zM57.64 588.89h16.39v9.19h-16.39zM106.65 588.89h16.39v9.19h-16.39zM41.3 598.03h16.39v9.19h-16.39zM73.98 598.03h16.39v9.19h-16.39zM90.32 598.03h16.39v9.19h-16.39zM106.65 598.03h16.39v9.19h-16.39zM122.99 598.03h16.39v9.19h-16.39zM237.36 598.03h16.39v9.19h-16.39zM41.3 607.18h16.39v9.19h-16.39zM90.32 607.18h16.39v9.19h-16.39zM106.65 607.18h16.39v9.19h-16.39zM122.99 607.18h16.39v9.19h-16.39zM73.98 616.32h16.39v9.19h-16.39zM237.36 616.32h16.39v9.19h-16.39zM41.3 625.47h16.39v9.19h-16.39zM73.98 625.47h16.39v9.19h-16.39zM90.32 625.47h16.39v9.19h-16.39zM122.99 625.47h16.39v9.19h-16.39zM73.98 634.61h16.39v9.19h-16.39zM122.99 634.61h16.39v9.19h-16.39zM155.67 643.76h16.39v9.19h-16.39zM188.35 643.76h16.39v9.19h-16.39zM204.68 643.76h16.39v9.19h-16.39zM188.35 652.9h16.39v9.19h-16.39zM237.36 652.9h16.39v9.19h-16.39zM90.32 662.04h16.39v9.19h-16.39zM188.35 662.04h16.39v9.19h-16.39zM204.68 662.04h16.39v9.19h-16.39zM204.68 671.19h16.39v9.19h-16.39zM237.36 671.19h16.39v9.19h-16.39zM139.33 689.48h16.39v9.19h-16.39zM155.67 689.48h16.39v9.19h-16.39zM172.01 689.48h16.39v9.19h-16.39zM204.68 689.48h16.39v9.19h-16.39zM221.02 689.48h16.39v9.19h-16.39zM237.36 689.48h16.39v9.19h-16.39zM172.01 707.77h16.39v9.19h-16.39zM155.67 716.91h16.39v9.19h-16.39zM155.67 726.06h16.39v9.19h-16.39z"/><path fill="#e1e4f3" d="M57.64 570.6h16.39v9.19h-16.39zM73.98 570.6h16.39v9.19h-16.39zM90.32 570.6h16.39v9.19h-16.39zM139.33 570.6h16.39v9.19h-16.39zM172.01 570.6h16.39v9.19h-16.39zM90.32 579.74h16.39v9.19h-16.39zM106.65 579.74h16.39v9.19h-16.39zM221.02 579.74h16.39v9.19h-16.39zM73.98 588.89h16.39v9.19h-16.39zM90.32 588.89h16.39v9.19h-16.39zM57.64 598.03h16.39v9.19h-16.39zM73.98 607.18h16.39v9.19h-16.39zM237.36 607.18h16.39v9.19h-16.39zM41.3 616.32h16.39v9.19h-16.39zM90.32 616.32h16.39v9.19h-16.39zM122.99 616.32h16.39v9.19h-16.39zM221.02 616.32h16.39v9.19h-16.39zM90.32 634.61h16.39v9.19h-16.39zM106.65 634.61h16.39v9.19h-16.39zM106.65 643.76h16.39v9.19h-16.39zM237.36 643.76h16.39v9.19h-16.39zM90.32 652.9h16.39v9.19h-16.39zM106.65 652.9h16.39v9.19h-16.39zM204.68 652.9h16.39v9.19h-16.39zM221.02 652.9h16.39v9.19h-16.39zM155.67 662.04h16.39v9.19h-16.39zM221.02 662.04h16.39v9.19h-16.39zM90.32 671.19h16.39v9.19h-16.39zM155.67 680.33h16.39v9.19h-16.39zM172.01 680.33h16.39v9.19h-16.39zM73.98 689.48h16.39v9.19h-16.39zM106.65 689.48h16.39v9.19h-16.39zM204.68 698.62h16.39v9.19h-16.39zM237.36 698.62h16.39v9.19h-16.39zM188.35 707.77h16.39v9.19h-16.39zM57.64 716.91h16.39v9.19h-16.39zM139.33 716.91h16.39v9.19h-16.39zM188.35 716.91h16.39v9.19h-16.39zM204.68 716.91h16.39v9.19h-16.39zM221.02 716.91h16.39v9.19h-16.39zM237.36 716.91h16.39v9.19h-16.39zM188.35 726.06h16.39v9.19h-16.39z"/><path fill="#f5d8da" d="M122.99 579.74h16.39v9.19h-16.39zM188.35 588.89h16.39v9.19h-16.39zM237.36 588.89h16.39v9.19h-16.39zM172.01 598.03h16.39v9.19h-16.39zM139.33 607.18h16.39v9.19h-16.39zM221.02 607.18h16.39v9.19h-16.39zM106.65 616.32h16.39v9.19h-16.39zM139.33 616.32h16.39v9.19h-16.39zM188.35 616.32h16.39v9.19h-16.39zM106.65 625.47h16.39v9.19h-16.39zM204.68 625.47h16.39v9.19h-16.39zM221.02 625.47h16.39v9.19h-16.39zM188.35 634.61h16.39v9.19h-16.39zM204.68 634.61h16.39v9.19h-16.39zM221.02 634.61h16.39v9.19h-16.39zM237.36 634.61h16.39v9.19h-16.39zM41.3 643.76h16.39v9.19h-16.39zM90.32 643.76h16.39v9.19h-16.39zM221.02 643.76h16.39v9.19h-16.39zM41.3 652.9h16.39v9.19h-16.39zM155.67 652.9h16.39v9.19h-16.39zM172.01 652.9h16.39v9.19h-16.39zM139.33 662.04h16.39v9.19h-16.39zM237.36 662.04h16.39v9.19h-16.39zM122.99 671.19h16.39v9.19h-16.39zM139.33 671.19h16.39v9.19h-16.39zM155.67 671.19h16.39v9.19h-16.39zM172.01 671.19h16.39v9.19h-16.39zM90.32 680.33h16.39v9.19h-16.39zM139.33 680.33h16.39v9.19h-16.39zM57.64 689.48h16.39v9.19h-16.39zM122.99 689.48h16.39v9.19h-16.39zM41.3 698.62h16.39v9.19h-16.39zM90.32 698.62h16.39v9.19h-16.39zM188.35 698.62h16.39v9.19h-16.39zM221.02 698.62h16.39v9.19h-16.39zM73.98 707.77h16.39v9.19h-16.39zM122.99 707.77h16.39v9.19h-16.39zM204.68 707.77h16.39v9.19h-16.39zM221.02 707.77h16.39v9.19h-16.39zM237.36 707.77h16.39v9.19h-16.39zM41.3 716.91h16.39v9.19h-16.39zM106.65 716.91h16.39v9.19h-16.39zM106.65 726.06h16.39v9.19h-16.39zM204.68 726.06h16.39v9.19h-16.39zM237.36 726.06h16.39v9.19h-16.39z"/><path fill="#e59a9c" d="M188.35 570.6h16.39v9.19h-16.39zM237.36 570.6h16.39v9.19h-16.39zM155.67 588.89h16.39v9.19h-16.39zM221.02 588.89h16.39v9.19h-16.39zM139.33 598.03h16.39v9.19h-16.39zM155.67 598.03h16.39v9.19h-16.39zM188.35 598.03h16.39v9.19h-16.39zM204.68 598.03h16.39v9.19h-16.39zM155.67 607.18h16.39v9.19h-16.39zM172.01 607.18h16.39v9.19h-16.39zM204.68 607.18h16.39v9.19h-16.39zM139.33 625.47h16.39v9.19h-16.39zM155.67 625.47h16.39v9.19h-16.39zM188.35 625.47h16.39v9.19h-16.39zM237.36 625.47h16.39v9.19h-16.39zM139.33 634.61h16.39v9.19h-16.39zM122.99 643.76h16.39v9.19h-16.39zM106.65 662.04h16.39v9.19h-16.39zM122.99 662.04h16.39v9.19h-16.39zM41.3 671.19h16.39v9.19h-16.39zM73.98 671.19h16.39v9.19h-16.39zM41.3 680.33h16.39v9.19h-16.39zM57.64 680.33h16.39v9.19h-16.39zM73.98 680.33h16.39v9.19h-16.39zM122.99 680.33h16.39v9.19h-16.39zM188.35 680.33h16.39v9.19h-16.39zM90.32 689.48h16.39v9.19h-16.39zM57.64 698.62h16.39v9.19h-16.39zM73.98 698.62h16.39v9.19h-16.39zM41.3 707.77h16.39v9.19h-16.39zM57.64 707.77h16.39v9.19h-16.39zM106.65 707.77h16.39v9.19h-16.39zM73.98 716.91h16.39v9.19h-16.39zM41.3 726.06h16.39v9.19h-16.39zM57.64 726.06h16.39v9.19h-16.39zM73.98 726.06h16.39v9.19h-16.39zM122.99 726.06h16.39v9.19h-16.39z"/><path fill="#d65c5e" d="M221.02 570.6h16.39v9.19h-16.39zM139.33 579.74h16.39v9.19h-16.39zM155.67 579.74h16.39v9.19h-16.39zM188.35 579.74h16.39v9.19h-16.39zM204.68 579.74h16.39v9.19h-16.39zM139.33 588.89h16.39v9.19h-16.39zM172.01 588.89h16.39v9.19h-16.39zM221.02 598.03h16.39v9.19h-16.39zM155.67 616.32h16.39v9.19h-16.39zM172.01 616.32h16.39v9.19h-16.39zM204.68 616.32h16.39v9.19h-16.39zM172.01 625.47h16.39v9.19h-16.39zM172.01 634.61h16.39v9.19h-16.39zM57.64 643.76h16.39v9.19h-16.39zM57.64 652.9h16.39v9.19h-16.39zM73.98 652.9h16.39v9.19h-16.39zM122.99 652.9h16.39v9.19h-16.39zM41.3 662.04h16.39v9.19h-16.39zM57.64 662.04h16.39v9.19h-16.39zM73.98 662.04h16.39v9.19h-16.39zM57.64 671.19h16.39v9.19h-16.39zM106.65 671.19h16.39v9.19h-16.39zM106.65 680.33h16.39v9.19h-16.39zM106.65 698.62h16.39v9.19h-16.39zM122.99 698.62h16.39v9.19h-16.39zM90.32 707.77h16.39v9.19h-16.39zM90.32 716.91h16.39v9.19h-16.39zM122.99 716.91h16.39v9.19h-16.39zM90.32 726.06h16.39v9.19h-16.39z"/><path fill="#c62227" d="M204.68 570.6h16.39v9.19h-16.39zM188.35 607.18h16.39v9.19h-16.39zM155.67 634.61h16.39v9.19h-16.39zM73.98 643.76h16.39v9.19h-16.39zM41.3 689.48h16.39v9.19h-16.39zM188.35 689.48h16.39v9.19h-16.39z"/><text x="255.9" y="566.98" font-size="7.7" font-weight="bold" fill="#222">ecotype</text><rect x="258.1" y="570.5" width="7" height="14.43" fill="#c62227"/><rect x="258.1" y="584.88" width="7" height="14.43" fill="#d65c5e"/><rect x="258.1" y="599.25" width="7" height="14.43" fill="#e59a9c"/><rect x="258.1" y="613.62" width="7" height="14.43" fill="#f5d8da"/><rect x="258.1" y="628" width="7" height="14.43" fill="#e1e4f3"/><rect x="258.1" y="642.38" width="7" height="14.43" fill="#a6b5e0"/><rect x="258.1" y="656.75" width="7" height="14.43" fill="#6e88cc"/><rect x="258.1" y="671.12" width="7" height="14.43" fill="#3b5fb2"/><text x="268.6" y="581.3" font-size="7.1" fill="#222">2</text><text x="268.6" y="605.8" font-size="7.1" fill="#222">1</text><text x="268.6" y="630.7" font-size="7.1" fill="#222">0</text><text x="268.6" y="656" font-size="7.1" fill="#222">-1</text><text x="268.6" y="680.3" font-size="7.1" fill="#222">-2</text><text x="280.2" y="576.2" font-size="7.7" font-weight="bold" fill="#222">ecotype</text><rect x="280.2" y="579" width="11.5" height="11.4" fill="#f5a11e"/><rect x="280.2" y="590.4" width="11.5" height="11.4" fill="#add8e6"/><text x="294" y="587.75" font-size="7.65" fill="#222">marine</text><text x="294" y="599.15" font-size="7.65" fill="#222">freshwater</text></g><g id="pf"><text transform="translate(366.3 516.05) scale(1 1.035)" font-size="17.4" font-weight="bold">(f)</text><text x="431" y="511.8" font-size="13.8" xml:space="preserve">DEmiRs (liver, n=37)</text><path fill="none" stroke="#666" stroke-width="1.3" shape-rendering="auto" d="M385.09 560V545.1H401.48V560M417.86 560V542.5H434.25V560M393.28 545.1V540.8H426.05V542.5M467.02 560V548.4H483.4V560M450.63 560V543.5H475.21V548.4M499.78 560V546.4H516.17V560M532.55 560V549.6H548.94V560M565.32 560V548.4H581.71V560M540.75 549.6V545.5H573.52V548.4M507.98 546.4V541.6H557.13V545.5M462.92 543.5V537.3H532.55V541.6M409.67 540.8V518.3H497.74V537.3"/><rect x="376.9" y="560" width="16.68" height="7.7" fill="#f5a11e"/><rect x="393.28" y="560" width="16.68" height="7.7" fill="#f5a11e"/><rect x="409.67" y="560" width="16.68" height="7.7" fill="#f5a11e"/><rect x="426.05" y="560" width="16.68" height="7.7" fill="#f5a11e"/><rect x="442.44" y="560" width="16.68" height="7.7" fill="#add8e6"/><rect x="458.82" y="560" width="16.68" height="7.7" fill="#add8e6"/><rect x="475.21" y="560" width="16.68" height="7.7" fill="#add8e6"/><rect x="491.59" y="560" width="16.68" height="7.7" fill="#f5a11e"/><rect x="507.98" y="560" width="16.68" height="7.7" fill="#f5a11e"/><rect x="524.36" y="560" width="16.68" height="7.7" fill="#add8e6"/><rect x="540.75" y="560" width="16.68" height="7.7" fill="#add8e6"/><rect x="557.13" y="560" width="16.68" height="7.7" fill="#add8e6"/><rect x="573.52" y="560" width="16.68" height="7.7" fill="#add8e6"/><path fill="#3b5fb2" d="M376.9 726.2h16.43v4.5h-16.43zM409.67 730.65h16.43v4.5h-16.43z"/><path fill="#6e88cc" d="M507.98 570.4h16.43v4.5h-16.43zM458.82 574.85h16.43v4.5h-16.43zM475.21 574.85h16.43v4.5h-16.43zM442.44 579.3h16.43v4.5h-16.43zM458.82 583.75h16.43v4.5h-16.43zM524.36 583.75h16.43v4.5h-16.43zM524.36 588.21h16.43v4.5h-16.43zM524.36 592.66h16.43v4.5h-16.43zM442.44 597.11h16.43v4.5h-16.43zM442.44 601.56h16.43v4.5h-16.43zM458.82 606.01h16.43v4.5h-16.43zM557.13 606.01h16.43v4.5h-16.43zM557.13 610.46h16.43v4.5h-16.43zM573.52 637.17h16.43v4.5h-16.43zM573.52 641.62h16.43v4.5h-16.43zM442.44 646.07h16.43v4.5h-16.43zM442.44 654.98h16.43v4.5h-16.43zM442.44 659.43h16.43v4.5h-16.43zM540.75 668.33h16.43v4.5h-16.43zM393.28 672.78h16.43v4.5h-16.43zM393.28 677.23h16.43v4.5h-16.43zM557.13 677.23h16.43v4.5h-16.43zM376.9 681.68h16.43v4.5h-16.43zM376.9 690.59h16.43v4.5h-16.43zM409.67 690.59h16.43v4.5h-16.43zM376.9 695.04h16.43v4.5h-16.43zM409.67 695.04h16.43v4.5h-16.43zM376.9 699.49h16.43v4.5h-16.43zM393.28 699.49h16.43v4.5h-16.43zM409.67 708.39h16.43v4.5h-16.43zM426.05 708.39h16.43v4.5h-16.43zM376.9 712.84h16.43v4.5h-16.43zM376.9 717.29h16.43v4.5h-16.43zM376.9 721.75h16.43v4.5h-16.43zM426.05 721.75h16.43v4.5h-16.43zM376.9 730.65h16.43v4.5h-16.43z"/><path fill="#a6b5e0" d="M524.36 570.4h16.43v4.5h-16.43zM540.75 570.4h16.43v4.5h-16.43zM442.44 574.85h16.43v4.5h-16.43zM376.9 579.3h16.43v4.5h-16.43zM458.82 579.3h16.43v4.5h-16.43zM524.36 579.3h16.43v4.5h-16.43zM475.21 583.75h16.43v4.5h-16.43zM557.13 588.21h16.43v4.5h-16.43zM458.82 592.66h16.43v4.5h-16.43zM475.21 592.66h16.43v4.5h-16.43zM540.75 592.66h16.43v4.5h-16.43zM409.67 597.11h16.43v4.5h-16.43zM524.36 597.11h16.43v4.5h-16.43zM524.36 601.56h16.43v4.5h-16.43zM557.13 601.56h16.43v4.5h-16.43zM573.52 601.56h16.43v4.5h-16.43zM491.59 610.46h16.43v4.5h-16.43zM507.98 610.46h16.43v4.5h-16.43zM573.52 610.46h16.43v4.5h-16.43zM442.44 614.91h16.43v4.5h-16.43zM507.98 614.91h16.43v4.5h-16.43zM524.36 614.91h16.43v4.5h-16.43zM557.13 614.91h16.43v4.5h-16.43zM573.52 614.91h16.43v4.5h-16.43zM507.98 619.36h16.43v4.5h-16.43zM524.36 619.36h16.43v4.5h-16.43zM557.13 619.36h16.43v4.5h-16.43zM573.52 619.36h16.43v4.5h-16.43zM507.98 623.82h16.43v4.5h-16.43zM557.13 623.82h16.43v4.5h-16.43zM573.52 623.82h16.43v4.5h-16.43zM491.59 628.27h16.43v4.5h-16.43zM524.36 628.27h16.43v4.5h-16.43zM540.75 628.27h16.43v4.5h-16.43zM507.98 632.72h16.43v4.5h-16.43zM524.36 632.72h16.43v4.5h-16.43zM540.75 632.72h16.43v4.5h-16.43zM557.13 632.72h16.43v4.5h-16.43zM524.36 637.17h16.43v4.5h-16.43zM540.75 637.17h16.43v4.5h-16.43zM557.13 637.17h16.43v4.5h-16.43zM507.98 641.62h16.43v4.5h-16.43zM524.36 641.62h16.43v4.5h-16.43zM540.75 641.62h16.43v4.5h-16.43zM458.82 646.07h16.43v4.5h-16.43zM491.59 646.07h16.43v4.5h-16.43zM442.44 650.52h16.43v4.5h-16.43zM475.21 650.52h16.43v4.5h-16.43zM507.98 650.52h16.43v4.5h-16.43zM491.59 654.98h16.43v4.5h-16.43zM507.98 654.98h16.43v4.5h-16.43zM507.98 659.43h16.43v4.5h-16.43zM442.44 663.88h16.43v4.5h-16.43zM458.82 663.88h16.43v4.5h-16.43zM507.98 663.88h16.43v4.5h-16.43zM524.36 663.88h16.43v4.5h-16.43zM540.75 663.88h16.43v4.5h-16.43zM442.44 668.33h16.43v4.5h-16.43zM376.9 672.78h16.43v4.5h-16.43zM557.13 672.78h16.43v4.5h-16.43zM426.05 677.23h16.43v4.5h-16.43zM393.28 681.68h16.43v4.5h-16.43zM426.05 681.68h16.43v4.5h-16.43zM507.98 681.68h16.43v4.5h-16.43zM376.9 686.14h16.43v4.5h-16.43zM393.28 686.14h16.43v4.5h-16.43zM426.05 686.14h16.43v4.5h-16.43zM393.28 690.59h16.43v4.5h-16.43zM426.05 690.59h16.43v4.5h-16.43zM557.13 690.59h16.43v4.5h-16.43zM393.28 695.04h16.43v4.5h-16.43zM426.05 699.49h16.43v4.5h-16.43zM376.9 703.94h16.43v4.5h-16.43zM393.28 703.94h16.43v4.5h-16.43zM409.67 703.94h16.43v4.5h-16.43zM426.05 703.94h16.43v4.5h-16.43zM573.52 703.94h16.43v4.5h-16.43zM376.9 708.39h16.43v4.5h-16.43zM491.59 708.39h16.43v4.5h-16.43zM393.28 712.84h16.43v4.5h-16.43zM409.67 712.84h16.43v4.5h-16.43zM426.05 712.84h16.43v4.5h-16.43zM491.59 712.84h16.43v4.5h-16.43zM393.28 717.29h16.43v4.5h-16.43zM409.67 717.29h16.43v4.5h-16.43zM426.05 717.29h16.43v4.5h-16.43zM442.44 721.75h16.43v4.5h-16.43zM491.59 721.75h16.43v4.5h-16.43zM393.28 726.2h16.43v4.5h-16.43zM426.05 726.2h16.43v4.5h-16.43zM507.98 730.65h16.43v4.5h-16.43z"/><path fill="#e1e4f3" d="M376.9 570.4h16.43v4.5h-16.43zM458.82 570.4h16.43v4.5h-16.43zM475.21 570.4h16.43v4.5h-16.43zM557.13 570.4h16.43v4.5h-16.43zM573.52 570.4h16.43v4.5h-16.43zM426.05 574.85h16.43v4.5h-16.43zM524.36 574.85h16.43v4.5h-16.43zM557.13 574.85h16.43v4.5h-16.43zM491.59 579.3h16.43v4.5h-16.43zM540.75 579.3h16.43v4.5h-16.43zM557.13 579.3h16.43v4.5h-16.43zM573.52 579.3h16.43v4.5h-16.43zM442.44 583.75h16.43v4.5h-16.43zM491.59 583.75h16.43v4.5h-16.43zM540.75 583.75h16.43v4.5h-16.43zM442.44 588.21h16.43v4.5h-16.43zM458.82 588.21h16.43v4.5h-16.43zM475.21 588.21h16.43v4.5h-16.43zM491.59 588.21h16.43v4.5h-16.43zM507.98 588.21h16.43v4.5h-16.43zM540.75 588.21h16.43v4.5h-16.43zM426.05 592.66h16.43v4.5h-16.43zM557.13 592.66h16.43v4.5h-16.43zM458.82 597.11h16.43v4.5h-16.43zM475.21 597.11h16.43v4.5h-16.43zM540.75 597.11h16.43v4.5h-16.43zM557.13 597.11h16.43v4.5h-16.43zM573.52 597.11h16.43v4.5h-16.43zM426.05 601.56h16.43v4.5h-16.43zM458.82 601.56h16.43v4.5h-16.43zM426.05 606.01h16.43v4.5h-16.43zM442.44 606.01h16.43v4.5h-16.43zM507.98 606.01h16.43v4.5h-16.43zM524.36 606.01h16.43v4.5h-16.43zM573.52 606.01h16.43v4.5h-16.43zM442.44 610.46h16.43v4.5h-16.43zM458.82 610.46h16.43v4.5h-16.43zM475.21 610.46h16.43v4.5h-16.43zM524.36 610.46h16.43v4.5h-16.43zM540.75 610.46h16.43v4.5h-16.43zM458.82 614.91h16.43v4.5h-16.43zM475.21 614.91h16.43v4.5h-16.43zM491.59 614.91h16.43v4.5h-16.43zM540.75 614.91h16.43v4.5h-16.43zM442.44 619.36h16.43v4.5h-16.43zM458.82 619.36h16.43v4.5h-16.43zM475.21 619.36h16.43v4.5h-16.43zM540.75 619.36h16.43v4.5h-16.43zM442.44 623.82h16.43v4.5h-16.43zM458.82 623.82h16.43v4.5h-16.43zM475.21 623.82h16.43v4.5h-16.43zM491.59 623.82h16.43v4.5h-16.43zM524.36 623.82h16.43v4.5h-16.43zM540.75 623.82h16.43v4.5h-16.43zM442.44 628.27h16.43v4.5h-16.43zM458.82 628.27h16.43v4.5h-16.43zM475.21 628.27h16.43v4.5h-16.43zM507.98 628.27h16.43v4.5h-16.43zM557.13 628.27h16.43v4.5h-16.43zM573.52 628.27h16.43v4.5h-16.43zM475.21 632.72h16.43v4.5h-16.43zM491.59 632.72h16.43v4.5h-16.43zM573.52 632.72h16.43v4.5h-16.43zM442.44 637.17h16.43v4.5h-16.43zM491.59 637.17h16.43v4.5h-16.43zM442.44 641.62h16.43v4.5h-16.43zM475.21 641.62h16.43v4.5h-16.43zM491.59 641.62h16.43v4.5h-16.43zM557.13 641.62h16.43v4.5h-16.43zM475.21 646.07h16.43v4.5h-16.43zM507.98 646.07h16.43v4.5h-16.43zM524.36 646.07h16.43v4.5h-16.43zM540.75 646.07h16.43v4.5h-16.43zM557.13 646.07h16.43v4.5h-16.43zM458.82 650.52h16.43v4.5h-16.43zM491.59 650.52h16.43v4.5h-16.43zM524.36 650.52h16.43v4.5h-16.43zM540.75 650.52h16.43v4.5h-16.43zM557.13 650.52h16.43v4.5h-16.43zM573.52 650.52h16.43v4.5h-16.43zM458.82 654.98h16.43v4.5h-16.43zM475.21 654.98h16.43v4.5h-16.43zM524.36 654.98h16.43v4.5h-16.43zM557.13 654.98h16.43v4.5h-16.43zM573.52 654.98h16.43v4.5h-16.43zM458.82 659.43h16.43v4.5h-16.43zM475.21 659.43h16.43v4.5h-16.43zM491.59 659.43h16.43v4.5h-16.43zM524.36 659.43h16.43v4.5h-16.43zM540.75 659.43h16.43v4.5h-16.43zM557.13 659.43h16.43v4.5h-16.43zM573.52 659.43h16.43v4.5h-16.43zM491.59 663.88h16.43v4.5h-16.43zM557.13 663.88h16.43v4.5h-16.43zM573.52 663.88h16.43v4.5h-16.43zM458.82 668.33h16.43v4.5h-16.43zM475.21 668.33h16.43v4.5h-16.43zM491.59 668.33h16.43v4.5h-16.43zM507.98 668.33h16.43v4.5h-16.43zM524.36 668.33h16.43v4.5h-16.43zM557.13 668.33h16.43v4.5h-16.43zM573.52 668.33h16.43v4.5h-16.43zM491.59 672.78h16.43v4.5h-16.43zM507.98 672.78h16.43v4.5h-16.43zM573.52 672.78h16.43v4.5h-16.43zM376.9 677.23h16.43v4.5h-16.43zM409.67 677.23h16.43v4.5h-16.43zM491.59 677.23h16.43v4.5h-16.43zM507.98 677.23h16.43v4.5h-16.43zM573.52 677.23h16.43v4.5h-16.43zM491.59 681.68h16.43v4.5h-16.43zM524.36 681.68h16.43v4.5h-16.43zM409.67 686.14h16.43v4.5h-16.43zM507.98 686.14h16.43v4.5h-16.43zM524.36 686.14h16.43v4.5h-16.43zM426.05 695.04h16.43v4.5h-16.43zM507.98 695.04h16.43v4.5h-16.43zM409.67 699.49h16.43v4.5h-16.43zM507.98 699.49h16.43v4.5h-16.43zM507.98 703.94h16.43v4.5h-16.43zM524.36 703.94h16.43v4.5h-16.43zM393.28 708.39h16.43v4.5h-16.43zM524.36 708.39h16.43v4.5h-16.43zM507.98 721.75h16.43v4.5h-16.43zM409.67 726.2h16.43v4.5h-16.43zM475.21 726.2h16.43v4.5h-16.43zM540.75 726.2h16.43v4.5h-16.43zM393.28 730.65h16.43v4.5h-16.43z"/><path fill="#f5d8da" d="M491.59 574.85h16.43v4.5h-16.43zM507.98 574.85h16.43v4.5h-16.43zM540.75 574.85h16.43v4.5h-16.43zM573.52 574.85h16.43v4.5h-16.43zM475.21 579.3h16.43v4.5h-16.43zM507.98 579.3h16.43v4.5h-16.43zM426.05 583.75h16.43v4.5h-16.43zM507.98 583.75h16.43v4.5h-16.43zM557.13 583.75h16.43v4.5h-16.43zM573.52 583.75h16.43v4.5h-16.43zM376.9 588.21h16.43v4.5h-16.43zM573.52 588.21h16.43v4.5h-16.43zM442.44 592.66h16.43v4.5h-16.43zM507.98 592.66h16.43v4.5h-16.43zM573.52 592.66h16.43v4.5h-16.43zM426.05 597.11h16.43v4.5h-16.43zM491.59 597.11h16.43v4.5h-16.43zM507.98 597.11h16.43v4.5h-16.43zM475.21 601.56h16.43v4.5h-16.43zM507.98 601.56h16.43v4.5h-16.43zM540.75 601.56h16.43v4.5h-16.43zM475.21 606.01h16.43v4.5h-16.43zM540.75 606.01h16.43v4.5h-16.43zM491.59 619.36h16.43v4.5h-16.43zM393.28 628.27h16.43v4.5h-16.43zM442.44 632.72h16.43v4.5h-16.43zM458.82 632.72h16.43v4.5h-16.43zM458.82 637.17h16.43v4.5h-16.43zM475.21 637.17h16.43v4.5h-16.43zM507.98 637.17h16.43v4.5h-16.43zM458.82 641.62h16.43v4.5h-16.43zM409.67 646.07h16.43v4.5h-16.43zM573.52 646.07h16.43v4.5h-16.43zM540.75 654.98h16.43v4.5h-16.43zM475.21 663.88h16.43v4.5h-16.43zM409.67 672.78h16.43v4.5h-16.43zM426.05 672.78h16.43v4.5h-16.43zM524.36 672.78h16.43v4.5h-16.43zM540.75 672.78h16.43v4.5h-16.43zM475.21 677.23h16.43v4.5h-16.43zM409.67 681.68h16.43v4.5h-16.43zM540.75 681.68h16.43v4.5h-16.43zM573.52 681.68h16.43v4.5h-16.43zM458.82 686.14h16.43v4.5h-16.43zM475.21 686.14h16.43v4.5h-16.43zM491.59 686.14h16.43v4.5h-16.43zM540.75 686.14h16.43v4.5h-16.43zM557.13 686.14h16.43v4.5h-16.43zM573.52 686.14h16.43v4.5h-16.43zM475.21 690.59h16.43v4.5h-16.43zM491.59 690.59h16.43v4.5h-16.43zM507.98 690.59h16.43v4.5h-16.43zM573.52 690.59h16.43v4.5h-16.43zM475.21 695.04h16.43v4.5h-16.43zM491.59 695.04h16.43v4.5h-16.43zM524.36 695.04h16.43v4.5h-16.43zM540.75 695.04h16.43v4.5h-16.43zM573.52 695.04h16.43v4.5h-16.43zM475.21 699.49h16.43v4.5h-16.43zM491.59 699.49h16.43v4.5h-16.43zM557.13 699.49h16.43v4.5h-16.43zM573.52 699.49h16.43v4.5h-16.43zM491.59 703.94h16.43v4.5h-16.43zM540.75 703.94h16.43v4.5h-16.43zM557.13 703.94h16.43v4.5h-16.43zM458.82 708.39h16.43v4.5h-16.43zM540.75 708.39h16.43v4.5h-16.43zM573.52 708.39h16.43v4.5h-16.43zM475.21 712.84h16.43v4.5h-16.43zM507.98 712.84h16.43v4.5h-16.43zM524.36 712.84h16.43v4.5h-16.43zM540.75 712.84h16.43v4.5h-16.43zM557.13 712.84h16.43v4.5h-16.43zM573.52 712.84h16.43v4.5h-16.43zM475.21 717.29h16.43v4.5h-16.43zM491.59 717.29h16.43v4.5h-16.43zM507.98 717.29h16.43v4.5h-16.43zM524.36 717.29h16.43v4.5h-16.43zM540.75 717.29h16.43v4.5h-16.43zM557.13 717.29h16.43v4.5h-16.43zM573.52 717.29h16.43v4.5h-16.43zM393.28 721.75h16.43v4.5h-16.43zM409.67 721.75h16.43v4.5h-16.43zM458.82 721.75h16.43v4.5h-16.43zM573.52 721.75h16.43v4.5h-16.43zM458.82 726.2h16.43v4.5h-16.43zM491.59 726.2h16.43v4.5h-16.43zM507.98 726.2h16.43v4.5h-16.43zM557.13 726.2h16.43v4.5h-16.43zM426.05 730.65h16.43v4.5h-16.43zM442.44 730.65h16.43v4.5h-16.43zM458.82 730.65h16.43v4.5h-16.43zM491.59 730.65h16.43v4.5h-16.43zM524.36 730.65h16.43v4.5h-16.43zM540.75 730.65h16.43v4.5h-16.43z"/><path fill="#e59a9c" d="M393.28 570.4h16.43v4.5h-16.43zM409.67 570.4h16.43v4.5h-16.43zM442.44 570.4h16.43v4.5h-16.43zM491.59 570.4h16.43v4.5h-16.43zM376.9 574.85h16.43v4.5h-16.43zM393.28 574.85h16.43v4.5h-16.43zM409.67 579.3h16.43v4.5h-16.43zM376.9 583.75h16.43v4.5h-16.43zM393.28 583.75h16.43v4.5h-16.43zM393.28 588.21h16.43v4.5h-16.43zM426.05 588.21h16.43v4.5h-16.43zM376.9 592.66h16.43v4.5h-16.43zM409.67 592.66h16.43v4.5h-16.43zM393.28 601.56h16.43v4.5h-16.43zM409.67 601.56h16.43v4.5h-16.43zM491.59 601.56h16.43v4.5h-16.43zM376.9 606.01h16.43v4.5h-16.43zM409.67 606.01h16.43v4.5h-16.43zM491.59 606.01h16.43v4.5h-16.43zM409.67 610.46h16.43v4.5h-16.43zM426.05 610.46h16.43v4.5h-16.43zM409.67 614.91h16.43v4.5h-16.43zM426.05 614.91h16.43v4.5h-16.43zM393.28 619.36h16.43v4.5h-16.43zM426.05 619.36h16.43v4.5h-16.43zM376.9 623.82h16.43v4.5h-16.43zM426.05 623.82h16.43v4.5h-16.43zM426.05 628.27h16.43v4.5h-16.43zM393.28 632.72h16.43v4.5h-16.43zM426.05 632.72h16.43v4.5h-16.43zM376.9 637.17h16.43v4.5h-16.43zM393.28 637.17h16.43v4.5h-16.43zM426.05 637.17h16.43v4.5h-16.43zM393.28 641.62h16.43v4.5h-16.43zM426.05 641.62h16.43v4.5h-16.43zM393.28 646.07h16.43v4.5h-16.43zM393.28 650.52h16.43v4.5h-16.43zM409.67 650.52h16.43v4.5h-16.43zM393.28 654.98h16.43v4.5h-16.43zM426.05 654.98h16.43v4.5h-16.43zM376.9 659.43h16.43v4.5h-16.43zM409.67 659.43h16.43v4.5h-16.43zM426.05 659.43h16.43v4.5h-16.43zM376.9 663.88h16.43v4.5h-16.43zM426.05 663.88h16.43v4.5h-16.43zM376.9 668.33h16.43v4.5h-16.43zM426.05 668.33h16.43v4.5h-16.43zM442.44 672.78h16.43v4.5h-16.43zM475.21 672.78h16.43v4.5h-16.43zM442.44 677.23h16.43v4.5h-16.43zM524.36 677.23h16.43v4.5h-16.43zM540.75 677.23h16.43v4.5h-16.43zM458.82 681.68h16.43v4.5h-16.43zM475.21 681.68h16.43v4.5h-16.43zM557.13 681.68h16.43v4.5h-16.43zM442.44 690.59h16.43v4.5h-16.43zM458.82 690.59h16.43v4.5h-16.43zM524.36 690.59h16.43v4.5h-16.43zM540.75 690.59h16.43v4.5h-16.43zM442.44 695.04h16.43v4.5h-16.43zM458.82 695.04h16.43v4.5h-16.43zM557.13 695.04h16.43v4.5h-16.43zM442.44 699.49h16.43v4.5h-16.43zM458.82 699.49h16.43v4.5h-16.43zM524.36 699.49h16.43v4.5h-16.43zM540.75 699.49h16.43v4.5h-16.43zM458.82 703.94h16.43v4.5h-16.43zM475.21 708.39h16.43v4.5h-16.43zM507.98 708.39h16.43v4.5h-16.43zM557.13 708.39h16.43v4.5h-16.43zM442.44 712.84h16.43v4.5h-16.43zM442.44 717.29h16.43v4.5h-16.43zM475.21 721.75h16.43v4.5h-16.43zM524.36 721.75h16.43v4.5h-16.43zM540.75 721.75h16.43v4.5h-16.43zM557.13 721.75h16.43v4.5h-16.43zM442.44 726.2h16.43v4.5h-16.43zM524.36 726.2h16.43v4.5h-16.43zM475.21 730.65h16.43v4.5h-16.43zM557.13 730.65h16.43v4.5h-16.43zM573.52 730.65h16.43v4.5h-16.43z"/><path fill="#d65c5e" d="M426.05 570.4h16.43v4.5h-16.43zM393.28 579.3h16.43v4.5h-16.43zM426.05 579.3h16.43v4.5h-16.43zM409.67 583.75h16.43v4.5h-16.43zM393.28 592.66h16.43v4.5h-16.43zM491.59 592.66h16.43v4.5h-16.43zM376.9 597.11h16.43v4.5h-16.43zM376.9 601.56h16.43v4.5h-16.43zM393.28 606.01h16.43v4.5h-16.43zM376.9 610.46h16.43v4.5h-16.43zM393.28 610.46h16.43v4.5h-16.43zM376.9 614.91h16.43v4.5h-16.43zM393.28 614.91h16.43v4.5h-16.43zM376.9 619.36h16.43v4.5h-16.43zM409.67 619.36h16.43v4.5h-16.43zM393.28 623.82h16.43v4.5h-16.43zM409.67 623.82h16.43v4.5h-16.43zM376.9 628.27h16.43v4.5h-16.43zM376.9 632.72h16.43v4.5h-16.43zM409.67 632.72h16.43v4.5h-16.43zM409.67 637.17h16.43v4.5h-16.43zM376.9 641.62h16.43v4.5h-16.43zM409.67 641.62h16.43v4.5h-16.43zM376.9 646.07h16.43v4.5h-16.43zM426.05 646.07h16.43v4.5h-16.43zM376.9 650.52h16.43v4.5h-16.43zM426.05 650.52h16.43v4.5h-16.43zM376.9 654.98h16.43v4.5h-16.43zM409.67 654.98h16.43v4.5h-16.43zM393.28 659.43h16.43v4.5h-16.43zM393.28 663.88h16.43v4.5h-16.43zM409.67 663.88h16.43v4.5h-16.43zM393.28 668.33h16.43v4.5h-16.43zM409.67 668.33h16.43v4.5h-16.43zM458.82 672.78h16.43v4.5h-16.43zM458.82 677.23h16.43v4.5h-16.43zM442.44 681.68h16.43v4.5h-16.43zM442.44 703.94h16.43v4.5h-16.43zM475.21 703.94h16.43v4.5h-16.43zM442.44 708.39h16.43v4.5h-16.43zM458.82 712.84h16.43v4.5h-16.43zM458.82 717.29h16.43v4.5h-16.43zM573.52 726.2h16.43v4.5h-16.43z"/><path fill="#c62227" d="M409.67 574.85h16.43v4.5h-16.43zM409.67 588.21h16.43v4.5h-16.43zM393.28 597.11h16.43v4.5h-16.43zM409.67 628.27h16.43v4.5h-16.43zM442.44 686.14h16.43v4.5h-16.43z"/><text x="592.2" y="566.98" font-size="7.7" font-weight="bold" fill="#222">ecotype</text><rect x="594.2" y="570.5" width="7.2" height="14.43" fill="#c62227"/><rect x="594.2" y="584.88" width="7.2" height="14.43" fill="#d65c5e"/><rect x="594.2" y="599.25" width="7.2" height="14.43" fill="#e59a9c"/><rect x="594.2" y="613.62" width="7.2" height="14.43" fill="#f5d8da"/><rect x="594.2" y="628" width="7.2" height="14.43" fill="#e1e4f3"/><rect x="594.2" y="642.38" width="7.2" height="14.43" fill="#a6b5e0"/><rect x="594.2" y="656.75" width="7.2" height="14.43" fill="#6e88cc"/><rect x="594.2" y="671.12" width="7.2" height="14.43" fill="#3b5fb2"/><text x="604.7" y="587.6" font-size="7.1" fill="#222">2</text><text x="604.7" y="609.5" font-size="7.1" fill="#222">1</text><text x="604.7" y="631.1" font-size="7.1" fill="#222">0</text><text x="604.7" y="652.7" font-size="7.1" fill="#222">-1</text><text x="604.7" y="674.8" font-size="7.1" fill="#222">-2</text><text x="616.1" y="576.2" font-size="7.7" font-weight="bold" fill="#222">ecotype</text><rect x="616.1" y="579" width="11.8" height="11.4" fill="#f5a11e"/><rect x="616.1" y="590.4" width="11.8" height="11.4" fill="#add8e6"/><text x="630" y="587.75" font-size="7.65" fill="#222">marine</text><text x="630" y="599.15" font-size="7.65" fill="#222">freshwater</text></g><g id="pg"><text transform="translate(15.8 766.35) scale(1 1.035)" font-size="17.4" font-weight="bold">(g)</text><text x="95.2" y="764.7" font-size="13.8" xml:space="preserve">DMCs  (brain, n=1,433)</text><path fill="none" stroke="#666" stroke-width="1.3" shape-rendering="auto" d="M82.26 814.7V804H98.65V814.7M65.88 814.7V803.3H90.45V804M49.49 814.7V802.4H78.17V803.3M131.42 814.7V802.6H147.8V814.7M115.03 814.7V801.9H139.61V802.6M63.83 802.4V801.5H127.32V801.9M196.95 814.7V799.5H213.34V814.7M180.57 814.7V798.1H205.15V799.5M229.72 814.7V798.1H246.11V814.7M192.86 798.1V797.3H237.92V798.1M164.18 814.7V796.6H215.39V797.3M95.57 801.5V773.7H189.79V796.6"/><rect x="41.3" y="814.7" width="16.68" height="7.8" fill="#add8e6"/><rect x="57.68" y="814.7" width="16.68" height="7.8" fill="#add8e6"/><rect x="74.07" y="814.7" width="16.68" height="7.8" fill="#add8e6"/><rect x="90.45" y="814.7" width="16.68" height="7.8" fill="#add8e6"/><rect x="106.84" y="814.7" width="16.68" height="7.8" fill="#add8e6"/><rect x="123.22" y="814.7" width="16.68" height="7.8" fill="#add8e6"/><rect x="139.61" y="814.7" width="16.68" height="7.8" fill="#add8e6"/><rect x="155.99" y="814.7" width="16.68" height="7.8" fill="#f5a11e"/><rect x="172.38" y="814.7" width="16.68" height="7.8" fill="#f5a11e"/><rect x="188.76" y="814.7" width="16.68" height="7.8" fill="#f5a11e"/><rect x="205.15" y="814.7" width="16.68" height="7.8" fill="#f5a11e"/><rect x="221.53" y="814.7" width="16.68" height="7.8" fill="#f5a11e"/><rect x="237.92" y="814.7" width="16.68" height="7.8" fill="#f5a11e"/><g transform="translate(41.3 824.8) scale(16.3846 1.2568)"><path fill="#5f7cc4" d="M1 48h1v1.15h-1zM10 80h1v1.15h-1z"/><path fill="#6984c9" d="M10 79h1v1.15h-1z"/><path fill="#748dce" d="M0 44h1v1.15h-1zM0 51h1v1.15h-1zM2 10h1v1.15h-1zM10 131h1v1.15h-1z"/><path fill="#7f96d2" d="M0 20h1v1.15h-1zM0 50h1v1.15h-1zM0 59h1v1.15h-1zM1 51h1v1.15h-1zM2 55h1v1.15h-1zM3 10h1v1.15h-1zM4 51h1v1.15h-1zM5 23h1v1.15h-1zM5 55h1v1.15h-1zM7 80h1v1.15h-1zM7 94h1v1.15h-1zM7 112h1v1.15h-1zM8 81h1v1.15h-1zM9 78h1v1.15h-1zM9 110h1v1.15h-1zM10 78h1v1.15h-1zM10 81h1v1.15h-1zM10 116h1v1.15h-1zM10 128h1v1.15h-1zM12 68h1v1.15h-1zM12 79h1v1.15h-1z"/><path fill="#8a9ed6" d="M0 27h1v1.15h-1zM0 48h1v1.15h-1zM0 55h1v1.15h-1zM1 9h1v1.15h-1zM1 23h1v1.15h-1zM1 57h1v1.15h-1zM2 53h1v1.15h-1zM3 55h1v1.15h-1zM4 12h1v1.15h-1zM4 44h1v2.15h-1zM4 61h1v1.15h-1zM5 30h1v1.15h-1zM6 44h1v2.15h-1zM6 65h1v1.15h-1zM7 70h1v1.15h-1zM7 105h1v1.15h-1zM7 120h1v1.15h-1zM7 127h1v1.15h-1zM9 77h1v1.15h-1zM9 88h1v1.15h-1zM9 109h1v1.15h-1zM9 111h1v1.15h-1zM9 121h1v1.15h-1zM10 74h1v1.15h-1zM10 91h1v1.15h-1zM10 122h1v1.15h-1zM10 126h1v2.15h-1zM10 129h1v2.15h-1zM11 94h1v1.15h-1zM11 118h1v1.15h-1zM12 109h1v1.15h-1zM12 116h1v1.15h-1zM12 119h1v1.15h-1zM12 125h1v1.15h-1z"/><path fill="#95a8da" d="M0 11h1v2.15h-1zM0 19h1v1.15h-1zM0 21h1v1.15h-1zM0 28h1v1.15h-1zM0 32h1v1.15h-1zM0 60h1v1.15h-1zM0 65h1v1.15h-1zM1 10h1v1.15h-1zM1 29h1v1.15h-1zM1 38h1v2.15h-1zM1 42h1v1.15h-1zM1 56h1v1.15h-1zM2 13h1v1.15h-1zM2 42h1v1.15h-1zM3 12h1v1.15h-1zM3 51h1v1.15h-1zM4 9h1v1.15h-1zM4 11h1v1.15h-1zM4 23h1v1.15h-1zM4 37h1v1.15h-1zM4 47h1v1.15h-1zM5 8h1v1.15h-1zM5 12h1v1.15h-1zM5 22h1v1.15h-1zM5 45h1v1.15h-1zM6 12h1v1.15h-1zM6 14h1v1.15h-1zM6 23h1v1.15h-1zM6 55h1v1.15h-1zM6 61h1v1.15h-1zM6 63h1v1.15h-1zM7 67h1v1.15h-1zM7 69h1v1.15h-1zM7 79h1v1.15h-1zM7 90h1v1.15h-1zM7 118h1v1.15h-1zM7 122h1v1.15h-1zM7 128h1v1.15h-1zM8 72h1v1.15h-1zM8 85h1v1.15h-1zM8 130h1v1.15h-1zM9 69h1v1.15h-1zM9 81h1v1.15h-1zM9 118h1v1.15h-1zM9 127h1v2.15h-1zM10 67h1v1.15h-1zM10 121h1v1.15h-1zM11 93h1v1.15h-1zM11 95h1v1.15h-1zM11 105h1v1.15h-1zM11 129h1v1.15h-1zM12 78h1v1.15h-1zM12 81h1v1.15h-1zM12 124h1v1.15h-1zM12 129h1v1.15h-1z"/><path fill="#a0b0de" d="M0 8h1v1.15h-1zM0 14h1v1.15h-1zM0 18h1v1.15h-1zM0 22h1v1.15h-1zM0 25h1v2.15h-1zM0 34h1v1.15h-1zM0 37h1v1.15h-1zM0 53h1v1.15h-1zM0 56h1v1.15h-1zM0 58h1v1.15h-1zM1 8h1v1.15h-1zM1 20h1v1.15h-1zM1 22h1v1.15h-1zM1 32h1v1.15h-1zM1 36h1v1.15h-1zM1 41h1v1.15h-1zM1 47h1v1.15h-1zM1 65h1v1.15h-1zM2 2h1v1.15h-1zM2 8h1v1.15h-1zM2 11h1v1.15h-1zM2 27h1v1.15h-1zM2 30h1v1.15h-1zM2 51h1v1.15h-1zM2 64h1v1.15h-1zM3 23h1v1.15h-1zM3 26h1v1.15h-1zM3 29h1v1.15h-1zM3 33h1v2.15h-1zM3 43h1v2.15h-1zM3 56h1v1.15h-1zM3 59h1v3.15h-1zM4 8h1v1.15h-1zM4 13h1v1.15h-1zM4 36h1v1.15h-1zM4 46h1v1.15h-1zM4 55h1v1.15h-1zM5 1h1v1.15h-1zM5 3h1v2.15h-1zM5 9h1v1.15h-1zM5 11h1v1.15h-1zM5 13h1v1.15h-1zM5 34h1v1.15h-1zM5 36h1v1.15h-1zM5 41h1v2.15h-1zM5 46h1v1.15h-1zM5 49h1v1.15h-1zM5 51h1v1.15h-1zM5 53h1v2.15h-1zM5 61h1v1.15h-1zM6 10h1v1.15h-1zM6 15h1v2.15h-1zM6 21h1v1.15h-1zM6 27h1v1.15h-1zM6 34h1v1.15h-1zM6 48h1v1.15h-1zM7 71h1v1.15h-1zM7 91h1v1.15h-1zM7 95h1v1.15h-1zM7 104h1v1.15h-1zM7 110h1v1.15h-1zM7 114h1v1.15h-1zM7 123h1v1.15h-1zM7 130h1v1.15h-1zM8 77h1v2.15h-1zM8 105h1v1.15h-1zM8 129h1v1.15h-1zM9 80h1v1.15h-1zM9 89h1v1.15h-1zM9 106h1v1.15h-1zM9 112h1v3.15h-1zM9 120h1v1.15h-1zM9 129h1v1.15h-1zM10 68h1v4.15h-1zM10 82h1v1.15h-1zM10 92h1v1.15h-1zM10 98h1v1.15h-1zM10 114h1v1.15h-1zM10 117h1v1.15h-1zM10 120h1v1.15h-1zM11 69h1v1.15h-1zM11 81h1v2.15h-1zM11 88h1v1.15h-1zM11 102h1v2.15h-1zM11 128h1v1.15h-1zM11 130h1v2.15h-1zM12 67h1v1.15h-1zM12 71h1v2.15h-1zM12 80h1v1.15h-1zM12 92h1v1.15h-1zM12 101h1v1.15h-1zM12 107h1v1.15h-1zM12 113h1v1.15h-1zM12 117h1v1.15h-1zM12 120h1v1.15h-1zM12 131h1v1.15h-1z"/><path fill="#acbae2" d="M0 13h1v1.15h-1zM0 23h1v1.15h-1zM0 38h1v1.15h-1zM0 41h1v1.15h-1zM0 49h1v1.15h-1zM0 61h1v1.15h-1zM1 0h1v1.15h-1zM1 7h1v1.15h-1zM1 12h1v2.15h-1zM1 26h1v1.15h-1zM1 28h1v1.15h-1zM1 37h1v1.15h-1zM1 46h1v1.15h-1zM1 49h1v2.15h-1zM1 54h1v2.15h-1zM1 58h1v1.15h-1zM1 64h1v1.15h-1zM2 5h1v1.15h-1zM2 9h1v1.15h-1zM2 22h1v2.15h-1zM2 25h1v2.15h-1zM2 28h1v2.15h-1zM2 32h1v3.15h-1zM2 36h1v2.15h-1zM2 41h1v1.15h-1zM2 44h1v2.15h-1zM2 48h1v1.15h-1zM2 56h1v1.15h-1zM2 61h1v1.15h-1zM2 63h1v1.15h-1zM3 3h1v1.15h-1zM3 9h1v1.15h-1zM3 11h1v1.15h-1zM3 13h1v1.15h-1zM3 17h1v2.15h-1zM3 20h1v1.15h-1zM3 22h1v1.15h-1zM3 27h1v2.15h-1zM3 32h1v1.15h-1zM3 42h1v1.15h-1zM3 45h1v1.15h-1zM3 53h1v1.15h-1zM4 2h1v1.15h-1zM4 10h1v1.15h-1zM4 17h1v1.15h-1zM4 19h1v1.15h-1zM4 30h1v1.15h-1zM4 34h1v1.15h-1zM4 38h1v2.15h-1zM4 43h1v1.15h-1zM4 48h1v1.15h-1zM4 52h1v2.15h-1zM4 56h1v1.15h-1zM4 62h1v2.15h-1zM4 65h1v1.15h-1zM5 2h1v1.15h-1zM5 6h1v2.15h-1zM5 21h1v1.15h-1zM5 44h1v1.15h-1zM5 56h1v1.15h-1zM5 58h1v1.15h-1zM5 60h1v1.15h-1zM6 6h1v1.15h-1zM6 11h1v1.15h-1zM6 13h1v1.15h-1zM6 17h1v2.15h-1zM6 22h1v1.15h-1zM6 25h1v1.15h-1zM6 28h1v2.15h-1zM6 36h1v1.15h-1zM6 39h1v2.15h-1zM6 43h1v1.15h-1zM6 51h1v3.15h-1zM6 56h1v1.15h-1zM6 59h1v1.15h-1zM6 62h1v1.15h-1zM6 64h1v1.15h-1zM7 72h1v2.15h-1zM7 78h1v1.15h-1zM7 81h1v1.15h-1zM7 83h1v1.15h-1zM7 99h1v1.15h-1zM7 101h1v1.15h-1zM7 107h1v1.15h-1zM7 116h1v1.15h-1zM7 119h1v1.15h-1zM7 131h1v1.15h-1zM8 69h1v1.15h-1zM8 74h1v1.15h-1zM8 76h1v1.15h-1zM8 123h1v1.15h-1zM8 126h1v2.15h-1zM9 70h1v1.15h-1zM9 79h1v1.15h-1zM9 84h1v1.15h-1zM9 96h1v2.15h-1zM9 117h1v1.15h-1zM9 130h1v1.15h-1zM10 66h1v1.15h-1zM10 89h1v1.15h-1zM10 93h1v3.15h-1zM10 97h1v1.15h-1zM10 107h1v1.15h-1zM10 118h1v1.15h-1zM10 124h1v1.15h-1zM11 77h1v1.15h-1zM11 79h1v1.15h-1zM11 96h1v1.15h-1zM11 99h1v1.15h-1zM11 104h1v1.15h-1zM11 109h1v1.15h-1zM11 114h1v2.15h-1zM11 125h1v1.15h-1zM11 127h1v1.15h-1zM12 75h1v2.15h-1zM12 82h1v2.15h-1zM12 88h1v1.15h-1zM12 93h1v3.15h-1zM12 99h1v1.15h-1zM12 108h1v1.15h-1zM12 112h1v1.15h-1zM12 114h1v2.15h-1zM12 126h1v1.15h-1z"/><path fill="#b8c3e6" d="M0 6h1v1.15h-1zM0 10h1v1.15h-1zM0 17h1v1.15h-1zM0 29h1v3.15h-1zM0 33h1v1.15h-1zM0 35h1v1.15h-1zM0 42h1v2.15h-1zM0 45h1v2.15h-1zM0 52h1v1.15h-1zM0 57h1v1.15h-1zM1 1h1v1.15h-1zM1 11h1v1.15h-1zM1 17h1v1.15h-1zM1 21h1v1.15h-1zM1 27h1v1.15h-1zM1 30h1v2.15h-1zM1 34h1v1.15h-1zM1 44h1v2.15h-1zM1 61h1v1.15h-1zM2 3h1v1.15h-1zM2 12h1v1.15h-1zM2 18h1v1.15h-1zM2 21h1v1.15h-1zM2 43h1v1.15h-1zM2 50h1v1.15h-1zM2 52h1v1.15h-1zM2 59h1v1.15h-1zM2 62h1v1.15h-1zM2 65h1v1.15h-1zM3 2h1v1.15h-1zM3 8h1v1.15h-1zM3 19h1v1.15h-1zM3 21h1v1.15h-1zM3 30h1v1.15h-1zM3 35h1v1.15h-1zM3 46h1v1.15h-1zM3 57h1v1.15h-1zM3 63h1v1.15h-1zM4 18h1v1.15h-1zM4 22h1v1.15h-1zM4 26h1v1.15h-1zM4 29h1v1.15h-1zM4 40h1v1.15h-1zM4 49h1v1.15h-1zM4 54h1v1.15h-1zM5 5h1v1.15h-1zM5 25h1v1.15h-1zM5 29h1v1.15h-1zM5 32h1v1.15h-1zM5 47h1v2.15h-1zM5 50h1v1.15h-1zM5 52h1v1.15h-1zM5 57h1v1.15h-1zM5 59h1v1.15h-1zM6 2h1v1.15h-1zM6 5h1v1.15h-1zM6 7h1v1.15h-1zM6 9h1v1.15h-1zM6 24h1v1.15h-1zM6 32h1v1.15h-1zM6 35h1v1.15h-1zM6 38h1v1.15h-1zM6 41h1v1.15h-1zM6 47h1v1.15h-1zM6 49h1v1.15h-1zM6 60h1v1.15h-1zM7 66h1v1.15h-1zM7 76h1v2.15h-1zM7 82h1v1.15h-1zM7 87h1v1.15h-1zM7 89h1v1.15h-1zM7 92h1v2.15h-1zM7 113h1v1.15h-1zM7 117h1v1.15h-1zM7 121h1v1.15h-1zM7 126h1v1.15h-1zM8 79h1v2.15h-1zM8 82h1v1.15h-1zM8 84h1v1.15h-1zM8 87h1v1.15h-1zM8 99h1v1.15h-1zM8 106h1v1.15h-1zM8 109h1v1.15h-1zM8 112h1v1.15h-1zM8 114h1v1.15h-1zM8 124h1v2.15h-1zM9 66h1v1.15h-1zM9 71h1v1.15h-1zM9 82h1v1.15h-1zM9 87h1v1.15h-1zM9 95h1v1.15h-1zM9 99h1v1.15h-1zM9 105h1v1.15h-1zM9 115h1v2.15h-1zM9 125h1v2.15h-1zM9 131h1v1.15h-1zM10 73h1v1.15h-1zM10 83h1v1.15h-1zM10 90h1v1.15h-1zM10 96h1v1.15h-1zM10 99h1v2.15h-1zM10 105h1v2.15h-1zM10 115h1v1.15h-1zM10 119h1v1.15h-1zM10 123h1v1.15h-1zM10 125h1v1.15h-1zM11 67h1v1.15h-1zM11 80h1v1.15h-1zM11 89h1v1.15h-1zM11 91h1v2.15h-1zM11 97h1v1.15h-1zM11 101h1v1.15h-1zM11 107h1v2.15h-1zM11 112h1v1.15h-1zM11 123h1v1.15h-1zM12 73h1v2.15h-1zM12 104h1v2.15h-1zM12 110h1v1.15h-1zM12 127h1v2.15h-1zM12 130h1v1.15h-1z"/><path fill="#c4ccea" d="M0 3h1v1.15h-1zM0 5h1v1.15h-1zM0 9h1v1.15h-1zM0 15h1v2.15h-1zM0 24h1v1.15h-1zM0 36h1v1.15h-1zM0 39h1v2.15h-1zM0 47h1v1.15h-1zM0 54h1v1.15h-1zM0 64h1v1.15h-1zM1 2h1v2.15h-1zM1 6h1v1.15h-1zM1 14h1v1.15h-1zM1 16h1v1.15h-1zM1 18h1v1.15h-1zM1 25h1v1.15h-1zM1 33h1v1.15h-1zM1 53h1v1.15h-1zM1 59h1v1.15h-1zM1 63h1v1.15h-1zM2 0h1v2.15h-1zM2 14h1v2.15h-1zM2 19h1v1.15h-1zM2 35h1v1.15h-1zM2 39h1v2.15h-1zM2 47h1v1.15h-1zM2 49h1v1.15h-1zM2 54h1v1.15h-1zM2 57h1v2.15h-1zM3 1h1v1.15h-1zM3 4h1v1.15h-1zM3 6h1v2.15h-1zM3 16h1v1.15h-1zM3 24h1v1.15h-1zM3 31h1v1.15h-1zM3 36h1v3.15h-1zM3 41h1v1.15h-1zM3 50h1v1.15h-1zM3 52h1v1.15h-1zM3 54h1v1.15h-1zM3 58h1v1.15h-1zM3 62h1v1.15h-1zM4 0h1v2.15h-1zM4 3h1v1.15h-1zM4 6h1v1.15h-1zM4 14h1v2.15h-1zM4 20h1v1.15h-1zM4 25h1v1.15h-1zM4 27h1v2.15h-1zM4 32h1v2.15h-1zM4 41h1v2.15h-1zM4 50h1v1.15h-1zM4 60h1v1.15h-1zM5 0h1v1.15h-1zM5 10h1v1.15h-1zM5 14h1v1.15h-1zM5 16h1v1.15h-1zM5 20h1v1.15h-1zM5 24h1v1.15h-1zM5 27h1v2.15h-1zM5 31h1v1.15h-1zM5 33h1v1.15h-1zM5 35h1v1.15h-1zM5 37h1v3.15h-1zM5 63h1v3.15h-1zM6 4h1v1.15h-1zM6 8h1v1.15h-1zM6 19h1v2.15h-1zM6 26h1v1.15h-1zM6 33h1v1.15h-1zM6 37h1v1.15h-1zM6 42h1v1.15h-1zM6 46h1v1.15h-1zM6 50h1v1.15h-1zM6 54h1v1.15h-1zM6 57h1v2.15h-1zM7 68h1v1.15h-1zM7 84h1v1.15h-1zM7 98h1v1.15h-1zM7 109h1v1.15h-1zM7 111h1v1.15h-1zM7 124h1v2.15h-1zM7 129h1v1.15h-1zM8 67h1v1.15h-1zM8 70h1v2.15h-1zM8 73h1v1.15h-1zM8 86h1v1.15h-1zM8 88h1v4.15h-1zM8 97h1v1.15h-1zM8 101h1v2.15h-1zM8 104h1v1.15h-1zM8 119h1v1.15h-1zM9 67h1v1.15h-1zM9 75h1v2.15h-1zM9 85h1v1.15h-1zM9 94h1v1.15h-1zM9 122h1v3.15h-1zM10 77h1v1.15h-1zM10 85h1v1.15h-1zM10 88h1v1.15h-1zM10 101h1v1.15h-1zM10 104h1v1.15h-1zM10 110h1v1.15h-1zM11 71h1v2.15h-1zM11 85h1v1.15h-1zM11 98h1v1.15h-1zM11 100h1v1.15h-1zM11 111h1v1.15h-1zM11 113h1v1.15h-1zM11 120h1v1.15h-1zM11 124h1v1.15h-1zM11 126h1v1.15h-1zM12 77h1v1.15h-1zM12 85h1v2.15h-1zM12 89h1v1.15h-1zM12 111h1v1.15h-1zM12 118h1v1.15h-1z"/><path fill="#cfd6ed" d="M0 1h1v2.15h-1zM0 7h1v1.15h-1zM0 62h1v1.15h-1zM1 4h1v1.15h-1zM1 35h1v1.15h-1zM1 43h1v1.15h-1zM1 52h1v1.15h-1zM1 60h1v1.15h-1zM2 4h1v1.15h-1zM2 6h1v2.15h-1zM2 17h1v1.15h-1zM2 20h1v1.15h-1zM2 24h1v1.15h-1zM2 31h1v1.15h-1zM2 46h1v1.15h-1zM3 0h1v1.15h-1zM3 5h1v1.15h-1zM3 15h1v1.15h-1zM3 40h1v1.15h-1zM3 47h1v2.15h-1zM3 64h1v2.15h-1zM4 35h1v1.15h-1zM4 57h1v1.15h-1zM4 59h1v1.15h-1zM4 64h1v1.15h-1zM5 17h1v1.15h-1zM5 19h1v1.15h-1zM5 40h1v1.15h-1zM5 43h1v1.15h-1zM6 0h1v1.15h-1zM6 3h1v1.15h-1zM6 30h1v2.15h-1zM7 88h1v1.15h-1zM7 102h1v2.15h-1zM8 75h1v1.15h-1zM8 92h1v1.15h-1zM8 100h1v1.15h-1zM8 108h1v1.15h-1zM8 113h1v1.15h-1zM8 117h1v1.15h-1zM8 122h1v1.15h-1zM8 128h1v1.15h-1zM8 131h1v1.15h-1zM9 68h1v1.15h-1zM9 72h1v2.15h-1zM9 83h1v1.15h-1zM9 91h1v1.15h-1zM9 93h1v1.15h-1zM9 100h1v2.15h-1zM9 107h1v2.15h-1zM9 119h1v1.15h-1zM10 84h1v1.15h-1zM10 108h1v1.15h-1zM10 112h1v1.15h-1zM11 66h1v1.15h-1zM11 73h1v1.15h-1zM11 75h1v1.15h-1zM11 78h1v1.15h-1zM11 83h1v1.15h-1zM11 86h1v1.15h-1zM11 119h1v1.15h-1zM11 121h1v1.15h-1zM12 69h1v1.15h-1zM12 84h1v1.15h-1zM12 87h1v1.15h-1zM12 100h1v1.15h-1zM12 106h1v1.15h-1zM12 123h1v1.15h-1z"/><path fill="#dbdff1" d="M0 0h1v1.15h-1zM0 4h1v1.15h-1zM0 63h1v1.15h-1zM1 5h1v1.15h-1zM1 15h1v1.15h-1zM1 19h1v1.15h-1zM1 40h1v1.15h-1zM2 38h1v1.15h-1zM2 60h1v1.15h-1zM3 14h1v1.15h-1zM3 25h1v1.15h-1zM3 39h1v1.15h-1zM3 49h1v1.15h-1zM4 7h1v1.15h-1zM4 16h1v1.15h-1zM4 21h1v1.15h-1zM4 24h1v1.15h-1zM5 15h1v1.15h-1zM5 18h1v1.15h-1zM5 26h1v1.15h-1zM5 62h1v1.15h-1zM6 1h1v1.15h-1zM7 74h1v2.15h-1zM7 85h1v2.15h-1zM7 96h1v2.15h-1zM7 106h1v1.15h-1zM7 115h1v1.15h-1zM8 68h1v1.15h-1zM8 83h1v1.15h-1zM8 96h1v1.15h-1zM8 98h1v1.15h-1zM8 103h1v1.15h-1zM8 107h1v1.15h-1zM8 115h1v2.15h-1zM8 118h1v1.15h-1zM8 120h1v1.15h-1zM9 74h1v1.15h-1zM9 90h1v1.15h-1zM9 98h1v1.15h-1zM9 102h1v1.15h-1zM10 72h1v1.15h-1zM10 76h1v1.15h-1zM10 102h1v2.15h-1zM10 109h1v1.15h-1zM11 68h1v1.15h-1zM11 70h1v1.15h-1zM11 76h1v1.15h-1zM11 84h1v1.15h-1zM11 87h1v1.15h-1zM11 117h1v1.15h-1zM12 70h1v1.15h-1zM12 103h1v1.15h-1z"/><path fill="#e3e3f1" d="M0 95h1v1.15h-1zM1 24h1v1.15h-1zM1 62h1v1.15h-1zM4 4h1v2.15h-1zM4 31h1v1.15h-1zM4 58h1v1.15h-1zM7 100h1v1.15h-1zM7 108h1v1.15h-1zM8 94h1v1.15h-1zM8 111h1v1.15h-1zM9 92h1v1.15h-1zM9 103h1v1.15h-1zM10 75h1v1.15h-1zM10 86h1v1.15h-1zM10 113h1v1.15h-1zM11 74h1v1.15h-1zM11 90h1v1.15h-1zM11 106h1v1.15h-1zM11 116h1v1.15h-1zM12 66h1v1.15h-1zM12 91h1v1.15h-1zM12 96h1v1.15h-1zM12 98h1v1.15h-1zM12 102h1v1.15h-1z"/><path fill="#e7e0ec" d="M2 16h1v1.15h-1zM5 73h1v1.15h-1zM5 77h1v1.15h-1zM8 93h1v1.15h-1zM8 110h1v1.15h-1zM8 121h1v1.15h-1zM9 2h1v1.15h-1zM9 104h1v1.15h-1zM10 111h1v1.15h-1zM11 122h1v1.15h-1zM12 90h1v1.15h-1zM12 97h1v1.15h-1zM12 121h1v1.15h-1z"/><path fill="#ebdee6" d="M0 96h1v1.15h-1zM3 117h1v1.15h-1zM6 102h1v1.15h-1zM8 18h1v1.15h-1zM8 66h1v1.15h-1zM8 95h1v1.15h-1zM9 21h1v1.15h-1zM9 34h1v1.15h-1zM9 86h1v1.15h-1zM11 110h1v1.15h-1zM12 7h1v1.15h-1z"/><path fill="#efdce2" d="M0 74h1v1.15h-1zM0 85h1v1.15h-1zM1 85h1v1.15h-1zM1 126h1v1.15h-1zM3 74h1v1.15h-1zM4 68h1v1.15h-1zM4 76h1v1.15h-1zM4 103h1v1.15h-1zM5 117h1v1.15h-1zM5 126h1v1.15h-1zM6 76h1v1.15h-1zM6 101h1v1.15h-1zM8 14h1v1.15h-1zM8 16h1v1.15h-1zM9 36h1v1.15h-1zM9 54h1v1.15h-1zM10 87h1v1.15h-1zM11 0h1v1.15h-1zM12 122h1v1.15h-1z"/><path fill="#f3d9dc" d="M0 66h1v1.15h-1zM0 70h1v1.15h-1zM0 92h1v1.15h-1zM0 104h1v1.15h-1zM0 126h1v1.15h-1zM1 71h1v1.15h-1zM1 90h1v1.15h-1zM1 93h1v1.15h-1zM1 102h1v1.15h-1zM2 75h1v1.15h-1zM2 79h1v1.15h-1zM2 99h1v1.15h-1zM2 101h1v1.15h-1zM2 106h1v1.15h-1zM3 73h1v1.15h-1zM3 84h1v1.15h-1zM3 115h1v1.15h-1zM4 70h1v1.15h-1zM4 72h1v1.15h-1zM4 77h1v1.15h-1zM4 102h1v1.15h-1zM5 96h1v1.15h-1zM5 99h1v1.15h-1zM5 101h1v1.15h-1zM5 103h1v1.15h-1zM5 131h1v1.15h-1zM6 74h1v2.15h-1zM6 96h1v1.15h-1zM6 103h1v1.15h-1zM6 106h1v1.15h-1zM7 3h1v2.15h-1zM7 17h1v1.15h-1zM7 22h1v1.15h-1zM7 35h1v1.15h-1zM7 37h1v1.15h-1zM7 58h1v1.15h-1zM7 60h1v1.15h-1zM8 2h1v1.15h-1zM8 20h1v1.15h-1zM9 22h1v2.15h-1zM9 35h1v1.15h-1zM10 29h1v1.15h-1zM10 65h1v1.15h-1zM12 0h1v1.15h-1zM12 17h1v1.15h-1zM12 40h1v1.15h-1z"/><path fill="#f3d2d4" d="M0 75h1v1.15h-1zM0 77h1v1.15h-1zM0 80h1v1.15h-1zM0 97h1v1.15h-1zM0 103h1v1.15h-1zM0 113h1v1.15h-1zM0 115h1v1.15h-1zM0 118h1v1.15h-1zM1 66h1v1.15h-1zM1 68h1v1.15h-1zM1 73h1v1.15h-1zM1 83h1v1.15h-1zM1 101h1v1.15h-1zM1 115h1v2.15h-1zM2 71h1v1.15h-1zM2 83h1v2.15h-1zM2 97h1v2.15h-1zM2 103h1v1.15h-1zM2 120h1v2.15h-1zM3 72h1v1.15h-1zM3 79h1v1.15h-1zM3 89h1v1.15h-1zM3 93h1v1.15h-1zM3 116h1v1.15h-1zM3 119h1v1.15h-1zM4 71h1v1.15h-1zM4 94h1v3.15h-1zM4 100h1v1.15h-1zM4 107h1v1.15h-1zM4 113h1v1.15h-1zM4 115h1v1.15h-1zM4 130h1v1.15h-1zM5 71h1v2.15h-1zM5 78h1v1.15h-1zM5 100h1v1.15h-1zM5 102h1v1.15h-1zM5 123h1v1.15h-1zM6 79h1v1.15h-1zM6 89h1v1.15h-1zM6 108h1v1.15h-1zM6 110h1v1.15h-1zM7 5h1v1.15h-1zM7 21h1v1.15h-1zM7 24h1v1.15h-1zM7 36h1v1.15h-1zM7 50h1v1.15h-1zM8 19h1v1.15h-1zM8 63h1v1.15h-1zM9 8h1v1.15h-1zM9 61h1v1.15h-1zM10 30h1v1.15h-1zM11 3h1v1.15h-1zM11 42h1v1.15h-1zM11 46h1v1.15h-1zM12 21h1v1.15h-1zM12 35h1v1.15h-1zM12 39h1v1.15h-1zM12 55h1v2.15h-1z"/><path fill="#f0c5c7" d="M0 67h1v1.15h-1zM0 69h1v1.15h-1zM0 71h1v2.15h-1zM0 76h1v1.15h-1zM0 86h1v1.15h-1zM0 91h1v1.15h-1zM0 99h1v2.15h-1zM0 102h1v1.15h-1zM0 117h1v1.15h-1zM0 119h1v1.15h-1zM0 123h1v1.15h-1zM1 76h1v1.15h-1zM1 78h1v4.15h-1zM1 86h1v2.15h-1zM1 94h1v2.15h-1zM1 103h1v2.15h-1zM1 114h1v1.15h-1zM1 117h1v1.15h-1zM1 127h1v1.15h-1zM2 68h1v1.15h-1zM2 72h1v1.15h-1zM2 74h1v1.15h-1zM2 94h1v3.15h-1zM2 112h1v1.15h-1zM2 117h1v1.15h-1zM2 119h1v1.15h-1zM3 86h1v2.15h-1zM3 90h1v1.15h-1zM3 92h1v1.15h-1zM3 94h1v1.15h-1zM3 96h1v1.15h-1zM3 101h1v1.15h-1zM3 103h1v1.15h-1zM3 108h1v1.15h-1zM4 66h1v1.15h-1zM4 73h1v1.15h-1zM4 75h1v1.15h-1zM4 83h1v1.15h-1zM4 92h1v2.15h-1zM4 101h1v1.15h-1zM4 111h1v1.15h-1zM4 114h1v1.15h-1zM4 120h1v1.15h-1zM5 68h1v1.15h-1zM5 76h1v1.15h-1zM5 91h1v2.15h-1zM5 97h1v2.15h-1zM5 107h1v1.15h-1zM5 124h1v1.15h-1zM5 127h1v1.15h-1zM5 130h1v1.15h-1zM6 66h1v1.15h-1zM6 77h1v2.15h-1zM6 84h1v3.15h-1zM6 95h1v1.15h-1zM6 100h1v1.15h-1zM6 109h1v1.15h-1zM6 125h1v2.15h-1zM6 131h1v1.15h-1zM7 7h1v1.15h-1zM7 14h1v1.15h-1zM7 16h1v1.15h-1zM7 20h1v1.15h-1zM7 23h1v1.15h-1zM7 44h1v1.15h-1zM7 51h1v1.15h-1zM7 62h1v1.15h-1zM8 0h1v1.15h-1zM8 6h1v1.15h-1zM8 17h1v1.15h-1zM8 21h1v1.15h-1zM8 24h1v1.15h-1zM8 39h1v2.15h-1zM8 62h1v1.15h-1zM9 1h1v1.15h-1zM9 9h1v1.15h-1zM9 20h1v1.15h-1zM9 39h1v1.15h-1zM9 55h1v1.15h-1zM10 17h1v2.15h-1zM10 20h1v1.15h-1zM10 31h1v1.15h-1zM10 37h1v1.15h-1zM10 60h1v1.15h-1zM11 19h1v1.15h-1zM11 30h1v1.15h-1zM11 33h1v1.15h-1zM11 43h1v3.15h-1zM11 65h1v1.15h-1zM12 6h1v1.15h-1zM12 15h1v1.15h-1zM12 18h1v2.15h-1zM12 22h1v1.15h-1zM12 24h1v1.15h-1zM12 41h1v1.15h-1z"/><path fill="#edb9bb" d="M0 78h1v2.15h-1zM0 89h1v1.15h-1zM0 94h1v1.15h-1zM0 101h1v1.15h-1zM0 107h1v3.15h-1zM0 120h1v3.15h-1zM0 125h1v1.15h-1zM0 127h1v2.15h-1zM1 67h1v1.15h-1zM1 69h1v1.15h-1zM1 75h1v1.15h-1zM1 77h1v1.15h-1zM1 84h1v1.15h-1zM1 89h1v1.15h-1zM1 92h1v1.15h-1zM1 96h1v1.15h-1zM1 100h1v1.15h-1zM1 105h1v2.15h-1zM1 112h1v1.15h-1zM1 125h1v1.15h-1zM2 73h1v1.15h-1zM2 77h1v2.15h-1zM2 100h1v1.15h-1zM2 102h1v1.15h-1zM2 109h1v1.15h-1zM2 113h1v1.15h-1zM3 75h1v2.15h-1zM3 78h1v1.15h-1zM3 80h1v1.15h-1zM3 88h1v1.15h-1zM3 91h1v1.15h-1zM3 95h1v1.15h-1zM3 98h1v1.15h-1zM3 102h1v1.15h-1zM3 107h1v1.15h-1zM3 113h1v1.15h-1zM3 118h1v1.15h-1zM3 125h1v1.15h-1zM4 69h1v1.15h-1zM4 78h1v1.15h-1zM4 85h1v1.15h-1zM4 90h1v1.15h-1zM4 97h1v1.15h-1zM4 104h1v1.15h-1zM4 106h1v1.15h-1zM4 117h1v2.15h-1zM4 122h1v2.15h-1zM4 129h1v1.15h-1zM5 66h1v2.15h-1zM5 79h1v1.15h-1zM5 84h1v1.15h-1zM5 86h1v1.15h-1zM5 89h1v1.15h-1zM5 93h1v1.15h-1zM5 106h1v1.15h-1zM5 113h1v1.15h-1zM5 118h1v1.15h-1zM6 68h1v1.15h-1zM6 70h1v2.15h-1zM6 87h1v2.15h-1zM6 90h1v1.15h-1zM6 98h1v2.15h-1zM6 107h1v1.15h-1zM6 121h1v1.15h-1zM6 124h1v1.15h-1zM7 15h1v1.15h-1zM7 29h1v1.15h-1zM7 33h1v1.15h-1zM7 46h1v3.15h-1zM7 59h1v1.15h-1zM7 65h1v1.15h-1zM8 1h1v1.15h-1zM8 7h1v1.15h-1zM8 15h1v1.15h-1zM8 25h1v1.15h-1zM8 36h1v1.15h-1zM8 38h1v1.15h-1zM8 43h1v1.15h-1zM8 45h1v2.15h-1zM8 52h1v1.15h-1zM8 58h1v1.15h-1zM9 25h1v1.15h-1zM9 37h1v1.15h-1zM9 46h1v1.15h-1zM9 58h1v1.15h-1zM10 9h1v1.15h-1zM10 19h1v1.15h-1zM10 22h1v1.15h-1zM10 28h1v1.15h-1zM10 36h1v1.15h-1zM10 42h1v1.15h-1zM10 57h1v1.15h-1zM10 63h1v1.15h-1zM11 2h1v1.15h-1zM11 11h1v1.15h-1zM11 15h1v1.15h-1zM11 17h1v1.15h-1zM11 20h1v1.15h-1zM11 31h1v1.15h-1zM11 39h1v2.15h-1zM11 47h1v1.15h-1zM11 49h1v1.15h-1zM11 62h1v1.15h-1zM11 64h1v1.15h-1zM12 16h1v1.15h-1zM12 20h1v1.15h-1zM12 38h1v1.15h-1zM12 57h1v1.15h-1z"/><path fill="#eaadaf" d="M0 68h1v1.15h-1zM0 73h1v1.15h-1zM0 82h1v1.15h-1zM0 84h1v1.15h-1zM0 93h1v1.15h-1zM0 98h1v1.15h-1zM0 110h1v1.15h-1zM0 114h1v1.15h-1zM0 129h1v1.15h-1zM1 70h1v1.15h-1zM1 72h1v1.15h-1zM1 91h1v1.15h-1zM1 111h1v1.15h-1zM1 113h1v1.15h-1zM1 120h1v2.15h-1zM1 123h1v2.15h-1zM2 66h1v1.15h-1zM2 76h1v1.15h-1zM2 80h1v1.15h-1zM2 107h1v2.15h-1zM2 111h1v1.15h-1zM2 122h1v2.15h-1zM2 126h1v1.15h-1zM3 68h1v1.15h-1zM3 70h1v2.15h-1zM3 83h1v1.15h-1zM3 100h1v1.15h-1zM3 114h1v1.15h-1zM3 126h1v1.15h-1zM4 74h1v1.15h-1zM4 81h1v2.15h-1zM4 86h1v1.15h-1zM4 89h1v1.15h-1zM4 91h1v1.15h-1zM4 98h1v2.15h-1zM4 108h1v1.15h-1zM5 74h1v2.15h-1zM5 80h1v1.15h-1zM5 83h1v1.15h-1zM5 90h1v1.15h-1zM5 95h1v1.15h-1zM5 104h1v1.15h-1zM5 108h1v1.15h-1zM5 111h1v1.15h-1zM5 115h1v2.15h-1zM5 122h1v1.15h-1zM6 67h1v1.15h-1zM6 72h1v1.15h-1zM6 80h1v1.15h-1zM6 83h1v1.15h-1zM6 97h1v1.15h-1zM6 111h1v1.15h-1zM6 119h1v1.15h-1zM7 2h1v1.15h-1zM7 18h1v1.15h-1zM7 41h1v2.15h-1zM7 45h1v1.15h-1zM7 52h1v1.15h-1zM7 61h1v1.15h-1zM8 3h1v1.15h-1zM8 8h1v1.15h-1zM8 12h1v1.15h-1zM8 22h1v1.15h-1zM8 33h1v1.15h-1zM8 41h1v2.15h-1zM8 44h1v1.15h-1zM8 48h1v1.15h-1zM8 53h1v1.15h-1zM8 56h1v1.15h-1zM8 59h1v1.15h-1zM8 61h1v1.15h-1zM9 3h1v1.15h-1zM9 17h1v1.15h-1zM9 24h1v1.15h-1zM9 27h1v1.15h-1zM9 29h1v1.15h-1zM9 32h1v1.15h-1zM9 38h1v1.15h-1zM9 44h1v1.15h-1zM9 52h1v1.15h-1zM9 57h1v1.15h-1zM9 65h1v1.15h-1zM10 15h1v1.15h-1zM10 33h1v1.15h-1zM10 49h1v1.15h-1zM10 51h1v1.15h-1zM10 58h1v2.15h-1zM10 64h1v1.15h-1zM11 1h1v1.15h-1zM11 4h1v1.15h-1zM11 7h1v1.15h-1zM11 9h1v2.15h-1zM11 41h1v1.15h-1zM11 48h1v1.15h-1zM11 52h1v1.15h-1zM11 63h1v1.15h-1zM12 4h1v2.15h-1zM12 9h1v1.15h-1zM12 14h1v1.15h-1zM12 31h1v1.15h-1zM12 33h1v1.15h-1zM12 50h1v1.15h-1zM12 53h1v1.15h-1zM12 63h1v2.15h-1z"/><path fill="#e7a0a2" d="M0 83h1v1.15h-1zM0 88h1v1.15h-1zM0 112h1v1.15h-1zM0 116h1v1.15h-1zM0 124h1v1.15h-1zM0 130h1v2.15h-1zM1 74h1v1.15h-1zM1 98h1v1.15h-1zM1 107h1v2.15h-1zM1 110h1v1.15h-1zM1 122h1v1.15h-1zM1 128h1v2.15h-1zM2 67h1v1.15h-1zM2 69h1v1.15h-1zM2 81h1v2.15h-1zM2 91h1v1.15h-1zM2 104h1v1.15h-1zM2 110h1v1.15h-1zM2 115h1v2.15h-1zM2 118h1v1.15h-1zM2 129h1v1.15h-1zM3 82h1v1.15h-1zM3 85h1v1.15h-1zM3 97h1v1.15h-1zM3 99h1v1.15h-1zM3 109h1v1.15h-1zM3 111h1v2.15h-1zM3 120h1v2.15h-1zM3 131h1v1.15h-1zM4 67h1v1.15h-1zM4 80h1v1.15h-1zM4 84h1v1.15h-1zM4 88h1v1.15h-1zM4 105h1v1.15h-1zM4 112h1v1.15h-1zM4 116h1v1.15h-1zM4 119h1v1.15h-1zM4 126h1v1.15h-1zM4 128h1v1.15h-1zM4 131h1v1.15h-1zM5 69h1v2.15h-1zM5 82h1v1.15h-1zM5 85h1v1.15h-1zM5 105h1v1.15h-1zM5 109h1v2.15h-1zM5 112h1v1.15h-1zM5 114h1v1.15h-1zM6 69h1v1.15h-1zM6 73h1v1.15h-1zM6 91h1v2.15h-1zM6 113h1v1.15h-1zM6 115h1v1.15h-1zM6 118h1v1.15h-1zM6 123h1v1.15h-1zM6 130h1v1.15h-1zM7 6h1v1.15h-1zM7 19h1v1.15h-1zM7 26h1v1.15h-1zM7 34h1v1.15h-1zM7 39h1v1.15h-1zM7 53h1v1.15h-1zM8 4h1v1.15h-1zM8 13h1v1.15h-1zM8 32h1v1.15h-1zM8 34h1v2.15h-1zM8 47h1v1.15h-1zM8 51h1v1.15h-1zM8 64h1v1.15h-1zM9 0h1v1.15h-1zM9 7h1v1.15h-1zM9 16h1v1.15h-1zM9 19h1v1.15h-1zM9 33h1v1.15h-1zM9 59h1v2.15h-1zM9 62h1v2.15h-1zM10 0h1v2.15h-1zM10 12h1v1.15h-1zM10 14h1v1.15h-1zM10 16h1v1.15h-1zM10 24h1v1.15h-1zM10 26h1v2.15h-1zM10 35h1v1.15h-1zM10 41h1v1.15h-1zM10 50h1v1.15h-1zM10 56h1v1.15h-1zM11 12h1v1.15h-1zM11 16h1v1.15h-1zM11 18h1v1.15h-1zM11 24h1v2.15h-1zM11 35h1v1.15h-1zM11 50h1v1.15h-1zM11 54h1v2.15h-1zM12 2h1v2.15h-1zM12 8h1v1.15h-1zM12 13h1v1.15h-1zM12 23h1v1.15h-1zM12 25h1v1.15h-1zM12 34h1v1.15h-1zM12 36h1v1.15h-1zM12 58h1v1.15h-1zM12 62h1v1.15h-1zM12 65h1v1.15h-1z"/><path fill="#e39496" d="M0 81h1v1.15h-1zM0 87h1v1.15h-1zM0 90h1v1.15h-1zM0 106h1v1.15h-1zM1 82h1v1.15h-1zM1 88h1v1.15h-1zM1 99h1v1.15h-1zM1 109h1v1.15h-1zM1 118h1v2.15h-1zM1 130h1v1.15h-1zM2 70h1v1.15h-1zM2 85h1v4.15h-1zM2 90h1v1.15h-1zM2 93h1v1.15h-1zM2 105h1v1.15h-1zM2 128h1v1.15h-1zM2 131h1v1.15h-1zM3 66h1v1.15h-1zM3 77h1v1.15h-1zM3 81h1v1.15h-1zM3 104h1v1.15h-1zM3 110h1v1.15h-1zM3 124h1v1.15h-1zM4 79h1v1.15h-1zM4 87h1v1.15h-1zM4 121h1v1.15h-1zM4 124h1v1.15h-1zM5 81h1v1.15h-1zM5 87h1v1.15h-1zM5 94h1v1.15h-1zM5 121h1v1.15h-1zM5 125h1v1.15h-1zM5 128h1v2.15h-1zM6 93h1v1.15h-1zM6 104h1v1.15h-1zM6 120h1v1.15h-1zM6 122h1v1.15h-1zM7 0h1v1.15h-1zM7 8h1v1.15h-1zM7 25h1v1.15h-1zM7 38h1v1.15h-1zM7 49h1v1.15h-1zM7 57h1v1.15h-1zM7 63h1v1.15h-1zM8 5h1v1.15h-1zM8 26h1v2.15h-1zM8 30h1v1.15h-1zM8 37h1v1.15h-1zM8 49h1v1.15h-1zM8 57h1v1.15h-1zM8 60h1v1.15h-1zM9 4h1v2.15h-1zM9 11h1v1.15h-1zM9 14h1v2.15h-1zM9 26h1v1.15h-1zM9 31h1v1.15h-1zM9 42h1v2.15h-1zM9 47h1v1.15h-1zM9 49h1v1.15h-1zM9 51h1v1.15h-1zM9 53h1v1.15h-1zM10 2h1v2.15h-1zM10 8h1v1.15h-1zM10 11h1v1.15h-1zM10 13h1v1.15h-1zM10 34h1v1.15h-1zM10 40h1v1.15h-1zM10 43h1v1.15h-1zM10 47h1v2.15h-1zM10 53h1v2.15h-1zM11 5h1v1.15h-1zM11 8h1v1.15h-1zM11 21h1v3.15h-1zM11 34h1v1.15h-1zM11 38h1v1.15h-1zM12 1h1v1.15h-1zM12 12h1v1.15h-1zM12 29h1v1.15h-1zM12 48h1v1.15h-1zM12 52h1v1.15h-1z"/><path fill="#e08789" d="M0 105h1v1.15h-1zM0 111h1v1.15h-1zM1 97h1v1.15h-1zM2 89h1v1.15h-1zM2 114h1v1.15h-1zM2 125h1v1.15h-1zM2 127h1v1.15h-1zM2 130h1v1.15h-1zM3 67h1v1.15h-1zM3 69h1v1.15h-1zM3 106h1v1.15h-1zM3 123h1v1.15h-1zM3 129h1v1.15h-1zM4 125h1v1.15h-1zM5 120h1v1.15h-1zM6 114h1v1.15h-1zM6 116h1v1.15h-1zM7 10h1v2.15h-1zM7 27h1v2.15h-1zM7 32h1v1.15h-1zM7 40h1v1.15h-1zM7 43h1v1.15h-1zM7 55h1v2.15h-1zM7 64h1v1.15h-1zM8 9h1v2.15h-1zM8 50h1v1.15h-1zM8 54h1v1.15h-1zM9 6h1v1.15h-1zM9 10h1v1.15h-1zM9 18h1v1.15h-1zM9 30h1v1.15h-1zM9 40h1v2.15h-1zM9 45h1v1.15h-1zM9 48h1v1.15h-1zM9 56h1v1.15h-1zM9 64h1v1.15h-1zM10 5h1v3.15h-1zM10 21h1v1.15h-1zM10 38h1v1.15h-1zM10 46h1v1.15h-1zM10 62h1v1.15h-1zM11 27h1v1.15h-1zM11 29h1v1.15h-1zM11 32h1v1.15h-1zM11 57h1v1.15h-1zM11 60h1v1.15h-1zM12 10h1v2.15h-1zM12 26h1v1.15h-1zM12 32h1v1.15h-1zM12 51h1v1.15h-1zM12 54h1v1.15h-1zM12 59h1v2.15h-1z"/><path fill="#de7b7d" d="M1 131h1v1.15h-1zM2 92h1v1.15h-1zM2 124h1v1.15h-1zM3 122h1v1.15h-1zM3 127h1v2.15h-1zM5 88h1v1.15h-1zM6 81h1v1.15h-1zM6 117h1v1.15h-1zM6 127h1v1.15h-1zM7 1h1v1.15h-1zM7 9h1v1.15h-1zM7 54h1v1.15h-1zM8 23h1v1.15h-1zM8 28h1v1.15h-1zM8 31h1v1.15h-1zM10 4h1v1.15h-1zM10 10h1v1.15h-1zM10 23h1v1.15h-1zM10 25h1v1.15h-1zM10 32h1v1.15h-1zM10 44h1v1.15h-1zM10 52h1v1.15h-1zM10 61h1v1.15h-1zM11 6h1v1.15h-1zM11 36h1v1.15h-1zM11 58h1v1.15h-1zM12 30h1v1.15h-1zM12 37h1v1.15h-1zM12 46h1v2.15h-1zM12 49h1v1.15h-1z"/><path fill="#da6f71" d="M3 130h1v1.15h-1zM4 127h1v1.15h-1zM6 94h1v1.15h-1zM6 105h1v1.15h-1zM6 112h1v1.15h-1zM6 128h1v1.15h-1zM7 12h1v2.15h-1zM7 30h1v2.15h-1zM8 11h1v1.15h-1zM8 29h1v1.15h-1zM8 55h1v1.15h-1zM9 12h1v1.15h-1zM9 50h1v1.15h-1zM10 39h1v1.15h-1zM10 45h1v1.15h-1zM10 55h1v1.15h-1zM11 14h1v1.15h-1zM11 26h1v1.15h-1zM11 37h1v1.15h-1zM11 51h1v1.15h-1zM11 53h1v1.15h-1zM11 56h1v1.15h-1zM12 27h1v2.15h-1zM12 42h1v4.15h-1z"/><path fill="#d86264" d="M4 109h1v2.15h-1zM5 119h1v1.15h-1zM6 82h1v1.15h-1zM6 129h1v1.15h-1zM9 28h1v1.15h-1zM11 28h1v1.15h-1zM11 61h1v1.15h-1z"/><path fill="#d45658" d="M3 105h1v1.15h-1zM8 65h1v1.15h-1zM9 13h1v1.15h-1zM11 13h1v1.15h-1zM11 59h1v1.15h-1zM12 61h1v1.15h-1z"/></g><path fill="none" stroke="#000" stroke-width="0.75" d="M41.3 825.1H32.2V825.3H41.3M41.3 824.9H30.2V825.2H32.2M30.2 825H29.2V825.4H41.3M29.2 825.2H27V825.6H41.3M41.3 825.8H32.1V826H41.3M32.1 825.9H30.6V826.2H41.3M41.3 826.4H34V826.6H41.3M30.6 826H27.3V826.5H34M27 825.4H24.4V826.3H27.3M41.3 827.3H34.8V827.5H41.3M41.3 827.1H32.2V827.4H34.8M32.2 827.2H29.6V827.7H41.3M41.3 826.9H27.3V827.4H29.6M41.3 826.7H24.7V827.2H27.3M24.4 825.8H20V827H24.7M41.3 828H32.6V828.2H41.3M32.6 828.1H29.9V828.4H41.3M41.3 827.8H28.9V828.3H29.9M41.3 828.6H31.1V828.8H41.3M28.9 828H28.1V828.7H31.1M41.3 828.9H33.5V829.1H41.3M33.5 829H30.9V829.3H41.3M30.9 829.2H29.6V829.5H41.3M29.6 829.3H27.1V829.7H41.3M28.1 828.4H20.1V829.5H27.1M41.3 830.1H34V830.2H41.3M41.3 830.6H36V830.8H41.3M36 830.7H33.2V831H41.3M41.3 830.4H31.1V830.8H33.2M41.3 831.2H32.4V831.3H41.3M31.1 830.6H28.4V831.3H32.4M34 830.1H26.9V830.9H28.4M41.3 829.9H23.9V830.5H26.9M41.3 831.5H32.9V831.7H41.3M41.3 831.9H34.5V832.1H41.3M34.5 832H33.6V832.3H41.3M32.9 831.6H30.9V832.1H33.6M30.9 831.9H28.6V832.4H41.3M41.3 832.6H33.3V832.8H41.3M33.3 832.7H31.1V833H41.3M28.6 832.2H26.2V832.9H31.1M41.3 833.4H31V833.6H41.3M31 833.5H28.1V833.7H41.3M41.3 833.2H26.5V833.6H28.1M26.2 832.5H23.9V833.4H26.5M23.9 830.2H21V833H23.9M41.3 834.1H34.4V834.3H41.3M34.4 834.2H32.5V834.5H41.3M41.3 833.9H30.7V834.3H32.5M41.3 835H32.9V835.2H41.3M41.3 835.4H30.4V835.6H41.3M32.9 835.1H29.5V835.5H30.4M41.3 834.8H26.6V835.3H29.5M41.3 836H33.2V836.1H41.3M33.2 836H31.5V836.3H41.3M31.5 836.2H28.4V836.5H41.3M41.3 835.8H26.1V836.3H28.4M26.6 835.1H24.6V836.1H26.1M41.3 834.7H22.9V835.6H24.6M30.7 834.1H21.7V835.1H22.9M21 831.6H19.9V834.6H21.7M20.1 828.9H19.2V833.1H19.9M41.3 836.7H30.1V836.9H41.3M41.3 837.2H29.5V837.4H41.3M41.3 837.1H26.6V837.3H29.5M41.3 837.6H34.4V837.8H41.3M26.6 837.2H23V837.7H34.4M30.1 836.8H21.3V837.4H23M41.3 838.3H32.5V838.5H41.3M41.3 838.2H31.4V838.4H32.5M41.3 838H30.4V838.3H31.4M30.4 838.1H28V838.7H41.3M41.3 838.9H30.3V839.1H41.3M41.3 839.5H32.1V839.6H41.3M41.3 839.3H29.3V839.5H32.1M30.3 839H27V839.4H29.3M28 838.4H25.1V839.2H27M25.1 838.8H23.8V839.8H41.3M23.8 839.3H22V840H41.3M41.3 840.2H30.6V840.4H41.3M41.3 840.7H30.2V840.9H41.3M41.3 840.6H28.3V840.8H30.2M30.6 840.3H24.5V840.7H28.3M41.3 841.3H34.7V841.5H41.3M41.3 841.1H26.5V841.4H34.7M24.5 840.5H21.5V841.3H26.5M22 839.7H19.8V840.9H21.5M21.3 837.1H18.5V840.3H19.8M41.3 841.7H32.7V841.9H41.3M41.3 842.4H32.2V842.6H41.3M41.3 842.2H30.7V842.5H32.2M30.7 842.4H28.9V842.8H41.3M28.9 842.6H26.7V843H41.3M41.3 843.1H31.3V843.3H41.3M26.7 842.8H25.3V843.2H31.3M41.3 842H23V843H25.3M32.7 841.8H22.4V842.5H23M41.3 844.1H34.9V844.2H41.3M41.3 843.9H32V844.2H34.9M32 844H30.6V844.4H41.3M41.3 843.7H29.2V844.2H30.6M41.3 843.5H22.7V844H29.2M41.3 844.6H34.3V844.8H41.3M34.3 844.7H28.7V845H41.3M41.3 845.4H32.3V845.5H41.3M41.3 845.2H30.3V845.4H32.3M41.3 845.7H31.8V845.9H41.3M30.3 845.3H28.2V845.8H31.8M28.7 844.8H26.3V845.6H28.2M22.7 843.7H21.4V845.2H26.3M22.4 842.1H20.4V844.5H21.4M41.3 846.1H29.5V846.3H41.3M41.3 846.6H33.7V846.8H41.3M41.3 846.5H24.6V846.7H33.7M29.5 846.2H19.7V846.6H24.6M20.4 843.3H19.1V846.4H19.7M41.3 847H31.3V847.2H41.3M31.3 847.1H30.3V847.4H41.3M41.3 847.6H31.6V847.7H41.3M30.3 847.2H28.7V847.7H31.6M41.3 847.9H33.2V848.1H41.3M28.7 847.4H25.3V848H33.2M41.3 848.5H30.2V848.7H41.3M30.2 848.6H29.6V848.9H41.3M41.3 848.3H26.8V848.7H29.6M25.3 847.7H24.2V848.5H26.8M41.3 849.2H31.7V849.4H41.3M41.3 849H28.9V849.3H31.7M24.2 848.1H23.5V849.2H28.9M41.3 849.6H28.4V849.8H41.3M41.3 850H32.8V850.1H41.3M32.8 850.1H28.2V850.3H41.3M28.2 850.2H25.9V850.5H41.3M41.3 850.7H34.7V850.9H41.3M34.7 850.8H31V851.1H41.3M25.9 850.4H24.3V850.9H31M28.4 849.7H21.7V850.6H24.3M23.5 848.7H20.7V850.2H21.7M41.3 851.3H30.5V851.4H41.3M41.3 851.6H32.3V851.8H41.3M41.3 852H32.2V852.2H41.3M32.3 851.7H28.1V852.1H32.2M41.3 852.4H31.3V852.5H41.3M41.3 852.7H34.3V852.9H41.3M34.3 852.8H30.9V853.1H41.3M31.3 852.4H29.7V853H30.9M28.1 851.9H25.3V852.7H29.7M30.5 851.3H24.1V852.3H25.3M41.3 853.6H32.2V853.8H41.3M41.3 853.5H31.5V853.7H32.2M41.3 853.3H27.9V853.6H31.5M24.1 851.8H21.5V853.4H27.9M41.3 854H33.7V854.2H41.3M33.7 854.1H27V854.4H41.3M21.5 852.6H20.5V854.2H27M20.7 849.4H19.6V853.4H20.5M41.3 854.8H31.2V854.9H41.3M41.3 854.6H30.3V854.8H31.2M41.3 855.1H30.3V855.3H41.3M41.3 855.5H28.7V855.7H41.3M30.3 855.2H27.3V855.6H28.7M30.3 854.7H24.8V855.4H27.3M41.3 855.9H32.2V856H41.3M24.8 855.1H23.5V856H32.2M41.3 856.2H30.1V856.4H41.3M41.3 856.8H32.2V857H41.3M41.3 856.6H27.5V856.9H32.2M30.1 856.3H25.7V856.7H27.5M41.3 857.2H32.9V857.3H41.3M41.3 857.7H34.2V857.9H41.3M41.3 857.5H32.2V857.8H34.2M32.9 857.2H30V857.7H32.2M25.7 856.5H22.8V857.5H30M23.5 855.5H21V857H22.8M41.3 858.3H32.3V858.4H41.3M41.3 858.1H31.2V858.3H32.3M41.3 858.6H31.5V858.8H41.3M41.3 859H32.8V859.2H41.3M31.5 858.7H26.8V859.1H32.8M31.2 858.2H25.6V858.9H26.8M41.3 859.4H34.3V859.5H41.3M41.3 859.7H29.8V859.9H41.3M34.3 859.5H24.9V859.8H29.8M25.6 858.6H21.6V859.6H24.9M21 856.2H20.3V859.1H21.6M41.3 860.1H32.5V860.3H41.3M32.5 860.2H30.2V860.5H41.3M30.2 860.3H27.2V860.7H41.3M41.3 860.8H31V861H41.3M27.2 860.5H20V860.9H31M41.3 861.4H31.3V861.6H41.3M41.3 861.2H29.1V861.5H31.3M41.3 861.9H29.4V862.1H41.3M41.3 861.8H27.1V862H29.4M41.3 862.5H31.1V862.7H41.3M41.3 862.9H32.6V863H41.3M31.1 862.6H27.2V863H32.6M41.3 862.3H26.2V862.8H27.2M27.1 861.9H25.2V862.5H26.2M41.3 863.6H34.3V863.8H41.3M41.3 863.4H26V863.7H34.3M41.3 863.2H25V863.6H26M25.2 862.2H24V863.4H25M41.3 864.2H34V864.3H41.3M41.3 864H32.7V864.2H34M32.7 864.1H27.5V864.5H41.3M41.3 864.9H28.9V865.1H41.3M41.3 864.7H27.2V865H28.9M41.3 865.3H33.8V865.4H41.3M41.3 865.6H32.6V865.8H41.3M33.8 865.4H31V865.7H32.6M31 865.5H29.8V866H41.3M41.3 866.2H28.1V866.4H41.3M29.8 865.8H25.4V866.3H28.1M27.2 864.8H22.7V866H25.4M41.3 866.6H34.3V866.7H41.3M22.7 865.4H21.1V866.6H34.3M41.3 866.9H33.3V867.1H41.3M41.3 867.3H34.4V867.5H41.3M41.3 867.8H35.2V868H41.3M41.3 868.2H34.2V868.4H41.3M35.2 867.9H32.8V868.3H34.2M41.3 867.7H30.3V868.1H32.8M34.4 867.4H28.6V867.9H30.3M33.3 867H27V867.6H28.6M41.3 868.6H34.8V868.8H41.3M27 867.3H24.9V868.7H34.8M41.3 868.9H33V869.1H41.3M33 869H30.9V869.3H41.3M41.3 869.5H33.9V869.7H41.3M41.3 869.9H35.6V870.1H41.3M35.6 870H33.2V870.2H41.3M33.2 870.1H30.9V870.4H41.3M33.9 869.6H29.8V870.3H30.9M29.8 869.9H28.1V870.6H41.3M41.3 871.2H36.5V871.3H41.3M41.3 871H34.3V871.3H36.5M41.3 870.8H32.6V871.1H34.3M32.6 871H29.8V871.5H41.3M28.1 870.3H25.5V871.2H29.8M30.9 869.2H24.7V870.8H25.5M24.9 868H23.6V870H24.7M41.3 872.1H35.6V872.3H41.3M35.6 872.2H34V872.5H41.3M41.3 872.6H34.2V872.8H41.3M34 872.3H31.5V872.7H34.2M41.3 871.9H30.7V872.5H31.5M41.3 871.7H28.7V872.2H30.7M28.7 872H26.7V873H41.3M41.3 873.2H30.9V873.4H41.3M26.7 872.5H24.5V873.3H30.9M23.6 869H21.6V872.9H24.5M21.1 866H19.7V870.9H21.6M41.3 873.6H33.6V873.7H41.3M33.6 873.6H26V873.9H41.3M41.3 874.1H33.7V874.3H41.3M26 873.8H24.5V874.2H33.7M24.5 874H22.4V874.5H41.3M41.3 874.8H31.7V875H41.3M41.3 874.7H29.2V874.9H31.7M41.3 875.2H33.3V875.4H41.3M29.2 874.8H26.7V875.3H33.3M41.3 875.6H27.8V875.8H41.3M26.7 875.1H19V875.7H27.8M41.3 876H29.5V876.1H41.3M41.3 876.3H29.6V876.5H41.3M29.6 876.4H28.1V876.7H41.3M29.5 876H23.1V876.6H28.1M41.3 876.9H34.4V877.1H41.3M34.4 877H32.4V877.2H41.3M41.3 877.4H31.9V877.6H41.3M41.3 878.2H30.2V878.3H41.3M41.3 878H29.5V878.3H30.2M41.3 877.8H28.4V878.1H29.5M31.9 877.5H26.9V878H28.4M32.4 877.1H24.1V877.7H26.9M41.3 878.5H34.8V878.7H41.3M34.8 878.6H29.2V878.9H41.3M41.3 879.1H29V879.3H41.3M29.2 878.8H26.5V879.2H29M24.1 877.4H23.1V879H26.5M23.1 876.3H21.8V878.2H23.1M41.3 879.8H32.8V880H41.3M41.3 879.6H32.1V879.9H32.8M41.3 879.5H27.6V879.8H32.1M21.8 877.2H20V879.6H27.6M41.3 880.2H29.2V880.4H41.3M41.3 881.1H35.5V881.3H41.3M41.3 880.9H33.5V881.2H35.5M41.3 880.7H31.5V881.1H33.5M41.3 880.6H28.8V880.9H31.5M41.3 881.5H31.7V881.7H41.3M28.8 880.7H27.6V881.6H31.7M29.2 880.3H23.7V881.2H27.6M41.3 882H29.5V882.2H41.3M41.3 881.9H27V882.1H29.5M41.3 882.4H31.5V882.6H41.3M31.5 882.5H28.4V882.8H41.3M27 882H25.5V882.6H28.4M41.3 883H32.3V883.1H41.3M25.5 882.3H19.8V883H32.3M23.7 880.7H19.2V882.7H19.8M41.3 883.5H32.4V883.7H41.3M41.3 883.3H24.8V883.6H32.4M41.3 884.1H33.6V884.2H41.3M41.3 883.9H31.9V884.2H33.6M31.9 884H24.1V884.4H41.3M41.3 884.8H32.2V885H41.3M32.2 884.9H30.2V885.2H41.3M30.2 885H28.3V885.4H41.3M41.3 884.6H23.3V885.2H28.3M24.1 884.2H22.2V884.9H23.3M41.3 885.7H33.3V885.9H41.3M41.3 885.5H25.2V885.8H33.3M22.2 884.6H20V885.7H25.2M41.3 886.5H30.9V886.6H41.3M41.3 886.3H24.7V886.6H30.9M41.3 886.1H23V886.4H24.7M41.3 887H34.1V887.2H41.3M41.3 886.8H31.5V887.1H34.1M41.3 887.4H33.4V887.6H41.3M33.4 887.5H31.3V887.7H41.3M31.3 887.6H28.6V887.9H41.3M41.3 888.1H30.5V888.3H41.3M30.5 888.2H26.9V888.5H41.3M28.6 887.8H25.3V888.3H26.9M41.3 888.9H32.4V889H41.3M41.3 888.7H30.5V888.9H32.4M41.3 889.4H34.1V889.6H41.3M41.3 889.2H27.2V889.5H34.1M30.5 888.8H26.1V889.4H27.2M41.3 889.8H33.4V890H41.3M41.3 890.1H33.1V890.3H41.3M33.4 889.9H30.4V890.2H33.1M41.3 890.5H29.2V890.7H41.3M30.4 890.1H28.1V890.6H29.2M26.1 889.1H25.2V890.3H28.1M25.3 888.1H24V889.7H25.2M41.3 890.9H32.9V891.1H41.3M32.9 891H30.3V891.3H41.3M30.3 891.1H27.5V891.4H41.3M27.5 891.3H25.2V891.6H41.3M24 888.9H21.9V891.4H25.2M41.3 892.2H34.3V892.4H41.3M41.3 892H30.7V892.3H34.3M30.7 892.1H28.5V892.5H41.3M41.3 891.8H20.1V892.3H28.5M41.3 892.9H31.4V893.1H41.3M41.3 892.7H28.9V893H31.4M20.1 892.1H18.4V892.9H28.9M41.3 893.3H34.6V893.5H41.3M41.3 893.6H33.3V893.8H41.3M41.3 894.2H30.9V894.4H41.3M30.9 894.3H29.8V894.6H41.3M41.3 894H26.9V894.4H29.8M33.3 893.7H25.5V894.2H26.9M34.6 893.4H24.5V894H25.5M41.3 894.9H32.5V895.1H41.3M41.3 894.8H27V895H32.5M27 894.9H23.9V895.3H41.3M41.3 895.7H33.6V895.9H41.3M41.3 895.5H31.5V895.8H33.6M23.9 895.1H23V895.6H31.5M24.5 893.7H20.8V895.4H23M41.3 896H34.5V896.2H41.3M41.3 896.4H31.7V896.6H41.3M31.7 896.5H31V896.8H41.3M34.5 896.1H30.1V896.6H31M41.3 897.2H33.3V897.3H41.3M41.3 897H30.3V897.2H33.3M41.3 897.5H32.3V897.7H41.3M32.3 897.6H28.8V897.9H41.3M30.3 897.1H26.1V897.7H28.8M30.1 896.4H24.2V897.4H26.1M41.3 898.3H34.2V898.4H41.3M34.2 898.3H32.2V898.6H41.3M41.3 898.1H28.3V898.5H32.2M41.3 898.8H32.5V899H41.3M32.5 898.9H28.9V899.2H41.3M41.3 899.4H33.2V899.5H41.3M28.9 899H28V899.5H33.2M28 899.2H26.9V899.7H41.3M28.3 898.3H21.1V899.5H26.9M41.3 899.9H32.8V900.1H41.3M41.3 900.3H28.3V900.5H41.3M32.8 900H25.6V900.4H28.3M41.3 900.7H31V900.8H41.3M25.6 900.2H24.8V900.7H31M41.3 901H34.8V901.2H41.3M34.8 901.1H30.1V901.4H41.3M30.1 901.3H29.1V901.6H41.3M41.3 901.8H34.6V901.9H41.3M29.1 901.4H26.3V901.9H34.6M41.3 902.1H30.6V902.3H41.3M41.3 902.7H32V902.9H41.3M41.3 902.5H28.9V902.8H32M30.6 902.2H27.4V902.6H28.9M26.3 901.6H24.6V902.4H27.4M24.8 900.5H22.4V902H24.6M41.3 903H30.1V903.2H41.3M41.3 903.4H28.3V903.6H41.3M30.1 903.1H26.1V903.5H28.3M41.3 903.8H33.3V904H41.3M33.3 903.9H29.9V904.2H41.3M26.1 903.3H22.2V904H29.9M22.4 901.2H19.7V903.7H22.2M21.1 898.9H18.5V902.5H19.7M41.3 904.3H31V904.5H41.3M41.3 904.9H30.4V905.1H41.3M41.3 905.3H31.6V905.4H41.3M30.4 905H29V905.4H31.6M41.3 904.7H27.6V905.2H29M31 904.4H26.8V904.9H27.6M41.3 905.6H29.9V905.8H41.3M41.3 906H30.4V906.2H41.3M30.4 906.1H28.2V906.4H41.3M29.9 905.7H26.1V906.2H28.2M26.8 904.7H24.1V906H26.1M41.3 906.6H29.8V906.7H41.3M41.3 906.9H33.4V907.1H41.3M41.3 907.3H32.1V907.5H41.3M32.1 907.4H29.1V907.7H41.3M33.4 907H27.1V907.5H29.1M29.8 906.6H25.5V907.3H27.1M24.1 905.3H22.6V907H25.5M41.3 907.8H33.1V908H41.3M41.3 908.2H28.2V908.4H41.3M33.1 907.9H26.3V908.3H28.2M26.3 908.1H19.6V908.6H41.3M41.3 908.8H33V908.9H41.3M33 908.9H30.5V909.1H41.3M30.5 909H26.8V909.3H41.3M26.8 909.2H23.9V909.5H41.3M41.3 909.7H29.2V909.9H41.3M23.9 909.3H22.8V909.8H29.2M41.3 910.1H32.4V910.2H41.3M41.3 910.4H33.7V910.6H41.3M33.7 910.5H32.6V910.8H41.3M32.4 910.1H23V910.7H32.6M22.8 909.6H20.5V910.4H23M41.3 911H33.8V911.2H41.3M41.3 911.5H33.4V911.7H41.3M41.3 911.3H30.9V911.6H33.4M33.8 911.1H29.5V911.5H30.9M41.3 912.1H32.8V912.3H41.3M41.3 911.9H32V912.2H32.8M41.3 912.5H30.8V912.6H41.3M41.3 912.8H34.2V913H41.3M30.8 912.5H28.9V912.9H34.2M28.9 912.7H27.7V913.2H41.3M32 912H24.9V913H27.7M41.3 913.6H34.7V913.7H41.3M41.3 913.4H28.1V913.6H34.7M24.9 912.5H22.6V913.5H28.1M29.5 911.3H20.4V913H22.6M20.5 910H18.7V912.1H20.4M41.3 914.3H32.3V914.5H41.3M41.3 914.1H31.3V914.4H32.3M41.3 913.9H23.3V914.2H31.3M41.3 914.7H32.3V914.8H41.3M32.3 914.8H26.4V915H41.3M41.3 915.4H34.8V915.6H41.3M41.3 915.2H31.8V915.5H34.8M31.8 915.4H27.3V915.8H41.3M26.4 914.9H25.5V915.6H27.3M41.3 916.1H30.8V916.3H41.3M30.8 916.2H27.1V916.5H41.3M41.3 916H24.1V916.4H27.1M41.3 916.7H31.2V916.9H41.3M31.2 916.8H29.2V917.1H41.3M24.1 916.2H21.8V916.9H29.2M41.3 917.6H31V917.8H41.3M41.3 917.4H30.1V917.7H31M41.3 918H34.4V918.2H41.3M30.1 917.6H29.3V918.1H34.4M41.3 917.2H27.2V917.8H29.3M27.2 917.5H25.5V918.3H41.3M41.3 918.5H32.4V918.7H41.3M41.3 918.9H32.7V919.1H41.3M32.4 918.6H30.7V919H32.7M30.7 918.8H29.5V919.3H41.3M41.3 919.6H31.9V919.8H41.3M41.3 919.5H29.8V919.7H31.9M41.3 920H31.7V920.2H41.3M29.8 919.6H28.5V920.1H31.7M29.5 919H21.4V919.8H28.5M41.3 920.6H34.9V920.7H41.3M34.9 920.7H32.6V920.9H41.3M41.3 920.4H30.8V920.8H32.6M21.4 919.4H19.8V920.6H30.8M41.3 921.3H30.6V921.5H41.3M41.3 921.1H28.7V921.4H30.6M41.3 921.9H33.7V922H41.3M41.3 921.7H32.2V921.9H33.7M28.7 921.3H27.7V921.8H32.2M41.3 922.2H33.4V922.4H41.3M33.4 922.3H30.2V922.6H41.3M27.7 921.5H25.5V922.5H30.2M41.3 922.8H32.1V923H41.3M41.3 923.1H31.6V923.3H41.3M32.1 922.9H30.2V923.2H31.6M25.5 922H23.5V923H30.2M41.3 923.5H31.2V923.7H41.3M41.3 923.9H31.5V924.1H41.3M31.2 923.6H29.3V924H31.5M41.3 924.2H31.9V924.4H41.3M41.3 924.6H34.7V924.8H41.3M41.3 925H35.7V925.2H41.3M41.3 925.4H36.2V925.5H41.3M35.7 925.1H33.3V925.4H36.2M34.7 924.7H32.5V925.3H33.3M32.5 925H30.6V925.7H41.3M41.3 925.9H32.8V926.1H41.3M32.8 926H29.1V926.3H41.3M30.6 925.4H27.8V926.1H29.1M31.9 924.3H25.3V925.7H27.8M29.3 923.8H22.4V925H25.3M23.5 922.5H21.7V924.4H22.4M41.3 926.8H32.3V927H41.3M41.3 926.6H29.8V926.9H32.3M41.3 926.5H27V926.8H29.8M41.3 927.4H34.6V927.6H41.3M41.3 927.2H25.3V927.5H34.6M27 926.6H24.3V927.3H25.3M41.3 927.8H32.9V927.9H41.3M41.3 928.1H32.9V928.3H41.3M32.9 927.8H31.2V928.2H32.9M41.3 928.5H34.8V928.7H41.3M34.8 928.6H32.3V928.9H41.3M32.3 928.7H31.7V929H41.3M31.7 928.9H28.7V929.2H41.3M31.2 928H26.5V929.1H28.7M41.3 929.4H29.4V929.6H41.3M26.5 928.5H25.4V929.5H29.4M24.3 927H22.6V929H25.4M21.7 923.5H21V928H22.6M19.8 920H19.1V925.7H21M41.3 930H31.4V930.1H41.3M41.3 930.5H34.9V930.7H41.3M41.3 930.3H32.2V930.6H34.9M31.4 930.1H24.3V930.5H32.2M41.3 929.8H23.1V930.3H24.3M41.3 930.9H27.9V931.1H41.3M41.3 931.3H33.5V931.4H41.3M27.9 931H24.3V931.3H33.5M41.3 931.6H30.6V931.8H41.3M30.6 931.7H28.2V932H41.3M28.2 931.9H25.6V932.2H41.3M24.3 931.2H22.7V932H25.6M23.1 930H21.6V931.6H22.7M41.3 932.4H32.7V932.5H41.3M32.7 932.5H30.2V932.7H41.3M30.2 932.6H27.5V932.9H41.3M41.3 933.1H32.8V933.3H41.3M32.8 933.2H31.9V933.5H41.3M27.5 932.8H25.8V933.3H31.9M41.3 933.8H33.9V934H41.3M41.3 933.6H29.6V933.9H33.9M29.6 933.8H28.6V934.2H41.3M41.3 934.6H32.6V934.8H41.3M41.3 934.4H29.8V934.7H32.6M29.8 934.5H28.1V934.9H41.3M28.6 934H23.7V934.7H28.1M25.8 933H21.1V934.4H23.7M21.6 930.8H20V933.7H21.1M41.3 935.1H32.4V935.3H41.3M32.4 935.2H30.3V935.5H41.3M41.3 935.9H34.2V936H41.3M41.3 935.7H29.6V936H34.2M41.3 936.6H34.6V936.8H41.3M41.3 936.4H32.4V936.7H34.6M41.3 937.2H33.5V937.3H41.3M41.3 937H32.4V937.2H33.5M32.4 936.6H30.6V937.1H32.4M41.3 936.2H28.4V936.8H30.6M29.6 935.8H26.8V936.5H28.4M41.3 937.5H33.4V937.7H41.3M26.8 936.2H24.3V937.6H33.4M30.3 935.4H21.8V936.9H24.3M20 932.3H19.2V936.1H21.8M41.3 938.1H33.4V938.3H41.3M33.4 938.2H30V938.4H41.3M41.3 937.9H27.4V938.3H30M41.3 938.8H32.4V939H41.3M41.3 938.6H30.4V938.9H32.4M41.3 939.4H30.6V939.5H41.3M41.3 939.2H28.1V939.5H30.6M30.4 938.8H24.6V939.3H28.1M24.6 939H22.3V939.7H41.3M41.3 939.9H34.5V940.1H41.3M34.5 940H23.9V940.3H41.3M22.3 939.4H21.6V940.1H23.9M41.3 940.5H31.2V940.7H41.3M41.3 940.8H33.3V941H41.3M41.3 941.2H33.4V941.4H41.3M33.4 941.3H32.3V941.6H41.3M41.3 941.8H34V941.9H41.3M32.3 941.4H29.8V941.9H34M33.3 940.9H22.6V941.6H29.8M31.2 940.6H20.4V941.3H22.6M21.6 939.8H19.1V940.9H20.4M41.3 942.1H33.5V942.3H41.3M41.3 942.5H34.1V942.7H41.3M33.5 942.2H31.2V942.6H34.1M31.2 942.4H28.7V942.9H41.3M28.7 942.6H27V943H41.3M41.3 943.4H32.6V943.6H41.3M41.3 943.8H32.1V944H41.3M32.6 943.5H30.9V943.9H32.1M41.3 944.3H32.6V944.5H41.3M41.3 944.7H34.5V944.9H41.3M32.6 944.4H31.9V944.8H34.5M41.3 944.2H30V944.6H31.9M30.9 943.7H28.2V944.4H30M41.3 945.1H29.8V945.3H41.3M28.2 944H26.1V945.2H29.8M41.3 943.2H24V944.6H26.1M41.3 945.8H34.8V946H41.3M41.3 945.6H29.9V945.9H34.8M41.3 945.4H27.5V945.8H29.9M41.3 946.2H31.8V946.4H41.3M41.3 946.9H36V947.1H41.3M41.3 946.7H34.5V947H36M41.3 946.6H31.8V946.9H34.5M31.8 946.3H28.8V946.7H31.8M41.3 947.3H34.4V947.5H41.3M41.3 947.7H33.8V947.8H41.3M34.4 947.4H25.8V947.8H33.8M28.8 946.5H24.9V947.6H25.8M41.3 948H30.8V948.2H41.3M41.3 948.4H34.7V948.6H41.3M41.3 948.9H34.2V949.1H41.3M41.3 948.8H31.6V949H34.2M34.7 948.5H29.7V948.9H31.6M41.3 949.3H30.4V949.5H41.3M41.3 949.7H31.9V949.9H41.3M30.4 949.4H27.6V949.8H31.9M29.7 948.7H21.9V949.6H27.6M41.3 950.1H33.5V950.2H41.3M41.3 950.6H34.6V950.8H41.3M34.6 950.7H27V951H41.3M41.3 950.4H23.6V950.8H27M41.3 951.2H34V951.3H41.3M41.3 951.5H32.5V951.7H41.3M34 951.3H23.6V951.6H32.5M41.3 951.9H32.7V952.1H41.3M41.3 952.3H29.4V952.5H41.3M32.7 952H28.5V952.4H29.4M23.6 951.4H19V952.2H28.5M41.3 952.6H32.9V952.8H41.3M32.9 952.7H30V953H41.3M30 952.9H20.7V953.2H41.3M41.3 953.6H28.4V953.7H41.3M41.3 953.4H26.4V953.6H28.4M41.3 953.9H30.9V954.1H41.3M41.3 954.5H33.5V954.7H41.3M41.3 954.3H31.7V954.6H33.5M31.7 954.4H29.1V954.8H41.3M41.3 955H29V955.2H41.3M29.1 954.6H26.3V955.1H29M30.9 954H25.6V954.9H26.3M41.3 955.4H34.2V955.6H41.3M41.3 956H32.3V956.1H41.3M32.3 956H30.4V956.3H41.3M41.3 955.8H28.5V956.2H30.4M34.2 955.5H26.2V956H28.5M41.3 956.5H32V956.7H41.3M41.3 956.9H33.1V957.1H41.3M33.1 957H30.3V957.2H41.3M32 956.6H26V957.1H30.3M26.2 955.7H24.1V956.9H26M25.6 954.4H23.3V956.3H24.1M26.4 953.5H22V955.4H23.3M41.3 957.4H34.3V957.6H41.3M34.3 957.5H31.5V957.8H41.3M41.3 958H32.4V958.2H41.3M41.3 958.3H30.4V958.5H41.3M32.4 958.1H25.7V958.4H30.4M31.5 957.7H23.6V958.3H25.7M41.3 958.9H32.7V959.1H41.3M41.3 958.7H29.1V959H32.7M41.3 959.5H32.5V959.6H41.3M41.3 959.3H29V959.5H32.5M29.1 958.9H27.9V959.4H29M41.3 959.8H34.4V960H41.3M34.4 959.9H32.5V960.2H41.3M27.9 959.1H25.6V960.1H32.5M23.6 958H22.9V959.6H25.6M41.3 960.4H32.7V960.6H41.3M22.9 958.8H21.6V960.5H32.7M22 954.4H19.6V959.6H21.6M41.3 960.7H34.3V960.9H41.3M41.3 961.1H29.5V961.3H41.3M29.5 961.2H24.9V961.5H41.3M34.3 960.8H20.5V961.3H24.9M41.3 961.9H34.4V962H41.3M41.3 961.7H32.7V961.9H34.4M41.3 962.2H31.6V962.4H41.3M41.3 962.6H32.8V962.8H41.3M31.6 962.3H30.6V962.7H32.8M30.6 962.5H26.6V963H41.3M26.6 962.7H25.3V963.1H41.3M41.3 963.5H30.2V963.7H41.3M41.3 963.3H27.1V963.6H30.2M25.3 962.9H24.2V963.5H27.1M41.3 963.9H33.6V964.1H41.3M41.3 964.2H31.9V964.4H41.3M41.3 964.8H33.8V965H41.3M41.3 964.6H31.4V964.9H33.8M31.9 964.3H29.4V964.8H31.4M29.4 964.5H27.4V965.2H41.3M33.6 964H24.6V964.9H27.4M24.2 963.2H22.7V964.4H24.6M41.3 965.7H35.3V965.9H41.3M41.3 965.5H32.5V965.8H35.3M41.3 965.4H24.7V965.7H32.5M22.7 963.8H21.7V965.5H24.7M32.7 961.8H19.3V964.7H21.7M41.3 966.1H31.4V966.3H41.3M41.3 966.6H34.1V966.8H41.3M41.3 966.5H32.9V966.7H34.1M32.9 966.6H30.5V967H41.3M31.4 966.2H28.5V966.8H30.5M41.3 967.2H33.3V967.4H41.3M33.3 967.3H30.8V967.6H41.3M41.3 967.8H31.1V967.9H41.3M30.8 967.4H25.2V967.8H31.1M41.3 968.5H37.2V968.7H41.3M41.3 968.3H35.2V968.6H37.2M35.2 968.4H33V968.9H41.3M41.3 969H33V969.2H41.3M33 968.6H31.2V969.1H33M41.3 968.1H29.2V968.9H31.2M41.3 969.4H33.8V969.6H41.3M41.3 969.8H29.6V970H41.3M41.3 970.1H32.6V970.3H41.3M29.6 969.9H28.2V970.2H32.6M33.8 969.5H27.6V970.1H28.2M29.2 968.5H26.6V969.8H27.6M41.3 970.5H31.4V970.7H41.3M26.6 969.1H23.8V970.6H31.4M25.2 967.6H23.1V969.9H23.8M28.5 966.5H21.7V968.8H23.1M41.3 971.1H28.8V971.3H41.3M41.3 970.9H27.3V971.2H28.8M41.3 971.4H29.6V971.6H41.3M41.3 972H34.5V972.2H41.3M34.5 972.1H31.5V972.4H41.3M41.3 971.8H28.6V972.2H31.5M29.6 971.5H27.1V972H28.6M27.3 971H24.1V971.8H27.1M41.3 972.5H31.2V972.7H41.3M31.2 972.6H30V972.9H41.3M41.3 973.1H31V973.3H41.3M41.3 973.5H34.3V973.6H41.3M31 973.2H30.2V973.6H34.3M30 972.8H27.2V973.4H30.2M41.3 973.8H34.2V974H41.3M27.2 973.1H24.4V973.9H34.2M24.1 971.4H23.3V973.5H24.4M41.3 974.4H32.3V974.6H41.3M41.3 974.2H29.3V974.5H32.3M23.3 972.4H21.8V974.3H29.3M21.7 967.6H19V973.4H21.8M41.3 974.9H34.1V975.1H41.3M34.1 975H31.2V975.3H41.3M41.3 974.8H28.6V975.2H31.2M28.6 975H20.8V975.5H41.3M41.3 975.7H34.5V975.9H41.3M20.8 975.2H20.1V975.8H34.5M41.3 976.2H35V976.4H41.3M41.3 976H32.1V976.3H35M41.3 976.8H32.9V977H41.3M32.9 976.9H26.8V977.2H41.3M41.3 976.6H25.4V977H26.8M32.1 976.2H23.9V976.8H25.4M41.3 977.5H32.8V977.7H41.3M41.3 977.3H30.3V977.6H32.8M41.3 978.3H32V978.4H41.3M41.3 978.1H30.8V978.3H32M41.3 977.9H28.3V978.2H30.8M30.3 977.5H26.2V978.1H28.3M41.3 978.8H30.7V979H41.3M41.3 978.6H26.2V978.9H30.7M41.3 979.2H34.8V979.4H41.3M26.2 978.8H25.6V979.3H34.8M26.2 977.8H23.4V979H25.6M41.3 979.5H34.7V979.7H41.3M41.3 979.9H30.6V980.1H41.3M34.7 979.6H24.9V980H30.6M41.3 980.3H31.8V980.5H41.3M41.3 980.7H33.9V980.8H41.3M41.3 981H33.3V981.2H41.3M33.3 981.1H28.1V981.4H41.3M33.9 980.7H23.3V981.3H28.1M31.8 980.4H21.1V981H23.3M24.9 979.8H20.4V980.7H21.1M23.4 978.4H19.7V980.3H20.4M41.3 981.6H30.9V981.8H41.3M41.3 982.1H33.6V982.3H41.3M41.3 981.9H30.9V982.2H33.6M41.3 982.5H31.8V982.7H41.3M30.9 982.1H28.6V982.6H31.8M30.9 981.7H22.7V982.3H28.6M41.3 982.9H29.9V983.1H41.3M41.3 983.2H32V983.4H41.3M41.3 983.6H34.5V983.8H41.3M34.5 983.7H30V984H41.3M32 983.3H28.3V983.8H30M29.9 983H27.4V983.6H28.3M41.3 984.2H34.3V984.3H41.3M41.3 984.5H33.4V984.7H41.3M33.4 984.6H31.2V984.9H41.3M34.3 984.2H29.9V984.8H31.2M41.3 985.1H30.8V985.3H41.3M29.9 984.5H27.6V985.2H30.8M27.4 983.3H24.8V984.8H27.6M41.3 985.4H31.4V985.6H41.3M41.3 985.8H31.4V986H41.3M31.4 985.5H24.7V985.9H31.4M24.8 984.1H22.5V985.7H24.7M41.3 986.2H32.9V986.4H41.3M41.3 986.7H33.9V986.9H41.3M41.3 986.6H27.8V986.8H33.9M32.9 986.3H18.4V986.7H27.8M41.3 987.3H32.5V987.5H41.3M41.3 987.1H30.6V987.4H32.5M41.3 987.8H34V988H41.3M41.3 988.2H32.3V988.4H41.3M34 987.9H26.8V988.3H32.3M41.3 987.7H23.5V988.1H26.8M41.3 988.6H28V988.8H41.3M41.3 988.9H33.1V989.1H41.3M41.3 989.3H32.6V989.5H41.3M33.1 989H30.5V989.4H32.6M41.3 990.2H33.9V990.4H41.3M33.9 990.3H30.5V990.6H41.3M41.3 990.1H29.1V990.5H30.5M41.3 989.9H28.5V990.3H29.1M41.3 989.7H22.3V990.1H28.5M30.5 989.2H19.5V989.9H22.3"/><path fill="none" stroke="#333" stroke-width="0.9" shape-rendering="auto" d="M20 826.4H17.5V831H19.2M17.5 828.7H16.3V838.7H18.5M19.1 844.8H16.7V851.4H19.6M16.3 833.7H15.1V848.1H16.7M15.1 840.9H13.6V857.7H20.3M20 860.7H17.9V861.3H29.1M24 862.8H17V864.3H27.5M17.9 861H14.9V863.6H17M22.4 874.2H18.1V875.4H19M19.7 868.5H17.4V874.8H18.1M20 878.4H17V881.7H19.2M24.8 883.5H18.1V885.1H20M17 880.1H16.2V884.3H18.1M17.4 871.6H15.2V882.2H16.2M14.9 862.3H13.8V876.9H15.2M23 886.3H16.7V887H31.5M16.7 886.6H14.9V890.2H21.9M18.4 892.5H17V894.5H20.8M24.2 896.9H17V900.7H18.5M17 898.8H15.7V906.1H22.6M17 893.5H14.3V902.5H15.7M14.9 888.4H13V898H14.3M13.8 869.6H12V893.2H13M13.6 849.3H11.3V881.4H12M19.6 908.3H16.7V911.1H18.7M25.5 915.2H16.9V916.5H21.8M23.3 914.1H15.6V915.9H16.9M15.6 915H14.9V917.9H25.5M16.7 909.7H13.6V916.5H14.9M19.1 922.9H17.6V934.2H19.2M27.4 938.1H16.2V940.3H19.1M17.6 928.5H15V939.2H16.2M13.6 913.1H12.2V933.9H15M24 943.9H18.1V945.6H27.5M30.8 948.1H16.7V949.1H21.9M24.9 947H15.1V948.6H16.7M18.1 944.8H13.8V947.8H15.1M27 942.8H12.9V946.3H13.8M12.2 923.5H10.6V944.6H12.9M33.5 950.1H17.4V950.6H23.6M19 951.8H16.8V953H20.7M17.4 950.4H14.3V952.4H16.8M20.5 961.1H18.2V963.2H19.3M19.6 957H16.7V962.2H18.2M20.1 975.5H17.8V976.5H23.9M19 970.5H16.7V976H17.8M16.7 959.6H15V973.3H16.7M14.3 951.4H13.4V966.4H15M22.5 984.9H17.4V986.5H18.4M22.7 982H16V985.7H17.4M30.6 987.2H17.8V987.9H23.5M28 988.7H17V989.6H19.5M17.8 987.6H15.9V989.1H17M16 983.8H15.2V988.3H15.9M19.7 979.3H13V986.1H15.2M13.4 958.9H11.4V982.7H13M10.6 934H8.7V970.8H11.4M11.3 865.3H1.4V952.4H8.7"/><path fill="#000" d="M41.3 824.8L34.3 824.8L34.3 826.04L34.3 826.04L34.3 827.66L34.2 827.66L34.2 828.83L34.3 828.83L34.3 830.28L34.3 830.28L34.3 831.29L34.2 831.29L34.2 833.22L34.22 833.22L34.22 834.47L34.3 834.47L34.3 835.32L34.07 835.32L34.07 837.23L33.87 837.23L33.87 839.18L33.06 839.18L33.06 840.44L33.84 840.44L33.84 842.08L31.62 842.08L31.62 843.72L34.3 843.72L34.3 844.6L33.21 844.6L33.21 845.43L33.85 845.43L33.85 846.64L33.76 846.64L33.76 848.63L34.3 848.63L34.3 849.59L34.3 849.59L34.3 850.19L34.3 850.19L34.3 851.86L34.3 851.86L34.3 853.5L31.23 853.5L31.23 854.32L30.55 854.32L30.55 855.45L30.16 855.45L30.16 856.84L29.3 856.84L29.3 858.18L29.88 858.18L29.88 860.1L29.3 860.1L29.3 860.99L29.3 860.99L29.3 862.76L29.3 862.76L29.3 864.38L29.3 864.38L29.3 865.27L32.86 865.27L32.86 866.92L32.57 866.92L32.57 868.14L31.51 868.14L31.51 869.49L30.82 869.49L30.82 870.59L29.3 870.59L29.3 871.41L29.3 871.41L29.3 872.18L29.75 872.18L29.75 873.09L29.39 873.09L29.39 874.08L30.84 874.08L30.84 875.56L31.71 875.56L31.71 876.68L29.3 876.68L29.3 877.38L29.3 877.38L29.3 878.47L29.3 878.47L29.3 879.44L30.05 879.44L30.05 881.33L32.68 881.33L32.68 882.57L32.92 882.57L32.92 883.96L33.01 883.96L33.01 885.82L34.3 885.82L34.3 886.61L33.73 886.61L33.73 888.02L34.3 888.02L34.3 888.99L32.35 888.99L32.35 890.28L33.17 890.28L33.17 891.92L34.3 891.92L34.3 893.35L32.87 893.35L32.87 894.9L34.3 894.9L34.3 896.02L34.3 896.02L34.3 897.92L32.42 897.92L32.42 898.73L30.69 898.73L30.69 900.43L29.73 900.43L29.73 901.73L29.55 901.73L29.55 903.46L31.26 903.46L31.26 905.28L31.9 905.28L31.9 906.9L30.03 906.9L30.03 908.45L31.19 908.45L31.19 910.33L31.39 910.33L31.39 912.2L31.09 912.2L31.09 914.15L29.58 914.15L29.58 915.77L30.2 915.77L30.2 917.7L29.85 917.7L29.85 918.82L29.42 918.82L29.42 919.53L30.46 919.53L30.46 920.46L32.48 920.46L32.48 922.07L31.31 922.07L31.31 922.86L34.3 922.86L34.3 923.47L34.3 923.47L34.3 924.59L34.3 924.59L34.3 926.44L32.96 926.44L32.96 928.04L34.3 928.04L34.3 928.95L34.3 928.95L34.3 930.6L31.73 930.6L31.73 932.13L32.51 932.13L32.51 933.54L34.11 933.54L34.11 934.22L34.3 934.22L34.3 936.09L33.97 936.09L33.97 936.83L34.3 936.83L34.3 938.55L34.3 938.55L34.3 940.34L34.05 940.34L34.05 940.98L32.95 940.98L32.95 942.33L31.21 942.33L31.21 944.31L29.3 944.31L29.3 945.94L30.73 945.94L30.73 946.83L29.3 946.83L29.3 947.54L29.82 947.54L29.82 948.65L29.3 948.65L29.3 950.07L29.97 950.07L29.97 951.21L29.54 951.21L29.54 952.53L29.95 952.53L29.95 953.95L30.76 953.95L30.76 955.29L30.11 955.29L30.11 956.52L29.3 956.52L29.3 957.94L29.3 957.94L29.3 959.22L30.39 959.22L30.39 960.32L29.3 960.32L29.3 961.22L29.82 961.22L29.82 962.71L29.66 962.71L29.66 963.67L29.3 963.67L29.3 964.35L29.3 964.35L29.3 965.19L29.46 965.19L29.46 966.6L29.3 966.6L29.3 968.23L29.3 968.23L29.3 968.85L29.3 968.85L29.3 969.82L30.88 969.82L30.88 970.57L29.3 970.57L29.3 971.18L30.35 971.18L30.35 971.91L30.45 971.91L30.45 973.19L30.36 973.19L30.36 974.49L29.3 974.49L29.3 976.05L29.3 976.05L29.3 976.65L29.3 976.65L29.3 977.38L29.3 977.38L29.3 978.62L29.44 978.62L29.44 979.62L30.21 979.62L30.21 981.03L29.3 981.03L29.3 981.78L32.99 981.78L32.99 983.29L31.86 983.29L31.86 985.08L31.19 985.08L31.19 985.91L30.74 985.91L30.74 987.61L30.59 987.61L30.59 988.67L30.05 988.67L30.05 989.77L29.3 989.77L29.3 990.7L41.3 990.7z"/><rect x="258.2" y="825.1" width="7.6" height="14.59" fill="#c62227"/><rect x="258.2" y="839.64" width="7.6" height="14.59" fill="#d65c5e"/><rect x="258.2" y="854.17" width="7.6" height="14.59" fill="#e59a9c"/><rect x="258.2" y="868.71" width="7.6" height="14.59" fill="#f5d8da"/><rect x="258.2" y="883.25" width="7.6" height="14.59" fill="#e1e4f3"/><rect x="258.2" y="897.79" width="7.6" height="14.59" fill="#a6b5e0"/><rect x="258.2" y="912.33" width="7.6" height="14.59" fill="#6e88cc"/><rect x="258.2" y="926.86" width="7.6" height="14.59" fill="#3b5fb2"/><text x="269" y="846.8" font-size="7.1" fill="#222">2</text><text x="269" y="866.4" font-size="7.1" fill="#222">1</text><text x="269" y="886.1" font-size="7.1" fill="#222">0</text><text x="269" y="905.8" font-size="7.1" fill="#222">-1</text><text x="269" y="925.4" font-size="7.1" fill="#222">-2</text><text x="280.2" y="830.6" font-size="7.7" font-weight="bold" fill="#222">ecotype</text><rect x="280.2" y="833.6" width="11.8" height="11.2" fill="#f5a11e"/><rect x="280.2" y="844.8" width="11.8" height="11.1" fill="#add8e6"/><text x="294" y="841.65" font-size="7.65" fill="#222">marine</text><text x="294" y="852.8" font-size="7.65" fill="#222">freshwater</text></g><g id="ph"><text transform="translate(367.1 768.55) scale(1 1.035)" font-size="17.4" font-weight="bold">(h)</text><text x="436.6" y="764.7" font-size="13.8" xml:space="preserve">DMCs  (liver, n=1,732)</text><path fill="none" stroke="#666" stroke-width="1.3" shape-rendering="auto" d="M385.1 815.2V802.3H401.5V815.2M417.9 815.2V802.3H434.3V815.2M467.1 815.2V802.5H483.5V815.2M450.7 815.2V802H475.3V802.5M426.1 802.3V801.5H463V802M393.3 802.3V801.2H444.55V801.5M516.3 815.2V797.5H532.7V815.2M565.5 815.2V798.2H581.9V815.2M549.1 815.2V797.3H573.7V798.2M524.5 797.5V796.9H561.4V797.3M499.9 815.2V796.1H542.95V796.9M418.92 801.2V773.7H521.42V796.1"/><rect x="376.9" y="815.2" width="16.7" height="7.4" fill="#add8e6"/><rect x="393.3" y="815.2" width="16.7" height="7.4" fill="#add8e6"/><rect x="409.7" y="815.2" width="16.7" height="7.4" fill="#add8e6"/><rect x="426.1" y="815.2" width="16.7" height="7.4" fill="#add8e6"/><rect x="442.5" y="815.2" width="16.7" height="7.4" fill="#add8e6"/><rect x="458.9" y="815.2" width="16.7" height="7.4" fill="#add8e6"/><rect x="475.3" y="815.2" width="16.7" height="7.4" fill="#add8e6"/><rect x="491.7" y="815.2" width="16.7" height="7.4" fill="#f5a11e"/><rect x="508.1" y="815.2" width="16.7" height="7.4" fill="#f5a11e"/><rect x="524.5" y="815.2" width="16.7" height="7.4" fill="#f5a11e"/><rect x="540.9" y="815.2" width="16.7" height="7.4" fill="#f5a11e"/><rect x="557.3" y="815.2" width="16.7" height="7.4" fill="#f5a11e"/><rect x="573.7" y="815.2" width="16.7" height="7.4" fill="#f5a11e"/><g transform="translate(376.9 824.8) scale(16.4000 1.2568)"><path fill="#5474bf" d="M8 66h1v1.15h-1z"/><path fill="#5f7cc4" d="M10 30h1v1.15h-1zM10 67h1v1.15h-1zM11 24h1v1.15h-1zM12 62h1v1.15h-1z"/><path fill="#6984c9" d="M8 48h1v1.15h-1zM9 15h1v1.15h-1zM9 49h1v1.15h-1zM11 73h1v1.15h-1z"/><path fill="#748dce" d="M4 91h1v1.15h-1zM7 12h1v1.15h-1zM7 15h1v1.15h-1zM7 28h1v1.15h-1zM8 28h1v1.15h-1zM8 85h1v1.15h-1zM9 14h1v1.15h-1zM9 34h1v2.15h-1zM10 14h1v1.15h-1zM10 53h1v1.15h-1zM10 66h1v1.15h-1zM10 69h1v1.15h-1zM11 27h1v1.15h-1zM12 54h1v1.15h-1zM12 66h1v1.15h-1z"/><path fill="#7f96d2" d="M5 109h1v1.15h-1zM7 11h1v1.15h-1zM7 52h1v1.15h-1zM7 64h1v1.15h-1zM8 7h1v2.15h-1zM8 30h1v1.15h-1zM9 12h1v2.15h-1zM9 22h1v1.15h-1zM9 44h1v1.15h-1zM9 54h1v1.15h-1zM9 74h1v1.15h-1zM10 5h1v1.15h-1zM10 11h1v1.15h-1zM10 25h1v2.15h-1zM10 28h1v1.15h-1zM10 31h1v1.15h-1zM10 33h1v1.15h-1zM10 54h1v2.15h-1zM10 70h1v1.15h-1zM10 73h1v1.15h-1zM10 84h1v1.15h-1zM11 3h1v1.15h-1zM11 19h1v1.15h-1zM11 25h1v2.15h-1zM11 30h1v1.15h-1zM11 49h1v1.15h-1zM11 67h1v1.15h-1zM11 78h1v1.15h-1zM12 79h1v1.15h-1z"/><path fill="#8a9ed6" d="M1 101h1v1.15h-1zM1 130h1v1.15h-1zM2 106h1v3.15h-1zM2 121h1v1.15h-1zM4 90h1v1.15h-1zM5 101h1v1.15h-1zM6 91h1v1.15h-1zM7 5h1v1.15h-1zM7 7h1v1.15h-1zM7 16h1v1.15h-1zM7 30h1v1.15h-1zM7 44h1v1.15h-1zM8 6h1v1.15h-1zM8 14h1v1.15h-1zM8 22h1v1.15h-1zM8 35h1v1.15h-1zM8 54h1v1.15h-1zM8 58h1v1.15h-1zM8 65h1v1.15h-1zM9 10h1v1.15h-1zM9 21h1v1.15h-1zM9 36h1v1.15h-1zM9 39h1v1.15h-1zM9 45h1v2.15h-1zM9 50h1v1.15h-1zM9 52h1v1.15h-1zM9 58h1v1.15h-1zM9 67h1v1.15h-1zM9 73h1v1.15h-1zM10 12h1v1.15h-1zM10 15h1v1.15h-1zM10 21h1v1.15h-1zM10 23h1v1.15h-1zM10 34h1v1.15h-1zM10 64h1v2.15h-1zM10 75h1v1.15h-1zM10 80h1v1.15h-1zM11 5h1v1.15h-1zM11 16h1v1.15h-1zM11 31h1v1.15h-1zM11 36h1v1.15h-1zM11 63h1v1.15h-1zM11 66h1v1.15h-1zM11 77h1v1.15h-1zM11 82h1v1.15h-1zM12 10h1v1.15h-1zM12 15h1v1.15h-1zM12 23h1v1.15h-1zM12 25h1v2.15h-1zM12 30h1v1.15h-1zM12 36h1v1.15h-1zM12 47h1v1.15h-1zM12 73h1v1.15h-1zM12 83h1v1.15h-1z"/><path fill="#95a8da" d="M0 94h1v1.15h-1zM0 127h1v1.15h-1zM1 94h1v1.15h-1zM1 128h1v1.15h-1zM2 91h1v1.15h-1zM3 94h1v1.15h-1zM4 101h1v1.15h-1zM4 128h1v1.15h-1zM4 130h1v1.15h-1zM5 91h1v1.15h-1zM5 128h1v1.15h-1zM6 123h1v1.15h-1zM7 6h1v1.15h-1zM7 8h1v1.15h-1zM7 10h1v1.15h-1zM7 27h1v1.15h-1zM7 41h1v1.15h-1zM7 43h1v1.15h-1zM7 68h1v2.15h-1zM7 79h1v1.15h-1zM8 0h1v1.15h-1zM8 5h1v1.15h-1zM8 12h1v2.15h-1zM8 21h1v1.15h-1zM8 31h1v1.15h-1zM8 34h1v1.15h-1zM8 37h1v1.15h-1zM8 63h1v1.15h-1zM8 84h1v1.15h-1zM9 7h1v1.15h-1zM9 11h1v1.15h-1zM9 23h1v1.15h-1zM9 25h1v1.15h-1zM9 27h1v1.15h-1zM9 29h1v2.15h-1zM9 41h1v1.15h-1zM9 51h1v1.15h-1zM9 53h1v1.15h-1zM9 56h1v1.15h-1zM9 75h1v1.15h-1zM10 4h1v1.15h-1zM10 13h1v1.15h-1zM10 22h1v1.15h-1zM10 35h1v1.15h-1zM10 62h1v1.15h-1zM10 72h1v1.15h-1zM11 0h1v1.15h-1zM11 8h1v1.15h-1zM11 11h1v1.15h-1zM11 14h1v1.15h-1zM11 22h1v2.15h-1zM11 39h1v1.15h-1zM11 54h1v2.15h-1zM11 58h1v1.15h-1zM11 68h1v1.15h-1zM11 71h1v2.15h-1zM11 76h1v1.15h-1zM12 35h1v1.15h-1zM12 46h1v1.15h-1zM12 49h1v1.15h-1zM12 53h1v1.15h-1zM12 55h1v1.15h-1zM12 78h1v1.15h-1z"/><path fill="#a0b0de" d="M0 90h1v4.15h-1zM0 100h1v2.15h-1zM0 123h1v1.15h-1zM0 131h1v1.15h-1zM1 92h1v1.15h-1zM1 102h1v2.15h-1zM1 121h1v1.15h-1zM1 129h1v1.15h-1zM2 86h1v2.15h-1zM2 101h1v1.15h-1zM2 115h1v3.15h-1zM2 127h1v1.15h-1zM3 91h1v1.15h-1zM3 95h1v2.15h-1zM3 101h1v1.15h-1zM3 129h1v2.15h-1zM4 102h1v1.15h-1zM4 121h1v1.15h-1zM4 127h1v1.15h-1zM4 129h1v1.15h-1zM5 100h1v1.15h-1zM5 102h1v1.15h-1zM5 108h1v1.15h-1zM5 113h1v1.15h-1zM5 115h1v1.15h-1zM5 118h1v1.15h-1zM5 130h1v2.15h-1zM6 90h1v1.15h-1zM6 104h1v1.15h-1zM6 121h1v1.15h-1zM7 9h1v1.15h-1zM7 33h1v1.15h-1zM7 37h1v1.15h-1zM7 42h1v1.15h-1zM7 48h1v1.15h-1zM7 50h1v1.15h-1zM7 73h1v1.15h-1zM7 78h1v1.15h-1zM8 19h1v2.15h-1zM8 29h1v1.15h-1zM8 33h1v1.15h-1zM8 47h1v1.15h-1zM8 49h1v1.15h-1zM8 55h1v1.15h-1zM8 64h1v1.15h-1zM8 68h1v1.15h-1zM9 6h1v1.15h-1zM9 8h1v1.15h-1zM9 16h1v1.15h-1zM9 37h1v1.15h-1zM9 40h1v1.15h-1zM9 48h1v1.15h-1zM9 66h1v1.15h-1zM9 77h1v1.15h-1zM10 3h1v1.15h-1zM10 7h1v1.15h-1zM10 17h1v1.15h-1zM10 27h1v1.15h-1zM10 29h1v1.15h-1zM10 39h1v1.15h-1zM10 52h1v1.15h-1zM10 74h1v1.15h-1zM10 77h1v1.15h-1zM10 79h1v1.15h-1zM10 81h1v1.15h-1zM11 4h1v1.15h-1zM11 7h1v1.15h-1zM11 10h1v1.15h-1zM11 15h1v1.15h-1zM11 17h1v1.15h-1zM11 28h1v1.15h-1zM11 35h1v1.15h-1zM11 45h1v1.15h-1zM11 74h1v1.15h-1zM11 79h1v1.15h-1zM11 85h1v1.15h-1zM12 16h1v1.15h-1zM12 22h1v1.15h-1zM12 27h1v3.15h-1zM12 34h1v1.15h-1zM12 39h1v1.15h-1zM12 48h1v1.15h-1zM12 69h1v1.15h-1zM12 77h1v1.15h-1zM12 85h1v1.15h-1z"/><path fill="#acbae2" d="M0 89h1v1.15h-1zM0 104h1v1.15h-1zM0 114h1v1.15h-1zM0 119h1v1.15h-1zM0 121h1v1.15h-1zM0 126h1v1.15h-1zM0 130h1v1.15h-1zM1 91h1v1.15h-1zM1 95h1v2.15h-1zM1 105h1v1.15h-1zM1 113h1v1.15h-1zM1 116h1v1.15h-1zM1 127h1v1.15h-1zM1 131h1v1.15h-1zM2 92h1v3.15h-1zM2 98h1v1.15h-1zM2 109h1v1.15h-1zM2 118h1v1.15h-1zM2 120h1v1.15h-1zM2 128h1v1.15h-1zM3 107h1v3.15h-1zM3 113h1v1.15h-1zM3 123h1v1.15h-1zM4 94h1v1.15h-1zM4 96h1v1.15h-1zM4 103h1v2.15h-1zM4 106h1v1.15h-1zM4 108h1v1.15h-1zM4 120h1v1.15h-1zM4 123h1v2.15h-1zM4 126h1v1.15h-1zM4 131h1v1.15h-1zM5 86h1v2.15h-1zM5 90h1v1.15h-1zM5 92h1v1.15h-1zM5 103h1v1.15h-1zM5 110h1v1.15h-1zM5 112h1v1.15h-1zM5 114h1v1.15h-1zM5 117h1v1.15h-1zM5 123h1v1.15h-1zM5 125h1v1.15h-1zM5 127h1v1.15h-1zM5 129h1v1.15h-1zM6 89h1v1.15h-1zM6 94h1v1.15h-1zM6 100h1v3.15h-1zM6 115h1v1.15h-1zM6 118h1v1.15h-1zM6 120h1v1.15h-1zM6 128h1v3.15h-1zM7 2h1v1.15h-1zM7 4h1v1.15h-1zM7 13h1v1.15h-1zM7 25h1v1.15h-1zM7 31h1v1.15h-1zM7 45h1v1.15h-1zM7 51h1v1.15h-1zM7 53h1v1.15h-1zM7 67h1v1.15h-1zM7 70h1v1.15h-1zM7 74h1v1.15h-1zM7 80h1v2.15h-1zM8 1h1v1.15h-1zM8 4h1v1.15h-1zM8 10h1v2.15h-1zM8 18h1v1.15h-1zM8 26h1v2.15h-1zM8 32h1v1.15h-1zM8 51h1v3.15h-1zM8 56h1v1.15h-1zM8 62h1v1.15h-1zM8 76h1v1.15h-1zM8 83h1v1.15h-1zM9 0h1v1.15h-1zM9 28h1v1.15h-1zM9 32h1v2.15h-1zM9 47h1v1.15h-1zM9 63h1v1.15h-1zM9 84h1v1.15h-1zM10 9h1v2.15h-1zM10 16h1v1.15h-1zM10 20h1v1.15h-1zM10 32h1v1.15h-1zM10 36h1v1.15h-1zM10 58h1v1.15h-1zM10 63h1v1.15h-1zM10 71h1v1.15h-1zM10 76h1v1.15h-1zM10 78h1v1.15h-1zM10 83h1v1.15h-1zM11 18h1v1.15h-1zM11 21h1v1.15h-1zM11 32h1v1.15h-1zM11 42h1v1.15h-1zM11 47h1v1.15h-1zM11 52h1v1.15h-1zM11 56h1v2.15h-1zM11 75h1v1.15h-1zM11 81h1v1.15h-1zM12 5h1v1.15h-1zM12 7h1v2.15h-1zM12 12h1v1.15h-1zM12 21h1v1.15h-1zM12 24h1v1.15h-1zM12 31h1v2.15h-1zM12 37h1v1.15h-1zM12 44h1v2.15h-1zM12 61h1v1.15h-1zM12 63h1v1.15h-1zM12 65h1v1.15h-1zM12 67h1v1.15h-1zM12 71h1v2.15h-1zM12 74h1v1.15h-1zM12 82h1v1.15h-1zM12 84h1v1.15h-1z"/><path fill="#b8c3e6" d="M0 88h1v1.15h-1zM0 97h1v3.15h-1zM0 103h1v1.15h-1zM0 106h1v1.15h-1zM0 108h1v1.15h-1zM0 113h1v1.15h-1zM0 115h1v1.15h-1zM0 118h1v1.15h-1zM0 120h1v1.15h-1zM0 124h1v1.15h-1zM0 128h1v2.15h-1zM1 100h1v1.15h-1zM1 104h1v1.15h-1zM1 106h1v2.15h-1zM1 115h1v1.15h-1zM1 118h1v1.15h-1zM1 126h1v1.15h-1zM2 88h1v1.15h-1zM2 90h1v1.15h-1zM2 97h1v1.15h-1zM2 100h1v1.15h-1zM2 102h1v1.15h-1zM2 104h1v2.15h-1zM2 113h1v2.15h-1zM2 119h1v1.15h-1zM2 129h1v3.15h-1zM3 89h1v1.15h-1zM3 92h1v1.15h-1zM3 110h1v1.15h-1zM3 115h1v2.15h-1zM3 121h1v2.15h-1zM3 124h1v1.15h-1zM3 127h1v2.15h-1zM3 131h1v1.15h-1zM4 92h1v2.15h-1zM4 97h1v1.15h-1zM4 100h1v1.15h-1zM4 105h1v1.15h-1zM4 109h1v1.15h-1zM4 113h1v1.15h-1zM4 115h1v1.15h-1zM4 119h1v1.15h-1zM4 122h1v1.15h-1zM5 88h1v1.15h-1zM5 94h1v1.15h-1zM5 96h1v1.15h-1zM5 111h1v1.15h-1zM5 121h1v1.15h-1zM5 126h1v1.15h-1zM6 92h1v2.15h-1zM6 103h1v1.15h-1zM6 105h1v1.15h-1zM6 109h1v1.15h-1zM6 113h1v1.15h-1zM6 116h1v1.15h-1zM6 119h1v1.15h-1zM6 124h1v3.15h-1zM7 0h1v2.15h-1zM7 14h1v1.15h-1zM7 17h1v2.15h-1zM7 22h1v1.15h-1zM7 24h1v1.15h-1zM7 26h1v1.15h-1zM7 34h1v2.15h-1zM7 49h1v1.15h-1zM7 54h1v1.15h-1zM7 76h1v1.15h-1zM7 83h1v1.15h-1zM8 9h1v1.15h-1zM8 15h1v1.15h-1zM8 24h1v1.15h-1zM8 36h1v1.15h-1zM8 45h1v1.15h-1zM8 60h1v1.15h-1zM8 75h1v1.15h-1zM9 3h1v1.15h-1zM9 9h1v1.15h-1zM9 24h1v1.15h-1zM9 42h1v1.15h-1zM9 55h1v1.15h-1zM9 57h1v1.15h-1zM9 59h1v1.15h-1zM9 78h1v1.15h-1zM9 81h1v1.15h-1zM9 83h1v1.15h-1zM10 2h1v1.15h-1zM10 8h1v1.15h-1zM10 24h1v1.15h-1zM10 37h1v2.15h-1zM10 59h1v2.15h-1zM10 85h1v1.15h-1zM11 1h1v1.15h-1zM11 6h1v1.15h-1zM11 29h1v1.15h-1zM11 34h1v1.15h-1zM11 37h1v1.15h-1zM11 48h1v1.15h-1zM11 60h1v3.15h-1zM12 4h1v1.15h-1zM12 6h1v1.15h-1zM12 9h1v1.15h-1zM12 11h1v1.15h-1zM12 13h1v2.15h-1zM12 33h1v1.15h-1zM12 50h1v2.15h-1zM12 59h1v1.15h-1zM12 76h1v1.15h-1zM12 81h1v1.15h-1z"/><path fill="#c4ccea" d="M0 86h1v2.15h-1zM0 95h1v1.15h-1zM0 102h1v1.15h-1zM0 105h1v1.15h-1zM0 116h1v2.15h-1zM0 125h1v1.15h-1zM1 90h1v1.15h-1zM1 93h1v1.15h-1zM1 97h1v3.15h-1zM1 111h1v2.15h-1zM1 114h1v1.15h-1zM1 117h1v1.15h-1zM1 119h1v2.15h-1zM1 124h1v2.15h-1zM2 103h1v1.15h-1zM3 86h1v1.15h-1zM3 90h1v1.15h-1zM3 93h1v1.15h-1zM3 97h1v2.15h-1zM3 100h1v1.15h-1zM3 102h1v3.15h-1zM3 106h1v1.15h-1zM3 111h1v1.15h-1zM3 114h1v1.15h-1zM3 117h1v1.15h-1zM3 119h1v1.15h-1zM3 125h1v2.15h-1zM4 86h1v1.15h-1zM4 88h1v2.15h-1zM4 95h1v1.15h-1zM4 98h1v1.15h-1zM4 107h1v1.15h-1zM4 117h1v2.15h-1zM5 95h1v1.15h-1zM5 104h1v4.15h-1zM5 119h1v1.15h-1zM5 124h1v1.15h-1zM6 86h1v3.15h-1zM6 95h1v2.15h-1zM6 108h1v1.15h-1zM6 122h1v1.15h-1zM6 127h1v1.15h-1zM7 23h1v1.15h-1zM7 29h1v1.15h-1zM7 32h1v1.15h-1zM7 36h1v1.15h-1zM7 39h1v1.15h-1zM7 47h1v1.15h-1zM7 55h1v1.15h-1zM7 66h1v1.15h-1zM7 72h1v1.15h-1zM7 75h1v1.15h-1zM7 77h1v1.15h-1zM7 85h1v1.15h-1zM8 3h1v1.15h-1zM8 16h1v1.15h-1zM8 23h1v1.15h-1zM8 38h1v2.15h-1zM8 50h1v1.15h-1zM8 67h1v1.15h-1zM8 69h1v1.15h-1zM9 20h1v1.15h-1zM9 26h1v1.15h-1zM9 31h1v1.15h-1zM9 60h1v1.15h-1zM9 69h1v2.15h-1zM9 72h1v1.15h-1zM9 80h1v1.15h-1zM10 6h1v1.15h-1zM10 48h1v2.15h-1zM10 56h1v1.15h-1zM10 61h1v1.15h-1zM10 68h1v1.15h-1zM11 12h1v1.15h-1zM11 33h1v1.15h-1zM11 43h1v1.15h-1zM11 50h1v2.15h-1zM11 59h1v1.15h-1zM11 64h1v1.15h-1zM11 80h1v1.15h-1zM12 0h1v1.15h-1zM12 3h1v1.15h-1zM12 18h1v1.15h-1zM12 20h1v1.15h-1zM12 42h1v2.15h-1zM12 52h1v1.15h-1zM12 56h1v1.15h-1zM12 64h1v1.15h-1zM12 80h1v1.15h-1z"/><path fill="#cfd6ed" d="M0 96h1v1.15h-1zM0 107h1v1.15h-1zM0 109h1v4.15h-1zM0 122h1v1.15h-1zM1 86h1v4.15h-1zM1 108h1v1.15h-1zM1 122h1v2.15h-1zM2 89h1v1.15h-1zM2 95h1v2.15h-1zM2 99h1v1.15h-1zM2 110h1v1.15h-1zM2 122h1v5.15h-1zM3 88h1v1.15h-1zM3 105h1v1.15h-1zM3 112h1v1.15h-1zM3 118h1v1.15h-1zM3 120h1v1.15h-1zM4 87h1v1.15h-1zM4 99h1v1.15h-1zM4 110h1v2.15h-1zM4 114h1v1.15h-1zM4 125h1v1.15h-1zM5 89h1v1.15h-1zM5 93h1v1.15h-1zM5 99h1v1.15h-1zM5 116h1v1.15h-1zM5 120h1v1.15h-1zM5 122h1v1.15h-1zM6 99h1v1.15h-1zM6 106h1v2.15h-1zM6 110h1v3.15h-1zM6 117h1v1.15h-1zM7 19h1v1.15h-1zM7 40h1v1.15h-1zM7 56h1v1.15h-1zM7 60h1v1.15h-1zM7 82h1v1.15h-1zM7 84h1v1.15h-1zM8 25h1v1.15h-1zM8 57h1v1.15h-1zM8 77h1v3.15h-1zM9 1h1v1.15h-1zM9 5h1v1.15h-1zM9 19h1v1.15h-1zM9 38h1v1.15h-1zM9 62h1v1.15h-1zM9 64h1v2.15h-1zM9 68h1v1.15h-1zM9 79h1v1.15h-1zM9 82h1v1.15h-1zM9 85h1v1.15h-1zM10 1h1v1.15h-1zM10 19h1v1.15h-1zM10 40h1v1.15h-1zM10 42h1v1.15h-1zM10 45h1v2.15h-1zM10 50h1v1.15h-1zM10 82h1v1.15h-1zM11 13h1v1.15h-1zM11 20h1v1.15h-1zM11 38h1v1.15h-1zM11 44h1v1.15h-1zM11 53h1v1.15h-1zM11 69h1v2.15h-1zM11 83h1v2.15h-1zM12 1h1v1.15h-1zM12 17h1v1.15h-1zM12 19h1v1.15h-1zM12 41h1v1.15h-1zM12 57h1v2.15h-1zM12 68h1v1.15h-1zM12 70h1v1.15h-1z"/><path fill="#dbdff1" d="M1 109h1v2.15h-1zM2 49h1v1.15h-1zM3 87h1v1.15h-1zM3 99h1v1.15h-1zM4 112h1v1.15h-1zM4 116h1v1.15h-1zM5 97h1v2.15h-1zM6 75h1v1.15h-1zM6 97h1v2.15h-1zM6 114h1v1.15h-1zM7 46h1v1.15h-1zM7 57h1v1.15h-1zM7 62h1v1.15h-1zM7 71h1v1.15h-1zM8 42h1v3.15h-1zM8 46h1v1.15h-1zM8 59h1v1.15h-1zM8 61h1v1.15h-1zM8 73h1v1.15h-1zM8 82h1v1.15h-1zM9 43h1v1.15h-1zM9 71h1v1.15h-1zM9 76h1v1.15h-1zM10 0h1v1.15h-1zM10 18h1v1.15h-1zM10 41h1v1.15h-1zM10 44h1v1.15h-1zM10 47h1v1.15h-1zM10 57h1v1.15h-1zM11 2h1v1.15h-1zM11 9h1v1.15h-1zM12 2h1v1.15h-1z"/><path fill="#e3e3f1" d="M2 111h1v2.15h-1zM6 131h1v1.15h-1zM7 3h1v1.15h-1zM7 21h1v1.15h-1zM8 40h1v1.15h-1zM8 70h1v3.15h-1zM8 74h1v1.15h-1zM9 2h1v1.15h-1zM9 4h1v1.15h-1zM9 18h1v1.15h-1zM11 40h1v1.15h-1zM11 46h1v1.15h-1zM11 65h1v1.15h-1zM12 40h1v1.15h-1zM12 60h1v1.15h-1z"/><path fill="#e7e0ec" d="M5 46h1v1.15h-1zM5 57h1v1.15h-1zM7 58h1v2.15h-1zM7 61h1v1.15h-1zM7 65h1v1.15h-1zM8 2h1v1.15h-1zM8 41h1v1.15h-1zM9 17h1v1.15h-1zM9 61h1v1.15h-1zM10 51h1v1.15h-1zM12 38h1v1.15h-1zM12 75h1v1.15h-1z"/><path fill="#ebdee6" d="M1 19h1v1.15h-1zM2 48h1v1.15h-1zM2 84h1v1.15h-1zM4 3h1v1.15h-1zM4 56h1v1.15h-1zM4 71h1v1.15h-1zM6 57h1v1.15h-1zM7 20h1v1.15h-1zM7 38h1v1.15h-1zM7 63h1v1.15h-1zM7 99h1v1.15h-1zM8 17h1v1.15h-1zM8 81h1v1.15h-1zM8 111h1v1.15h-1zM10 43h1v1.15h-1zM11 41h1v1.15h-1zM11 104h1v1.15h-1z"/><path fill="#efdce2" d="M0 18h1v1.15h-1zM1 39h1v1.15h-1zM1 81h1v1.15h-1zM2 47h1v1.15h-1zM2 50h1v1.15h-1zM3 64h1v1.15h-1zM3 71h1v1.15h-1zM4 2h1v1.15h-1zM4 28h1v1.15h-1zM4 57h1v1.15h-1zM4 72h1v1.15h-1zM5 31h1v1.15h-1zM5 45h1v1.15h-1zM5 58h1v1.15h-1zM6 15h1v1.15h-1zM6 56h1v1.15h-1zM6 76h1v1.15h-1zM6 80h1v1.15h-1zM7 111h1v1.15h-1zM8 80h1v1.15h-1zM8 95h1v1.15h-1zM9 98h1v1.15h-1zM9 114h1v1.15h-1z"/><path fill="#f3d9dc" d="M1 1h1v1.15h-1zM1 4h1v1.15h-1zM1 15h1v2.15h-1zM1 18h1v1.15h-1zM1 68h1v1.15h-1zM1 75h1v2.15h-1zM2 0h1v1.15h-1zM2 9h1v1.15h-1zM2 18h1v1.15h-1zM2 51h1v1.15h-1zM2 74h1v1.15h-1zM2 85h1v1.15h-1zM3 6h1v1.15h-1zM3 65h1v1.15h-1zM3 72h1v1.15h-1zM4 20h1v1.15h-1zM4 45h1v1.15h-1zM4 50h1v1.15h-1zM4 66h1v1.15h-1zM4 80h1v2.15h-1zM4 83h1v1.15h-1zM5 12h1v1.15h-1zM5 25h1v1.15h-1zM5 47h1v1.15h-1zM5 65h1v1.15h-1zM5 81h1v1.15h-1zM6 34h1v1.15h-1zM8 88h1v1.15h-1zM8 114h1v1.15h-1zM8 130h1v1.15h-1zM9 110h1v1.15h-1zM10 125h1v1.15h-1zM11 107h1v1.15h-1zM11 125h1v1.15h-1zM12 94h1v1.15h-1zM12 110h1v1.15h-1z"/><path fill="#f3d2d4" d="M0 44h1v1.15h-1zM0 53h1v1.15h-1zM0 56h1v2.15h-1zM1 2h1v2.15h-1zM1 17h1v1.15h-1zM1 41h1v1.15h-1zM1 46h1v2.15h-1zM1 78h1v1.15h-1zM1 80h1v1.15h-1zM1 85h1v1.15h-1zM2 37h1v1.15h-1zM2 60h1v1.15h-1zM2 83h1v1.15h-1zM3 0h1v1.15h-1zM3 18h1v1.15h-1zM3 84h1v1.15h-1zM4 1h1v1.15h-1zM4 4h1v1.15h-1zM4 19h1v1.15h-1zM4 29h1v1.15h-1zM4 46h1v1.15h-1zM4 48h1v2.15h-1zM4 70h1v1.15h-1zM5 0h1v1.15h-1zM5 26h1v1.15h-1zM5 38h1v1.15h-1zM5 56h1v1.15h-1zM5 59h1v1.15h-1zM5 61h1v1.15h-1zM5 82h1v2.15h-1zM6 74h1v1.15h-1zM6 81h1v1.15h-1zM7 98h1v1.15h-1zM7 110h1v1.15h-1zM8 108h1v3.15h-1zM8 115h1v1.15h-1zM8 128h1v1.15h-1zM9 88h1v1.15h-1zM9 97h1v1.15h-1zM9 111h1v3.15h-1zM10 89h1v1.15h-1zM10 111h1v1.15h-1zM10 120h1v1.15h-1zM12 99h1v1.15h-1zM12 117h1v1.15h-1z"/><path fill="#f0c5c7" d="M0 0h1v1.15h-1zM0 17h1v1.15h-1zM0 38h1v1.15h-1zM0 65h1v1.15h-1zM0 68h1v1.15h-1zM0 70h1v1.15h-1zM1 14h1v1.15h-1zM1 50h1v1.15h-1zM1 56h1v2.15h-1zM1 79h1v1.15h-1zM2 1h1v1.15h-1zM2 11h1v2.15h-1zM2 20h1v1.15h-1zM2 38h1v1.15h-1zM2 72h1v1.15h-1zM2 76h1v1.15h-1zM2 82h1v1.15h-1zM3 7h1v1.15h-1zM3 33h1v2.15h-1zM3 43h1v1.15h-1zM3 47h1v4.15h-1zM3 80h1v1.15h-1zM3 85h1v1.15h-1zM4 6h1v1.15h-1zM4 15h1v1.15h-1zM4 18h1v1.15h-1zM4 21h1v1.15h-1zM4 37h1v1.15h-1zM4 67h1v1.15h-1zM4 69h1v1.15h-1zM4 82h1v1.15h-1zM4 84h1v1.15h-1zM5 1h1v1.15h-1zM5 24h1v1.15h-1zM5 41h1v2.15h-1zM5 50h1v1.15h-1zM5 55h1v1.15h-1zM5 60h1v1.15h-1zM5 80h1v1.15h-1zM5 84h1v2.15h-1zM6 3h1v1.15h-1zM6 20h1v3.15h-1zM6 36h1v1.15h-1zM6 47h1v1.15h-1zM6 68h1v1.15h-1zM7 93h1v1.15h-1zM7 112h1v1.15h-1zM7 116h1v1.15h-1zM8 87h1v1.15h-1zM8 89h1v1.15h-1zM8 96h1v1.15h-1zM8 117h1v1.15h-1zM8 129h1v1.15h-1zM9 99h1v1.15h-1zM10 112h1v1.15h-1zM11 106h1v1.15h-1zM11 119h1v1.15h-1zM12 88h1v1.15h-1zM12 95h1v1.15h-1zM12 111h1v1.15h-1z"/><path fill="#edb9bb" d="M0 2h1v2.15h-1zM0 10h1v1.15h-1zM0 34h1v1.15h-1zM0 45h1v2.15h-1zM0 51h1v1.15h-1zM0 54h1v2.15h-1zM0 63h1v2.15h-1zM0 73h1v2.15h-1zM1 5h1v1.15h-1zM1 8h1v1.15h-1zM1 32h1v1.15h-1zM1 38h1v1.15h-1zM1 43h1v1.15h-1zM1 48h1v2.15h-1zM1 60h1v1.15h-1zM1 63h1v1.15h-1zM1 67h1v1.15h-1zM1 69h1v1.15h-1zM1 77h1v1.15h-1zM1 84h1v1.15h-1zM2 2h1v1.15h-1zM2 6h1v1.15h-1zM2 10h1v1.15h-1zM2 15h1v1.15h-1zM2 17h1v1.15h-1zM2 23h1v1.15h-1zM2 31h1v1.15h-1zM2 36h1v1.15h-1zM2 39h1v1.15h-1zM2 46h1v1.15h-1zM2 55h1v2.15h-1zM2 78h1v1.15h-1zM3 5h1v1.15h-1zM3 19h1v1.15h-1zM3 29h1v1.15h-1zM3 32h1v1.15h-1zM3 44h1v1.15h-1zM3 46h1v1.15h-1zM3 55h1v1.15h-1zM3 70h1v1.15h-1zM3 73h1v1.15h-1zM3 76h1v1.15h-1zM3 81h1v1.15h-1zM3 83h1v1.15h-1zM4 9h1v1.15h-1zM4 22h1v1.15h-1zM4 24h1v1.15h-1zM4 32h1v1.15h-1zM4 36h1v1.15h-1zM4 44h1v1.15h-1zM4 55h1v1.15h-1zM4 65h1v1.15h-1zM4 68h1v1.15h-1zM4 73h1v1.15h-1zM5 15h1v2.15h-1zM5 28h1v1.15h-1zM5 32h1v1.15h-1zM5 44h1v1.15h-1zM5 51h1v1.15h-1zM5 54h1v1.15h-1zM5 77h1v1.15h-1zM5 79h1v1.15h-1zM6 11h1v1.15h-1zM6 16h1v1.15h-1zM6 29h1v5.15h-1zM6 44h1v1.15h-1zM6 46h1v1.15h-1zM6 62h1v1.15h-1zM6 69h1v1.15h-1zM6 72h1v1.15h-1zM6 77h1v1.15h-1zM6 79h1v1.15h-1zM6 85h1v1.15h-1zM7 126h1v1.15h-1zM8 103h1v2.15h-1zM8 112h1v1.15h-1zM8 131h1v1.15h-1zM9 96h1v1.15h-1zM9 118h1v1.15h-1zM10 86h1v2.15h-1zM10 106h1v1.15h-1zM10 119h1v1.15h-1zM11 86h1v1.15h-1zM11 88h1v1.15h-1zM11 94h1v2.15h-1zM11 98h1v1.15h-1zM11 103h1v1.15h-1zM11 105h1v1.15h-1zM11 111h1v1.15h-1zM11 129h1v1.15h-1zM12 89h1v1.15h-1zM12 96h1v2.15h-1zM12 109h1v1.15h-1z"/><path fill="#eaadaf" d="M0 1h1v1.15h-1zM0 4h1v1.15h-1zM0 19h1v1.15h-1zM0 33h1v1.15h-1zM0 39h1v1.15h-1zM0 47h1v3.15h-1zM0 52h1v1.15h-1zM0 60h1v3.15h-1zM0 69h1v1.15h-1zM0 71h1v2.15h-1zM0 77h1v1.15h-1zM0 85h1v1.15h-1zM1 0h1v1.15h-1zM1 9h1v1.15h-1zM1 13h1v1.15h-1zM1 24h1v1.15h-1zM1 40h1v1.15h-1zM1 51h1v1.15h-1zM1 55h1v1.15h-1zM1 61h1v1.15h-1zM1 70h1v2.15h-1zM1 74h1v1.15h-1zM1 82h1v1.15h-1zM2 19h1v1.15h-1zM2 32h1v1.15h-1zM2 34h1v1.15h-1zM2 71h1v1.15h-1zM2 73h1v1.15h-1zM2 77h1v1.15h-1zM2 81h1v1.15h-1zM3 4h1v1.15h-1zM3 15h1v1.15h-1zM3 21h1v4.15h-1zM3 41h1v2.15h-1zM3 66h1v1.15h-1zM3 68h1v1.15h-1zM3 74h1v1.15h-1zM3 77h1v1.15h-1zM4 5h1v1.15h-1zM4 10h1v1.15h-1zM4 14h1v1.15h-1zM4 16h1v1.15h-1zM4 23h1v1.15h-1zM4 31h1v1.15h-1zM4 33h1v1.15h-1zM4 39h1v2.15h-1zM4 47h1v1.15h-1zM4 54h1v1.15h-1zM4 60h1v2.15h-1zM4 75h1v1.15h-1zM4 77h1v1.15h-1zM4 85h1v1.15h-1zM5 2h1v1.15h-1zM5 4h1v1.15h-1zM5 9h1v2.15h-1zM5 14h1v1.15h-1zM5 19h1v1.15h-1zM5 21h1v1.15h-1zM5 30h1v1.15h-1zM5 33h1v2.15h-1zM5 40h1v1.15h-1zM5 49h1v1.15h-1zM5 64h1v1.15h-1zM5 68h1v3.15h-1zM6 9h1v1.15h-1zM6 13h1v1.15h-1zM6 18h1v1.15h-1zM6 26h1v1.15h-1zM6 35h1v1.15h-1zM6 38h1v1.15h-1zM6 41h1v1.15h-1zM6 43h1v1.15h-1zM6 45h1v1.15h-1zM6 58h1v1.15h-1zM6 60h1v2.15h-1zM6 65h1v1.15h-1zM6 73h1v1.15h-1zM6 78h1v1.15h-1zM6 82h1v3.15h-1zM7 90h1v1.15h-1zM7 94h1v2.15h-1zM7 114h1v1.15h-1zM7 125h1v1.15h-1zM7 127h1v1.15h-1zM7 131h1v1.15h-1zM8 90h1v1.15h-1zM8 97h1v2.15h-1zM8 100h1v1.15h-1zM8 102h1v1.15h-1zM8 126h1v2.15h-1zM9 94h1v1.15h-1zM9 108h1v1.15h-1zM9 115h1v1.15h-1zM9 119h1v1.15h-1zM9 122h1v1.15h-1zM9 124h1v2.15h-1zM10 95h1v2.15h-1zM10 98h1v1.15h-1zM10 103h1v1.15h-1zM10 110h1v1.15h-1zM10 113h1v1.15h-1zM10 121h1v1.15h-1zM10 124h1v1.15h-1zM10 126h1v1.15h-1zM10 129h1v1.15h-1zM11 90h1v1.15h-1zM11 102h1v1.15h-1zM11 113h1v2.15h-1zM11 122h1v1.15h-1zM11 126h1v1.15h-1zM12 87h1v1.15h-1zM12 98h1v1.15h-1zM12 100h1v1.15h-1zM12 102h1v1.15h-1zM12 114h1v1.15h-1zM12 124h1v1.15h-1z"/><path fill="#e7a0a2" d="M0 7h1v3.15h-1zM0 14h1v1.15h-1zM0 16h1v1.15h-1zM0 24h1v1.15h-1zM0 31h1v2.15h-1zM0 40h1v2.15h-1zM0 66h1v1.15h-1zM0 76h1v1.15h-1zM0 79h1v1.15h-1zM0 83h1v1.15h-1zM1 10h1v3.15h-1zM1 28h1v1.15h-1zM1 31h1v1.15h-1zM1 45h1v1.15h-1zM1 58h1v1.15h-1zM1 62h1v1.15h-1zM1 65h1v1.15h-1zM2 21h1v2.15h-1zM2 28h1v1.15h-1zM2 30h1v1.15h-1zM2 40h1v4.15h-1zM2 45h1v1.15h-1zM2 52h1v2.15h-1zM2 61h1v1.15h-1zM2 63h1v1.15h-1zM2 65h1v1.15h-1zM2 68h1v1.15h-1zM3 1h1v2.15h-1zM3 8h1v1.15h-1zM3 10h1v1.15h-1zM3 13h1v1.15h-1zM3 16h1v2.15h-1zM3 20h1v1.15h-1zM3 25h1v1.15h-1zM3 39h1v1.15h-1zM3 51h1v2.15h-1zM3 57h1v1.15h-1zM3 62h1v1.15h-1zM3 69h1v1.15h-1zM3 75h1v1.15h-1zM3 79h1v1.15h-1zM3 82h1v1.15h-1zM4 0h1v1.15h-1zM4 8h1v1.15h-1zM4 11h1v1.15h-1zM4 30h1v1.15h-1zM4 38h1v1.15h-1zM4 43h1v1.15h-1zM4 58h1v1.15h-1zM4 62h1v1.15h-1zM4 64h1v1.15h-1zM4 74h1v1.15h-1zM4 79h1v1.15h-1zM5 8h1v1.15h-1zM5 11h1v1.15h-1zM5 13h1v1.15h-1zM5 20h1v1.15h-1zM5 22h1v1.15h-1zM5 27h1v1.15h-1zM5 29h1v1.15h-1zM5 39h1v1.15h-1zM5 43h1v1.15h-1zM5 48h1v1.15h-1zM5 62h1v2.15h-1zM6 0h1v2.15h-1zM6 7h1v1.15h-1zM6 19h1v1.15h-1zM6 28h1v1.15h-1zM6 49h1v2.15h-1zM6 63h1v2.15h-1zM6 70h1v2.15h-1zM7 96h1v2.15h-1zM7 104h1v1.15h-1zM7 108h1v1.15h-1zM7 113h1v1.15h-1zM7 120h1v1.15h-1zM7 122h1v1.15h-1zM7 124h1v1.15h-1zM7 130h1v1.15h-1zM8 91h1v2.15h-1zM8 94h1v1.15h-1zM8 99h1v1.15h-1zM8 101h1v1.15h-1zM8 105h1v1.15h-1zM8 107h1v1.15h-1zM8 116h1v1.15h-1zM8 119h1v2.15h-1zM9 86h1v1.15h-1zM9 90h1v4.15h-1zM9 95h1v1.15h-1zM9 100h1v1.15h-1zM9 102h1v2.15h-1zM9 106h1v1.15h-1zM9 116h1v1.15h-1zM10 88h1v1.15h-1zM10 100h1v1.15h-1zM10 114h1v1.15h-1zM10 122h1v2.15h-1zM11 97h1v1.15h-1zM11 112h1v1.15h-1zM11 128h1v1.15h-1zM11 131h1v1.15h-1zM12 86h1v1.15h-1zM12 106h1v1.15h-1zM12 112h1v2.15h-1zM12 126h1v1.15h-1zM12 131h1v1.15h-1z"/><path fill="#e39496" d="M0 6h1v1.15h-1zM0 11h1v1.15h-1zM0 13h1v1.15h-1zM0 15h1v1.15h-1zM0 20h1v2.15h-1zM0 23h1v1.15h-1zM0 25h1v2.15h-1zM0 29h1v1.15h-1zM0 36h1v1.15h-1zM0 42h1v2.15h-1zM0 50h1v1.15h-1zM0 59h1v1.15h-1zM0 67h1v1.15h-1zM0 75h1v1.15h-1zM0 80h1v1.15h-1zM0 84h1v1.15h-1zM1 6h1v1.15h-1zM1 20h1v1.15h-1zM1 23h1v1.15h-1zM1 25h1v1.15h-1zM1 29h1v1.15h-1zM1 42h1v1.15h-1zM1 44h1v1.15h-1zM1 59h1v1.15h-1zM1 72h1v1.15h-1zM2 3h1v1.15h-1zM2 7h1v1.15h-1zM2 14h1v1.15h-1zM2 16h1v1.15h-1zM2 24h1v1.15h-1zM2 26h1v2.15h-1zM2 29h1v1.15h-1zM2 35h1v1.15h-1zM2 54h1v1.15h-1zM2 57h1v3.15h-1zM2 62h1v1.15h-1zM2 64h1v1.15h-1zM2 66h1v1.15h-1zM2 75h1v1.15h-1zM2 79h1v2.15h-1zM3 11h1v2.15h-1zM3 26h1v1.15h-1zM3 28h1v1.15h-1zM3 38h1v1.15h-1zM3 40h1v1.15h-1zM3 45h1v1.15h-1zM3 56h1v1.15h-1zM3 58h1v4.15h-1zM3 67h1v1.15h-1zM3 78h1v1.15h-1zM4 7h1v1.15h-1zM4 17h1v1.15h-1zM4 27h1v1.15h-1zM4 34h1v1.15h-1zM4 41h1v1.15h-1zM4 53h1v1.15h-1zM4 59h1v1.15h-1zM4 78h1v1.15h-1zM5 5h1v3.15h-1zM5 18h1v1.15h-1zM5 23h1v1.15h-1zM5 66h1v1.15h-1zM5 71h1v1.15h-1zM5 73h1v1.15h-1zM5 75h1v2.15h-1zM6 25h1v1.15h-1zM6 27h1v1.15h-1zM6 37h1v1.15h-1zM6 39h1v1.15h-1zM6 42h1v1.15h-1zM6 48h1v1.15h-1zM7 92h1v1.15h-1zM7 103h1v1.15h-1zM7 107h1v1.15h-1zM7 109h1v1.15h-1zM7 115h1v1.15h-1zM7 119h1v1.15h-1zM7 121h1v1.15h-1zM7 129h1v1.15h-1zM8 86h1v1.15h-1zM8 106h1v1.15h-1zM8 113h1v1.15h-1zM8 118h1v1.15h-1zM8 125h1v1.15h-1zM9 87h1v1.15h-1zM9 89h1v1.15h-1zM9 109h1v1.15h-1zM9 123h1v1.15h-1zM9 130h1v2.15h-1zM10 92h1v1.15h-1zM10 104h1v2.15h-1zM10 116h1v1.15h-1zM10 118h1v1.15h-1zM11 87h1v1.15h-1zM11 89h1v1.15h-1zM11 93h1v1.15h-1zM11 96h1v1.15h-1zM11 118h1v1.15h-1zM11 123h1v2.15h-1zM12 93h1v1.15h-1zM12 103h1v1.15h-1zM12 116h1v1.15h-1zM12 118h1v1.15h-1zM12 120h1v4.15h-1zM12 128h1v1.15h-1z"/><path fill="#e08789" d="M0 12h1v1.15h-1zM0 22h1v1.15h-1zM0 28h1v1.15h-1zM0 37h1v1.15h-1zM0 58h1v1.15h-1zM0 78h1v1.15h-1zM0 81h1v1.15h-1zM1 21h1v1.15h-1zM1 53h1v1.15h-1zM1 64h1v1.15h-1zM1 66h1v1.15h-1zM1 83h1v1.15h-1zM2 5h1v1.15h-1zM2 13h1v1.15h-1zM2 25h1v1.15h-1zM2 70h1v1.15h-1zM3 3h1v1.15h-1zM3 9h1v1.15h-1zM3 30h1v1.15h-1zM3 35h1v2.15h-1zM4 25h1v1.15h-1zM4 35h1v1.15h-1zM5 3h1v1.15h-1zM5 17h1v1.15h-1zM5 35h1v1.15h-1zM5 53h1v1.15h-1zM5 67h1v1.15h-1zM5 72h1v1.15h-1zM5 78h1v1.15h-1zM6 2h1v1.15h-1zM6 4h1v3.15h-1zM6 17h1v1.15h-1zM6 23h1v2.15h-1zM6 40h1v1.15h-1zM6 51h1v1.15h-1zM6 59h1v1.15h-1zM6 66h1v1.15h-1zM7 87h1v1.15h-1zM7 89h1v1.15h-1zM8 93h1v1.15h-1zM8 121h1v1.15h-1zM9 101h1v1.15h-1zM9 104h1v1.15h-1zM9 120h1v2.15h-1zM9 126h1v2.15h-1zM10 90h1v2.15h-1zM10 97h1v1.15h-1zM10 99h1v1.15h-1zM10 102h1v1.15h-1zM10 109h1v1.15h-1zM10 117h1v1.15h-1zM10 128h1v1.15h-1zM11 99h1v1.15h-1zM11 101h1v1.15h-1zM11 109h1v2.15h-1zM11 115h1v1.15h-1zM11 127h1v1.15h-1zM11 130h1v1.15h-1zM12 90h1v1.15h-1zM12 104h1v1.15h-1zM12 125h1v1.15h-1zM12 130h1v1.15h-1z"/><path fill="#de7b7d" d="M0 5h1v1.15h-1zM0 27h1v1.15h-1zM0 30h1v1.15h-1zM0 35h1v1.15h-1zM1 7h1v1.15h-1zM1 22h1v1.15h-1zM1 34h1v2.15h-1zM1 37h1v1.15h-1zM1 54h1v1.15h-1zM1 73h1v1.15h-1zM2 8h1v1.15h-1zM2 44h1v1.15h-1zM3 14h1v1.15h-1zM3 27h1v1.15h-1zM3 37h1v1.15h-1zM3 53h1v1.15h-1zM3 63h1v1.15h-1zM4 12h1v2.15h-1zM4 26h1v1.15h-1zM4 51h1v1.15h-1zM4 63h1v1.15h-1zM4 76h1v1.15h-1zM5 36h1v1.15h-1zM5 52h1v1.15h-1zM5 74h1v1.15h-1zM6 12h1v1.15h-1zM6 55h1v1.15h-1zM6 67h1v1.15h-1zM7 88h1v1.15h-1zM7 100h1v1.15h-1zM7 105h1v1.15h-1zM7 117h1v1.15h-1zM8 122h1v1.15h-1zM10 94h1v1.15h-1zM10 115h1v1.15h-1zM10 130h1v1.15h-1zM11 100h1v1.15h-1zM11 108h1v1.15h-1zM11 120h1v1.15h-1zM12 105h1v1.15h-1zM12 115h1v1.15h-1zM12 119h1v1.15h-1zM12 129h1v1.15h-1z"/><path fill="#da6f71" d="M0 82h1v1.15h-1zM1 27h1v1.15h-1zM1 33h1v1.15h-1zM1 52h1v1.15h-1zM2 4h1v1.15h-1zM3 31h1v1.15h-1zM3 54h1v1.15h-1zM4 42h1v1.15h-1zM5 37h1v1.15h-1zM6 10h1v1.15h-1zM6 14h1v1.15h-1zM6 53h1v2.15h-1zM7 86h1v1.15h-1zM7 91h1v1.15h-1zM7 106h1v1.15h-1zM9 107h1v1.15h-1zM9 117h1v1.15h-1zM10 93h1v1.15h-1zM10 101h1v1.15h-1zM10 108h1v1.15h-1zM10 127h1v1.15h-1zM11 92h1v1.15h-1zM11 116h1v2.15h-1zM12 91h1v1.15h-1zM12 107h1v2.15h-1z"/><path fill="#d86264" d="M1 30h1v1.15h-1zM1 36h1v1.15h-1zM2 33h1v1.15h-1zM2 67h1v1.15h-1zM4 52h1v1.15h-1zM6 52h1v1.15h-1zM7 102h1v1.15h-1zM7 118h1v1.15h-1zM7 123h1v1.15h-1zM7 128h1v1.15h-1zM9 105h1v1.15h-1zM9 129h1v1.15h-1zM10 107h1v1.15h-1zM11 91h1v1.15h-1zM12 92h1v1.15h-1zM12 127h1v1.15h-1z"/><path fill="#d45658" d="M1 26h1v1.15h-1zM2 69h1v1.15h-1zM6 8h1v1.15h-1zM7 101h1v1.15h-1zM10 131h1v1.15h-1zM12 101h1v1.15h-1z"/><path fill="#d14b4e" d="M8 123h1v2.15h-1zM9 128h1v1.15h-1zM11 121h1v1.15h-1z"/></g><path fill="none" stroke="#000" stroke-width="0.75" d="M376.9 825.1H366.6V825.3H376.9M376.9 824.9H365.3V825.2H366.6M376.9 825.6H369.4V825.8H376.9M369.4 825.7H368.5V826H376.9M376.9 825.4H366.2V825.9H368.5M365.3 825H360.7V825.7H366.2M376.9 826.4H363.9V826.6H376.9M376.9 826.7H364.6V826.9H376.9M363.9 826.5H362.1V826.8H364.6M376.9 826.2H357.5V826.6H362.1M376.9 827.5H369.2V827.7H376.9M369.2 827.6H367.3V827.8H376.9M376.9 827.3H365.8V827.7H367.3M376.9 827.1H364.2V827.5H365.8M376.9 828H363.1V828.2H376.9M364.2 827.3H356.4V828.1H363.1M357.5 826.4H354.2V827.7H356.4M360.7 825.3H352.7V827.1H354.2M376.9 828.4H365.6V828.6H376.9M376.9 828.8H366.4V828.9H376.9M365.6 828.5H364.1V828.9H366.4M364.1 828.7H359.4V829.1H376.9M376.9 829.5H367.3V829.7H376.9M367.3 829.6H366.4V829.9H376.9M376.9 830.1H367.3V830.2H376.9M366.4 829.7H365.2V830.1H367.3M376.9 829.3H362.4V829.9H365.2M376.9 830.4H363.4V830.6H376.9M362.4 829.6H360.5V830.5H363.4M376.9 831.2H368.8V831.3H376.9M376.9 831.5H367.1V831.7H376.9M368.8 831.3H366.4V831.6H367.1M376.9 831.9H368.6V832.1H376.9M368.6 832H366.3V832.3H376.9M366.4 831.4H363.7V832.1H366.3M376.9 831H361.7V831.8H363.7M376.9 830.8H360.5V831.4H361.7M360.5 830.1H357.8V831.1H360.5M376.9 832.4H365.2V832.6H376.9M365.2 832.5H360V832.8H376.9M357.8 830.6H357V832.7H360M376.9 833.2H367.7V833.4H376.9M376.9 833H364.9V833.3H367.7M376.9 833.6H369.1V833.7H376.9M364.9 833.1H361.9V833.6H369.1M376.9 833.9H364.6V834.1H376.9M364.6 834H360V834.3H376.9M361.9 833.4H355.3V834.2H360M357 831.6H353.6V833.8H355.3M376.9 834.8H366.7V835H376.9M376.9 834.7H363.8V834.9H366.7M376.9 835.4H368.9V835.6H376.9M376.9 835.2H367.1V835.5H368.9M367.1 835.4H363.4V835.8H376.9M363.8 834.8H361.2V835.6H363.4M376.9 834.5H358.3V835.2H361.2M376.9 836.1H367.9V836.3H376.9M367.9 836.2H365.2V836.5H376.9M376.9 836H361.5V836.4H365.2M376.9 837.1H368V837.2H376.9M376.9 836.9H363.5V837.2H368M376.9 836.7H355.8V837H363.5M361.5 836.2H353.3V836.9H355.8M376.9 837.4H363V837.6H376.9M353.3 836.5H352.4V837.5H363M376.9 837.8H368V838H376.9M376.9 838.2H370.4V838.3H376.9M370.4 838.3H369.1V838.5H376.9M369.1 838.4H366.1V838.7H376.9M368 837.9H359.9V838.6H366.1M376.9 838.9H365.2V839.1H376.9M359.9 838.2H357.2V839H365.2M376.9 839.5H368.5V839.6H376.9M376.9 839.3H363.9V839.5H368.5M363.9 839.4H363V839.8H376.9M363 839.6H360.7V840H376.9M360.7 839.8H358.6V840.2H376.9M376.9 840.4H369.7V840.6H376.9M369.7 840.5H365.6V840.7H376.9M358.6 840H355.9V840.6H365.6M376.9 841.1H363.9V841.3H376.9M376.9 840.9H360.6V841.2H363.9M376.9 841.5H365.5V841.7H376.9M360.6 841.1H356.8V841.6H365.5M355.9 840.3H354.4V841.3H356.8M376.9 842H365.4V842.2H376.9M376.9 842.4H368V842.6H376.9M376.9 842.8H371.2V843H376.9M371.2 842.9H368.6V843.1H376.9M368 842.5H366V843H368.6M365.4 842.1H363.3V842.7H366M376.9 841.9H361.6V842.4H363.3M376.9 843.3H369.3V843.5H376.9M361.6 842.1H359V843.4H369.3M376.9 843.7H368.9V843.9H376.9M376.9 844.1H365.8V844.2H376.9M365.8 844.2H363.7V844.4H376.9M368.9 843.8H361.3V844.3H363.7M376.9 844.6H366.4V844.8H376.9M366.4 844.7H364.8V845H376.9M361.3 844H359.9V844.8H364.8M359 842.8H357.3V844.4H359.9M376.9 845.4H368V845.5H376.9M368 845.4H364.5V845.7H376.9M376.9 846.1H365.9V846.3H376.9M376.9 845.9H364V846.2H365.9M364.5 845.6H362.5V846H364M376.9 845.2H355.6V845.8H362.5M357.3 843.6H354.8V845.5H355.6M354.4 840.8H352.7V844.6H354.8M376.9 846.6H366.9V846.8H376.9M376.9 846.5H364.6V846.7H366.9M364.6 846.6H360.5V847H376.9M376.9 847.2H362.6V847.4H376.9M376.9 847.6H363.7V847.7H376.9M376.9 848.1H369.7V848.3H376.9M376.9 847.9H363.7V848.2H369.7M363.7 847.7H362.5V848.1H363.7M362.6 847.3H359.9V847.9H362.5M376.9 848.5H364.8V848.7H376.9M359.9 847.6H357.3V848.6H364.8M360.5 846.8H354.2V848.1H357.3M376.9 848.9H365.9V849H376.9M376.9 849.4H369V849.6H376.9M376.9 849.2H368.1V849.5H369M368.1 849.4H366.2V849.8H376.9M376.9 850.1H369.5V850.3H376.9M376.9 850H363.2V850.2H369.5M366.2 849.6H360.4V850.1H363.2M365.9 848.9H358.7V849.8H360.4M354.2 847.4H353.2V849.4H358.7M376.9 850.7H367.3V850.9H376.9M376.9 850.5H361.7V850.8H367.3M376.9 851.1H365.4V851.3H376.9M376.9 851.4H366.1V851.6H376.9M365.4 851.2H363.6V851.5H366.1M361.7 850.7H360.7V851.3H363.6M376.9 851.8H363.2V852H376.9M360.7 851H357.1V851.9H363.2M376.9 852.4H363.9V852.5H376.9M376.9 852.2H361V852.4H363.9M376.9 852.9H366V853.1H376.9M376.9 852.7H364V853H366M376.9 853.5H367.2V853.6H376.9M376.9 853.8H366.4V854H376.9M367.2 853.6H365.8V853.9H366.4M376.9 853.3H364.1V853.7H365.8M364 852.9H362.4V853.5H364.1M361 852.3H358.5V853.2H362.4M376.9 854.2H369.7V854.4H376.9M376.9 854.6H368.1V854.8H376.9M369.7 854.3H364.7V854.7H368.1M376.9 854.9H362.4V855.1H376.9M364.7 854.5H358.9V855H362.4M358.5 852.7H356.4V854.8H358.9M357.1 851.4H355.3V853.8H356.4M353.2 848.4H352.4V852.6H355.3M376.9 855.7H371.1V855.9H376.9M376.9 855.5H368.9V855.8H371.1M368.9 855.6H367V856H376.9M376.9 855.3H364.5V855.8H367M376.9 856.2H368.9V856.4H376.9M364.5 855.6H361.9V856.3H368.9M376.9 856.8H371.6V857H376.9M376.9 856.6H369V856.9H371.6M369 856.7H367V857.2H376.9M367 856.9H364.7V857.3H376.9M361.9 855.9H357V857.1H364.7M376.9 857.5H367.2V857.7H376.9M367.2 857.6H361.1V857.9H376.9M357 856.5H356.2V857.7H361.1M376.9 858.4H370.2V858.6H376.9M376.9 858.3H367.3V858.5H370.2M376.9 858.1H361.6V858.4H367.3M376.9 859H370.1V859.2H376.9M376.9 858.8H367.9V859.1H370.1M367.9 858.9H365.9V859.4H376.9M361.6 858.2H360.1V859.2H365.9M356.2 857.1H353.7V858.7H360.1M376.9 859.7H362.4V859.9H376.9M376.9 859.5H360V859.8H362.4M376.9 860.1H365.6V860.3H376.9M376.9 860.5H368.4V860.7H376.9M365.6 860.2H360.7V860.6H368.4M376.9 861H369.7V861.2H376.9M369.7 861.1H367V861.4H376.9M376.9 860.8H361.8V861.3H367M376.9 861.8H368.5V861.9H376.9M376.9 861.6H361.6V861.9H368.5M361.8 861H360.1V861.7H361.6M376.9 862.1H364V862.3H376.9M360.1 861.4H358.4V862.2H364M360.7 860.4H357.8V861.8H358.4M376.9 862.5H368.3V862.7H376.9M368.3 862.6H366.4V862.9H376.9M376.9 863H367.1V863.2H376.9M366.4 862.7H364.4V863.1H367.1M357.8 861.1H355.4V862.9H364.4M360 859.7H352.9V862H355.4M353.7 857.9H352.2V860.8H352.9M376.9 863.4H363.9V863.6H376.9M376.9 863.8H367.5V864H376.9M367.5 863.9H365.5V864.2H376.9M376.9 864.3H368.7V864.5H376.9M365.5 864H363.4V864.4H368.7M376.9 864.7H365.6V864.9H376.9M363.4 864.2H362.4V864.8H365.6M363.9 863.5H361.6V864.5H362.4M376.9 865.6H368.1V865.8H376.9M376.9 865.4H365.8V865.7H368.1M376.9 866H366.8V866.2H376.9M365.8 865.6H364V866.1H366.8M376.9 865.3H362V865.8H364M376.9 865.1H359.7V865.5H362M361.6 864H358.8V865.3H359.7M376.9 866.7H368V866.9H376.9M376.9 866.6H360.5V866.8H368M376.9 866.4H358.3V866.7H360.5M376.9 867.1H365.9V867.3H376.9M376.9 867.5H367.2V867.7H376.9M367.2 867.6H366.4V867.8H376.9M365.9 867.2H363.6V867.7H366.4M376.9 868H367.1V868.2H376.9M367.1 868.1H362.1V868.4H376.9M363.6 867.5H360.5V868.3H362.1M376.9 868.8H369.3V868.9H376.9M376.9 868.6H362.3V868.9H369.3M360.5 867.9H359.7V868.7H362.3M358.3 866.5H357.7V868.3H359.7M358.8 864.7H355.8V867.4H357.7M376.9 869.1H369.1V869.3H376.9M369.1 869.2H364.2V869.5H376.9M376.9 869.7H362.9V869.9H376.9M376.9 870.2H365.3V870.4H376.9M376.9 870.1H362.6V870.3H365.3M362.9 869.8H359.7V870.2H362.6M364.2 869.4H358.7V870H359.7M355.8 866H354.3V869.7H358.7M376.9 870.8H369.4V871H376.9M376.9 871.3H365.5V871.5H376.9M376.9 871.2H362.9V871.4H365.5M369.4 870.9H361.5V871.3H362.9M376.9 870.6H358.9V871.1H361.5M354.3 867.9H352.6V870.8H358.9M376.9 871.7H368.1V871.9H376.9M368.1 871.8H362V872.1H376.9M376.9 872.3H363.3V872.5H376.9M376.9 872.6H365.9V872.8H376.9M363.3 872.4H360.9V872.7H365.9M362 871.9H352.8V872.5H360.9M376.9 873.2H364.9V873.4H376.9M376.9 873H364.1V873.3H364.9M364.1 873.1H360.6V873.6H376.9M376.9 873.7H364.9V873.9H376.9M376.9 874.1H368V874.3H376.9M368 874.2H366.6V874.5H376.9M364.9 873.8H356.5V874.3H366.6M360.6 873.3H355.7V874.1H356.5M376.9 874.8H363.9V875H376.9M376.9 874.7H362.5V874.9H363.9M376.9 875.4H369.1V875.6H376.9M376.9 875.2H364.6V875.5H369.1M362.5 874.8H360V875.4H364.6M376.9 875.8H364.2V876H376.9M360 875.1H358.6V875.9H364.2M376.9 876.3H368.7V876.5H376.9M376.9 876.1H366V876.4H368.7M358.6 875.5H354.8V876.3H366M355.7 873.7H352.9V875.9H354.8M376.9 877.1H370.4V877.2H376.9M376.9 876.9H368.5V877.2H370.4M368.5 877H366V877.4H376.9M376.9 876.7H360.8V877.2H366M376.9 877.8H369.5V878H376.9M369.5 877.9H366.4V878.2H376.9M376.9 877.6H364.5V878H366.4M364.5 877.8H362.2V878.3H376.9M376.9 878.5H366.6V878.7H376.9M362.2 878.1H359.5V878.6H366.6M360.8 877H355.4V878.4H359.5M376.9 878.9H367.5V879.1H376.9M355.4 877.7H354V879H367.5M376.9 879.5H363.7V879.6H376.9M363.7 879.5H361.2V879.8H376.9M376.9 879.3H355.8V879.7H361.2M354 878.3H353.3V879.5H355.8M376.9 880H362.7V880.2H376.9M376.9 880.6H367.6V880.7H376.9M367.6 880.7H366.3V880.9H376.9M376.9 880.4H363.9V880.8H366.3M376.9 881.3H365.7V881.5H376.9M365.7 881.4H363.2V881.7H376.9M376.9 881.1H361.7V881.5H363.2M363.9 880.6H360.1V881.3H361.7M362.7 880.1H356.6V881H360.1M376.9 881.9H362.8V882H376.9M356.6 880.5H354.9V881.9H362.8M376.9 882.2H366.7V882.4H376.9M376.9 882.6H368.2V882.8H376.9M366.7 882.3H366V882.7H368.2M366 882.5H363.1V883H376.9M376.9 883.5H367.2V883.7H376.9M376.9 883.3H364.5V883.6H367.2M376.9 883.1H362.4V883.5H364.5M362.4 883.3H361.3V883.9H376.9M361.3 883.6H360.5V884.1H376.9M376.9 884.2H366.8V884.4H376.9M376.9 884.6H368.6V884.8H376.9M368.6 884.7H366.2V885H376.9M366.8 884.3H364.7V884.8H366.2M376.9 885.5H369.1V885.7H376.9M376.9 885.4H366.4V885.6H369.1M376.9 885.2H363.6V885.5H366.4M363.6 885.3H361.6V885.9H376.9M361.6 885.6H360.7V886.1H376.9M364.7 884.6H357.7V885.9H360.7M360.5 883.8H356V885.2H357.7M363.1 882.7H354.7V884.5H356M354.9 881.2H352.2V883.6H354.7M376.9 886.3H369.5V886.5H376.9M369.5 886.4H364.3V886.6H376.9M376.9 887H367.7V887.2H376.9M376.9 886.8H366.1V887.1H367.7M376.9 887.4H365.6V887.6H376.9M366.1 887H364.4V887.5H365.6M376.9 887.9H368.7V888.1H376.9M376.9 888.3H371.4V888.5H376.9M371.4 888.4H369.2V888.7H376.9M368.7 888H367.8V888.5H369.2M376.9 887.7H365V888.3H367.8M364.4 887.2H362.3V888H365M364.3 886.5H359.6V887.6H362.3M376.9 888.9H365.4V889H376.9M376.9 889.2H366.4V889.4H376.9M376.9 889.8H367V890H376.9M376.9 890.1H367.4V890.3H376.9M367 889.9H364.5V890.2H367.4M376.9 889.6H362.5V890.1H364.5M366.4 889.3H358.7V889.8H362.5M376.9 890.7H366.9V890.9H376.9M376.9 890.5H362.6V890.8H366.9M376.9 891.1H369V891.3H376.9M369 891.2H364.4V891.4H376.9M362.6 890.7H358.8V891.3H364.4M358.7 889.6H358.1V891H358.8M376.9 891.6H368.9V891.8H376.9M376.9 892H369.6V892.2H376.9M376.9 892.7H372.6V892.9H376.9M376.9 892.5H370.5V892.8H372.6M376.9 892.4H368.1V892.7H370.5M369.6 892.1H367.4V892.5H368.1M376.9 893.1H366.3V893.3H376.9M367.4 892.3H364.8V893.2H366.3M376.9 893.5H368.4V893.6H376.9M368.4 893.6H366.1V893.8H376.9M364.8 892.7H362.1V893.7H366.1M368.9 891.7H360.2V893.2H362.1M376.9 894.2H366V894.4H376.9M376.9 894H363.7V894.3H366M376.9 894.6H368.4V894.8H376.9M363.7 894.2H361.7V894.7H368.4M361.7 894.4H360.8V894.9H376.9M360.2 892.5H357.7V894.7H360.8M376.9 895.1H365.3V895.3H376.9M365.3 895.2H362.7V895.5H376.9M357.7 893.6H356.6V895.4H362.7M376.9 895.7H368.7V895.9H376.9M376.9 896H369V896.2H376.9M368.7 895.8H366.6V896.1H369M366.6 896H363.9V896.4H376.9M356.6 894.5H355.7V896.2H363.9M376.9 896.8H363.4V897H376.9M376.9 896.6H361.9V896.9H363.4M376.9 897.2H362.9V897.3H376.9M376.9 897.5H365.9V897.7H376.9M365.9 897.6H364.9V897.9H376.9M364.9 897.7H362.5V898.1H376.9M362.9 897.2H358.1V897.9H362.5M361.9 896.7H355.6V897.6H358.1M355.7 895.3H354.5V897.2H355.6M376.9 898.3H362.1V898.4H376.9M376.9 899H367.7V899.2H376.9M376.9 898.8H365V899.1H367.7M365 898.9H363.7V899.4H376.9M363.7 899.2H361.6V899.5H376.9M376.9 898.6H359.7V899.4H361.6M362.1 898.3H357.8V899H359.7M376.9 899.7H363.2V899.9H376.9M363.2 899.8H359.3V900.1H376.9M376.9 900.3H366.7V900.5H376.9M366.7 900.4H365.8V900.7H376.9M365.8 900.5H361.7V900.8H376.9M361.7 900.7H360.2V901H376.9M359.3 900H357.5V900.8H360.2M357.8 898.7H355.3V900.4H357.5M376.9 901.2H367.8V901.4H376.9M376.9 901.6H365.5V901.8H376.9M376.9 902.1H369.3V902.3H376.9M376.9 901.9H364.4V902.2H369.3M365.5 901.7H363.5V902.1H364.4M376.9 902.5H367.1V902.7H376.9M367.1 902.6H365.8V902.9H376.9M363.5 901.9H361.7V902.7H365.8M376.9 903.2H366.1V903.4H376.9M376.9 903H363.3V903.3H366.1M376.9 903.8H369.9V904H376.9M376.9 903.6H366.9V903.9H369.9M363.3 903.2H362.3V903.7H366.9M361.7 902.3H357.5V903.5H362.3M367.8 901.3H355.2V902.9H357.5M355.3 899.5H353.4V902.1H355.2M376.9 904.3H367.9V904.5H376.9M376.9 904.2H365V904.4H367.9M365 904.3H362.1V904.7H376.9M362.1 904.5H359.8V904.9H376.9M353.4 900.8H352.3V904.7H359.8M376.9 905.1H369.1V905.3H376.9M376.9 905.4H367V905.6H376.9M369.1 905.2H364.3V905.5H367M376.9 905.8H365V906H376.9M376.9 906.2H369.3V906.4H376.9M376.9 906.6H367.2V906.7H376.9M369.3 906.3H366V906.6H367.2M365 905.9H360.7V906.5H366M364.3 905.4H357.7V906.2H360.7M376.9 906.9H365.9V907.1H376.9M376.9 907.3H368.8V907.5H376.9M368.8 907.4H367.2V907.7H376.9M365.9 907H363.3V907.5H367.2M376.9 907.8H368.6V908H376.9M368.6 907.9H365.9V908.2H376.9M376.9 908.6H369.5V908.8H376.9M376.9 908.9H367.3V909.1H376.9M369.5 908.7H364.3V909H367.3M376.9 908.4H361.3V908.9H364.3M365.9 908.1H356.4V908.6H361.3M376.9 909.7H368.8V909.9H376.9M376.9 909.5H366.5V909.8H368.8M376.9 909.3H359.2V909.6H366.5M376.9 910.1H369.6V910.2H376.9M376.9 910.4H367.9V910.6H376.9M367.9 910.5H365.8V910.8H376.9M369.6 910.1H361.5V910.7H365.8M376.9 911.2H368.4V911.3H376.9M376.9 911H366.6V911.3H368.4M366.6 911.1H364.7V911.5H376.9M361.5 910.4H358.1V911.3H364.7M359.2 909.5H355.2V910.9H358.1M356.4 908.3H353.9V910.2H355.2M376.9 911.7H369.6V911.9H376.9M369.6 911.8H367.3V912.1H376.9M367.3 911.9H365.9V912.3H376.9M376.9 912.5H365.7V912.6H376.9M365.7 912.5H362.4V912.8H376.9M362.4 912.7H361.1V913H376.9M365.9 912.1H357V912.8H361.1M376.9 913.2H363.5V913.4H376.9M363.5 913.3H358.5V913.6H376.9M376.9 913.7H363.2V913.9H376.9M358.5 913.4H357.5V913.8H363.2M357 912.5H355.8V913.6H357.5M353.9 909.3H352.9V913H355.8M376.9 914.5H366.4V914.7H376.9M376.9 914.3H364.5V914.6H366.4M376.9 914.1H358.8V914.4H364.5M358.8 914.3H357.7V914.8H376.9M376.9 915.4H366.5V915.6H376.9M376.9 915.2H364.7V915.5H366.5M376.9 915H363.2V915.4H364.7M357.7 914.6H355.4V915.2H363.2M376.9 915.8H367.6V916H376.9M367.6 915.9H363.3V916.1H376.9M376.9 916.5H367.4V916.7H376.9M376.9 916.3H366.5V916.6H367.4M363.3 916H355V916.5H366.5M355.4 914.9H353.2V916.2H355M376.9 916.9H365V917.1H376.9M376.9 917.2H364.5V917.4H376.9M376.9 917.6H369.4V917.8H376.9M376.9 918.2H369V918.3H376.9M376.9 918H366.9V918.3H369M369.4 917.7H364V918.1H366.9M364.5 917.3H362.4V917.9H364M365 917H357.7V917.6H362.4M376.9 918.7H362.7V918.9H376.9M376.9 918.5H359.7V918.8H362.7M357.7 917.3H356.4V918.7H359.7M376.9 919.1H366.1V919.3H376.9M376.9 919.5H367.2V919.6H376.9M366.1 919.2H359V919.5H367.2M376.9 920H369.6V920.2H376.9M376.9 919.8H363.6V920.1H369.6M359 919.4H358.4V920H363.6M376.9 920.7H369.3V920.9H376.9M376.9 920.6H367.7V920.8H369.3M376.9 920.4H365.1V920.7H367.7M376.9 921.1H365.9V921.3H376.9M365.1 920.5H363.1V921.2H365.9M358.4 919.7H357.4V920.9H363.1M356.4 918H354.6V920.3H357.4M376.9 921.7H367.6V921.9H376.9M367.6 921.8H366.4V922H376.9M366.4 921.9H364.9V922.2H376.9M376.9 921.5H356.2V922.1H364.9M376.9 922.4H365.2V922.6H376.9M376.9 922.8H362.9V923H376.9M376.9 923.1H364.4V923.3H376.9M362.9 922.9H361.3V923.2H364.4M376.9 923.5H366.7V923.7H376.9M361.3 923H356.7V923.6H366.7M365.2 922.5H355.9V923.3H356.7M356.2 921.8H354.6V922.9H355.9M354.6 919.1H353.5V922.3H354.6M376.9 923.9H365.4V924.1H376.9M376.9 924.4H369.2V924.6H376.9M376.9 924.2H366.4V924.5H369.2M365.4 924H363.6V924.4H366.4M376.9 924.8H362.6V925H376.9M363.6 924.2H361.7V924.9H362.6M376.9 925.2H366.3V925.4H376.9M361.7 924.5H358.8V925.3H366.3M376.9 925.5H368.2V925.7H376.9M368.2 925.6H362V925.9H376.9M376.9 926.1H367.2V926.3H376.9M367.2 926.2H364.5V926.5H376.9M362 925.8H359V926.3H364.5M358.8 924.9H357.5V926H359M376.9 927H367.7V927.2H376.9M376.9 926.8H362.8V927.1H367.7M376.9 926.6H361.3V927H362.8M376.9 927.6H368.6V927.8H376.9M376.9 927.4H367V927.7H368.6M361.3 926.8H359V927.5H367M357.5 925.5H356.5V927.2H359M376.9 928.1H368.1V928.3H376.9M368.1 928.2H364.3V928.5H376.9M376.9 927.9H360.5V928.3H364.3M376.9 928.7H369.6V928.9H376.9M360.5 928.1H359.7V928.8H369.6M376.9 929H369.2V929.2H376.9M376.9 929.4H367.5V929.6H376.9M376.9 929.8H368.2V930H376.9M376.9 930.1H367.2V930.3H376.9M368.2 929.9H366.3V930.2H367.2M367.5 929.5H365.3V930.1H366.3M365.3 929.8H363.8V930.5H376.9M369.2 929.1H361.8V930.1H363.8M376.9 930.7H369.1V930.9H376.9M369.1 930.8H366.5V931.1H376.9M376.9 931.8H372.2V932H376.9M376.9 931.6H371.2V931.9H372.2M376.9 931.4H368.7V931.8H371.2M368.7 931.6H367.7V932.2H376.9M376.9 931.3H365.3V931.9H367.7M376.9 932.5H368.7V932.7H376.9M376.9 932.4H364.9V932.6H368.7M365.3 931.6H363.4V932.5H364.9M366.5 930.9H362.1V932H363.4M361.8 929.6H359.5V931.5H362.1M359.7 928.5H356.6V930.6H359.5M356.5 926.3H354.2V929.5H356.6M353.5 920.7H352.7V927.9H354.2M376.9 932.9H369.6V933.1H376.9M376.9 933.5H367.7V933.6H376.9M367.7 933.6H365.8V933.8H376.9M376.9 933.3H363.6V933.7H365.8M376.9 934H366.3V934.2H376.9M366.3 934.1H364.2V934.4H376.9M363.6 933.5H361.6V934.2H364.2M376.9 934.6H366.6V934.8H376.9M376.9 934.9H366.7V935.1H376.9M366.6 934.7H365.6V935H366.7M376.9 935.3H368V935.5H376.9M365.6 934.8H362.9V935.4H368M362.9 935.1H358.3V935.7H376.9M361.6 933.9H357.2V935.4H358.3M369.6 933H353.3V934.6H357.2M376.9 936H368.7V936.2H376.9M376.9 935.9H359.3V936.1H368.7M376.9 936.4H368.9V936.6H376.9M376.9 936.8H369.5V937H376.9M368.9 936.5H364.4V936.9H369.5M376.9 937.2H369.2V937.3H376.9M369.2 937.2H366.4V937.5H376.9M366.4 937.4H365.5V937.7H376.9M364.4 936.7H352.7V937.5H365.5M376.9 938.6H370.3V938.8H376.9M370.3 938.7H368.7V939H376.9M376.9 938.4H366.4V938.9H368.7M376.9 938.3H365.5V938.6H366.4M376.9 938.1H362.8V938.5H365.5M376.9 939.2H362.3V939.4H376.9M362.3 939.3H359.3V939.5H376.9M362.8 938.3H356.8V939.4H359.3M376.9 937.9H354.5V938.8H356.8M376.9 939.9H365V940.1H376.9M365 940H364.1V940.3H376.9M364.1 940.1H360.1V940.5H376.9M376.9 939.7H359.4V940.3H360.1M376.9 941H368.4V941.2H376.9M376.9 940.8H365.5V941.1H368.4M376.9 940.7H364.7V941H365.5M376.9 941.4H368.4V941.6H376.9M368.4 941.5H360.8V941.8H376.9M364.7 940.8H358.4V941.6H360.8M359.4 940H356.8V941.2H358.4M376.9 941.9H369.4V942.1H376.9M376.9 942.5H369.5V942.7H376.9M376.9 942.3H365.2V942.6H369.5M376.9 942.9H368.8V943H376.9M365.2 942.5H364.1V943H368.8M376.9 943.6H367.6V943.8H376.9M376.9 943.4H366V943.7H367.6M376.9 943.2H363.4V943.6H366M364.1 942.7H359.2V943.4H363.4M369.4 942H358.5V943H359.2M356.8 940.6H356V942.5H358.5M376.9 944H363.4V944.2H376.9M376.9 944.5H369.4V944.7H376.9M376.9 944.3H365.1V944.6H369.4M376.9 944.9H366.7V945.1H376.9M376.9 945.3H369V945.4H376.9M366.7 945H363.6V945.4H369M365.1 944.5H362.8V945.2H363.6M363.4 944.1H357.2V944.8H362.8M356 941.6H354.9V944.4H357.2M354.5 938.4H353V943H354.9M376.9 945.6H368.6V945.8H376.9M376.9 946.2H369V946.4H376.9M376.9 946H364.7V946.3H369M376.9 946.6H367.1V946.7H376.9M367.1 946.6H365.1V946.9H376.9M364.7 946.1H362.8V946.8H365.1M368.6 945.7H360.1V946.5H362.8M376.9 947.1H363V947.3H376.9M360.1 946.1H357.5V947.2H363M376.9 947.7H363.3V947.8H376.9M376.9 947.5H360.1V947.8H363.3M357.5 946.6H356.1V947.6H360.1M376.9 948H367.5V948.2H376.9M376.9 948.6H369.6V948.8H376.9M369.6 948.7H367V948.9H376.9M376.9 948.4H364.2V948.8H367M376.9 949.1H367.6V949.3H376.9M367.6 949.2H365.2V949.5H376.9M364.2 948.6H363.6V949.4H365.2M363.6 949H362.3V949.7H376.9M376.9 949.9H362.7V950.1H376.9M362.3 949.3H360.3V950H362.7M376.9 950.2H369.5V950.4H376.9M376.9 950.6H365.5V950.8H376.9M376.9 951H364.2V951.2H376.9M376.9 951.3H367V951.5H376.9M364.2 951.1H362.9V951.4H367M365.5 950.7H360.6V951.3H362.9M369.5 950.3H359V951H360.6M360.3 949.6H358.4V950.7H359M367.5 948.1H356.8V950.2H358.4M356.1 947.1H354.1V949.1H356.8M376.9 951.9H366.3V952.1H376.9M376.9 951.7H363.5V952H366.3M376.9 952.3H363.7V952.5H376.9M363.5 951.9H356.7V952.4H363.7M376.9 953H366.8V953.2H376.9M366.8 953.1H364.8V953.4H376.9M376.9 953.6H368V953.7H376.9M364.8 953.2H363.6V953.6H368M376.9 952.8H361.8V953.4H363.6M376.9 952.6H359.7V953.1H361.8M376.9 953.9H366.5V954.1H376.9M376.9 954.3H369.3V954.5H376.9M366.5 954H363.2V954.4H369.3M363.2 954.2H356.7V954.7H376.9M359.7 952.9H353.3V954.4H356.7M356.7 952.1H351.9V953.7H353.3M376.9 954.8H366V955H376.9M376.9 955.2H364.6V955.4H376.9M366 954.9H354.9V955.3H364.6M376.9 955.8H368.8V956H376.9M368.8 955.9H364.8V956.1H376.9M376.9 956.5H372.2V956.7H376.9M376.9 956.3H369.3V956.6H372.2M376.9 956.9H367.6V957.1H376.9M369.3 956.5H366.9V957H367.6M364.8 956H364V956.7H366.9M376.9 955.6H361.3V956.4H364M376.9 957.6H367.4V957.8H376.9M376.9 957.4H365.8V957.7H367.4M376.9 957.2H362.9V957.6H365.8M362.9 957.4H362.3V958H376.9M376.9 958.2H365.8V958.3H376.9M365.8 958.3H359.2V958.5H376.9M376.9 958.9H362.9V959.1H376.9M376.9 958.7H362.1V959H362.9M376.9 959.3H367V959.5H376.9M376.9 959.6H369.5V959.8H376.9M369.5 959.7H364V960H376.9M376.9 960.2H367.5V960.4H376.9M367.5 960.3H364.6V960.6H376.9M364 959.9H362.1V960.4H364.6M367 959.4H360.9V960.1H362.1M362.1 958.9H360.1V959.8H360.9M359.2 958.4H357.7V959.3H360.1M362.3 957.7H354.7V958.9H357.7M376.9 960.7H366.8V960.9H376.9M366.8 960.8H366V961.1H376.9M366 961H363.4V961.3H376.9M376.9 961.7H369.5V961.9H376.9M376.9 961.5H363.4V961.8H369.5M363.4 961.1H360.6V961.6H363.4M354.7 958.3H353.1V961.4H360.6M376.9 962H362.7V962.2H376.9M376.9 962.6H369V962.8H376.9M369 962.7H366.5V963H376.9M376.9 962.4H365.1V962.8H366.5M376.9 963.5H367.4V963.7H376.9M376.9 963.3H366.1V963.6H367.4M376.9 963.1H364.3V963.5H366.1M365.1 962.6H360.5V963.3H364.3M376.9 964.1H369.3V964.2H376.9M369.3 964.2H368V964.4H376.9M376.9 963.9H365.2V964.3H368M376.9 964.6H365.6V964.8H376.9M365.2 964.1H364.1V964.7H365.6M376.9 965H369.2V965.2H376.9M376.9 965.4H368.2V965.5H376.9M368.2 965.4H365.3V965.7H376.9M369.2 965.1H364.4V965.6H365.3M364.1 964.4H358V965.3H364.4M376.9 965.9H364.9V966.1H376.9M376.9 966.3H369.7V966.5H376.9M369.7 966.4H368.2V966.6H376.9M368.2 966.5H366V966.8H376.9M366 966.7H364.1V967H376.9M364.9 966H362.6V966.8H364.1M376.9 967.2H364.6V967.4H376.9M376.9 967.6H366.7V967.8H376.9M366.7 967.7H362.4V967.9H376.9M364.6 967.3H359.8V967.8H362.4M362.6 966.4H358.6V967.5H359.8M376.9 968.1H369.5V968.3H376.9M369.5 968.2H366.7V968.5H376.9M366.7 968.3H364.1V968.7H376.9M364.1 968.5H360.4V968.9H376.9M358.6 967H357.9V968.7H360.4M358 964.9H355.2V967.8H357.9M376.9 969H365V969.2H376.9M376.9 969.4H364.8V969.6H376.9M376.9 970H368.8V970.1H376.9M376.9 969.8H361.9V970.1H368.8M364.8 969.5H361.2V969.9H361.9M365 969.1H358.3V969.7H361.2M376.9 970.3H366.8V970.5H376.9M366.8 970.4H362.5V970.7H376.9M358.3 969.4H355.2V970.6H362.5M376.9 970.9H363V971.1H376.9M363 971H359V971.3H376.9M355.2 970H354V971.1H359M355.2 966.3H352.1V970.6H354M376.9 971.6H362.1V971.8H376.9M376.9 971.4H359.5V971.7H362.1M376.9 972.5H368V972.7H376.9M376.9 972.4H365.6V972.6H368M376.9 972.2H363.7V972.5H365.6M376.9 972H360.3V972.3H363.7M376.9 973.1H363.2V973.3H376.9M376.9 972.9H360V973.2H363.2M360.3 972.2H359V973.1H360M359.5 971.6H357.6V972.6H359M376.9 973.6H368.5V973.8H376.9M376.9 973.5H366.5V973.7H368.5M376.9 974H367.4V974.2H376.9M367.4 974.1H365.3V974.4H376.9M376.9 974.6H365.6V974.8H376.9M376.9 974.9H365.8V975.1H376.9M365.6 974.7H363.3V975H365.8M365.3 974.2H361.5V974.8H363.3M366.5 973.6H358.3V974.5H361.5M357.6 972.1H355.6V974.1H358.3M376.9 975.3H365.5V975.5H376.9M376.9 975.9H370.7V976H376.9M376.9 975.7H368.4V976H370.7M368.4 975.8H365.7V976.2H376.9M365.5 975.4H360.1V976H365.7M376.9 976.8H367V977H376.9M367 976.9H365.5V977.2H376.9M376.9 976.6H364V977H365.5M376.9 977.3H366.1V977.5H376.9M376.9 977.7H364.9V977.9H376.9M366.1 977.4H362.2V977.8H364.9M364 976.8H361.5V977.6H362.2M376.9 976.4H360.2V977.2H361.5M360.1 975.7H355.8V976.8H360.2M355.6 973.1H354.8V976.3H355.8M376.9 978.1H364.5V978.3H376.9M376.9 978.4H366.7V978.6H376.9M364.5 978.2H362.3V978.5H366.7M376.9 978.8H366.2V979H376.9M362.3 978.3H358.4V978.9H366.2M376.9 979.5H365.5V979.7H376.9M376.9 979.4H362.8V979.6H365.5M376.9 979.2H360.4V979.5H362.8M358.4 978.6H356.1V979.3H360.4M376.9 980.1H365V980.3H376.9M376.9 979.9H363.5V980.2H365M376.9 980.5H364.6V980.7H376.9M363.5 980.1H362.2V980.6H364.6M376.9 981.4H369.3V981.6H376.9M376.9 981.2H366.9V981.5H369.3M376.9 981H364V981.3H366.9M376.9 980.8H363.1V981.2H364M376.9 981.8H363.3V981.9H376.9M363.1 981H361.5V981.9H363.3M362.2 980.3H358.8V981.4H361.5M356.1 979H354.8V980.9H358.8M354.8 974.7H352V979.9H354.8M376.9 982.1H363.5V982.3H376.9M376.9 982.5H365.5V982.7H376.9M363.5 982.2H360.9V982.6H365.5M376.9 983.1H369.2V983.2H376.9M376.9 982.9H365.4V983.1H369.2M360.9 982.4H356.7V983H365.4M376.9 983.4H362.1V983.6H376.9M376.9 983.8H366.8V984H376.9M366.8 983.9H364V984.2H376.9M376.9 984.3H368.9V984.5H376.9M368.9 984.4H362.9V984.7H376.9M364 984H361.8V984.6H362.9M362.1 983.5H359.4V984.3H361.8M376.9 984.9H365.2V985.1H376.9M365.2 985H362.2V985.3H376.9M362.2 985.1H359.8V985.4H376.9M376.9 986H365.2V986.2H376.9M376.9 985.8H362.9V986.1H365.2M376.9 985.6H360.3V986H362.9M359.8 985.3H358.5V985.8H360.3M359.4 983.9H356.5V985.5H358.5M356.7 982.7H353.9V984.7H356.5M376.9 986.6H365.6V986.7H376.9M376.9 986.9H366.6V987.1H376.9M365.6 986.6H364.3V987H366.6M376.9 986.4H363.6V986.8H364.3M363.6 986.6H360.9V987.3H376.9M376.9 987.7H366.3V987.8H376.9M376.9 987.5H362.4V987.8H366.3M376.9 988H369.2V988.2H376.9M369.2 988.1H362.6V988.4H376.9M362.4 987.6H359.8V988.3H362.6M359.8 987.9H357.4V988.6H376.9M360.9 986.9H355.8V988.3H357.4M376.9 988.9H363.1V989.1H376.9M363.1 989H359.3V989.3H376.9M376.9 988.8H356.4V989.2H359.3M355.8 987.6H353.6V989H356.4M376.9 989.5H364.3V989.7H376.9M376.9 989.9H368.7V990.1H376.9M364.3 989.6H356.4V990H368.7M376.9 990.4H366.6V990.6H376.9M376.9 990.2H359.6V990.5H366.6M356.4 989.8H353.7V990.4H359.6"/><path fill="none" stroke="#333" stroke-width="0.9" shape-rendering="auto" d="M352.7 826.2H351.1V828.9H359.4M351.1 827.6H349.2V832.7H353.6M358.3 834.8H349.8V837H352.4M349.2 830.1H347.9V835.9H349.8M357.2 838.6H350.5V842.7H352.7M352.4 850.5H350.9V859.4H352.2M350.5 840.6H349V854.9H350.9M347.9 833H346.3V847.8H349M352.6 869.4H350.2V872.2H352.8M352.9 874.8H347.6V878.9H353.3M350.2 870.8H346V876.8H347.6M346.3 840.4H345.3V873.8H346M352.2 882.4H348.7V887.1H359.6M365.4 888.9H349.9V890.3H358.1M354.5 896.2H350.7V902.8H352.3M349.9 889.6H348.2V899.5H350.7M348.7 884.7H346.7V894.6H348.2M363.3 907.3H350.6V911.2H352.9M357.7 905.8H349.8V909.2H350.6M353.2 915.6H351.4V924.3H352.7M349.8 907.5H348.6V919.9H351.4M346.7 889.6H345.8V913.7H348.6M345.3 857.1H343.9V901.7H345.8M353.3 933.8H351V936H359.3M351 934.9H348.6V937.1H352.7M353 940.7H351.5V948.1H354.1M351.9 952.9H350.9V955.1H354.9M351.5 944.4H349.3V954H350.9M361.3 956H350.6V959.8H353.1M349.3 949.2H347.9V957.9H350.6M348.6 936H346.5V953.6H347.9M362.7 962.1H351.4V963H360.5M351.4 962.5H350.6V968.5H352.1M352 977.3H351.3V983.7H353.9M353.6 988.3H351.8V990.1H353.7M351.3 980.5H349.9V989.2H351.8M350.6 965.5H348.4V984.8H349.9M346.5 944.8H345.9V975.2H348.4M343.9 879.4H336.1V960H345.9"/><path fill="#000" d="M376.9 824.8L364.4 824.8L364.4 826.29L362.9 826.29L362.9 827.75L362.9 827.75L362.9 828.73L363.18 828.73L363.18 830.61L362.9 830.61L362.9 831.57L362.9 831.57L362.9 833.42L362.9 833.42L362.9 834.57L362.9 834.57L362.9 836.43L362.9 836.43L362.9 837.39L364.13 837.39L364.13 838.15L363.17 838.15L363.17 839.32L362.9 839.32L362.9 839.96L362.9 839.96L362.9 841.31L362.9 841.31L362.9 843.12L363.01 843.12L363.01 844.61L362.9 844.61L362.9 846.11L362.9 846.11L362.9 847.12L363.7 847.12L363.7 848.25L363.73 848.25L363.73 849.36L365.61 849.36L365.61 850.03L366.54 850.03L366.54 851.57L365.92 851.57L365.92 853.56L367.72 853.56L367.72 854.77L367.9 854.77L367.9 856.69L367.63 856.69L367.63 857.34L367.46 857.34L367.46 858.78L365.38 858.78L365.38 859.7L367.42 859.7L367.42 861.22L366.15 861.22L366.15 862.48L363.33 862.48L363.33 863.61L365.07 863.61L365.07 864.56L367.22 864.56L367.22 866.46L364.45 866.46L364.45 868.2L366.34 868.2L366.34 869.75L365.16 869.75L365.16 870.39L366.61 870.39L366.61 871.86L363.75 871.86L363.75 873.29L366.81 873.29L366.81 874.65L367.9 874.65L367.9 876.09L367.9 876.09L367.9 876.76L366.92 876.76L366.92 877.4L367.9 877.4L367.9 879.35L367.76 879.35L367.76 880.21L367.9 880.21L367.9 881.69L364.83 881.69L364.83 882.77L363.6 882.77L363.6 884.35L364.25 884.35L364.25 885.84L363.68 885.84L363.68 886.72L363.56 886.72L363.56 888.32L362.9 888.32L362.9 889.67L362.9 889.67L362.9 890.34L364.15 890.34L364.15 892.3L362.9 892.3L362.9 894.26L364.12 894.26L364.12 895.87L363.66 895.87L363.66 896.72L362.9 896.72L362.9 897.44L362.9 897.44L362.9 899.02L364.54 899.02L364.54 900.03L366.46 900.03L366.46 902.01L365 902.01L365 903.41L363.37 903.41L363.37 904.28L364.99 904.28L364.99 905.72L367.25 905.72L367.25 906.71L367.63 906.71L367.63 907.39L365.92 907.39L365.92 908.4L365.47 908.4L365.47 909.83L366.3 909.83L366.3 910.57L367.5 910.57L367.5 911.58L366.66 911.58L366.66 913.16L366.47 913.16L366.47 914.45L367.78 914.45L367.78 916.21L367.9 916.21L367.9 917.27L367.9 917.27L367.9 919.25L367.9 919.25L367.9 920.76L366.85 920.76L366.85 922.67L365.78 922.67L365.78 923.35L367.9 923.35L367.9 924.02L367.9 924.02L367.9 925.23L367.81 925.23L367.81 926.66L367.9 926.66L367.9 928.37L367.9 928.37L367.9 930.23L365.27 930.23L365.27 931.49L364.82 931.49L364.82 932.37L366.68 932.37L366.68 933.2L366.36 933.2L366.36 934.71L367.9 934.71L367.9 935.93L365.44 935.93L365.44 936.91L364.1 936.91L364.1 937.74L362.9 937.74L362.9 939.21L362.9 939.21L362.9 940.05L362.9 940.05L362.9 941.08L362.9 941.08L362.9 942.29L362.9 942.29L362.9 944.07L362.9 944.07L362.9 945.13L365.32 945.13L365.32 946.83L363.64 946.83L363.64 947.97L362.9 947.97L362.9 949.85L362.9 949.85L362.9 951.72L364.65 951.72L364.65 953.08L362.9 953.08L362.9 954.13L364.08 954.13L364.08 955.1L362.9 955.1L362.9 956.08L362.9 956.08L362.9 957.85L364.21 957.85L364.21 959.28L366.76 959.28L366.76 960.26L367.9 960.26L367.9 961.35L367.34 961.35L367.34 962.46L367.24 962.46L367.24 964.43L367.02 964.43L367.02 965.55L366.99 965.55L366.99 966.72L364.91 966.72L364.91 968.32L362.9 968.32L362.9 969.31L362.9 969.31L362.9 971.18L362.9 971.18L362.9 972.24L362.9 972.24L362.9 972.89L362.9 972.89L362.9 973.96L362.9 973.96L362.9 974.77L362.9 974.77L362.9 976.52L362.9 976.52L362.9 978.13L364.16 978.13L364.16 979.97L364.54 979.97L364.54 981.24L365.3 981.24L365.3 982.6L365.67 982.6L365.67 984.38L362.9 984.38L362.9 985.98L362.9 985.98L362.9 986.73L362.9 986.73L362.9 987.67L365.28 987.67L365.28 988.5L366.47 988.5L366.47 990.4L367.9 990.4L367.9 990.7L376.9 990.7z"/><rect x="594.2" y="825.1" width="7" height="14.59" fill="#c62227"/><rect x="594.2" y="839.64" width="7" height="14.59" fill="#d65c5e"/><rect x="594.2" y="854.17" width="7" height="14.59" fill="#e59a9c"/><rect x="594.2" y="868.71" width="7" height="14.59" fill="#f5d8da"/><rect x="594.2" y="883.25" width="7" height="14.59" fill="#e1e4f3"/><rect x="594.2" y="897.79" width="7" height="14.59" fill="#a6b5e0"/><rect x="594.2" y="912.33" width="7" height="14.59" fill="#6e88cc"/><rect x="594.2" y="926.86" width="7" height="14.59" fill="#3b5fb2"/><text x="604.7" y="846.1" font-size="7.1" fill="#222">2</text><text x="604.7" y="865.8" font-size="7.1" fill="#222">1</text><text x="604.7" y="886.1" font-size="7.1" fill="#222">0</text><text x="604.7" y="905.8" font-size="7.1" fill="#222">-1</text><text x="604.7" y="926.1" font-size="7.1" fill="#222">-2</text><text x="616.1" y="830.6" font-size="7.7" font-weight="bold" fill="#222">ecotype</text><rect x="616.1" y="833.6" width="10.9" height="11.2" fill="#f5a11e"/><rect x="616.1" y="844.8" width="10.9" height="11.1" fill="#add8e6"/><text x="629.2" y="841.65" font-size="7.65" fill="#222">marine</text><text x="629.2" y="852.8" font-size="7.65" fill="#222">freshwater</text></g><path fill="none" stroke="#6a6a6a" stroke-width="1.35" shape-rendering="auto" d="M41.3 602.61H27.2V611.75H41.3M41.3 630.04H30.2V639.18H41.3M41.3 620.89H26.3V634.61H30.2M27.2 607.18H22.7V627.75H26.3M41.3 593.46H19.1V617.47H22.7M41.3 584.32H14.2V605.46H19.1M41.3 575.17H11.3V594.89H14.2M41.3 648.33H28.4V657.47H41.3M41.3 675.76H23.5V684.91H41.3M41.3 666.62H22.5V680.33H23.5M28.4 652.9H18.2V673.48H22.5M41.3 703.19H30.2V712.34H41.3M41.3 721.48H27.8V730.63H41.3M30.2 707.77H22.7V726.06H27.8M41.3 694.05H17.2V716.91H22.7M18.2 663.19H10.7V705.48H17.2M11.3 585.03H0.9V684.33H10.7"/><path fill="none" stroke="#6a6a6a" stroke-width="1.35" shape-rendering="auto" d="M376.9 581.53H368.9V585.98H376.9M376.9 577.08H365.9V583.75H368.9M376.9 590.43H367.9V594.88H376.9M376.9 599.33H368.9V603.79H376.9M367.9 592.66H363.9V601.56H368.9M365.9 580.42H359.9V597.11H363.9M376.9 608.24H369.9V612.69H376.9M376.9 617.14H370.9V621.59H376.9M369.9 610.46H364.9V619.36H370.9M376.9 626.04H368.9V630.49H376.9M376.9 634.94H369.9V639.4H376.9M368.9 628.27H363.9V637.17H369.9M364.9 614.91H357.9V632.72H363.9M376.9 643.85H370.9V648.3H376.9M376.9 652.75H367.9V657.2H376.9M370.9 646.07H362.9V654.98H367.9M376.9 661.65H368.9V666.1H376.9M368.9 663.88H364.9V670.56H376.9M362.9 650.52H358.9V667.22H364.9M357.9 623.82H352.9V658.87H358.9M359.9 588.76H351.9V641.34H352.9M376.9 572.63H348.9V615.05H351.9M376.9 675.01H365.9V679.46H376.9M376.9 683.91H367.9V688.36H376.9M365.9 677.23H361.9V686.14H367.9M376.9 692.81H369.9V697.26H376.9M376.9 701.71H368.9V706.17H376.9M369.9 695.04H364.9V703.94H368.9M376.9 710.62H367.9V715.07H376.9M367.9 712.84H363.9V719.52H376.9M364.9 699.49H357.9V716.18H363.9M361.9 681.68H353.9V707.84H357.9M376.9 723.97H366.9V728.42H376.9M366.9 726.2H361.9V732.87H376.9M353.9 694.76H348.9V729.54H361.9M348.9 593.84H336.1V712.15H348.9"/></svg></body></html>
